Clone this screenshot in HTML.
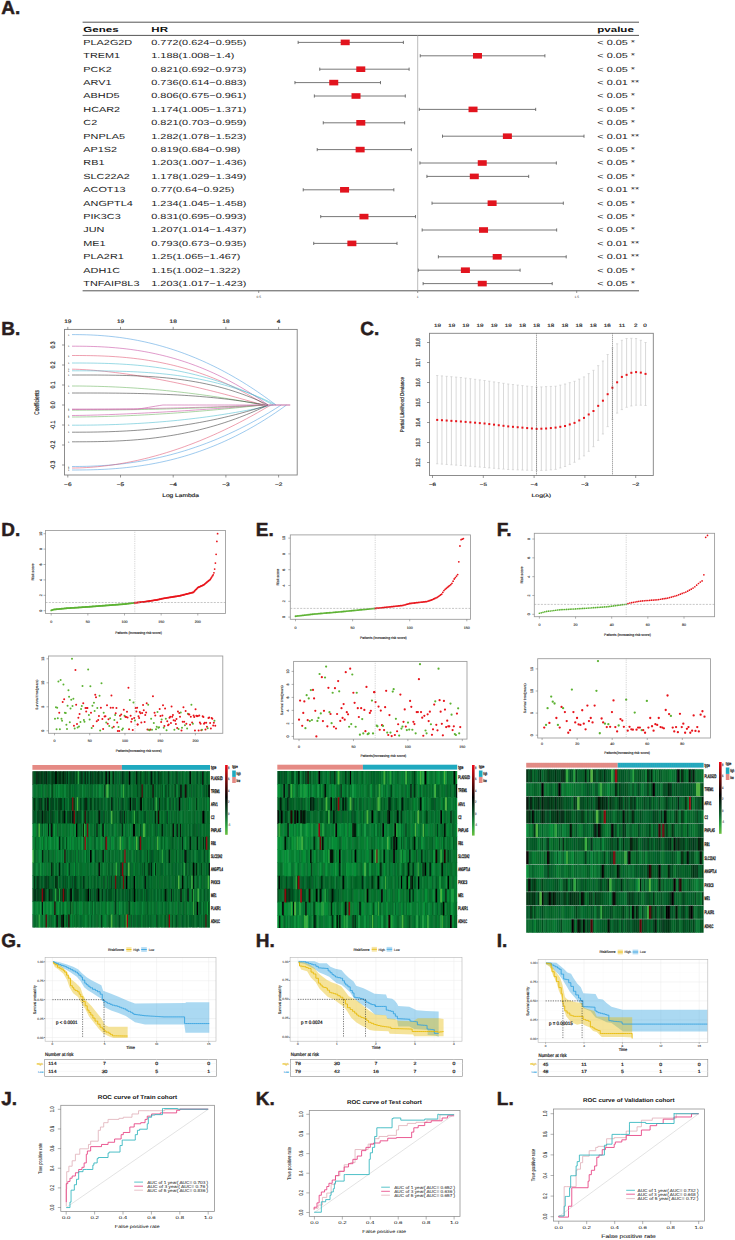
<!DOCTYPE html>
<html><head><meta charset="utf-8"><title>Figure</title>
<style>html,body{margin:0;padding:0;background:#fff;width:735px;height:1240px;overflow:hidden}
svg{display:block;font-family:"Liberation Sans",sans-serif;text-rendering:geometricPrecision}</style></head>
<body><svg width="735" height="1240" viewBox="0 0 735 1240">
<rect x="0" y="0" width="735" height="1240" fill="#fff"/>
<text transform="translate(1.3,13.6)" font-size="19" font-weight="bold" fill="#2a1d1d" stroke="#2a1d1d" stroke-width="0.45">A.</text>
<line x1="82.6" y1="22.2" x2="639" y2="22.2" stroke="#555" stroke-width="1" />
<line x1="82.6" y1="35.4" x2="639" y2="35.4" stroke="#555" stroke-width="1" />
<line x1="82.6" y1="290.8" x2="639" y2="290.8" stroke="#555" stroke-width="1" />
<line x1="417.7" y1="35.4" x2="417.7" y2="290.8" stroke="#aaa" stroke-width="0.8" />
<text transform="translate(83.3,31.9) scale(1.56,1)" font-size="7.4" font-weight="bold" fill="#111" >Genes</text>
<text transform="translate(151.3,31.9) scale(1.56,1)" font-size="7.4" font-weight="bold" fill="#111" >HR</text>
<text transform="translate(597.3,31.9) scale(1.56,1)" font-size="7.4" font-weight="bold" fill="#111" >pvalue</text>
<text transform="translate(83.3,44.85) scale(1.47,1)" font-size="7.4" fill="#222" >PLA2G2D</text>
<text transform="translate(151.3,44.85) scale(1.47,1)" font-size="7.4" fill="#222" >0.772(0.624−0.955)</text>
<text transform="translate(597.3,44.85) scale(1.47,1)" font-size="7.4" fill="#222" >&lt; 0.05 *</text>
<line x1="298.13" y1="42.4" x2="403.39" y2="42.4" stroke="#555" stroke-width="0.8" />
<line x1="298.13" y1="40.8" x2="298.13" y2="44" stroke="#555" stroke-width="0.8" />
<line x1="403.39" y1="40.8" x2="403.39" y2="44" stroke="#555" stroke-width="0.8" />
<rect x="340.7" y="39.6" width="9" height="5.6" fill="#e2141e" stroke="none" stroke-width="1" />
<text transform="translate(83.3,58.25) scale(1.47,1)" font-size="7.4" fill="#222" >TREM1</text>
<text transform="translate(151.3,58.25) scale(1.47,1)" font-size="7.4" fill="#222" >1.188(1.008−1.4)</text>
<text transform="translate(597.3,58.25) scale(1.47,1)" font-size="7.4" fill="#222" >&lt; 0.05 *</text>
<line x1="420.24" y1="55.8" x2="544.9" y2="55.8" stroke="#555" stroke-width="0.8" />
<line x1="420.24" y1="54.2" x2="420.24" y2="57.4" stroke="#555" stroke-width="0.8" />
<line x1="544.9" y1="54.2" x2="544.9" y2="57.4" stroke="#555" stroke-width="0.8" />
<rect x="472.98" y="53" width="9" height="5.6" fill="#e2141e" stroke="none" stroke-width="1" />
<text transform="translate(83.3,71.65) scale(1.47,1)" font-size="7.4" fill="#222" >PCK2</text>
<text transform="translate(151.3,71.65) scale(1.47,1)" font-size="7.4" fill="#222" >0.821(0.692−0.973)</text>
<text transform="translate(597.3,71.65) scale(1.47,1)" font-size="7.4" fill="#222" >&lt; 0.05 *</text>
<line x1="319.76" y1="69.2" x2="409.11" y2="69.2" stroke="#555" stroke-width="0.8" />
<line x1="319.76" y1="67.6" x2="319.76" y2="70.8" stroke="#555" stroke-width="0.8" />
<line x1="409.11" y1="67.6" x2="409.11" y2="70.8" stroke="#555" stroke-width="0.8" />
<rect x="356.28" y="66.4" width="9" height="5.6" fill="#e2141e" stroke="none" stroke-width="1" />
<text transform="translate(83.3,85.05) scale(1.47,1)" font-size="7.4" fill="#222" >ARV1</text>
<text transform="translate(151.3,85.05) scale(1.47,1)" font-size="7.4" fill="#222" >0.736(0.614−0.883)</text>
<text transform="translate(597.3,85.05) scale(1.47,1)" font-size="7.4" fill="#222" >&lt; 0.01 **</text>
<line x1="294.95" y1="82.6" x2="380.49" y2="82.6" stroke="#555" stroke-width="0.8" />
<line x1="294.95" y1="81" x2="294.95" y2="84.2" stroke="#555" stroke-width="0.8" />
<line x1="380.49" y1="81" x2="380.49" y2="84.2" stroke="#555" stroke-width="0.8" />
<rect x="329.25" y="79.8" width="9" height="5.6" fill="#e2141e" stroke="none" stroke-width="1" />
<text transform="translate(83.3,98.45) scale(1.47,1)" font-size="7.4" fill="#222" >ABHD5</text>
<text transform="translate(151.3,98.45) scale(1.47,1)" font-size="7.4" fill="#222" >0.806(0.675−0.961)</text>
<text transform="translate(597.3,98.45) scale(1.47,1)" font-size="7.4" fill="#222" >&lt; 0.05 *</text>
<line x1="314.35" y1="96" x2="405.3" y2="96" stroke="#555" stroke-width="0.8" />
<line x1="314.35" y1="94.4" x2="314.35" y2="97.6" stroke="#555" stroke-width="0.8" />
<line x1="405.3" y1="94.4" x2="405.3" y2="97.6" stroke="#555" stroke-width="0.8" />
<rect x="351.51" y="93.2" width="9" height="5.6" fill="#e2141e" stroke="none" stroke-width="1" />
<text transform="translate(83.3,111.85) scale(1.47,1)" font-size="7.4" fill="#222" >HCAR2</text>
<text transform="translate(151.3,111.85) scale(1.47,1)" font-size="7.4" fill="#222" >1.174(1.005−1.371)</text>
<text transform="translate(597.3,111.85) scale(1.47,1)" font-size="7.4" fill="#222" >&lt; 0.05 *</text>
<line x1="419.29" y1="109.4" x2="535.68" y2="109.4" stroke="#555" stroke-width="0.8" />
<line x1="419.29" y1="107.8" x2="419.29" y2="111" stroke="#555" stroke-width="0.8" />
<line x1="535.68" y1="107.8" x2="535.68" y2="111" stroke="#555" stroke-width="0.8" />
<rect x="468.53" y="106.6" width="9" height="5.6" fill="#e2141e" stroke="none" stroke-width="1" />
<text transform="translate(83.3,125.25) scale(1.47,1)" font-size="7.4" fill="#222" >C2</text>
<text transform="translate(151.3,125.25) scale(1.47,1)" font-size="7.4" fill="#222" >0.821(0.703−0.959)</text>
<text transform="translate(597.3,125.25) scale(1.47,1)" font-size="7.4" fill="#222" >&lt; 0.05 *</text>
<line x1="323.25" y1="122.8" x2="404.66" y2="122.8" stroke="#555" stroke-width="0.8" />
<line x1="323.25" y1="121.2" x2="323.25" y2="124.4" stroke="#555" stroke-width="0.8" />
<line x1="404.66" y1="121.2" x2="404.66" y2="124.4" stroke="#555" stroke-width="0.8" />
<rect x="356.28" y="120" width="9" height="5.6" fill="#e2141e" stroke="none" stroke-width="1" />
<text transform="translate(83.3,138.65) scale(1.47,1)" font-size="7.4" fill="#222" >PNPLA5</text>
<text transform="translate(151.3,138.65) scale(1.47,1)" font-size="7.4" fill="#222" >1.282(1.078−1.523)</text>
<text transform="translate(597.3,138.65) scale(1.47,1)" font-size="7.4" fill="#222" >&lt; 0.01 **</text>
<line x1="442.5" y1="136.2" x2="584.01" y2="136.2" stroke="#555" stroke-width="0.8" />
<line x1="442.5" y1="134.6" x2="442.5" y2="137.8" stroke="#555" stroke-width="0.8" />
<line x1="584.01" y1="134.6" x2="584.01" y2="137.8" stroke="#555" stroke-width="0.8" />
<rect x="502.88" y="133.4" width="9" height="5.6" fill="#e2141e" stroke="none" stroke-width="1" />
<text transform="translate(83.3,152.05) scale(1.47,1)" font-size="7.4" fill="#222" >AP1S2</text>
<text transform="translate(151.3,152.05) scale(1.47,1)" font-size="7.4" fill="#222" >0.819(0.684−0.98)</text>
<text transform="translate(597.3,152.05) scale(1.47,1)" font-size="7.4" fill="#222" >&lt; 0.05 *</text>
<line x1="317.21" y1="149.6" x2="411.34" y2="149.6" stroke="#555" stroke-width="0.8" />
<line x1="317.21" y1="148" x2="317.21" y2="151.2" stroke="#555" stroke-width="0.8" />
<line x1="411.34" y1="148" x2="411.34" y2="151.2" stroke="#555" stroke-width="0.8" />
<rect x="355.64" y="146.8" width="9" height="5.6" fill="#e2141e" stroke="none" stroke-width="1" />
<text transform="translate(83.3,165.45) scale(1.47,1)" font-size="7.4" fill="#222" >RB1</text>
<text transform="translate(151.3,165.45) scale(1.47,1)" font-size="7.4" fill="#222" >1.203(1.007−1.436)</text>
<text transform="translate(597.3,165.45) scale(1.47,1)" font-size="7.4" fill="#222" >&lt; 0.05 *</text>
<line x1="419.93" y1="163" x2="556.35" y2="163" stroke="#555" stroke-width="0.8" />
<line x1="419.93" y1="161.4" x2="419.93" y2="164.6" stroke="#555" stroke-width="0.8" />
<line x1="556.35" y1="161.4" x2="556.35" y2="164.6" stroke="#555" stroke-width="0.8" />
<rect x="477.75" y="160.2" width="9" height="5.6" fill="#e2141e" stroke="none" stroke-width="1" />
<text transform="translate(83.3,178.85) scale(1.47,1)" font-size="7.4" fill="#222" >SLC22A2</text>
<text transform="translate(151.3,178.85) scale(1.47,1)" font-size="7.4" fill="#222" >1.178(1.029−1.349)</text>
<text transform="translate(597.3,178.85) scale(1.47,1)" font-size="7.4" fill="#222" >&lt; 0.05 *</text>
<line x1="426.92" y1="176.4" x2="528.68" y2="176.4" stroke="#555" stroke-width="0.8" />
<line x1="426.92" y1="174.8" x2="426.92" y2="178" stroke="#555" stroke-width="0.8" />
<line x1="528.68" y1="174.8" x2="528.68" y2="178" stroke="#555" stroke-width="0.8" />
<rect x="469.8" y="173.6" width="9" height="5.6" fill="#e2141e" stroke="none" stroke-width="1" />
<text transform="translate(83.3,192.25) scale(1.47,1)" font-size="7.4" fill="#222" >ACOT13</text>
<text transform="translate(151.3,192.25) scale(1.47,1)" font-size="7.4" fill="#222" >0.77(0.64−0.925)</text>
<text transform="translate(597.3,192.25) scale(1.47,1)" font-size="7.4" fill="#222" >&lt; 0.01 **</text>
<line x1="303.22" y1="189.8" x2="393.85" y2="189.8" stroke="#555" stroke-width="0.8" />
<line x1="303.22" y1="188.2" x2="303.22" y2="191.4" stroke="#555" stroke-width="0.8" />
<line x1="393.85" y1="188.2" x2="393.85" y2="191.4" stroke="#555" stroke-width="0.8" />
<rect x="340.06" y="187" width="9" height="5.6" fill="#e2141e" stroke="none" stroke-width="1" />
<text transform="translate(83.3,205.65) scale(1.47,1)" font-size="7.4" fill="#222" >ANGPTL4</text>
<text transform="translate(151.3,205.65) scale(1.47,1)" font-size="7.4" fill="#222" >1.234(1.045−1.458)</text>
<text transform="translate(597.3,205.65) scale(1.47,1)" font-size="7.4" fill="#222" >&lt; 0.05 *</text>
<line x1="432.01" y1="203.2" x2="563.34" y2="203.2" stroke="#555" stroke-width="0.8" />
<line x1="432.01" y1="201.6" x2="432.01" y2="204.8" stroke="#555" stroke-width="0.8" />
<line x1="563.34" y1="201.6" x2="563.34" y2="204.8" stroke="#555" stroke-width="0.8" />
<rect x="487.61" y="200.4" width="9" height="5.6" fill="#e2141e" stroke="none" stroke-width="1" />
<text transform="translate(83.3,219.05) scale(1.47,1)" font-size="7.4" fill="#222" >PIK3C3</text>
<text transform="translate(151.3,219.05) scale(1.47,1)" font-size="7.4" fill="#222" >0.831(0.695−0.993)</text>
<text transform="translate(597.3,219.05) scale(1.47,1)" font-size="7.4" fill="#222" >&lt; 0.05 *</text>
<line x1="320.71" y1="216.6" x2="415.47" y2="216.6" stroke="#555" stroke-width="0.8" />
<line x1="320.71" y1="215" x2="320.71" y2="218.2" stroke="#555" stroke-width="0.8" />
<line x1="415.47" y1="215" x2="415.47" y2="218.2" stroke="#555" stroke-width="0.8" />
<rect x="359.46" y="213.8" width="9" height="5.6" fill="#e2141e" stroke="none" stroke-width="1" />
<text transform="translate(83.3,232.45) scale(1.47,1)" font-size="7.4" fill="#222" >JUN</text>
<text transform="translate(151.3,232.45) scale(1.47,1)" font-size="7.4" fill="#222" >1.207(1.014−1.437)</text>
<text transform="translate(597.3,232.45) scale(1.47,1)" font-size="7.4" fill="#222" >&lt; 0.05 *</text>
<line x1="422.15" y1="230" x2="556.67" y2="230" stroke="#555" stroke-width="0.8" />
<line x1="422.15" y1="228.4" x2="422.15" y2="231.6" stroke="#555" stroke-width="0.8" />
<line x1="556.67" y1="228.4" x2="556.67" y2="231.6" stroke="#555" stroke-width="0.8" />
<rect x="479.03" y="227.2" width="9" height="5.6" fill="#e2141e" stroke="none" stroke-width="1" />
<text transform="translate(83.3,245.85) scale(1.47,1)" font-size="7.4" fill="#222" >ME1</text>
<text transform="translate(151.3,245.85) scale(1.47,1)" font-size="7.4" fill="#222" >0.793(0.673−0.935)</text>
<text transform="translate(597.3,245.85) scale(1.47,1)" font-size="7.4" fill="#222" >&lt; 0.01 **</text>
<line x1="313.71" y1="243.4" x2="397.03" y2="243.4" stroke="#555" stroke-width="0.8" />
<line x1="313.71" y1="241.8" x2="313.71" y2="245" stroke="#555" stroke-width="0.8" />
<line x1="397.03" y1="241.8" x2="397.03" y2="245" stroke="#555" stroke-width="0.8" />
<rect x="347.37" y="240.6" width="9" height="5.6" fill="#e2141e" stroke="none" stroke-width="1" />
<text transform="translate(83.3,259.25) scale(1.47,1)" font-size="7.4" fill="#222" >PLA2R1</text>
<text transform="translate(151.3,259.25) scale(1.47,1)" font-size="7.4" fill="#222" >1.25(1.065−1.467)</text>
<text transform="translate(597.3,259.25) scale(1.47,1)" font-size="7.4" fill="#222" >&lt; 0.01 **</text>
<line x1="438.37" y1="256.8" x2="566.21" y2="256.8" stroke="#555" stroke-width="0.8" />
<line x1="438.37" y1="255.2" x2="438.37" y2="258.4" stroke="#555" stroke-width="0.8" />
<line x1="566.21" y1="255.2" x2="566.21" y2="258.4" stroke="#555" stroke-width="0.8" />
<rect x="492.7" y="254" width="9" height="5.6" fill="#e2141e" stroke="none" stroke-width="1" />
<text transform="translate(83.3,272.65) scale(1.47,1)" font-size="7.4" fill="#222" >ADH1C</text>
<text transform="translate(151.3,272.65) scale(1.47,1)" font-size="7.4" fill="#222" >1.15(1.002−1.322)</text>
<text transform="translate(597.3,272.65) scale(1.47,1)" font-size="7.4" fill="#222" >&lt; 0.05 *</text>
<line x1="418.34" y1="270.2" x2="520.1" y2="270.2" stroke="#555" stroke-width="0.8" />
<line x1="418.34" y1="268.6" x2="418.34" y2="271.8" stroke="#555" stroke-width="0.8" />
<line x1="520.1" y1="268.6" x2="520.1" y2="271.8" stroke="#555" stroke-width="0.8" />
<rect x="460.9" y="267.4" width="9" height="5.6" fill="#e2141e" stroke="none" stroke-width="1" />
<text transform="translate(83.3,286.05) scale(1.47,1)" font-size="7.4" fill="#222" >TNFAIP8L3</text>
<text transform="translate(151.3,286.05) scale(1.47,1)" font-size="7.4" fill="#222" >1.203(1.017−1.423)</text>
<text transform="translate(597.3,286.05) scale(1.47,1)" font-size="7.4" fill="#222" >&lt; 0.05 *</text>
<line x1="423.11" y1="283.6" x2="552.21" y2="283.6" stroke="#555" stroke-width="0.8" />
<line x1="423.11" y1="282" x2="423.11" y2="285.2" stroke="#555" stroke-width="0.8" />
<line x1="552.21" y1="282" x2="552.21" y2="285.2" stroke="#555" stroke-width="0.8" />
<rect x="477.75" y="280.8" width="9" height="5.6" fill="#e2141e" stroke="none" stroke-width="1" />
<line x1="258.7" y1="290.8" x2="258.7" y2="293" stroke="#555" stroke-width="0.6" />
<text transform="translate(258.7,298)" font-size="3.2" text-anchor="middle" fill="#444" >0.5</text>
<line x1="417.7" y1="290.8" x2="417.7" y2="293" stroke="#555" stroke-width="0.6" />
<text transform="translate(417.7,298)" font-size="3.2" text-anchor="middle" fill="#444" >1</text>
<line x1="576.7" y1="290.8" x2="576.7" y2="293" stroke="#555" stroke-width="0.6" />
<text transform="translate(576.7,298)" font-size="3.2" text-anchor="middle" fill="#444" >1.5</text>
<text transform="translate(1.3,334.5)" font-size="19" font-weight="bold" fill="#2a1d1d" stroke="#2a1d1d" stroke-width="0.45">B.</text>
<polyline points="72.02,334.6 75.65,334.61 79.29,334.65 82.92,334.71 86.56,334.81 90.2,334.94 93.83,335.12 97.47,335.32 101.11,335.57 104.74,335.86 108.38,336.19 112.02,336.55 115.65,336.97 119.29,337.42 122.92,337.92 126.56,338.47 130.2,339.06 133.83,339.69 137.47,340.38 141.11,341.11 144.74,341.88 148.38,342.71 152.01,343.58 155.65,344.51 159.29,345.48 162.92,346.5 166.56,347.57 170.2,348.7 173.83,349.87 177.47,351.09 181.11,352.37 184.74,353.7 188.38,355.08 192.01,356.52 195.65,358.01 199.29,359.55 202.92,361.14 206.56,362.79 210.2,364.5 213.83,366.25 217.47,368.07 221.1,369.93 224.74,371.86 228.38,373.84 232.01,375.87 235.65,377.97 239.29,380.11 242.92,382.32 246.56,384.58 250.19,386.9 253.83,389.28 257.47,391.71 261.1,394.21 264.74,396.76 268.38,399.37 272.01,402.03 275.65,404.76 275.97,405" fill="none" stroke="#4d9de0" stroke-width="0.55" />
<polyline points="72.02,346.2 75.65,346.2 79.29,346.22 82.92,346.26 86.56,346.31 90.2,346.4 93.83,346.5 97.47,346.64 101.11,346.8 104.74,347 108.38,347.23 112.02,347.5 115.65,347.8 119.29,348.14 122.92,348.51 126.56,348.93 130.2,349.39 133.83,349.88 137.47,350.43 141.11,351.01 144.74,351.64 148.38,352.32 152.01,353.04 155.65,353.81 159.29,354.63 162.92,355.5 166.56,356.42 170.2,357.38 173.83,358.4 177.47,359.48 181.11,360.6 184.74,361.78 188.38,363.01 192.01,364.3 195.65,365.65 199.29,367.05 202.92,368.51 206.56,370.02 210.2,371.6 213.83,373.23 217.47,374.92 221.1,376.68 224.74,378.49 228.38,380.37 232.01,382.31 235.65,384.31 239.29,386.37 242.92,388.5 246.56,390.69 250.19,392.95 253.83,395.27 257.47,397.66 261.1,400.12 264.74,402.64 268.06,405" fill="none" stroke="#c7479f" stroke-width="0.55" />
<polyline points="72.02,355.5 75.65,355.5 79.29,355.51 82.92,355.54 86.56,355.58 90.2,355.63 93.83,355.71 97.47,355.81 101.11,355.93 104.74,356.08 108.38,356.26 112.02,356.46 115.65,356.7 119.29,356.96 122.92,357.26 126.56,357.59 130.2,357.96 133.83,358.36 137.47,358.8 141.11,359.28 144.74,359.79 148.38,360.35 152.01,360.95 155.65,361.59 159.29,362.27 162.92,363 166.56,363.77 170.2,364.59 173.83,365.45 177.47,366.37 181.11,367.33 184.74,368.34 188.38,369.4 192.01,370.51 195.65,371.67 199.29,372.89 202.92,374.16 206.56,375.48 210.2,376.86 213.83,378.29 217.47,379.78 221.1,381.32 224.74,382.93 228.38,384.59 232.01,386.31 235.65,388.09 239.29,389.93 242.92,391.83 246.56,393.8 250.19,395.82 253.83,397.91 257.47,400.06 261.1,402.28 264.74,404.56 265.43,405" fill="none" stroke="#e0506e" stroke-width="0.55" />
<polyline points="72.02,363 75.65,363 79.29,363.01 82.92,363.02 86.56,363.05 90.2,363.08 93.83,363.13 97.47,363.19 101.11,363.27 104.74,363.37 108.38,363.49 112.02,363.63 115.65,363.79 119.29,363.97 122.92,364.18 126.56,364.41 130.2,364.67 133.83,364.95 137.47,365.26 141.11,365.6 144.74,365.98 148.38,366.38 152.01,366.81 155.65,367.28 159.29,367.78 162.92,368.32 166.56,368.89 170.2,369.49 173.83,370.14 177.47,370.82 181.11,371.54 184.74,372.3 188.38,373.1 192.01,373.94 195.65,374.82 199.29,375.75 202.92,376.72 206.56,377.73 210.2,378.79 213.83,379.89 217.47,381.04 221.1,382.24 224.74,383.48 228.38,384.77 232.01,386.11 235.65,387.5 239.29,388.95 242.92,390.44 246.56,391.98 250.19,393.58 253.83,395.23 257.47,396.93 261.1,398.69 264.74,400.5 268.38,402.37 272.01,404.29 273.33,405" fill="none" stroke="#45bcd0" stroke-width="0.55" />
<polyline points="72.02,369.2 75.65,369.26 79.29,369.39 82.92,369.57 86.56,369.78 90.2,370.03 93.83,370.31 97.47,370.63 101.11,370.97 104.74,371.33 108.38,371.72 112.02,372.14 115.65,372.58 119.29,373.04 122.92,373.52 126.56,374.03 130.2,374.55 133.83,375.1 137.47,375.66 141.11,376.25 144.74,376.85 148.38,377.47 152.01,378.11 155.65,378.77 159.29,379.44 162.92,380.13 166.56,380.84 170.2,381.57 173.83,382.31 177.47,383.07 181.11,383.84 184.74,384.63 188.38,385.43 192.01,386.25 195.65,387.08 199.29,387.93 202.92,388.8 206.56,389.68 210.2,390.57 213.83,391.47 217.47,392.4 221.1,393.33 224.74,394.28 228.38,395.24 232.01,396.22 235.65,397.21 239.29,398.21 242.92,399.22 246.56,400.25 250.19,401.29 253.83,402.35 257.47,403.42 261.1,404.5 262.79,405" fill="none" stroke="#e0506e" stroke-width="0.55" />
<polyline points="72.02,370.8 75.65,370.8 79.29,370.8 82.92,370.81 86.56,370.81 90.2,370.82 93.83,370.84 97.47,370.87 101.11,370.9 104.74,370.94 108.38,370.99 112.02,371.06 115.65,371.13 119.29,371.23 122.92,371.33 126.56,371.45 130.2,371.59 133.83,371.75 137.47,371.93 141.11,372.13 144.74,372.35 148.38,372.6 152.01,372.86 155.65,373.16 159.29,373.48 162.92,373.83 166.56,374.21 170.2,374.62 173.83,375.06 177.47,375.53 181.11,376.03 184.74,376.57 188.38,377.15 192.01,377.77 195.65,378.42 199.29,379.11 202.92,379.84 206.56,380.62 210.2,381.44 213.83,382.3 217.47,383.21 221.1,384.16 224.74,385.16 228.38,386.21 232.01,387.31 235.65,388.46 239.29,389.67 242.92,390.92 246.56,392.24 250.19,393.6 253.83,395.03 257.47,396.51 261.1,398.06 264.74,399.66 268.38,401.32 272.01,403.05 275.65,404.84 275.97,405" fill="none" stroke="#45bcd0" stroke-width="0.55" />
<polyline points="72.02,375 75.65,375 79.29,375 82.92,375 86.56,375.01 90.2,375.01 93.83,375.03 97.47,375.04 101.11,375.07 104.74,375.1 108.38,375.14 112.02,375.19 115.65,375.24 119.29,375.32 122.92,375.4 126.56,375.5 130.2,375.62 133.83,375.75 137.47,375.9 141.11,376.07 144.74,376.26 148.38,376.47 152.01,376.7 155.65,376.96 159.29,377.25 162.92,377.57 166.56,377.91 170.2,378.28 173.83,378.69 177.47,379.12 181.11,379.6 184.74,380.11 188.38,380.65 192.01,381.24 195.65,381.86 199.29,382.53 202.92,383.24 206.56,383.99 210.2,384.8 213.83,385.64 217.47,386.54 221.1,387.49 224.74,388.49 228.38,389.55 232.01,390.66 235.65,391.83 239.29,393.05 242.92,394.34 246.56,395.69 250.19,397.1 253.83,398.57 257.47,400.11 261.1,401.72 264.74,403.4 268.06,405" fill="none" stroke="#333" stroke-width="0.55" />
<polyline points="72.02,386 75.65,386.01 79.29,386.03 82.92,386.06 86.56,386.11 90.2,386.17 93.83,386.25 97.47,386.34 101.11,386.44 104.74,386.56 108.38,386.69 112.02,386.84 115.65,386.99 119.29,387.17 122.92,387.35 126.56,387.55 130.2,387.77 133.83,387.99 137.47,388.24 141.11,388.49 144.74,388.76 148.38,389.04 152.01,389.34 155.65,389.65 159.29,389.98 162.92,390.31 166.56,390.67 170.2,391.03 173.83,391.41 177.47,391.81 181.11,392.21 184.74,392.63 188.38,393.07 192.01,393.52 195.65,393.98 199.29,394.46 202.92,394.95 206.56,395.45 210.2,395.97 213.83,396.5 217.47,397.04 221.1,397.6 224.74,398.18 228.38,398.76 232.01,399.36 235.65,399.98 239.29,400.61 242.92,401.25 246.56,401.9 250.19,402.57 253.83,403.26 257.47,403.95 261.1,404.67 262.79,405" fill="none" stroke="#66b25a" stroke-width="0.55" />
<polyline points="72.02,393 75.65,393 79.29,393 82.92,393 86.56,393.01 90.2,393.01 93.83,393.02 97.47,393.03 101.11,393.04 104.74,393.06 108.38,393.08 112.02,393.11 115.65,393.14 119.29,393.18 122.92,393.22 126.56,393.27 130.2,393.33 133.83,393.39 137.47,393.47 141.11,393.55 144.74,393.64 148.38,393.74 152.01,393.85 155.65,393.97 159.29,394.1 162.92,394.25 166.56,394.4 170.2,394.57 173.83,394.75 177.47,394.95 181.11,395.15 184.74,395.38 188.38,395.61 192.01,395.87 195.65,396.13 199.29,396.42 202.92,396.72 206.56,397.04 210.2,397.38 213.83,397.73 217.47,398.1 221.1,398.5 224.74,398.91 228.38,399.34 232.01,399.79 235.65,400.27 239.29,400.76 242.92,401.28 246.56,401.82 250.19,402.38 253.83,402.97 257.47,403.58 261.1,404.21 264.74,404.87 265.43,405" fill="none" stroke="#333" stroke-width="0.55" />
<polyline points="72.02,409.2 75.65,409.2 79.29,409.19 82.92,409.19 86.56,409.18 90.2,409.16 93.83,409.15 97.47,409.13 101.11,409.1 104.74,409.08 108.38,409.05 112.02,409.02 115.65,408.98 119.29,408.94 122.92,408.9 126.56,408.86 130.2,408.81 133.83,408.76 137.47,408.71 141.11,408.65 144.74,408.59 148.38,408.53 152.01,408.46 155.65,408.39 159.29,408.32 162.92,408.25 166.56,408.17 170.2,408.09 173.83,408 177.47,407.92 181.11,407.83 184.74,407.73 188.38,407.64 192.01,407.54 195.65,407.44 199.29,407.33 202.92,407.22 206.56,407.11 210.2,407 213.83,406.88 217.47,406.76 221.1,406.63 224.74,406.51 228.38,406.38 232.01,406.25 235.65,406.11 239.29,405.97 242.92,405.83 246.56,405.68 250.19,405.54 253.83,405.39 257.47,405.23 261.1,405.07 262.79,405" fill="none" stroke="#c7479f" stroke-width="0.55" />
<polyline points="72.02,410.2 75.65,410.2 79.29,410.19 82.92,410.18 86.56,410.17 90.2,410.15 93.83,410.13 97.47,410.11 101.11,410.08 104.74,410.05 108.38,410.02 112.02,409.98 115.65,409.94 119.29,409.89 122.92,409.84 126.56,409.79 130.2,409.73 133.83,409.67 137.47,409.6 141.11,409.54 144.74,409.46 148.38,409.39 152.01,409.31 155.65,409.23 159.29,409.14 162.92,409.05 166.56,408.96 170.2,408.86 173.83,408.76 177.47,408.65 181.11,408.55 184.74,408.43 188.38,408.32 192.01,408.2 195.65,408.08 199.29,407.95 202.92,407.82 206.56,407.68 210.2,407.55 213.83,407.4 217.47,407.26 221.1,407.11 224.74,406.96 228.38,406.8 232.01,406.64 235.65,406.48 239.29,406.31 242.92,406.14 246.56,405.97 250.19,405.79 253.83,405.6 257.47,405.42 261.1,405.23 264.74,405.04 265.43,405" fill="none" stroke="#66b25a" stroke-width="0.55" />
<polyline points="72.02,415.5 75.65,415.47 79.29,415.42 82.92,415.36 86.56,415.28 90.2,415.19 93.83,415.09 97.47,414.99 101.11,414.87 104.74,414.75 108.38,414.63 112.02,414.49 115.65,414.35 119.29,414.2 122.92,414.05 126.56,413.89 130.2,413.73 133.83,413.56 137.47,413.39 141.11,413.21 144.74,413.03 148.38,412.84 152.01,412.65 155.65,412.45 159.29,412.25 162.92,412.05 166.56,411.84 170.2,411.62 173.83,411.41 177.47,411.18 181.11,410.96 184.74,410.73 188.38,410.5 192.01,410.26 195.65,410.02 199.29,409.78 202.92,409.53 206.56,409.28 210.2,409.03 213.83,408.77 217.47,408.51 221.1,408.25 224.74,407.98 228.38,407.71 232.01,407.44 235.65,407.16 239.29,406.88 242.92,406.6 246.56,406.31 250.19,406.02 253.83,405.73 257.47,405.44 261.1,405.14 262.79,405" fill="none" stroke="#c7479f" stroke-width="0.55" />
<polyline points="72.02,417 75.65,416.99 79.29,416.97 82.92,416.93 86.56,416.88 90.2,416.83 93.83,416.76 97.47,416.68 101.11,416.59 104.74,416.5 108.38,416.39 112.02,416.28 115.65,416.16 119.29,416.03 122.92,415.89 126.56,415.74 130.2,415.58 133.83,415.42 137.47,415.25 141.11,415.07 144.74,414.89 148.38,414.69 152.01,414.49 155.65,414.28 159.29,414.06 162.92,413.84 166.56,413.61 170.2,413.37 173.83,413.12 177.47,412.87 181.11,412.61 184.74,412.35 188.38,412.07 192.01,411.79 195.65,411.5 199.29,411.21 202.92,410.91 206.56,410.6 210.2,410.29 213.83,409.96 217.47,409.64 221.1,409.3 224.74,408.96 228.38,408.61 232.01,408.26 235.65,407.9 239.29,407.53 242.92,407.16 246.56,406.77 250.19,406.39 253.83,406 257.47,405.6 261.1,405.19 262.79,405" fill="none" stroke="#66b25a" stroke-width="0.55" />
<polyline points="72.02,425.2 75.65,425.2 79.29,425.19 82.92,425.17 86.56,425.14 90.2,425.1 93.83,425.05 97.47,424.99 101.11,424.91 104.74,424.83 108.38,424.73 112.02,424.62 115.65,424.5 119.29,424.37 122.92,424.22 126.56,424.06 130.2,423.88 133.83,423.7 137.47,423.49 141.11,423.28 144.74,423.05 148.38,422.81 152.01,422.55 155.65,422.28 159.29,421.99 162.92,421.69 166.56,421.37 170.2,421.04 173.83,420.69 177.47,420.33 181.11,419.95 184.74,419.56 188.38,419.15 192.01,418.73 195.65,418.29 199.29,417.83 202.92,417.36 206.56,416.88 210.2,416.37 213.83,415.85 217.47,415.32 221.1,414.77 224.74,414.2 228.38,413.61 232.01,413.01 235.65,412.4 239.29,411.76 242.92,411.11 246.56,410.44 250.19,409.76 253.83,409.06 257.47,408.34 261.1,407.6 264.74,406.85 268.38,406.08 272.01,405.29 273.33,405" fill="none" stroke="#45bcd0" stroke-width="0.55" />
<polyline points="72.02,432.2 75.65,432.2 79.29,432.19 82.92,432.17 86.56,432.15 90.2,432.11 93.83,432.06 97.47,432 101.11,431.92 104.74,431.83 108.38,431.72 112.02,431.6 115.65,431.46 119.29,431.3 122.92,431.13 126.56,430.94 130.2,430.73 133.83,430.5 137.47,430.24 141.11,429.97 144.74,429.68 148.38,429.37 152.01,429.04 155.65,428.68 159.29,428.3 162.92,427.9 166.56,427.47 170.2,427.03 173.83,426.55 177.47,426.06 181.11,425.54 184.74,424.99 188.38,424.42 192.01,423.83 195.65,423.2 199.29,422.56 202.92,421.88 206.56,421.18 210.2,420.45 213.83,419.7 217.47,418.91 221.1,418.1 224.74,417.26 228.38,416.39 232.01,415.5 235.65,414.57 239.29,413.62 242.92,412.63 246.56,411.62 250.19,410.57 253.83,409.5 257.47,408.39 261.1,407.26 264.74,406.09 268.06,405" fill="none" stroke="#333" stroke-width="0.55" />
<polyline points="72.02,441.8 75.65,441.8 79.29,441.79 82.92,441.78 86.56,441.76 90.2,441.72 93.83,441.68 97.47,441.62 101.11,441.54 104.74,441.45 108.38,441.34 112.02,441.21 115.65,441.06 119.29,440.89 122.92,440.69 126.56,440.48 130.2,440.24 133.83,439.97 137.47,439.68 141.11,439.36 144.74,439.01 148.38,438.63 152.01,438.22 155.65,437.78 159.29,437.31 162.92,436.81 166.56,436.27 170.2,435.7 173.83,435.1 177.47,434.46 181.11,433.78 184.74,433.07 188.38,432.32 192.01,431.53 195.65,430.7 199.29,429.83 202.92,428.92 206.56,427.97 210.2,426.98 213.83,425.94 217.47,424.86 221.1,423.74 224.74,422.57 228.38,421.36 232.01,420.1 235.65,418.8 239.29,417.44 242.92,416.04 246.56,414.59 250.19,413.1 253.83,411.55 257.47,409.95 261.1,408.3 264.74,406.6 268.06,405" fill="none" stroke="#333" stroke-width="0.55" />
<polyline points="72.02,466.5 75.65,466.49 79.29,466.46 82.92,466.41 86.56,466.33 90.2,466.22 93.83,466.07 97.47,465.9 101.11,465.7 104.74,465.46 108.38,465.19 112.02,464.89 115.65,464.54 119.29,464.17 122.92,463.76 126.56,463.31 130.2,462.82 133.83,462.29 137.47,461.73 141.11,461.13 144.74,460.48 148.38,459.8 152.01,459.08 155.65,458.32 159.29,457.52 162.92,456.67 166.56,455.79 170.2,454.86 173.83,453.89 177.47,452.88 181.11,451.82 184.74,450.72 188.38,449.58 192.01,448.4 195.65,447.17 199.29,445.9 202.92,444.58 206.56,443.22 210.2,441.81 213.83,440.36 217.47,438.86 221.1,437.32 224.74,435.73 228.38,434.09 232.01,432.41 235.65,430.68 239.29,428.91 242.92,427.09 246.56,425.22 250.19,423.3 253.83,421.34 257.47,419.33 261.1,417.27 264.74,415.17 268.38,413.01 272.01,410.81 275.65,408.55 279.29,406.25 281.24,405" fill="none" stroke="#4d9de0" stroke-width="0.55" />
<polyline points="72.02,468 75.65,467.97 79.29,467.88 82.92,467.75 86.56,467.56 90.2,467.33 93.83,467.05 97.47,466.73 101.11,466.36 104.74,465.95 108.38,465.5 112.02,465 115.65,464.46 119.29,463.88 122.92,463.26 126.56,462.6 130.2,461.89 133.83,461.15 137.47,460.36 141.11,459.53 144.74,458.67 148.38,457.76 152.01,456.81 155.65,455.83 159.29,454.8 162.92,453.74 166.56,452.63 170.2,451.49 173.83,450.31 177.47,449.09 181.11,447.83 184.74,446.54 188.38,445.2 192.01,443.83 195.65,442.42 199.29,440.97 202.92,439.48 206.56,437.96 210.2,436.4 213.83,434.8 217.47,433.16 221.1,431.49 224.74,429.78 228.38,428.03 232.01,426.25 235.65,424.43 239.29,422.57 242.92,420.67 246.56,418.74 250.19,416.78 253.83,414.77 257.47,412.73 261.1,410.65 264.74,408.54 268.38,406.39 270.69,405" fill="none" stroke="#e0506e" stroke-width="0.55" />
<polyline points="72.02,470 75.65,470 79.29,469.98 82.92,469.95 86.56,469.9 90.2,469.83 93.83,469.73 97.47,469.61 101.11,469.46 104.74,469.29 108.38,469.08 112.02,468.85 115.65,468.58 119.29,468.28 122.92,467.94 126.56,467.57 130.2,467.16 133.83,466.72 137.47,466.23 141.11,465.71 144.74,465.15 148.38,464.55 152.01,463.91 155.65,463.22 159.29,462.49 162.92,461.72 166.56,460.9 170.2,460.04 173.83,459.13 177.47,458.17 181.11,457.17 184.74,456.12 188.38,455.02 192.01,453.87 195.65,452.67 199.29,451.43 202.92,450.13 206.56,448.78 210.2,447.37 213.83,445.92 217.47,444.41 221.1,442.85 224.74,441.23 228.38,439.56 232.01,437.83 235.65,436.05 239.29,434.21 242.92,432.32 246.56,430.36 250.19,428.35 253.83,426.28 257.47,424.15 261.1,421.97 264.74,419.72 268.38,417.41 272.01,415.05 275.65,412.62 279.29,410.13 282.92,407.58 286.51,405" fill="none" stroke="#4d9de0" stroke-width="0.55" />
<line x1="262.79" y1="405" x2="290.19" y2="405" stroke="#b07090" stroke-width="0.55" />
<polyline points="72.02,409.4 75.65,409.4 79.29,409.4 82.92,409.4 86.56,409.4 90.2,409.4 93.83,409.4 97.47,409.4 101.11,409.4 104.74,409.4 108.38,409.4 112.02,409.4 115.65,409.4 119.29,409.4 122.92,409.4 126.56,409.4 130.2,409.4 133.83,409.4 137.47,409.21 141.11,408.6 144.74,407.99 148.38,407.38 152.01,406.78 155.65,406.17 159.29,405.56 162.92,405 166.56,405 170.2,405 173.83,405 177.47,405 181.11,405 184.74,405 188.38,405 192.01,405 195.65,405 199.29,405 202.92,405 206.56,405 210.2,405 213.83,405 217.47,405 221.1,405 224.74,405 228.38,405 232.01,405 235.65,405 239.29,405 242.92,405 246.56,405 250.19,405 253.83,405 257.47,405 261.1,405 264.74,405 268.38,405 272.01,405 275.65,405 279.29,405 282.92,405 286.56,405 290.19,405" fill="none" stroke="#d070b0" stroke-width="0.7" />
<rect x="64.5" y="329.4" width="232.7" height="145.6" fill="none" stroke="#808080" stroke-width="0.9" />
<line x1="67.8" y1="475" x2="67.8" y2="477.5" stroke="#555" stroke-width="0.6" />
<text transform="translate(67.8,486.3) scale(1.28,1)" font-size="5.1" text-anchor="middle" fill="#222" stroke="#222" stroke-width="0.16" >−6</text>
<line x1="120.5" y1="475" x2="120.5" y2="477.5" stroke="#555" stroke-width="0.6" />
<text transform="translate(120.5,486.3) scale(1.28,1)" font-size="5.1" text-anchor="middle" fill="#222" stroke="#222" stroke-width="0.16" >−5</text>
<line x1="173.2" y1="475" x2="173.2" y2="477.5" stroke="#555" stroke-width="0.6" />
<text transform="translate(173.2,486.3) scale(1.28,1)" font-size="5.1" text-anchor="middle" fill="#222" stroke="#222" stroke-width="0.16" >−4</text>
<line x1="225.9" y1="475" x2="225.9" y2="477.5" stroke="#555" stroke-width="0.6" />
<text transform="translate(225.9,486.3) scale(1.28,1)" font-size="5.1" text-anchor="middle" fill="#222" stroke="#222" stroke-width="0.16" >−3</text>
<line x1="278.6" y1="475" x2="278.6" y2="477.5" stroke="#555" stroke-width="0.6" />
<text transform="translate(278.6,486.3) scale(1.28,1)" font-size="5.1" text-anchor="middle" fill="#222" stroke="#222" stroke-width="0.16" >−2</text>
<line x1="67.8" y1="329.4" x2="67.8" y2="326.9" stroke="#555" stroke-width="0.6" />
<text transform="translate(67.8,323) scale(1.28,1)" font-size="5.1" text-anchor="middle" fill="#222" stroke="#222" stroke-width="0.16" >19</text>
<line x1="120.5" y1="329.4" x2="120.5" y2="326.9" stroke="#555" stroke-width="0.6" />
<text transform="translate(120.5,323) scale(1.28,1)" font-size="5.1" text-anchor="middle" fill="#222" stroke="#222" stroke-width="0.16" >19</text>
<line x1="173.2" y1="329.4" x2="173.2" y2="326.9" stroke="#555" stroke-width="0.6" />
<text transform="translate(173.2,323) scale(1.28,1)" font-size="5.1" text-anchor="middle" fill="#222" stroke="#222" stroke-width="0.16" >18</text>
<line x1="225.9" y1="329.4" x2="225.9" y2="326.9" stroke="#555" stroke-width="0.6" />
<text transform="translate(225.9,323) scale(1.28,1)" font-size="5.1" text-anchor="middle" fill="#222" stroke="#222" stroke-width="0.16" >18</text>
<line x1="278.6" y1="329.4" x2="278.6" y2="326.9" stroke="#555" stroke-width="0.6" />
<text transform="translate(278.6,323) scale(1.28,1)" font-size="5.1" text-anchor="middle" fill="#222" stroke="#222" stroke-width="0.16" >4</text>
<line x1="64.5" y1="345" x2="62" y2="345" stroke="#555" stroke-width="0.6" />
<text transform="translate(55.1,345) scale(1.28,1) rotate(-90)" font-size="5.1" text-anchor="middle" fill="#222" stroke="#222" stroke-width="0.16" >0.3</text>
<line x1="64.5" y1="365" x2="62" y2="365" stroke="#555" stroke-width="0.6" />
<text transform="translate(55.1,365) scale(1.28,1) rotate(-90)" font-size="5.1" text-anchor="middle" fill="#222" stroke="#222" stroke-width="0.16" >0.2</text>
<line x1="64.5" y1="385" x2="62" y2="385" stroke="#555" stroke-width="0.6" />
<text transform="translate(55.1,385) scale(1.28,1) rotate(-90)" font-size="5.1" text-anchor="middle" fill="#222" stroke="#222" stroke-width="0.16" >0.1</text>
<line x1="64.5" y1="405" x2="62" y2="405" stroke="#555" stroke-width="0.6" />
<text transform="translate(55.1,405) scale(1.28,1) rotate(-90)" font-size="5.1" text-anchor="middle" fill="#222" stroke="#222" stroke-width="0.16" >0.0</text>
<line x1="64.5" y1="425" x2="62" y2="425" stroke="#555" stroke-width="0.6" />
<text transform="translate(55.1,425) scale(1.28,1) rotate(-90)" font-size="5.1" text-anchor="middle" fill="#222" stroke="#222" stroke-width="0.16" >-0.1</text>
<line x1="64.5" y1="445" x2="62" y2="445" stroke="#555" stroke-width="0.6" />
<text transform="translate(55.1,445) scale(1.28,1) rotate(-90)" font-size="5.1" text-anchor="middle" fill="#222" stroke="#222" stroke-width="0.16" >-0.2</text>
<line x1="64.5" y1="465" x2="62" y2="465" stroke="#555" stroke-width="0.6" />
<text transform="translate(55.1,465) scale(1.28,1) rotate(-90)" font-size="5.1" text-anchor="middle" fill="#222" stroke="#222" stroke-width="0.16" >-0.3</text>
<text transform="translate(38.9,402.4) scale(1.4,1) rotate(-90)" font-size="4.8" text-anchor="middle" fill="#222" stroke="#222" stroke-width="0.14"  textLength="24.8" lengthAdjust="spacingAndGlyphs">Coefficients</text>
<text transform="translate(180.6,497) scale(1.28,1)" font-size="5.1" text-anchor="middle" fill="#222" stroke="#222" stroke-width="0.16"  textLength="28.67" lengthAdjust="spacingAndGlyphs">Log Lambda</text>
<text transform="translate(68.5,335.6)" font-size="2.2" text-anchor="middle" fill="#777" stroke="#777" stroke-width="0.09" >1</text>
<text transform="translate(68.5,347.2)" font-size="2.2" text-anchor="middle" fill="#777" stroke="#777" stroke-width="0.09" >1</text>
<text transform="translate(68.5,356.5)" font-size="2.2" text-anchor="middle" fill="#777" stroke="#777" stroke-width="0.09" >1</text>
<text transform="translate(68.5,364)" font-size="2.2" text-anchor="middle" fill="#777" stroke="#777" stroke-width="0.09" >1</text>
<text transform="translate(68.5,370.2)" font-size="2.2" text-anchor="middle" fill="#777" stroke="#777" stroke-width="0.09" >1</text>
<text transform="translate(68.5,371.8)" font-size="2.2" text-anchor="middle" fill="#777" stroke="#777" stroke-width="0.09" >1</text>
<text transform="translate(68.5,376)" font-size="2.2" text-anchor="middle" fill="#777" stroke="#777" stroke-width="0.09" >1</text>
<text transform="translate(68.5,387)" font-size="2.2" text-anchor="middle" fill="#777" stroke="#777" stroke-width="0.09" >1</text>
<text transform="translate(68.5,394)" font-size="2.2" text-anchor="middle" fill="#777" stroke="#777" stroke-width="0.09" >1</text>
<text transform="translate(68.5,410.2)" font-size="2.2" text-anchor="middle" fill="#777" stroke="#777" stroke-width="0.09" >1</text>
<text transform="translate(68.5,411.2)" font-size="2.2" text-anchor="middle" fill="#777" stroke="#777" stroke-width="0.09" >1</text>
<text transform="translate(68.5,416.5)" font-size="2.2" text-anchor="middle" fill="#777" stroke="#777" stroke-width="0.09" >1</text>
<text transform="translate(68.5,418)" font-size="2.2" text-anchor="middle" fill="#777" stroke="#777" stroke-width="0.09" >1</text>
<text transform="translate(68.5,426.2)" font-size="2.2" text-anchor="middle" fill="#777" stroke="#777" stroke-width="0.09" >1</text>
<text transform="translate(68.5,433.2)" font-size="2.2" text-anchor="middle" fill="#777" stroke="#777" stroke-width="0.09" >1</text>
<text transform="translate(68.5,442.8)" font-size="2.2" text-anchor="middle" fill="#777" stroke="#777" stroke-width="0.09" >1</text>
<text transform="translate(68.5,467.5)" font-size="2.2" text-anchor="middle" fill="#777" stroke="#777" stroke-width="0.09" >1</text>
<text transform="translate(68.5,469)" font-size="2.2" text-anchor="middle" fill="#777" stroke="#777" stroke-width="0.09" >1</text>
<text transform="translate(68.5,471)" font-size="2.2" text-anchor="middle" fill="#777" stroke="#777" stroke-width="0.09" >1</text>
<text transform="translate(360.3,334.5)" font-size="19" font-weight="bold" fill="#2a1d1d" stroke="#2a1d1d" stroke-width="0.45">C.</text>
<line x1="437.2" y1="375.5" x2="437.2" y2="463.8" stroke="#c8c8c8" stroke-width="0.7" />
<line x1="436.1" y1="375.5" x2="438.3" y2="375.5" stroke="#c8c8c8" stroke-width="0.6" />
<line x1="436.1" y1="463.8" x2="438.3" y2="463.8" stroke="#c8c8c8" stroke-width="0.6" />
<line x1="441.94" y1="375.9" x2="441.94" y2="464.14" stroke="#c8c8c8" stroke-width="0.7" />
<line x1="440.83" y1="375.9" x2="443.04" y2="375.9" stroke="#c8c8c8" stroke-width="0.6" />
<line x1="440.83" y1="464.14" x2="443.04" y2="464.14" stroke="#c8c8c8" stroke-width="0.6" />
<line x1="446.67" y1="376.3" x2="446.67" y2="464.48" stroke="#c8c8c8" stroke-width="0.7" />
<line x1="445.57" y1="376.3" x2="447.77" y2="376.3" stroke="#c8c8c8" stroke-width="0.6" />
<line x1="445.57" y1="464.48" x2="447.77" y2="464.48" stroke="#c8c8c8" stroke-width="0.6" />
<line x1="451.4" y1="376.7" x2="451.4" y2="464.82" stroke="#c8c8c8" stroke-width="0.7" />
<line x1="450.3" y1="376.7" x2="452.5" y2="376.7" stroke="#c8c8c8" stroke-width="0.6" />
<line x1="450.3" y1="464.82" x2="452.5" y2="464.82" stroke="#c8c8c8" stroke-width="0.6" />
<line x1="456.14" y1="377.1" x2="456.14" y2="465.16" stroke="#c8c8c8" stroke-width="0.7" />
<line x1="455.04" y1="377.1" x2="457.24" y2="377.1" stroke="#c8c8c8" stroke-width="0.6" />
<line x1="455.04" y1="465.16" x2="457.24" y2="465.16" stroke="#c8c8c8" stroke-width="0.6" />
<line x1="460.88" y1="377.5" x2="460.88" y2="465.5" stroke="#c8c8c8" stroke-width="0.7" />
<line x1="459.77" y1="377.5" x2="461.98" y2="377.5" stroke="#c8c8c8" stroke-width="0.6" />
<line x1="459.77" y1="465.5" x2="461.98" y2="465.5" stroke="#c8c8c8" stroke-width="0.6" />
<line x1="465.61" y1="378.1" x2="465.61" y2="465.9" stroke="#c8c8c8" stroke-width="0.7" />
<line x1="464.51" y1="378.1" x2="466.71" y2="378.1" stroke="#c8c8c8" stroke-width="0.6" />
<line x1="464.51" y1="465.9" x2="466.71" y2="465.9" stroke="#c8c8c8" stroke-width="0.6" />
<line x1="470.34" y1="378.7" x2="470.34" y2="466.3" stroke="#c8c8c8" stroke-width="0.7" />
<line x1="469.24" y1="378.7" x2="471.44" y2="378.7" stroke="#c8c8c8" stroke-width="0.6" />
<line x1="469.24" y1="466.3" x2="471.44" y2="466.3" stroke="#c8c8c8" stroke-width="0.6" />
<line x1="475.08" y1="379.3" x2="475.08" y2="466.7" stroke="#c8c8c8" stroke-width="0.7" />
<line x1="473.98" y1="379.3" x2="476.18" y2="379.3" stroke="#c8c8c8" stroke-width="0.6" />
<line x1="473.98" y1="466.7" x2="476.18" y2="466.7" stroke="#c8c8c8" stroke-width="0.6" />
<line x1="479.81" y1="379.9" x2="479.81" y2="467.1" stroke="#c8c8c8" stroke-width="0.7" />
<line x1="478.71" y1="379.9" x2="480.92" y2="379.9" stroke="#c8c8c8" stroke-width="0.6" />
<line x1="478.71" y1="467.1" x2="480.92" y2="467.1" stroke="#c8c8c8" stroke-width="0.6" />
<line x1="484.55" y1="380.5" x2="484.55" y2="467.5" stroke="#c8c8c8" stroke-width="0.7" />
<line x1="483.45" y1="380.5" x2="485.65" y2="380.5" stroke="#c8c8c8" stroke-width="0.6" />
<line x1="483.45" y1="467.5" x2="485.65" y2="467.5" stroke="#c8c8c8" stroke-width="0.6" />
<line x1="489.28" y1="381.2" x2="489.28" y2="467.9" stroke="#c8c8c8" stroke-width="0.7" />
<line x1="488.18" y1="381.2" x2="490.38" y2="381.2" stroke="#c8c8c8" stroke-width="0.6" />
<line x1="488.18" y1="467.9" x2="490.38" y2="467.9" stroke="#c8c8c8" stroke-width="0.6" />
<line x1="494.02" y1="381.9" x2="494.02" y2="468.3" stroke="#c8c8c8" stroke-width="0.7" />
<line x1="492.92" y1="381.9" x2="495.12" y2="381.9" stroke="#c8c8c8" stroke-width="0.6" />
<line x1="492.92" y1="468.3" x2="495.12" y2="468.3" stroke="#c8c8c8" stroke-width="0.6" />
<line x1="498.75" y1="382.6" x2="498.75" y2="468.7" stroke="#c8c8c8" stroke-width="0.7" />
<line x1="497.65" y1="382.6" x2="499.86" y2="382.6" stroke="#c8c8c8" stroke-width="0.6" />
<line x1="497.65" y1="468.7" x2="499.86" y2="468.7" stroke="#c8c8c8" stroke-width="0.6" />
<line x1="503.49" y1="383.3" x2="503.49" y2="469.1" stroke="#c8c8c8" stroke-width="0.7" />
<line x1="502.39" y1="383.3" x2="504.59" y2="383.3" stroke="#c8c8c8" stroke-width="0.6" />
<line x1="502.39" y1="469.1" x2="504.59" y2="469.1" stroke="#c8c8c8" stroke-width="0.6" />
<line x1="508.23" y1="384" x2="508.23" y2="469.5" stroke="#c8c8c8" stroke-width="0.7" />
<line x1="507.12" y1="384" x2="509.33" y2="384" stroke="#c8c8c8" stroke-width="0.6" />
<line x1="507.12" y1="469.5" x2="509.33" y2="469.5" stroke="#c8c8c8" stroke-width="0.6" />
<line x1="512.96" y1="384.53" x2="512.96" y2="469.68" stroke="#c8c8c8" stroke-width="0.7" />
<line x1="511.86" y1="384.53" x2="514.06" y2="384.53" stroke="#c8c8c8" stroke-width="0.6" />
<line x1="511.86" y1="469.68" x2="514.06" y2="469.68" stroke="#c8c8c8" stroke-width="0.6" />
<line x1="517.69" y1="385.07" x2="517.69" y2="469.87" stroke="#c8c8c8" stroke-width="0.7" />
<line x1="516.59" y1="385.07" x2="518.79" y2="385.07" stroke="#c8c8c8" stroke-width="0.6" />
<line x1="516.59" y1="469.87" x2="518.79" y2="469.87" stroke="#c8c8c8" stroke-width="0.6" />
<line x1="522.43" y1="385.6" x2="522.43" y2="470.05" stroke="#c8c8c8" stroke-width="0.7" />
<line x1="521.33" y1="385.6" x2="523.53" y2="385.6" stroke="#c8c8c8" stroke-width="0.6" />
<line x1="521.33" y1="470.05" x2="523.53" y2="470.05" stroke="#c8c8c8" stroke-width="0.6" />
<line x1="527.16" y1="386.13" x2="527.16" y2="470.23" stroke="#c8c8c8" stroke-width="0.7" />
<line x1="526.06" y1="386.13" x2="528.26" y2="386.13" stroke="#c8c8c8" stroke-width="0.6" />
<line x1="526.06" y1="470.23" x2="528.26" y2="470.23" stroke="#c8c8c8" stroke-width="0.6" />
<line x1="531.9" y1="386.67" x2="531.9" y2="470.42" stroke="#c8c8c8" stroke-width="0.7" />
<line x1="530.8" y1="386.67" x2="533" y2="386.67" stroke="#c8c8c8" stroke-width="0.6" />
<line x1="530.8" y1="470.42" x2="533" y2="470.42" stroke="#c8c8c8" stroke-width="0.6" />
<line x1="536.63" y1="387.2" x2="536.63" y2="470.6" stroke="#c8c8c8" stroke-width="0.7" />
<line x1="535.53" y1="387.2" x2="537.74" y2="387.2" stroke="#c8c8c8" stroke-width="0.6" />
<line x1="535.53" y1="470.6" x2="537.74" y2="470.6" stroke="#c8c8c8" stroke-width="0.6" />
<line x1="541.37" y1="386.9" x2="541.37" y2="470.45" stroke="#c8c8c8" stroke-width="0.7" />
<line x1="540.27" y1="386.9" x2="542.47" y2="386.9" stroke="#c8c8c8" stroke-width="0.6" />
<line x1="540.27" y1="470.45" x2="542.47" y2="470.45" stroke="#c8c8c8" stroke-width="0.6" />
<line x1="546.11" y1="386.6" x2="546.11" y2="470.3" stroke="#c8c8c8" stroke-width="0.7" />
<line x1="545" y1="386.6" x2="547.21" y2="386.6" stroke="#c8c8c8" stroke-width="0.6" />
<line x1="545" y1="470.3" x2="547.21" y2="470.3" stroke="#c8c8c8" stroke-width="0.6" />
<line x1="550.84" y1="386.4" x2="550.84" y2="469.85" stroke="#c8c8c8" stroke-width="0.7" />
<line x1="549.74" y1="386.4" x2="551.94" y2="386.4" stroke="#c8c8c8" stroke-width="0.6" />
<line x1="549.74" y1="469.85" x2="551.94" y2="469.85" stroke="#c8c8c8" stroke-width="0.6" />
<line x1="555.58" y1="386.2" x2="555.58" y2="469.4" stroke="#c8c8c8" stroke-width="0.7" />
<line x1="554.48" y1="386.2" x2="556.68" y2="386.2" stroke="#c8c8c8" stroke-width="0.6" />
<line x1="554.48" y1="469.4" x2="556.68" y2="469.4" stroke="#c8c8c8" stroke-width="0.6" />
<line x1="560.31" y1="385.1" x2="560.31" y2="467.95" stroke="#c8c8c8" stroke-width="0.7" />
<line x1="559.21" y1="385.1" x2="561.41" y2="385.1" stroke="#c8c8c8" stroke-width="0.6" />
<line x1="559.21" y1="467.95" x2="561.41" y2="467.95" stroke="#c8c8c8" stroke-width="0.6" />
<line x1="565.04" y1="384" x2="565.04" y2="466.5" stroke="#c8c8c8" stroke-width="0.7" />
<line x1="563.94" y1="384" x2="566.14" y2="384" stroke="#c8c8c8" stroke-width="0.6" />
<line x1="563.94" y1="466.5" x2="566.14" y2="466.5" stroke="#c8c8c8" stroke-width="0.6" />
<line x1="569.78" y1="382.65" x2="569.78" y2="464.4" stroke="#c8c8c8" stroke-width="0.7" />
<line x1="568.68" y1="382.65" x2="570.88" y2="382.65" stroke="#c8c8c8" stroke-width="0.6" />
<line x1="568.68" y1="464.4" x2="570.88" y2="464.4" stroke="#c8c8c8" stroke-width="0.6" />
<line x1="574.51" y1="381.3" x2="574.51" y2="462.3" stroke="#c8c8c8" stroke-width="0.7" />
<line x1="573.41" y1="381.3" x2="575.62" y2="381.3" stroke="#c8c8c8" stroke-width="0.6" />
<line x1="573.41" y1="462.3" x2="575.62" y2="462.3" stroke="#c8c8c8" stroke-width="0.6" />
<line x1="579.25" y1="379.1" x2="579.25" y2="459.1" stroke="#c8c8c8" stroke-width="0.7" />
<line x1="578.15" y1="379.1" x2="580.35" y2="379.1" stroke="#c8c8c8" stroke-width="0.6" />
<line x1="578.15" y1="459.1" x2="580.35" y2="459.1" stroke="#c8c8c8" stroke-width="0.6" />
<line x1="583.99" y1="376.9" x2="583.99" y2="455.9" stroke="#c8c8c8" stroke-width="0.7" />
<line x1="582.88" y1="376.9" x2="585.09" y2="376.9" stroke="#c8c8c8" stroke-width="0.6" />
<line x1="582.88" y1="455.9" x2="585.09" y2="455.9" stroke="#c8c8c8" stroke-width="0.6" />
<line x1="588.72" y1="373.6" x2="588.72" y2="451.3" stroke="#c8c8c8" stroke-width="0.7" />
<line x1="587.62" y1="373.6" x2="589.82" y2="373.6" stroke="#c8c8c8" stroke-width="0.6" />
<line x1="587.62" y1="451.3" x2="589.82" y2="451.3" stroke="#c8c8c8" stroke-width="0.6" />
<line x1="593.46" y1="370.3" x2="593.46" y2="446.7" stroke="#c8c8c8" stroke-width="0.7" />
<line x1="592.36" y1="370.3" x2="594.56" y2="370.3" stroke="#c8c8c8" stroke-width="0.6" />
<line x1="592.36" y1="446.7" x2="594.56" y2="446.7" stroke="#c8c8c8" stroke-width="0.6" />
<line x1="598.19" y1="365.65" x2="598.19" y2="440.35" stroke="#c8c8c8" stroke-width="0.7" />
<line x1="597.09" y1="365.65" x2="599.29" y2="365.65" stroke="#c8c8c8" stroke-width="0.6" />
<line x1="597.09" y1="440.35" x2="599.29" y2="440.35" stroke="#c8c8c8" stroke-width="0.6" />
<line x1="602.92" y1="361" x2="602.92" y2="434" stroke="#c8c8c8" stroke-width="0.7" />
<line x1="601.82" y1="361" x2="604.02" y2="361" stroke="#c8c8c8" stroke-width="0.6" />
<line x1="601.82" y1="434" x2="604.02" y2="434" stroke="#c8c8c8" stroke-width="0.6" />
<line x1="607.66" y1="354.5" x2="607.66" y2="426.65" stroke="#c8c8c8" stroke-width="0.7" />
<line x1="606.56" y1="354.5" x2="608.76" y2="354.5" stroke="#c8c8c8" stroke-width="0.6" />
<line x1="606.56" y1="426.65" x2="608.76" y2="426.65" stroke="#c8c8c8" stroke-width="0.6" />
<line x1="612.39" y1="348" x2="612.39" y2="419.3" stroke="#c8c8c8" stroke-width="0.7" />
<line x1="611.29" y1="348" x2="613.5" y2="348" stroke="#c8c8c8" stroke-width="0.6" />
<line x1="611.29" y1="419.3" x2="613.5" y2="419.3" stroke="#c8c8c8" stroke-width="0.6" />
<line x1="617.13" y1="343.8" x2="617.13" y2="413.1" stroke="#c8c8c8" stroke-width="0.7" />
<line x1="616.03" y1="343.8" x2="618.23" y2="343.8" stroke="#c8c8c8" stroke-width="0.6" />
<line x1="616.03" y1="413.1" x2="618.23" y2="413.1" stroke="#c8c8c8" stroke-width="0.6" />
<line x1="621.87" y1="340.3" x2="621.87" y2="409.6" stroke="#c8c8c8" stroke-width="0.7" />
<line x1="620.76" y1="340.3" x2="622.97" y2="340.3" stroke="#c8c8c8" stroke-width="0.6" />
<line x1="620.76" y1="409.6" x2="622.97" y2="409.6" stroke="#c8c8c8" stroke-width="0.6" />
<line x1="626.6" y1="338.5" x2="626.6" y2="407.3" stroke="#c8c8c8" stroke-width="0.7" />
<line x1="625.5" y1="338.5" x2="627.7" y2="338.5" stroke="#c8c8c8" stroke-width="0.6" />
<line x1="625.5" y1="407.3" x2="627.7" y2="407.3" stroke="#c8c8c8" stroke-width="0.6" />
<line x1="631.34" y1="338.3" x2="631.34" y2="406" stroke="#c8c8c8" stroke-width="0.7" />
<line x1="630.24" y1="338.3" x2="632.44" y2="338.3" stroke="#c8c8c8" stroke-width="0.6" />
<line x1="630.24" y1="406" x2="632.44" y2="406" stroke="#c8c8c8" stroke-width="0.6" />
<line x1="636.07" y1="338.5" x2="636.07" y2="405.2" stroke="#c8c8c8" stroke-width="0.7" />
<line x1="634.97" y1="338.5" x2="637.17" y2="338.5" stroke="#c8c8c8" stroke-width="0.6" />
<line x1="634.97" y1="405.2" x2="637.17" y2="405.2" stroke="#c8c8c8" stroke-width="0.6" />
<line x1="640.81" y1="340.3" x2="640.81" y2="405.2" stroke="#c8c8c8" stroke-width="0.7" />
<line x1="639.71" y1="340.3" x2="641.91" y2="340.3" stroke="#c8c8c8" stroke-width="0.6" />
<line x1="639.71" y1="405.2" x2="641.91" y2="405.2" stroke="#c8c8c8" stroke-width="0.6" />
<line x1="645.54" y1="342.5" x2="645.54" y2="405.5" stroke="#c8c8c8" stroke-width="0.7" />
<line x1="644.44" y1="342.5" x2="646.64" y2="342.5" stroke="#c8c8c8" stroke-width="0.6" />
<line x1="644.44" y1="405.5" x2="646.64" y2="405.5" stroke="#c8c8c8" stroke-width="0.6" />
<rect x="436.2" y="418.9" width="2" height="2" fill="#e8151b" stroke="none" stroke-width="1" />
<rect x="440.94" y="419.22" width="2" height="2" fill="#e8151b" stroke="none" stroke-width="1" />
<rect x="445.67" y="419.54" width="2" height="2" fill="#e8151b" stroke="none" stroke-width="1" />
<rect x="450.4" y="419.86" width="2" height="2" fill="#e8151b" stroke="none" stroke-width="1" />
<rect x="455.14" y="420.18" width="2" height="2" fill="#e8151b" stroke="none" stroke-width="1" />
<rect x="459.88" y="420.5" width="2" height="2" fill="#e8151b" stroke="none" stroke-width="1" />
<rect x="464.61" y="420.9" width="2" height="2" fill="#e8151b" stroke="none" stroke-width="1" />
<rect x="469.34" y="421.3" width="2" height="2" fill="#e8151b" stroke="none" stroke-width="1" />
<rect x="474.08" y="421.7" width="2" height="2" fill="#e8151b" stroke="none" stroke-width="1" />
<rect x="478.81" y="422.1" width="2" height="2" fill="#e8151b" stroke="none" stroke-width="1" />
<rect x="483.55" y="422.5" width="2" height="2" fill="#e8151b" stroke="none" stroke-width="1" />
<rect x="488.28" y="423.08" width="2" height="2" fill="#e8151b" stroke="none" stroke-width="1" />
<rect x="493.02" y="423.66" width="2" height="2" fill="#e8151b" stroke="none" stroke-width="1" />
<rect x="497.75" y="424.24" width="2" height="2" fill="#e8151b" stroke="none" stroke-width="1" />
<rect x="502.49" y="424.82" width="2" height="2" fill="#e8151b" stroke="none" stroke-width="1" />
<rect x="507.23" y="425.4" width="2" height="2" fill="#e8151b" stroke="none" stroke-width="1" />
<rect x="511.96" y="425.82" width="2" height="2" fill="#e8151b" stroke="none" stroke-width="1" />
<rect x="516.69" y="426.23" width="2" height="2" fill="#e8151b" stroke="none" stroke-width="1" />
<rect x="521.43" y="426.65" width="2" height="2" fill="#e8151b" stroke="none" stroke-width="1" />
<rect x="526.16" y="427.07" width="2" height="2" fill="#e8151b" stroke="none" stroke-width="1" />
<rect x="530.9" y="427.48" width="2" height="2" fill="#e8151b" stroke="none" stroke-width="1" />
<rect x="535.63" y="427.9" width="2" height="2" fill="#e8151b" stroke="none" stroke-width="1" />
<rect x="540.37" y="427.7" width="2" height="2" fill="#e8151b" stroke="none" stroke-width="1" />
<rect x="545.11" y="427.5" width="2" height="2" fill="#e8151b" stroke="none" stroke-width="1" />
<rect x="549.84" y="427.05" width="2" height="2" fill="#e8151b" stroke="none" stroke-width="1" />
<rect x="554.58" y="426.6" width="2" height="2" fill="#e8151b" stroke="none" stroke-width="1" />
<rect x="559.31" y="425.8" width="2" height="2" fill="#e8151b" stroke="none" stroke-width="1" />
<rect x="564.04" y="425" width="2" height="2" fill="#e8151b" stroke="none" stroke-width="1" />
<rect x="568.78" y="423.45" width="2" height="2" fill="#e8151b" stroke="none" stroke-width="1" />
<rect x="573.51" y="421.9" width="2" height="2" fill="#e8151b" stroke="none" stroke-width="1" />
<rect x="578.25" y="419.4" width="2" height="2" fill="#e8151b" stroke="none" stroke-width="1" />
<rect x="582.99" y="416.9" width="2" height="2" fill="#e8151b" stroke="none" stroke-width="1" />
<rect x="587.72" y="413.45" width="2" height="2" fill="#e8151b" stroke="none" stroke-width="1" />
<rect x="592.46" y="410" width="2" height="2" fill="#e8151b" stroke="none" stroke-width="1" />
<rect x="597.19" y="404.85" width="2" height="2" fill="#e8151b" stroke="none" stroke-width="1" />
<rect x="601.92" y="399.7" width="2" height="2" fill="#e8151b" stroke="none" stroke-width="1" />
<rect x="606.66" y="393.2" width="2" height="2" fill="#e8151b" stroke="none" stroke-width="1" />
<rect x="611.39" y="386.7" width="2" height="2" fill="#e8151b" stroke="none" stroke-width="1" />
<rect x="616.13" y="381.3" width="2" height="2" fill="#e8151b" stroke="none" stroke-width="1" />
<rect x="620.87" y="375.9" width="2" height="2" fill="#e8151b" stroke="none" stroke-width="1" />
<rect x="625.6" y="373.85" width="2" height="2" fill="#e8151b" stroke="none" stroke-width="1" />
<rect x="630.34" y="371.8" width="2" height="2" fill="#e8151b" stroke="none" stroke-width="1" />
<rect x="635.07" y="371.1" width="2" height="2" fill="#e8151b" stroke="none" stroke-width="1" />
<rect x="639.81" y="371.6" width="2" height="2" fill="#e8151b" stroke="none" stroke-width="1" />
<rect x="644.54" y="372.9" width="2" height="2" fill="#e8151b" stroke="none" stroke-width="1" />
<line x1="536.5" y1="333.3" x2="536.5" y2="475.5" stroke="#333" stroke-width="0.6" stroke-dasharray="1,1"/>
<line x1="612.5" y1="333.3" x2="612.5" y2="475.5" stroke="#333" stroke-width="0.6" stroke-dasharray="1,1"/>
<rect x="429.5" y="333.3" width="223.8" height="142.2" fill="none" stroke="#808080" stroke-width="0.9" />
<line x1="432.5" y1="475.5" x2="432.5" y2="478" stroke="#555" stroke-width="0.6" />
<text transform="translate(432.5,486.3) scale(1.3,1)" font-size="4.8" text-anchor="middle" fill="#222" stroke="#222" stroke-width="0.15" >−6</text>
<line x1="483.3" y1="475.5" x2="483.3" y2="478" stroke="#555" stroke-width="0.6" />
<text transform="translate(483.3,486.3) scale(1.3,1)" font-size="4.8" text-anchor="middle" fill="#222" stroke="#222" stroke-width="0.15" >−5</text>
<line x1="534.1" y1="475.5" x2="534.1" y2="478" stroke="#555" stroke-width="0.6" />
<text transform="translate(534.1,486.3) scale(1.3,1)" font-size="4.8" text-anchor="middle" fill="#222" stroke="#222" stroke-width="0.15" >−4</text>
<line x1="584.9" y1="475.5" x2="584.9" y2="478" stroke="#555" stroke-width="0.6" />
<text transform="translate(584.9,486.3) scale(1.3,1)" font-size="4.8" text-anchor="middle" fill="#222" stroke="#222" stroke-width="0.15" >−3</text>
<line x1="635.7" y1="475.5" x2="635.7" y2="478" stroke="#555" stroke-width="0.6" />
<text transform="translate(635.7,486.3) scale(1.3,1)" font-size="4.8" text-anchor="middle" fill="#222" stroke="#222" stroke-width="0.15" >−2</text>
<text transform="translate(437.5,326.8) scale(1.3,1)" font-size="4.8" text-anchor="middle" fill="#222" stroke="#222" stroke-width="0.15" >19</text>
<text transform="translate(451.65,326.8) scale(1.3,1)" font-size="4.8" text-anchor="middle" fill="#222" stroke="#222" stroke-width="0.15" >19</text>
<text transform="translate(465.8,326.8) scale(1.3,1)" font-size="4.8" text-anchor="middle" fill="#222" stroke="#222" stroke-width="0.15" >19</text>
<text transform="translate(479.95,326.8) scale(1.3,1)" font-size="4.8" text-anchor="middle" fill="#222" stroke="#222" stroke-width="0.15" >19</text>
<text transform="translate(494.1,326.8) scale(1.3,1)" font-size="4.8" text-anchor="middle" fill="#222" stroke="#222" stroke-width="0.15" >19</text>
<text transform="translate(508.25,326.8) scale(1.3,1)" font-size="4.8" text-anchor="middle" fill="#222" stroke="#222" stroke-width="0.15" >19</text>
<text transform="translate(522.4,326.8) scale(1.3,1)" font-size="4.8" text-anchor="middle" fill="#222" stroke="#222" stroke-width="0.15" >18</text>
<text transform="translate(536.55,326.8) scale(1.3,1)" font-size="4.8" text-anchor="middle" fill="#222" stroke="#222" stroke-width="0.15" >18</text>
<text transform="translate(550.7,326.8) scale(1.3,1)" font-size="4.8" text-anchor="middle" fill="#222" stroke="#222" stroke-width="0.15" >18</text>
<text transform="translate(564.85,326.8) scale(1.3,1)" font-size="4.8" text-anchor="middle" fill="#222" stroke="#222" stroke-width="0.15" >18</text>
<text transform="translate(579,326.8) scale(1.3,1)" font-size="4.8" text-anchor="middle" fill="#222" stroke="#222" stroke-width="0.15" >18</text>
<text transform="translate(593.15,326.8) scale(1.3,1)" font-size="4.8" text-anchor="middle" fill="#222" stroke="#222" stroke-width="0.15" >18</text>
<text transform="translate(607.3,326.8) scale(1.3,1)" font-size="4.8" text-anchor="middle" fill="#222" stroke="#222" stroke-width="0.15" >16</text>
<text transform="translate(622,326.8) scale(1.3,1)" font-size="4.8" text-anchor="middle" fill="#222" stroke="#222" stroke-width="0.15" >11</text>
<text transform="translate(635.7,326.8) scale(1.3,1)" font-size="4.8" text-anchor="middle" fill="#222" stroke="#222" stroke-width="0.15" >2</text>
<text transform="translate(644.9,326.8) scale(1.3,1)" font-size="4.8" text-anchor="middle" fill="#222" stroke="#222" stroke-width="0.15" >0</text>
<line x1="429.5" y1="462.5" x2="427" y2="462.5" stroke="#555" stroke-width="0.6" />
<text transform="translate(419.7,462.5) scale(1.3,1) rotate(-90)" font-size="4.6" text-anchor="middle" fill="#222" stroke="#222" stroke-width="0.14"  textLength="8.6" lengthAdjust="spacingAndGlyphs">10.2</text>
<line x1="429.5" y1="442.5" x2="427" y2="442.5" stroke="#555" stroke-width="0.6" />
<text transform="translate(419.7,442.5) scale(1.3,1) rotate(-90)" font-size="4.6" text-anchor="middle" fill="#222" stroke="#222" stroke-width="0.14"  textLength="8.6" lengthAdjust="spacingAndGlyphs">10.3</text>
<line x1="429.5" y1="422.5" x2="427" y2="422.5" stroke="#555" stroke-width="0.6" />
<text transform="translate(419.7,422.5) scale(1.3,1) rotate(-90)" font-size="4.6" text-anchor="middle" fill="#222" stroke="#222" stroke-width="0.14"  textLength="8.6" lengthAdjust="spacingAndGlyphs">10.4</text>
<line x1="429.5" y1="402.5" x2="427" y2="402.5" stroke="#555" stroke-width="0.6" />
<text transform="translate(419.7,402.5) scale(1.3,1) rotate(-90)" font-size="4.6" text-anchor="middle" fill="#222" stroke="#222" stroke-width="0.14"  textLength="8.6" lengthAdjust="spacingAndGlyphs">10.5</text>
<line x1="429.5" y1="382.5" x2="427" y2="382.5" stroke="#555" stroke-width="0.6" />
<text transform="translate(419.7,382.5) scale(1.3,1) rotate(-90)" font-size="4.6" text-anchor="middle" fill="#222" stroke="#222" stroke-width="0.14"  textLength="8.6" lengthAdjust="spacingAndGlyphs">10.6</text>
<line x1="429.5" y1="362.5" x2="427" y2="362.5" stroke="#555" stroke-width="0.6" />
<text transform="translate(419.7,362.5) scale(1.3,1) rotate(-90)" font-size="4.6" text-anchor="middle" fill="#222" stroke="#222" stroke-width="0.14"  textLength="8.6" lengthAdjust="spacingAndGlyphs">10.7</text>
<line x1="429.5" y1="342.5" x2="427" y2="342.5" stroke="#555" stroke-width="0.6" />
<text transform="translate(419.7,342.5) scale(1.3,1) rotate(-90)" font-size="4.6" text-anchor="middle" fill="#222" stroke="#222" stroke-width="0.14"  textLength="8.6" lengthAdjust="spacingAndGlyphs">10.8</text>
<text transform="translate(404.4,404.5) scale(1.2,1) rotate(-90)" font-size="4.6" text-anchor="middle" fill="#222" stroke="#222" stroke-width="0.15"  textLength="55.3" lengthAdjust="spacingAndGlyphs">Partial Likelihood Deviance</text>
<text transform="translate(541.3,496.7) scale(1.3,1)" font-size="4.8" text-anchor="middle" fill="#222" stroke="#222" stroke-width="0.15"  textLength="15" lengthAdjust="spacingAndGlyphs">Log(λ)</text>
<text transform="translate(1.3,535.7)" font-size="19" font-weight="bold" fill="#2a1d1d" stroke="#2a1d1d" stroke-width="0.45">D.</text>
<text transform="translate(255.8,535.7)" font-size="19" font-weight="bold" fill="#2a1d1d" stroke="#2a1d1d" stroke-width="0.45">E.</text>
<text transform="translate(496.8,535.7)" font-size="19" font-weight="bold" fill="#2a1d1d" stroke="#2a1d1d" stroke-width="0.45">F.</text>
<circle cx="51.2" cy="610.47" r="0.9" fill="#5cb232"/>
<circle cx="51.93" cy="610.16" r="0.9" fill="#5cb232"/>
<circle cx="52.67" cy="609.85" r="0.9" fill="#5cb232"/>
<circle cx="53.4" cy="609.55" r="0.9" fill="#5cb232"/>
<circle cx="54.13" cy="609.47" r="0.9" fill="#5cb232"/>
<circle cx="54.87" cy="609.4" r="0.9" fill="#5cb232"/>
<circle cx="55.6" cy="609.33" r="0.9" fill="#5cb232"/>
<circle cx="56.33" cy="609.26" r="0.9" fill="#5cb232"/>
<circle cx="57.06" cy="609.18" r="0.9" fill="#5cb232"/>
<circle cx="57.8" cy="609.11" r="0.9" fill="#5cb232"/>
<circle cx="58.53" cy="609.04" r="0.9" fill="#5cb232"/>
<circle cx="59.26" cy="608.97" r="0.9" fill="#5cb232"/>
<circle cx="60" cy="608.89" r="0.9" fill="#5cb232"/>
<circle cx="60.73" cy="608.82" r="0.9" fill="#5cb232"/>
<circle cx="61.46" cy="608.75" r="0.9" fill="#5cb232"/>
<circle cx="62.2" cy="608.68" r="0.9" fill="#5cb232"/>
<circle cx="62.93" cy="608.6" r="0.9" fill="#5cb232"/>
<circle cx="63.66" cy="608.53" r="0.9" fill="#5cb232"/>
<circle cx="64.39" cy="608.46" r="0.9" fill="#5cb232"/>
<circle cx="65.13" cy="608.39" r="0.9" fill="#5cb232"/>
<circle cx="65.86" cy="608.31" r="0.9" fill="#5cb232"/>
<circle cx="66.59" cy="608.26" r="0.9" fill="#5cb232"/>
<circle cx="67.33" cy="608.22" r="0.9" fill="#5cb232"/>
<circle cx="68.06" cy="608.17" r="0.9" fill="#5cb232"/>
<circle cx="68.79" cy="608.12" r="0.9" fill="#5cb232"/>
<circle cx="69.53" cy="608.07" r="0.9" fill="#5cb232"/>
<circle cx="70.26" cy="608.02" r="0.9" fill="#5cb232"/>
<circle cx="70.99" cy="607.97" r="0.9" fill="#5cb232"/>
<circle cx="71.72" cy="607.92" r="0.9" fill="#5cb232"/>
<circle cx="72.46" cy="607.87" r="0.9" fill="#5cb232"/>
<circle cx="73.19" cy="607.83" r="0.9" fill="#5cb232"/>
<circle cx="73.92" cy="607.78" r="0.9" fill="#5cb232"/>
<circle cx="74.66" cy="607.73" r="0.9" fill="#5cb232"/>
<circle cx="75.39" cy="607.68" r="0.9" fill="#5cb232"/>
<circle cx="76.12" cy="607.63" r="0.9" fill="#5cb232"/>
<circle cx="76.86" cy="607.58" r="0.9" fill="#5cb232"/>
<circle cx="77.59" cy="607.53" r="0.9" fill="#5cb232"/>
<circle cx="78.32" cy="607.48" r="0.9" fill="#5cb232"/>
<circle cx="79.05" cy="607.44" r="0.9" fill="#5cb232"/>
<circle cx="79.79" cy="607.39" r="0.9" fill="#5cb232"/>
<circle cx="80.52" cy="607.34" r="0.9" fill="#5cb232"/>
<circle cx="81.25" cy="607.29" r="0.9" fill="#5cb232"/>
<circle cx="81.99" cy="607.24" r="0.9" fill="#5cb232"/>
<circle cx="82.72" cy="607.19" r="0.9" fill="#5cb232"/>
<circle cx="83.45" cy="607.14" r="0.9" fill="#5cb232"/>
<circle cx="84.19" cy="607.09" r="0.9" fill="#5cb232"/>
<circle cx="84.92" cy="607.05" r="0.9" fill="#5cb232"/>
<circle cx="85.65" cy="607" r="0.9" fill="#5cb232"/>
<circle cx="86.38" cy="606.95" r="0.9" fill="#5cb232"/>
<circle cx="87.12" cy="606.9" r="0.9" fill="#5cb232"/>
<circle cx="87.85" cy="606.85" r="0.9" fill="#5cb232"/>
<circle cx="88.58" cy="606.79" r="0.9" fill="#5cb232"/>
<circle cx="89.32" cy="606.74" r="0.9" fill="#5cb232"/>
<circle cx="90.05" cy="606.68" r="0.9" fill="#5cb232"/>
<circle cx="90.78" cy="606.63" r="0.9" fill="#5cb232"/>
<circle cx="91.52" cy="606.57" r="0.9" fill="#5cb232"/>
<circle cx="92.25" cy="606.52" r="0.9" fill="#5cb232"/>
<circle cx="92.98" cy="606.46" r="0.9" fill="#5cb232"/>
<circle cx="93.71" cy="606.41" r="0.9" fill="#5cb232"/>
<circle cx="94.45" cy="606.35" r="0.9" fill="#5cb232"/>
<circle cx="95.18" cy="606.3" r="0.9" fill="#5cb232"/>
<circle cx="95.91" cy="606.24" r="0.9" fill="#5cb232"/>
<circle cx="96.65" cy="606.18" r="0.9" fill="#5cb232"/>
<circle cx="97.38" cy="606.13" r="0.9" fill="#5cb232"/>
<circle cx="98.11" cy="606.07" r="0.9" fill="#5cb232"/>
<circle cx="98.84" cy="606.02" r="0.9" fill="#5cb232"/>
<circle cx="99.58" cy="605.96" r="0.9" fill="#5cb232"/>
<circle cx="100.31" cy="605.91" r="0.9" fill="#5cb232"/>
<circle cx="101.04" cy="605.85" r="0.9" fill="#5cb232"/>
<circle cx="101.78" cy="605.8" r="0.9" fill="#5cb232"/>
<circle cx="102.51" cy="605.74" r="0.9" fill="#5cb232"/>
<circle cx="103.24" cy="605.69" r="0.9" fill="#5cb232"/>
<circle cx="103.98" cy="605.63" r="0.9" fill="#5cb232"/>
<circle cx="104.71" cy="605.57" r="0.9" fill="#5cb232"/>
<circle cx="105.44" cy="605.52" r="0.9" fill="#5cb232"/>
<circle cx="106.18" cy="605.46" r="0.9" fill="#5cb232"/>
<circle cx="106.91" cy="605.41" r="0.9" fill="#5cb232"/>
<circle cx="107.64" cy="605.35" r="0.9" fill="#5cb232"/>
<circle cx="108.37" cy="605.3" r="0.9" fill="#5cb232"/>
<circle cx="109.11" cy="605.24" r="0.9" fill="#5cb232"/>
<circle cx="109.84" cy="605.19" r="0.9" fill="#5cb232"/>
<circle cx="110.57" cy="605.13" r="0.9" fill="#5cb232"/>
<circle cx="111.31" cy="605.08" r="0.9" fill="#5cb232"/>
<circle cx="112.04" cy="605.02" r="0.9" fill="#5cb232"/>
<circle cx="112.77" cy="604.97" r="0.9" fill="#5cb232"/>
<circle cx="113.5" cy="604.91" r="0.9" fill="#5cb232"/>
<circle cx="114.24" cy="604.85" r="0.9" fill="#5cb232"/>
<circle cx="114.97" cy="604.8" r="0.9" fill="#5cb232"/>
<circle cx="115.7" cy="604.74" r="0.9" fill="#5cb232"/>
<circle cx="116.44" cy="604.69" r="0.9" fill="#5cb232"/>
<circle cx="117.17" cy="604.63" r="0.9" fill="#5cb232"/>
<circle cx="117.9" cy="604.58" r="0.9" fill="#5cb232"/>
<circle cx="118.64" cy="604.52" r="0.9" fill="#5cb232"/>
<circle cx="119.37" cy="604.47" r="0.9" fill="#5cb232"/>
<circle cx="120.1" cy="604.41" r="0.9" fill="#5cb232"/>
<circle cx="120.84" cy="604.36" r="0.9" fill="#5cb232"/>
<circle cx="121.57" cy="604.3" r="0.9" fill="#5cb232"/>
<circle cx="122.3" cy="604.24" r="0.9" fill="#5cb232"/>
<circle cx="123.03" cy="604.19" r="0.9" fill="#5cb232"/>
<circle cx="123.77" cy="604.13" r="0.9" fill="#5cb232"/>
<circle cx="124.5" cy="604.08" r="0.9" fill="#5cb232"/>
<circle cx="125.23" cy="603.98" r="0.9" fill="#5cb232"/>
<circle cx="125.97" cy="603.89" r="0.9" fill="#5cb232"/>
<circle cx="126.7" cy="603.8" r="0.9" fill="#5cb232"/>
<circle cx="127.43" cy="603.7" r="0.9" fill="#5cb232"/>
<circle cx="128.17" cy="603.61" r="0.9" fill="#5cb232"/>
<circle cx="128.9" cy="603.52" r="0.9" fill="#5cb232"/>
<circle cx="129.63" cy="603.42" r="0.9" fill="#5cb232"/>
<circle cx="130.36" cy="603.33" r="0.9" fill="#5cb232"/>
<circle cx="131.1" cy="603.24" r="0.9" fill="#5cb232"/>
<circle cx="131.83" cy="603.14" r="0.9" fill="#5cb232"/>
<circle cx="132.56" cy="603.05" r="0.9" fill="#5cb232"/>
<circle cx="133.3" cy="602.96" r="0.9" fill="#5cb232"/>
<circle cx="134.03" cy="602.86" r="0.9" fill="#5cb232"/>
<circle cx="134.76" cy="602.77" r="0.9" fill="#e8141b"/>
<circle cx="135.5" cy="602.7" r="0.9" fill="#e8141b"/>
<circle cx="136.23" cy="602.63" r="0.9" fill="#e8141b"/>
<circle cx="136.96" cy="602.56" r="0.9" fill="#e8141b"/>
<circle cx="137.69" cy="602.49" r="0.9" fill="#e8141b"/>
<circle cx="138.43" cy="602.42" r="0.9" fill="#e8141b"/>
<circle cx="139.16" cy="602.35" r="0.9" fill="#e8141b"/>
<circle cx="139.89" cy="602.27" r="0.9" fill="#e8141b"/>
<circle cx="140.63" cy="602.2" r="0.9" fill="#e8141b"/>
<circle cx="141.36" cy="602.13" r="0.9" fill="#e8141b"/>
<circle cx="142.09" cy="602.06" r="0.9" fill="#e8141b"/>
<circle cx="142.82" cy="601.99" r="0.9" fill="#e8141b"/>
<circle cx="143.56" cy="601.92" r="0.9" fill="#e8141b"/>
<circle cx="144.29" cy="601.81" r="0.9" fill="#e8141b"/>
<circle cx="145.02" cy="601.7" r="0.9" fill="#e8141b"/>
<circle cx="145.76" cy="601.58" r="0.9" fill="#e8141b"/>
<circle cx="146.49" cy="601.47" r="0.9" fill="#e8141b"/>
<circle cx="147.22" cy="601.35" r="0.9" fill="#e8141b"/>
<circle cx="147.96" cy="601.24" r="0.9" fill="#e8141b"/>
<circle cx="148.69" cy="601.13" r="0.9" fill="#e8141b"/>
<circle cx="149.42" cy="601.01" r="0.9" fill="#e8141b"/>
<circle cx="150.16" cy="600.9" r="0.9" fill="#e8141b"/>
<circle cx="150.89" cy="600.79" r="0.9" fill="#e8141b"/>
<circle cx="151.62" cy="600.67" r="0.9" fill="#e8141b"/>
<circle cx="152.35" cy="600.56" r="0.9" fill="#e8141b"/>
<circle cx="153.09" cy="600.45" r="0.9" fill="#e8141b"/>
<circle cx="153.82" cy="600.33" r="0.9" fill="#e8141b"/>
<circle cx="154.55" cy="600.22" r="0.9" fill="#e8141b"/>
<circle cx="155.29" cy="600.11" r="0.9" fill="#e8141b"/>
<circle cx="156.02" cy="599.99" r="0.9" fill="#e8141b"/>
<circle cx="156.75" cy="599.88" r="0.9" fill="#e8141b"/>
<circle cx="157.49" cy="599.77" r="0.9" fill="#e8141b"/>
<circle cx="158.22" cy="599.59" r="0.9" fill="#e8141b"/>
<circle cx="158.95" cy="599.41" r="0.9" fill="#e8141b"/>
<circle cx="159.68" cy="599.24" r="0.9" fill="#e8141b"/>
<circle cx="160.42" cy="599.06" r="0.9" fill="#e8141b"/>
<circle cx="161.15" cy="598.89" r="0.9" fill="#e8141b"/>
<circle cx="161.88" cy="598.71" r="0.9" fill="#e8141b"/>
<circle cx="162.62" cy="598.53" r="0.9" fill="#e8141b"/>
<circle cx="163.35" cy="598.42" r="0.9" fill="#e8141b"/>
<circle cx="164.08" cy="598.3" r="0.9" fill="#e8141b"/>
<circle cx="164.81" cy="598.18" r="0.9" fill="#e8141b"/>
<circle cx="165.55" cy="598.06" r="0.9" fill="#e8141b"/>
<circle cx="166.28" cy="597.94" r="0.9" fill="#e8141b"/>
<circle cx="167.01" cy="597.82" r="0.9" fill="#e8141b"/>
<circle cx="167.75" cy="597.7" r="0.9" fill="#e8141b"/>
<circle cx="168.48" cy="597.58" r="0.9" fill="#e8141b"/>
<circle cx="169.21" cy="597.47" r="0.9" fill="#e8141b"/>
<circle cx="169.95" cy="597.35" r="0.9" fill="#e8141b"/>
<circle cx="170.68" cy="597.23" r="0.9" fill="#e8141b"/>
<circle cx="171.41" cy="597.11" r="0.9" fill="#e8141b"/>
<circle cx="172.14" cy="596.99" r="0.9" fill="#e8141b"/>
<circle cx="172.88" cy="596.87" r="0.9" fill="#e8141b"/>
<circle cx="173.61" cy="596.75" r="0.9" fill="#e8141b"/>
<circle cx="174.34" cy="596.63" r="0.9" fill="#e8141b"/>
<circle cx="175.08" cy="596.52" r="0.9" fill="#e8141b"/>
<circle cx="175.81" cy="596.4" r="0.9" fill="#e8141b"/>
<circle cx="176.54" cy="596.28" r="0.9" fill="#e8141b"/>
<circle cx="177.28" cy="596.16" r="0.9" fill="#e8141b"/>
<circle cx="178.01" cy="596.04" r="0.9" fill="#e8141b"/>
<circle cx="178.74" cy="595.92" r="0.9" fill="#e8141b"/>
<circle cx="179.48" cy="595.8" r="0.9" fill="#e8141b"/>
<circle cx="180.21" cy="595.69" r="0.9" fill="#e8141b"/>
<circle cx="180.94" cy="595.5" r="0.9" fill="#e8141b"/>
<circle cx="181.67" cy="595.31" r="0.9" fill="#e8141b"/>
<circle cx="182.41" cy="595.12" r="0.9" fill="#e8141b"/>
<circle cx="183.14" cy="594.93" r="0.9" fill="#e8141b"/>
<circle cx="183.87" cy="594.74" r="0.9" fill="#e8141b"/>
<circle cx="184.61" cy="594.56" r="0.9" fill="#e8141b"/>
<circle cx="185.34" cy="594.37" r="0.9" fill="#e8141b"/>
<circle cx="186.07" cy="594.18" r="0.9" fill="#e8141b"/>
<circle cx="186.81" cy="593.99" r="0.9" fill="#e8141b"/>
<circle cx="187.54" cy="593.8" r="0.9" fill="#e8141b"/>
<circle cx="188.27" cy="593.61" r="0.9" fill="#e8141b"/>
<circle cx="189" cy="593.43" r="0.9" fill="#e8141b"/>
<circle cx="189.74" cy="593.24" r="0.9" fill="#e8141b"/>
<circle cx="190.47" cy="593.05" r="0.9" fill="#e8141b"/>
<circle cx="191.2" cy="592.86" r="0.9" fill="#e8141b"/>
<circle cx="191.94" cy="592.67" r="0.9" fill="#e8141b"/>
<circle cx="192.67" cy="592.49" r="0.9" fill="#e8141b"/>
<circle cx="193.4" cy="592.3" r="0.9" fill="#e8141b"/>
<circle cx="194.13" cy="591.51" r="0.9" fill="#e8141b"/>
<circle cx="194.87" cy="590.73" r="0.9" fill="#e8141b"/>
<circle cx="195.6" cy="589.95" r="0.9" fill="#e8141b"/>
<circle cx="196.33" cy="589.17" r="0.9" fill="#e8141b"/>
<circle cx="197.07" cy="588.38" r="0.9" fill="#e8141b"/>
<circle cx="197.8" cy="587.6" r="0.9" fill="#e8141b"/>
<circle cx="198.53" cy="587.26" r="0.9" fill="#e8141b"/>
<circle cx="199.27" cy="586.93" r="0.9" fill="#e8141b"/>
<circle cx="200" cy="586.59" r="0.9" fill="#e8141b"/>
<circle cx="200.73" cy="586.25" r="0.9" fill="#e8141b"/>
<circle cx="201.46" cy="585.92" r="0.9" fill="#e8141b"/>
<circle cx="202.2" cy="585.58" r="0.9" fill="#e8141b"/>
<circle cx="202.93" cy="585.24" r="0.9" fill="#e8141b"/>
<circle cx="203.66" cy="584.91" r="0.9" fill="#e8141b"/>
<circle cx="204.4" cy="584.3" r="0.9" fill="#e8141b"/>
<circle cx="205.13" cy="583.69" r="0.9" fill="#e8141b"/>
<circle cx="205.86" cy="583.08" r="0.9" fill="#e8141b"/>
<circle cx="206.6" cy="582.48" r="0.9" fill="#e8141b"/>
<circle cx="207.33" cy="581.87" r="0.9" fill="#e8141b"/>
<circle cx="208.06" cy="581.26" r="0.9" fill="#e8141b"/>
<circle cx="208.8" cy="580.65" r="0.9" fill="#e8141b"/>
<circle cx="209.53" cy="580.05" r="0.9" fill="#e8141b"/>
<circle cx="210.26" cy="579.44" r="0.9" fill="#e8141b"/>
<circle cx="210.99" cy="578.27" r="0.9" fill="#e8141b"/>
<circle cx="211.73" cy="577.11" r="0.9" fill="#e8141b"/>
<circle cx="212.46" cy="575.95" r="0.9" fill="#e8141b"/>
<circle cx="213.19" cy="574.79" r="0.9" fill="#e8141b"/>
<circle cx="213.93" cy="572.84" r="0.9" fill="#e8141b"/>
<circle cx="214.66" cy="569.08" r="0.9" fill="#e8141b"/>
<circle cx="215.39" cy="563.05" r="0.9" fill="#e8141b"/>
<circle cx="216.12" cy="554.34" r="0.9" fill="#e8141b"/>
<circle cx="216.86" cy="541.4" r="0.9" fill="#e8141b"/>
<circle cx="217.59" cy="533.7" r="0.9" fill="#e8141b"/>
<line x1="134.8" y1="530.5" x2="134.8" y2="613.5" stroke="#888" stroke-width="0.5" stroke-dasharray="0.7,1.1"/>
<line x1="45.5" y1="602.5" x2="225.5" y2="602.5" stroke="#999" stroke-width="0.55" stroke-dasharray="2,1.3"/>
<rect x="45.5" y="530.5" width="180" height="83" fill="none" stroke="#999" stroke-width="0.85" />
<line x1="51.2" y1="613.5" x2="51.2" y2="615.5" stroke="#666" stroke-width="0.5" />
<text transform="translate(51.2,622.8)" font-size="3.6" text-anchor="middle" fill="#333" stroke="#333" stroke-width="0.14" >0</text>
<line x1="87.85" y1="613.5" x2="87.85" y2="615.5" stroke="#666" stroke-width="0.5" />
<text transform="translate(87.85,622.8)" font-size="3.6" text-anchor="middle" fill="#333" stroke="#333" stroke-width="0.14" >50</text>
<line x1="124.5" y1="613.5" x2="124.5" y2="615.5" stroke="#666" stroke-width="0.5" />
<text transform="translate(124.5,622.8)" font-size="3.6" text-anchor="middle" fill="#333" stroke="#333" stroke-width="0.14" >100</text>
<line x1="161.15" y1="613.5" x2="161.15" y2="615.5" stroke="#666" stroke-width="0.5" />
<text transform="translate(161.15,622.8)" font-size="3.6" text-anchor="middle" fill="#333" stroke="#333" stroke-width="0.14" >150</text>
<line x1="197.8" y1="613.5" x2="197.8" y2="615.5" stroke="#666" stroke-width="0.5" />
<text transform="translate(197.8,622.8)" font-size="3.6" text-anchor="middle" fill="#333" stroke="#333" stroke-width="0.14" >200</text>
<line x1="45.5" y1="610.7" x2="43.5" y2="610.7" stroke="#666" stroke-width="0.5" />
<text transform="translate(41.5,610.7) rotate(-90)" font-size="3.6" text-anchor="middle" fill="#333" stroke="#333" stroke-width="0.14" >0</text>
<line x1="45.5" y1="595.3" x2="43.5" y2="595.3" stroke="#666" stroke-width="0.5" />
<text transform="translate(41.5,595.3) rotate(-90)" font-size="3.6" text-anchor="middle" fill="#333" stroke="#333" stroke-width="0.14" >2</text>
<line x1="45.5" y1="579.9" x2="43.5" y2="579.9" stroke="#666" stroke-width="0.5" />
<text transform="translate(41.5,579.9) rotate(-90)" font-size="3.6" text-anchor="middle" fill="#333" stroke="#333" stroke-width="0.14" >4</text>
<line x1="45.5" y1="564.5" x2="43.5" y2="564.5" stroke="#666" stroke-width="0.5" />
<text transform="translate(41.5,564.5) rotate(-90)" font-size="3.6" text-anchor="middle" fill="#333" stroke="#333" stroke-width="0.14" >6</text>
<line x1="45.5" y1="549.1" x2="43.5" y2="549.1" stroke="#666" stroke-width="0.5" />
<text transform="translate(41.5,549.1) rotate(-90)" font-size="3.6" text-anchor="middle" fill="#333" stroke="#333" stroke-width="0.14" >8</text>
<line x1="45.5" y1="533.7" x2="43.5" y2="533.7" stroke="#666" stroke-width="0.5" />
<text transform="translate(41.5,533.7) rotate(-90)" font-size="3.6" text-anchor="middle" fill="#333" stroke="#333" stroke-width="0.14" >10</text>
<text transform="translate(33.5,572) rotate(-90)" font-size="3.6" text-anchor="middle" fill="#333" stroke="#333" stroke-width="0.14" >Risk score</text>
<text transform="translate(138.5,633.5) scale(0.95,1)" font-size="3.6" text-anchor="middle" fill="#333" stroke="#333" stroke-width="0.15" >Patients (increasing risk score)</text>
<circle cx="295.5" cy="616.23" r="0.9" fill="#5cb232"/>
<circle cx="296.64" cy="616.1" r="0.9" fill="#5cb232"/>
<circle cx="297.78" cy="615.96" r="0.9" fill="#5cb232"/>
<circle cx="298.93" cy="615.83" r="0.9" fill="#5cb232"/>
<circle cx="300.07" cy="615.7" r="0.9" fill="#5cb232"/>
<circle cx="301.21" cy="615.56" r="0.9" fill="#5cb232"/>
<circle cx="302.35" cy="615.43" r="0.9" fill="#5cb232"/>
<circle cx="303.49" cy="615.3" r="0.9" fill="#5cb232"/>
<circle cx="304.64" cy="615.16" r="0.9" fill="#5cb232"/>
<circle cx="305.78" cy="615.03" r="0.9" fill="#5cb232"/>
<circle cx="306.92" cy="614.9" r="0.9" fill="#5cb232"/>
<circle cx="308.06" cy="614.77" r="0.9" fill="#5cb232"/>
<circle cx="309.2" cy="614.63" r="0.9" fill="#5cb232"/>
<circle cx="310.35" cy="614.5" r="0.9" fill="#5cb232"/>
<circle cx="311.49" cy="614.37" r="0.9" fill="#5cb232"/>
<circle cx="312.63" cy="614.23" r="0.9" fill="#5cb232"/>
<circle cx="313.77" cy="614.1" r="0.9" fill="#5cb232"/>
<circle cx="314.91" cy="613.98" r="0.9" fill="#5cb232"/>
<circle cx="316.06" cy="613.88" r="0.9" fill="#5cb232"/>
<circle cx="317.2" cy="613.79" r="0.9" fill="#5cb232"/>
<circle cx="318.34" cy="613.69" r="0.9" fill="#5cb232"/>
<circle cx="319.48" cy="613.6" r="0.9" fill="#5cb232"/>
<circle cx="320.62" cy="613.5" r="0.9" fill="#5cb232"/>
<circle cx="321.77" cy="613.4" r="0.9" fill="#5cb232"/>
<circle cx="322.91" cy="613.31" r="0.9" fill="#5cb232"/>
<circle cx="324.05" cy="613.21" r="0.9" fill="#5cb232"/>
<circle cx="325.19" cy="613.12" r="0.9" fill="#5cb232"/>
<circle cx="326.33" cy="613.02" r="0.9" fill="#5cb232"/>
<circle cx="327.48" cy="612.92" r="0.9" fill="#5cb232"/>
<circle cx="328.62" cy="612.83" r="0.9" fill="#5cb232"/>
<circle cx="329.76" cy="612.73" r="0.9" fill="#5cb232"/>
<circle cx="330.9" cy="612.64" r="0.9" fill="#5cb232"/>
<circle cx="332.04" cy="612.54" r="0.9" fill="#5cb232"/>
<circle cx="333.19" cy="612.44" r="0.9" fill="#5cb232"/>
<circle cx="334.33" cy="612.35" r="0.9" fill="#5cb232"/>
<circle cx="335.47" cy="612.25" r="0.9" fill="#5cb232"/>
<circle cx="336.61" cy="612.16" r="0.9" fill="#5cb232"/>
<circle cx="337.75" cy="612.06" r="0.9" fill="#5cb232"/>
<circle cx="338.9" cy="611.97" r="0.9" fill="#5cb232"/>
<circle cx="340.04" cy="611.85" r="0.9" fill="#5cb232"/>
<circle cx="341.18" cy="611.74" r="0.9" fill="#5cb232"/>
<circle cx="342.32" cy="611.63" r="0.9" fill="#5cb232"/>
<circle cx="343.46" cy="611.52" r="0.9" fill="#5cb232"/>
<circle cx="344.61" cy="611.41" r="0.9" fill="#5cb232"/>
<circle cx="345.75" cy="611.29" r="0.9" fill="#5cb232"/>
<circle cx="346.89" cy="611.18" r="0.9" fill="#5cb232"/>
<circle cx="348.03" cy="611.07" r="0.9" fill="#5cb232"/>
<circle cx="349.17" cy="610.96" r="0.9" fill="#5cb232"/>
<circle cx="350.32" cy="610.85" r="0.9" fill="#5cb232"/>
<circle cx="351.46" cy="610.74" r="0.9" fill="#5cb232"/>
<circle cx="352.6" cy="610.62" r="0.9" fill="#5cb232"/>
<circle cx="353.74" cy="610.51" r="0.9" fill="#5cb232"/>
<circle cx="354.88" cy="610.4" r="0.9" fill="#5cb232"/>
<circle cx="356.03" cy="610.29" r="0.9" fill="#5cb232"/>
<circle cx="357.17" cy="610.18" r="0.9" fill="#5cb232"/>
<circle cx="358.31" cy="610.06" r="0.9" fill="#5cb232"/>
<circle cx="359.45" cy="609.95" r="0.9" fill="#5cb232"/>
<circle cx="360.59" cy="609.84" r="0.9" fill="#5cb232"/>
<circle cx="361.74" cy="609.73" r="0.9" fill="#5cb232"/>
<circle cx="362.88" cy="609.62" r="0.9" fill="#5cb232"/>
<circle cx="364.02" cy="609.51" r="0.9" fill="#5cb232"/>
<circle cx="365.16" cy="609.39" r="0.9" fill="#5cb232"/>
<circle cx="366.3" cy="609.28" r="0.9" fill="#5cb232"/>
<circle cx="367.45" cy="609.17" r="0.9" fill="#5cb232"/>
<circle cx="368.59" cy="609.06" r="0.9" fill="#5cb232"/>
<circle cx="369.73" cy="608.95" r="0.9" fill="#5cb232"/>
<circle cx="370.87" cy="608.83" r="0.9" fill="#5cb232"/>
<circle cx="372.01" cy="608.72" r="0.9" fill="#5cb232"/>
<circle cx="373.16" cy="608.61" r="0.9" fill="#5cb232"/>
<circle cx="374.3" cy="608.5" r="0.9" fill="#5cb232"/>
<circle cx="375.44" cy="608.39" r="0.9" fill="#e8141b"/>
<circle cx="376.58" cy="608.27" r="0.9" fill="#e8141b"/>
<circle cx="377.72" cy="608.15" r="0.9" fill="#e8141b"/>
<circle cx="378.87" cy="608.03" r="0.9" fill="#e8141b"/>
<circle cx="380.01" cy="607.91" r="0.9" fill="#e8141b"/>
<circle cx="381.15" cy="607.79" r="0.9" fill="#e8141b"/>
<circle cx="382.29" cy="607.67" r="0.9" fill="#e8141b"/>
<circle cx="383.43" cy="607.55" r="0.9" fill="#e8141b"/>
<circle cx="384.58" cy="607.43" r="0.9" fill="#e8141b"/>
<circle cx="385.72" cy="607.31" r="0.9" fill="#e8141b"/>
<circle cx="386.86" cy="607.19" r="0.9" fill="#e8141b"/>
<circle cx="388" cy="607.07" r="0.9" fill="#e8141b"/>
<circle cx="389.14" cy="606.94" r="0.9" fill="#e8141b"/>
<circle cx="390.29" cy="606.81" r="0.9" fill="#e8141b"/>
<circle cx="391.43" cy="606.68" r="0.9" fill="#e8141b"/>
<circle cx="392.57" cy="606.56" r="0.9" fill="#e8141b"/>
<circle cx="393.71" cy="606.43" r="0.9" fill="#e8141b"/>
<circle cx="394.85" cy="606.3" r="0.9" fill="#e8141b"/>
<circle cx="396" cy="606.17" r="0.9" fill="#e8141b"/>
<circle cx="397.14" cy="606.05" r="0.9" fill="#e8141b"/>
<circle cx="398.28" cy="605.92" r="0.9" fill="#e8141b"/>
<circle cx="399.42" cy="605.79" r="0.9" fill="#e8141b"/>
<circle cx="400.56" cy="605.66" r="0.9" fill="#e8141b"/>
<circle cx="401.71" cy="605.54" r="0.9" fill="#e8141b"/>
<circle cx="402.85" cy="605.41" r="0.9" fill="#e8141b"/>
<circle cx="403.99" cy="605.09" r="0.9" fill="#e8141b"/>
<circle cx="405.13" cy="604.78" r="0.9" fill="#e8141b"/>
<circle cx="406.27" cy="604.46" r="0.9" fill="#e8141b"/>
<circle cx="407.42" cy="604.14" r="0.9" fill="#e8141b"/>
<circle cx="408.56" cy="603.83" r="0.9" fill="#e8141b"/>
<circle cx="409.7" cy="603.51" r="0.9" fill="#e8141b"/>
<circle cx="410.84" cy="603.38" r="0.9" fill="#e8141b"/>
<circle cx="411.98" cy="603.25" r="0.9" fill="#e8141b"/>
<circle cx="413.13" cy="603.12" r="0.9" fill="#e8141b"/>
<circle cx="414.27" cy="602.99" r="0.9" fill="#e8141b"/>
<circle cx="415.41" cy="602.85" r="0.9" fill="#e8141b"/>
<circle cx="416.55" cy="602.72" r="0.9" fill="#e8141b"/>
<circle cx="417.69" cy="602.59" r="0.9" fill="#e8141b"/>
<circle cx="418.84" cy="602.46" r="0.9" fill="#e8141b"/>
<circle cx="419.98" cy="602.33" r="0.9" fill="#e8141b"/>
<circle cx="421.12" cy="602.2" r="0.9" fill="#e8141b"/>
<circle cx="422.26" cy="602.06" r="0.9" fill="#e8141b"/>
<circle cx="423.4" cy="601.93" r="0.9" fill="#e8141b"/>
<circle cx="424.55" cy="601.8" r="0.9" fill="#e8141b"/>
<circle cx="425.69" cy="601.67" r="0.9" fill="#e8141b"/>
<circle cx="426.83" cy="601.54" r="0.9" fill="#e8141b"/>
<circle cx="427.97" cy="601.15" r="0.9" fill="#e8141b"/>
<circle cx="429.11" cy="600.76" r="0.9" fill="#e8141b"/>
<circle cx="430.26" cy="600.38" r="0.9" fill="#e8141b"/>
<circle cx="431.4" cy="599.99" r="0.9" fill="#e8141b"/>
<circle cx="432.54" cy="599.54" r="0.9" fill="#e8141b"/>
<circle cx="433.68" cy="599.01" r="0.9" fill="#e8141b"/>
<circle cx="434.82" cy="598.48" r="0.9" fill="#e8141b"/>
<circle cx="435.97" cy="597.96" r="0.9" fill="#e8141b"/>
<circle cx="437.11" cy="597.43" r="0.9" fill="#e8141b"/>
<circle cx="438.25" cy="596.62" r="0.9" fill="#e8141b"/>
<circle cx="439.39" cy="595.81" r="0.9" fill="#e8141b"/>
<circle cx="440.53" cy="595" r="0.9" fill="#e8141b"/>
<circle cx="441.68" cy="594.19" r="0.9" fill="#e8141b"/>
<circle cx="442.82" cy="592.37" r="0.9" fill="#e8141b"/>
<circle cx="443.96" cy="590.55" r="0.9" fill="#e8141b"/>
<circle cx="445.1" cy="589.34" r="0.9" fill="#e8141b"/>
<circle cx="446.24" cy="588.39" r="0.9" fill="#e8141b"/>
<circle cx="447.39" cy="587.44" r="0.9" fill="#e8141b"/>
<circle cx="448.53" cy="586.49" r="0.9" fill="#e8141b"/>
<circle cx="449.67" cy="585.54" r="0.9" fill="#e8141b"/>
<circle cx="450.81" cy="584.59" r="0.9" fill="#e8141b"/>
<circle cx="451.95" cy="583.28" r="0.9" fill="#e8141b"/>
<circle cx="453.1" cy="581.15" r="0.9" fill="#e8141b"/>
<circle cx="454.24" cy="579.02" r="0.9" fill="#e8141b"/>
<circle cx="455.38" cy="577.55" r="0.9" fill="#e8141b"/>
<circle cx="456.52" cy="576.07" r="0.9" fill="#e8141b"/>
<circle cx="457.66" cy="574.6" r="0.9" fill="#e8141b"/>
<circle cx="458.81" cy="561.8" r="0.9" fill="#e8141b"/>
<circle cx="459.95" cy="546" r="0.9" fill="#e8141b"/>
<circle cx="461.09" cy="539.68" r="0.9" fill="#e8141b"/>
<circle cx="462.23" cy="539.13" r="0.9" fill="#e8141b"/>
<circle cx="463.37" cy="538.57" r="0.9" fill="#e8141b"/>
<line x1="375.2" y1="534.9" x2="375.2" y2="619.3" stroke="#888" stroke-width="0.5" stroke-dasharray="0.7,1.1"/>
<line x1="290.3" y1="608.4" x2="470.5" y2="608.4" stroke="#999" stroke-width="0.55" stroke-dasharray="2,1.3"/>
<rect x="290.3" y="534.9" width="180.2" height="84.4" fill="none" stroke="#999" stroke-width="0.85" />
<line x1="295.5" y1="619.3" x2="295.5" y2="621.3" stroke="#666" stroke-width="0.5" />
<text transform="translate(295.5,628.5)" font-size="3.6" text-anchor="middle" fill="#333" stroke="#333" stroke-width="0.14" >0</text>
<line x1="352.6" y1="619.3" x2="352.6" y2="621.3" stroke="#666" stroke-width="0.5" />
<text transform="translate(352.6,628.5)" font-size="3.6" text-anchor="middle" fill="#333" stroke="#333" stroke-width="0.14" >50</text>
<line x1="409.7" y1="619.3" x2="409.7" y2="621.3" stroke="#666" stroke-width="0.5" />
<text transform="translate(409.7,628.5)" font-size="3.6" text-anchor="middle" fill="#333" stroke="#333" stroke-width="0.14" >100</text>
<line x1="466.8" y1="619.3" x2="466.8" y2="621.3" stroke="#666" stroke-width="0.5" />
<text transform="translate(466.8,628.5)" font-size="3.6" text-anchor="middle" fill="#333" stroke="#333" stroke-width="0.14" >150</text>
<line x1="290.3" y1="617.1" x2="288.3" y2="617.1" stroke="#666" stroke-width="0.5" />
<text transform="translate(285,617.1) rotate(-90)" font-size="3.6" text-anchor="middle" fill="#333" stroke="#333" stroke-width="0.14" >0</text>
<line x1="290.3" y1="601.3" x2="288.3" y2="601.3" stroke="#666" stroke-width="0.5" />
<text transform="translate(285,601.3) rotate(-90)" font-size="3.6" text-anchor="middle" fill="#333" stroke="#333" stroke-width="0.14" >2</text>
<line x1="290.3" y1="585.5" x2="288.3" y2="585.5" stroke="#666" stroke-width="0.5" />
<text transform="translate(285,585.5) rotate(-90)" font-size="3.6" text-anchor="middle" fill="#333" stroke="#333" stroke-width="0.14" >4</text>
<line x1="290.3" y1="569.7" x2="288.3" y2="569.7" stroke="#666" stroke-width="0.5" />
<text transform="translate(285,569.7) rotate(-90)" font-size="3.6" text-anchor="middle" fill="#333" stroke="#333" stroke-width="0.14" >6</text>
<line x1="290.3" y1="553.9" x2="288.3" y2="553.9" stroke="#666" stroke-width="0.5" />
<text transform="translate(285,553.9) rotate(-90)" font-size="3.6" text-anchor="middle" fill="#333" stroke="#333" stroke-width="0.14" >8</text>
<line x1="290.3" y1="538.1" x2="288.3" y2="538.1" stroke="#666" stroke-width="0.5" />
<text transform="translate(285,538.1) rotate(-90)" font-size="3.6" text-anchor="middle" fill="#333" stroke="#333" stroke-width="0.14" >10</text>
<text transform="translate(279,577.1) rotate(-90)" font-size="3.6" text-anchor="middle" fill="#333" stroke="#333" stroke-width="0.14" >Risk score</text>
<text transform="translate(383.4,638.8) scale(0.95,1)" font-size="3.6" text-anchor="middle" fill="#333" stroke="#333" stroke-width="0.15" >Patients (increasing risk score)</text>
<circle cx="539.4" cy="613.26" r="0.85" fill="#5cb232"/>
<circle cx="541.21" cy="612.78" r="0.85" fill="#5cb232"/>
<circle cx="543.01" cy="612.3" r="0.85" fill="#5cb232"/>
<circle cx="544.82" cy="611.81" r="0.85" fill="#5cb232"/>
<circle cx="546.63" cy="611.45" r="0.85" fill="#5cb232"/>
<circle cx="548.44" cy="611.21" r="0.85" fill="#5cb232"/>
<circle cx="550.25" cy="610.98" r="0.85" fill="#5cb232"/>
<circle cx="552.05" cy="610.74" r="0.85" fill="#5cb232"/>
<circle cx="553.86" cy="610.5" r="0.85" fill="#5cb232"/>
<circle cx="555.67" cy="610.26" r="0.85" fill="#5cb232"/>
<circle cx="557.48" cy="610.02" r="0.85" fill="#5cb232"/>
<circle cx="559.28" cy="609.78" r="0.85" fill="#5cb232"/>
<circle cx="561.09" cy="609.68" r="0.85" fill="#5cb232"/>
<circle cx="562.9" cy="609.58" r="0.85" fill="#5cb232"/>
<circle cx="564.7" cy="609.48" r="0.85" fill="#5cb232"/>
<circle cx="566.51" cy="609.38" r="0.85" fill="#5cb232"/>
<circle cx="568.32" cy="609.28" r="0.85" fill="#5cb232"/>
<circle cx="570.13" cy="609.18" r="0.85" fill="#5cb232"/>
<circle cx="571.93" cy="609.08" r="0.85" fill="#5cb232"/>
<circle cx="573.74" cy="608.98" r="0.85" fill="#5cb232"/>
<circle cx="575.55" cy="608.88" r="0.85" fill="#5cb232"/>
<circle cx="577.36" cy="608.77" r="0.85" fill="#5cb232"/>
<circle cx="579.16" cy="608.67" r="0.85" fill="#5cb232"/>
<circle cx="580.97" cy="608.57" r="0.85" fill="#5cb232"/>
<circle cx="582.78" cy="608.47" r="0.85" fill="#5cb232"/>
<circle cx="584.59" cy="608.37" r="0.85" fill="#5cb232"/>
<circle cx="586.39" cy="608.24" r="0.85" fill="#5cb232"/>
<circle cx="588.2" cy="608.11" r="0.85" fill="#5cb232"/>
<circle cx="590.01" cy="607.98" r="0.85" fill="#5cb232"/>
<circle cx="591.82" cy="607.85" r="0.85" fill="#5cb232"/>
<circle cx="593.62" cy="607.72" r="0.85" fill="#5cb232"/>
<circle cx="595.43" cy="607.59" r="0.85" fill="#5cb232"/>
<circle cx="597.24" cy="607.46" r="0.85" fill="#5cb232"/>
<circle cx="599.05" cy="607.33" r="0.85" fill="#5cb232"/>
<circle cx="600.86" cy="607.2" r="0.85" fill="#5cb232"/>
<circle cx="602.66" cy="607.07" r="0.85" fill="#5cb232"/>
<circle cx="604.47" cy="606.94" r="0.85" fill="#5cb232"/>
<circle cx="606.28" cy="606.81" r="0.85" fill="#5cb232"/>
<circle cx="608.09" cy="606.68" r="0.85" fill="#5cb232"/>
<circle cx="609.89" cy="606.43" r="0.85" fill="#5cb232"/>
<circle cx="611.7" cy="606.19" r="0.85" fill="#5cb232"/>
<circle cx="613.51" cy="605.94" r="0.85" fill="#5cb232"/>
<circle cx="615.31" cy="605.7" r="0.85" fill="#5cb232"/>
<circle cx="617.12" cy="605.45" r="0.85" fill="#5cb232"/>
<circle cx="618.93" cy="605.21" r="0.85" fill="#5cb232"/>
<circle cx="620.74" cy="604.97" r="0.85" fill="#5cb232"/>
<circle cx="622.54" cy="604.72" r="0.85" fill="#5cb232"/>
<circle cx="624.35" cy="604.48" r="0.85" fill="#5cb232"/>
<circle cx="626.16" cy="604.23" r="0.85" fill="#5cb232"/>
<circle cx="627.97" cy="603.62" r="0.85" fill="#e8141b"/>
<circle cx="629.77" cy="603.01" r="0.85" fill="#e8141b"/>
<circle cx="631.58" cy="602.68" r="0.85" fill="#e8141b"/>
<circle cx="633.39" cy="602.35" r="0.85" fill="#e8141b"/>
<circle cx="635.2" cy="602.02" r="0.85" fill="#e8141b"/>
<circle cx="637" cy="601.69" r="0.85" fill="#e8141b"/>
<circle cx="638.81" cy="601.36" r="0.85" fill="#e8141b"/>
<circle cx="640.62" cy="601.03" r="0.85" fill="#e8141b"/>
<circle cx="642.43" cy="600.9" r="0.85" fill="#e8141b"/>
<circle cx="644.24" cy="600.76" r="0.85" fill="#e8141b"/>
<circle cx="646.04" cy="600.62" r="0.85" fill="#e8141b"/>
<circle cx="647.85" cy="600.49" r="0.85" fill="#e8141b"/>
<circle cx="649.66" cy="600.35" r="0.85" fill="#e8141b"/>
<circle cx="651.47" cy="600.22" r="0.85" fill="#e8141b"/>
<circle cx="653.27" cy="600.08" r="0.85" fill="#e8141b"/>
<circle cx="655.08" cy="599.94" r="0.85" fill="#e8141b"/>
<circle cx="656.89" cy="599.81" r="0.85" fill="#e8141b"/>
<circle cx="658.69" cy="599.53" r="0.85" fill="#e8141b"/>
<circle cx="660.5" cy="599.24" r="0.85" fill="#e8141b"/>
<circle cx="662.31" cy="598.96" r="0.85" fill="#e8141b"/>
<circle cx="664.12" cy="598.68" r="0.85" fill="#e8141b"/>
<circle cx="665.92" cy="598.4" r="0.85" fill="#e8141b"/>
<circle cx="667.73" cy="598.11" r="0.85" fill="#e8141b"/>
<circle cx="669.54" cy="597.61" r="0.85" fill="#e8141b"/>
<circle cx="671.35" cy="597.1" r="0.85" fill="#e8141b"/>
<circle cx="673.15" cy="596.59" r="0.85" fill="#e8141b"/>
<circle cx="674.96" cy="596.08" r="0.85" fill="#e8141b"/>
<circle cx="676.77" cy="595.57" r="0.85" fill="#e8141b"/>
<circle cx="678.58" cy="594.87" r="0.85" fill="#e8141b"/>
<circle cx="680.38" cy="594.17" r="0.85" fill="#e8141b"/>
<circle cx="682.19" cy="593.47" r="0.85" fill="#e8141b"/>
<circle cx="684" cy="592.77" r="0.85" fill="#e8141b"/>
<circle cx="685.81" cy="592.07" r="0.85" fill="#e8141b"/>
<circle cx="687.62" cy="591.2" r="0.85" fill="#e8141b"/>
<circle cx="689.42" cy="590.16" r="0.85" fill="#e8141b"/>
<circle cx="691.23" cy="589.13" r="0.85" fill="#e8141b"/>
<circle cx="693.04" cy="588.09" r="0.85" fill="#e8141b"/>
<circle cx="694.85" cy="586.76" r="0.85" fill="#e8141b"/>
<circle cx="696.65" cy="585.13" r="0.85" fill="#e8141b"/>
<circle cx="698.46" cy="583.5" r="0.85" fill="#e8141b"/>
<circle cx="700.27" cy="582.09" r="0.85" fill="#e8141b"/>
<circle cx="702.08" cy="580.89" r="0.85" fill="#e8141b"/>
<circle cx="703.88" cy="574.78" r="0.85" fill="#e8141b"/>
<circle cx="705.69" cy="537.33" r="0.85" fill="#e8141b"/>
<circle cx="707.5" cy="535.44" r="0.85" fill="#e8141b"/>
<line x1="626.2" y1="533.3" x2="626.2" y2="616.7" stroke="#888" stroke-width="0.5" stroke-dasharray="0.7,1.1"/>
<line x1="534.3" y1="604.4" x2="714.6" y2="604.4" stroke="#999" stroke-width="0.55" stroke-dasharray="2,1.3"/>
<rect x="534.3" y="533.3" width="180.3" height="83.4" fill="none" stroke="#999" stroke-width="0.85" />
<line x1="539.4" y1="616.7" x2="539.4" y2="618.7" stroke="#666" stroke-width="0.5" />
<text transform="translate(539.4,626)" font-size="3.6" text-anchor="middle" fill="#333" stroke="#333" stroke-width="0.14" >0</text>
<line x1="575.55" y1="616.7" x2="575.55" y2="618.7" stroke="#666" stroke-width="0.5" />
<text transform="translate(575.55,626)" font-size="3.6" text-anchor="middle" fill="#333" stroke="#333" stroke-width="0.14" >20</text>
<line x1="611.7" y1="616.7" x2="611.7" y2="618.7" stroke="#666" stroke-width="0.5" />
<text transform="translate(611.7,626)" font-size="3.6" text-anchor="middle" fill="#333" stroke="#333" stroke-width="0.14" >40</text>
<line x1="647.85" y1="616.7" x2="647.85" y2="618.7" stroke="#666" stroke-width="0.5" />
<text transform="translate(647.85,626)" font-size="3.6" text-anchor="middle" fill="#333" stroke="#333" stroke-width="0.14" >60</text>
<line x1="684" y1="616.7" x2="684" y2="618.7" stroke="#666" stroke-width="0.5" />
<text transform="translate(684,626)" font-size="3.6" text-anchor="middle" fill="#333" stroke="#333" stroke-width="0.14" >80</text>
<line x1="534.3" y1="614.3" x2="532.3" y2="614.3" stroke="#666" stroke-width="0.5" />
<text transform="translate(530,614.3) rotate(-90)" font-size="3.6" text-anchor="middle" fill="#333" stroke="#333" stroke-width="0.14" >0</text>
<line x1="534.3" y1="595.48" x2="532.3" y2="595.48" stroke="#666" stroke-width="0.5" />
<text transform="translate(530,595.48) rotate(-90)" font-size="3.6" text-anchor="middle" fill="#333" stroke="#333" stroke-width="0.14" >2</text>
<line x1="534.3" y1="576.66" x2="532.3" y2="576.66" stroke="#666" stroke-width="0.5" />
<text transform="translate(530,576.66) rotate(-90)" font-size="3.6" text-anchor="middle" fill="#333" stroke="#333" stroke-width="0.14" >4</text>
<line x1="534.3" y1="557.84" x2="532.3" y2="557.84" stroke="#666" stroke-width="0.5" />
<text transform="translate(530,557.84) rotate(-90)" font-size="3.6" text-anchor="middle" fill="#333" stroke="#333" stroke-width="0.14" >6</text>
<line x1="534.3" y1="539.02" x2="532.3" y2="539.02" stroke="#666" stroke-width="0.5" />
<text transform="translate(530,539.02) rotate(-90)" font-size="3.6" text-anchor="middle" fill="#333" stroke="#333" stroke-width="0.14" >8</text>
<text transform="translate(522.8,575) rotate(-90)" font-size="3.6" text-anchor="middle" fill="#333" stroke="#333" stroke-width="0.14" >Risk score</text>
<text transform="translate(627.45,636) scale(0.95,1)" font-size="3.6" text-anchor="middle" fill="#333" stroke="#333" stroke-width="0.15" >Patients (increasing risk score)</text>
<circle cx="54.98" cy="718.73" r="1" fill="#5cb232"/>
<circle cx="55.96" cy="707.34" r="1" fill="#5cb232"/>
<circle cx="56.57" cy="729.14" r="1" fill="#5cb232"/>
<circle cx="57.18" cy="707.71" r="1" fill="#5cb232"/>
<circle cx="57.8" cy="718.36" r="1" fill="#5cb232"/>
<circle cx="58.41" cy="681.39" r="1" fill="#5cb232"/>
<circle cx="59.26" cy="712.85" r="1" fill="#e8141b"/>
<circle cx="59.88" cy="729.14" r="1" fill="#5cb232"/>
<circle cx="60.61" cy="679.92" r="1" fill="#5cb232"/>
<circle cx="61.47" cy="718.73" r="1" fill="#5cb232"/>
<circle cx="62.08" cy="720.81" r="1" fill="#5cb232"/>
<circle cx="62.69" cy="701.96" r="1" fill="#e8141b"/>
<circle cx="63.43" cy="684.45" r="1" fill="#5cb232"/>
<circle cx="64.16" cy="699.14" r="1" fill="#e8141b"/>
<circle cx="64.9" cy="712.85" r="1" fill="#5cb232"/>
<circle cx="65.75" cy="712.98" r="1" fill="#5cb232"/>
<circle cx="66.37" cy="724.85" r="1" fill="#5cb232"/>
<circle cx="66.98" cy="728.89" r="1" fill="#5cb232"/>
<circle cx="67.59" cy="705.63" r="1" fill="#5cb232"/>
<circle cx="68.45" cy="690.2" r="1" fill="#5cb232"/>
<circle cx="69.06" cy="696.69" r="1" fill="#5cb232"/>
<circle cx="69.8" cy="722.16" r="1" fill="#5cb232"/>
<circle cx="70.53" cy="708.57" r="1" fill="#5cb232"/>
<circle cx="71.26" cy="699.75" r="1" fill="#5cb232"/>
<circle cx="72" cy="658.73" r="1" fill="#5cb232"/>
<circle cx="72.49" cy="705.88" r="1" fill="#5cb232"/>
<circle cx="73.35" cy="698.77" r="1" fill="#5cb232"/>
<circle cx="73.96" cy="725.83" r="1" fill="#e8141b"/>
<circle cx="74.69" cy="728.53" r="1" fill="#5cb232"/>
<circle cx="75.43" cy="670" r="1" fill="#e8141b"/>
<circle cx="76.16" cy="704.65" r="1" fill="#e8141b"/>
<circle cx="77.02" cy="724" r="1" fill="#e8141b"/>
<circle cx="77.63" cy="727.55" r="1" fill="#5cb232"/>
<circle cx="78.37" cy="717.87" r="1" fill="#e8141b"/>
<circle cx="78.98" cy="726.45" r="1" fill="#5cb232"/>
<circle cx="79.59" cy="714.08" r="1" fill="#e8141b"/>
<circle cx="80.45" cy="722.04" r="1" fill="#5cb232"/>
<circle cx="81.06" cy="708.94" r="1" fill="#5cb232"/>
<circle cx="81.79" cy="705.88" r="1" fill="#5cb232"/>
<circle cx="82.53" cy="686.04" r="1" fill="#5cb232"/>
<circle cx="83.26" cy="703.18" r="1" fill="#e8141b"/>
<circle cx="83.88" cy="719.96" r="1" fill="#5cb232"/>
<circle cx="84.49" cy="721.79" r="1" fill="#5cb232"/>
<circle cx="85.47" cy="708.08" r="1" fill="#e8141b"/>
<circle cx="86.2" cy="711.39" r="1" fill="#e8141b"/>
<circle cx="86.94" cy="708.08" r="1" fill="#e8141b"/>
<circle cx="87.43" cy="708.08" r="1" fill="#e8141b"/>
<circle cx="88.16" cy="669.39" r="1" fill="#5cb232"/>
<circle cx="88.9" cy="715.06" r="1" fill="#5cb232"/>
<circle cx="89.63" cy="719.59" r="1" fill="#5cb232"/>
<circle cx="90.37" cy="686.28" r="1" fill="#5cb232"/>
<circle cx="90.98" cy="712.85" r="1" fill="#e8141b"/>
<circle cx="91.71" cy="727.92" r="1" fill="#5cb232"/>
<circle cx="92.45" cy="705.63" r="1" fill="#5cb232"/>
<circle cx="93.18" cy="726.08" r="1" fill="#e8141b"/>
<circle cx="93.92" cy="702.81" r="1" fill="#5cb232"/>
<circle cx="94.65" cy="711.02" r="1" fill="#5cb232"/>
<circle cx="95.26" cy="694.86" r="1" fill="#e8141b"/>
<circle cx="96" cy="697.3" r="1" fill="#e8141b"/>
<circle cx="96.73" cy="721.18" r="1" fill="#e8141b"/>
<circle cx="97.34" cy="708.08" r="1" fill="#5cb232"/>
<circle cx="98.2" cy="719.96" r="1" fill="#e8141b"/>
<circle cx="98.94" cy="715.92" r="1" fill="#e8141b"/>
<circle cx="99.55" cy="695.83" r="1" fill="#5cb232"/>
<circle cx="100.16" cy="730.61" r="1" fill="#5cb232"/>
<circle cx="100.9" cy="707.71" r="1" fill="#e8141b"/>
<circle cx="101.51" cy="683.22" r="1" fill="#5cb232"/>
<circle cx="102.37" cy="719.1" r="1" fill="#e8141b"/>
<circle cx="103.1" cy="728.89" r="1" fill="#e8141b"/>
<circle cx="103.71" cy="712.85" r="1" fill="#5cb232"/>
<circle cx="104.57" cy="716.53" r="1" fill="#e8141b"/>
<circle cx="105.43" cy="716.28" r="1" fill="#e8141b"/>
<circle cx="106.28" cy="722.41" r="1" fill="#5cb232"/>
<circle cx="107.02" cy="705.26" r="1" fill="#e8141b"/>
<circle cx="107.75" cy="723.63" r="1" fill="#e8141b"/>
<circle cx="108.49" cy="719.34" r="1" fill="#e8141b"/>
<circle cx="109.22" cy="726.08" r="1" fill="#5cb232"/>
<circle cx="110.08" cy="718.36" r="1" fill="#5cb232"/>
<circle cx="110.69" cy="707.71" r="1" fill="#e8141b"/>
<circle cx="111.43" cy="695.47" r="1" fill="#e8141b"/>
<circle cx="112.28" cy="727.67" r="1" fill="#5cb232"/>
<circle cx="113.02" cy="707.71" r="1" fill="#e8141b"/>
<circle cx="113.75" cy="726.69" r="1" fill="#e8141b"/>
<circle cx="114.36" cy="719.96" r="1" fill="#5cb232"/>
<circle cx="115.1" cy="715.06" r="1" fill="#5cb232"/>
<circle cx="115.71" cy="713.22" r="1" fill="#e8141b"/>
<circle cx="116.45" cy="708.08" r="1" fill="#e8141b"/>
<circle cx="117.18" cy="722.41" r="1" fill="#e8141b"/>
<circle cx="117.79" cy="730.98" r="1" fill="#e8141b"/>
<circle cx="118.53" cy="726.94" r="1" fill="#5cb232"/>
<circle cx="119.26" cy="730.98" r="1" fill="#e8141b"/>
<circle cx="120" cy="715.67" r="1" fill="#e8141b"/>
<circle cx="120.61" cy="719.1" r="1" fill="#5cb232"/>
<circle cx="121.22" cy="714.45" r="1" fill="#e8141b"/>
<circle cx="122.08" cy="729.75" r="1" fill="#5cb232"/>
<circle cx="122.94" cy="728.53" r="1" fill="#5cb232"/>
<circle cx="123.79" cy="709.79" r="1" fill="#e8141b"/>
<circle cx="124.53" cy="715.67" r="1" fill="#5cb232"/>
<circle cx="125.38" cy="716.65" r="1" fill="#e8141b"/>
<circle cx="126.12" cy="716.9" r="1" fill="#e8141b"/>
<circle cx="126.98" cy="711.75" r="1" fill="#e8141b"/>
<circle cx="127.59" cy="717.51" r="1" fill="#e8141b"/>
<circle cx="128.45" cy="687.75" r="1" fill="#e8141b"/>
<circle cx="129.06" cy="729.14" r="1" fill="#e8141b"/>
<circle cx="129.79" cy="700" r="1" fill="#5cb232"/>
<circle cx="130.65" cy="715.67" r="1" fill="#e8141b"/>
<circle cx="131.26" cy="721.79" r="1" fill="#e8141b"/>
<circle cx="132" cy="719.1" r="1" fill="#e8141b"/>
<circle cx="132.73" cy="730.12" r="1" fill="#e8141b"/>
<circle cx="133.47" cy="702.45" r="1" fill="#5cb232"/>
<circle cx="134.2" cy="718.12" r="1" fill="#e8141b"/>
<circle cx="134.94" cy="720.57" r="1" fill="#5cb232"/>
<circle cx="135.67" cy="708.08" r="1" fill="#e8141b"/>
<circle cx="136.4" cy="711.39" r="1" fill="#e8141b"/>
<circle cx="137.14" cy="707.71" r="1" fill="#e8141b"/>
<circle cx="137.63" cy="724.49" r="1" fill="#e8141b"/>
<circle cx="137.65" cy="724.49" r="1" fill="#e8141b"/>
<circle cx="138.51" cy="716.28" r="1" fill="#e8141b"/>
<circle cx="139.12" cy="718.12" r="1" fill="#e8141b"/>
<circle cx="139.73" cy="712" r="1" fill="#e8141b"/>
<circle cx="140.59" cy="713.22" r="1" fill="#e8141b"/>
<circle cx="141.33" cy="722.41" r="1" fill="#e8141b"/>
<circle cx="142.18" cy="712.98" r="1" fill="#e8141b"/>
<circle cx="143.04" cy="704.9" r="1" fill="#e8141b"/>
<circle cx="143.78" cy="710.16" r="1" fill="#e8141b"/>
<circle cx="144.63" cy="722.04" r="1" fill="#e8141b"/>
<circle cx="145.24" cy="715.06" r="1" fill="#e8141b"/>
<circle cx="146.1" cy="712.61" r="1" fill="#e8141b"/>
<circle cx="146.71" cy="703.18" r="1" fill="#e8141b"/>
<circle cx="147.45" cy="729.38" r="1" fill="#e8141b"/>
<circle cx="148.18" cy="704.65" r="1" fill="#5cb232"/>
<circle cx="148.67" cy="729.75" r="1" fill="#5cb232"/>
<circle cx="149.53" cy="730.36" r="1" fill="#5cb232"/>
<circle cx="150.39" cy="729.38" r="1" fill="#e8141b"/>
<circle cx="151.12" cy="718.73" r="1" fill="#5cb232"/>
<circle cx="151.98" cy="729.75" r="1" fill="#5cb232"/>
<circle cx="152.96" cy="696.32" r="1" fill="#e8141b"/>
<circle cx="153.82" cy="723.02" r="1" fill="#5cb232"/>
<circle cx="154.55" cy="712.85" r="1" fill="#e8141b"/>
<circle cx="155.28" cy="715.43" r="1" fill="#e8141b"/>
<circle cx="156.02" cy="729.14" r="1" fill="#5cb232"/>
<circle cx="156.75" cy="726.69" r="1" fill="#5cb232"/>
<circle cx="157.49" cy="712" r="1" fill="#5cb232"/>
<circle cx="158.35" cy="727.67" r="1" fill="#5cb232"/>
<circle cx="159.08" cy="727.3" r="1" fill="#5cb232"/>
<circle cx="159.69" cy="708.94" r="1" fill="#e8141b"/>
<circle cx="160.43" cy="715.92" r="1" fill="#e8141b"/>
<circle cx="161.16" cy="722.04" r="1" fill="#e8141b"/>
<circle cx="161.65" cy="719.59" r="1" fill="#5cb232"/>
<circle cx="162.39" cy="715.43" r="1" fill="#e8141b"/>
<circle cx="163" cy="705.26" r="1" fill="#e8141b"/>
<circle cx="163.73" cy="727.67" r="1" fill="#5cb232"/>
<circle cx="164.35" cy="726.08" r="1" fill="#e8141b"/>
<circle cx="165.08" cy="708.57" r="1" fill="#e8141b"/>
<circle cx="165.81" cy="718.73" r="1" fill="#5cb232"/>
<circle cx="166.55" cy="730.36" r="1" fill="#5cb232"/>
<circle cx="167.28" cy="721.18" r="1" fill="#e8141b"/>
<circle cx="168.02" cy="725.22" r="1" fill="#e8141b"/>
<circle cx="168.75" cy="724.49" r="1" fill="#e8141b"/>
<circle cx="169.49" cy="717.87" r="1" fill="#e8141b"/>
<circle cx="170.22" cy="716.65" r="1" fill="#e8141b"/>
<circle cx="170.96" cy="723.02" r="1" fill="#e8141b"/>
<circle cx="171.57" cy="706.49" r="1" fill="#e8141b"/>
<circle cx="172.18" cy="716.65" r="1" fill="#e8141b"/>
<circle cx="172.92" cy="715.06" r="1" fill="#e8141b"/>
<circle cx="173.65" cy="720.32" r="1" fill="#e8141b"/>
<circle cx="174.39" cy="729.75" r="1" fill="#5cb232"/>
<circle cx="175.12" cy="720.81" r="1" fill="#e8141b"/>
<circle cx="175.86" cy="724" r="1" fill="#e8141b"/>
<circle cx="176.47" cy="719.1" r="1" fill="#e8141b"/>
<circle cx="177.2" cy="727.92" r="1" fill="#e8141b"/>
<circle cx="177.94" cy="711.39" r="1" fill="#e8141b"/>
<circle cx="178.55" cy="728.89" r="1" fill="#5cb232"/>
<circle cx="179.28" cy="712.98" r="1" fill="#e8141b"/>
<circle cx="180.02" cy="716.65" r="1" fill="#e8141b"/>
<circle cx="180.75" cy="712.61" r="1" fill="#5cb232"/>
<circle cx="181.49" cy="730.61" r="1" fill="#e8141b"/>
<circle cx="181.98" cy="727.67" r="1" fill="#5cb232"/>
<circle cx="182.71" cy="721.79" r="1" fill="#e8141b"/>
<circle cx="183.45" cy="707.34" r="1" fill="#e8141b"/>
<circle cx="184.18" cy="721.79" r="1" fill="#e8141b"/>
<circle cx="184.92" cy="725.22" r="1" fill="#5cb232"/>
<circle cx="185.65" cy="711.02" r="1" fill="#e8141b"/>
<circle cx="186.39" cy="723.63" r="1" fill="#e8141b"/>
<circle cx="187.12" cy="728.53" r="1" fill="#5cb232"/>
<circle cx="187.85" cy="713.83" r="1" fill="#5cb232"/>
<circle cx="188.59" cy="714.2" r="1" fill="#e8141b"/>
<circle cx="189.32" cy="714.45" r="1" fill="#e8141b"/>
<circle cx="190.06" cy="724.85" r="1" fill="#e8141b"/>
<circle cx="190.79" cy="716.65" r="1" fill="#e8141b"/>
<circle cx="191.41" cy="704.65" r="1" fill="#5cb232"/>
<circle cx="192.14" cy="722.41" r="1" fill="#e8141b"/>
<circle cx="192.88" cy="723.63" r="1" fill="#5cb232"/>
<circle cx="193.61" cy="715.43" r="1" fill="#e8141b"/>
<circle cx="194.22" cy="716.9" r="1" fill="#e8141b"/>
<circle cx="194.96" cy="730.61" r="1" fill="#e8141b"/>
<circle cx="195.57" cy="709.3" r="1" fill="#e8141b"/>
<circle cx="196.3" cy="715.67" r="1" fill="#e8141b"/>
<circle cx="197.04" cy="716.28" r="1" fill="#e8141b"/>
<circle cx="197.9" cy="715.92" r="1" fill="#e8141b"/>
<circle cx="198.63" cy="730.61" r="1" fill="#e8141b"/>
<circle cx="199.24" cy="715.43" r="1" fill="#e8141b"/>
<circle cx="199.85" cy="722.41" r="1" fill="#e8141b"/>
<circle cx="200.59" cy="723.63" r="1" fill="#e8141b"/>
<circle cx="201.32" cy="730.36" r="1" fill="#e8141b"/>
<circle cx="201.94" cy="729.75" r="1" fill="#5cb232"/>
<circle cx="202.67" cy="716.28" r="1" fill="#e8141b"/>
<circle cx="203.41" cy="716.9" r="1" fill="#e8141b"/>
<circle cx="204.02" cy="723.63" r="1" fill="#e8141b"/>
<circle cx="204.75" cy="722.77" r="1" fill="#e8141b"/>
<circle cx="205.49" cy="729.38" r="1" fill="#e8141b"/>
<circle cx="206.22" cy="722.77" r="1" fill="#e8141b"/>
<circle cx="206.96" cy="726.69" r="1" fill="#e8141b"/>
<circle cx="207.69" cy="728.16" r="1" fill="#5cb232"/>
<circle cx="208.43" cy="718.12" r="1" fill="#e8141b"/>
<circle cx="209.16" cy="717.51" r="1" fill="#e8141b"/>
<circle cx="210.14" cy="723.02" r="1" fill="#e8141b"/>
<circle cx="210.87" cy="728.53" r="1" fill="#e8141b"/>
<circle cx="211.61" cy="718.12" r="1" fill="#e8141b"/>
<circle cx="212.34" cy="718.73" r="1" fill="#e8141b"/>
<circle cx="213.2" cy="725.47" r="1" fill="#e8141b"/>
<circle cx="213.81" cy="722.77" r="1" fill="#e8141b"/>
<circle cx="214.43" cy="720.81" r="1" fill="#5cb232"/>
<circle cx="215.28" cy="725.71" r="1" fill="#e8141b"/>
<line x1="135" y1="656" x2="135" y2="733.3" stroke="#888" stroke-width="0.5" stroke-dasharray="0.7,1.1"/>
<rect x="48.5" y="656" width="174.3" height="77.3" fill="none" stroke="#999" stroke-width="0.85" />
<line x1="54.5" y1="733.3" x2="54.5" y2="735.3" stroke="#666" stroke-width="0.5" />
<text transform="translate(54.5,742.3)" font-size="3.6" text-anchor="middle" fill="#333" stroke="#333" stroke-width="0.14" >0</text>
<line x1="89.72" y1="733.3" x2="89.72" y2="735.3" stroke="#666" stroke-width="0.5" />
<text transform="translate(89.72,742.3)" font-size="3.6" text-anchor="middle" fill="#333" stroke="#333" stroke-width="0.14" >50</text>
<line x1="124.95" y1="733.3" x2="124.95" y2="735.3" stroke="#666" stroke-width="0.5" />
<text transform="translate(124.95,742.3)" font-size="3.6" text-anchor="middle" fill="#333" stroke="#333" stroke-width="0.14" >100</text>
<line x1="160.18" y1="733.3" x2="160.18" y2="735.3" stroke="#666" stroke-width="0.5" />
<text transform="translate(160.18,742.3)" font-size="3.6" text-anchor="middle" fill="#333" stroke="#333" stroke-width="0.14" >150</text>
<line x1="195.4" y1="733.3" x2="195.4" y2="735.3" stroke="#666" stroke-width="0.5" />
<text transform="translate(195.4,742.3)" font-size="3.6" text-anchor="middle" fill="#333" stroke="#333" stroke-width="0.14" >200</text>
<line x1="48.5" y1="730.8" x2="46.5" y2="730.8" stroke="#666" stroke-width="0.5" />
<text transform="translate(43.7,730.8) rotate(-90)" font-size="3.6" text-anchor="middle" fill="#333" stroke="#333" stroke-width="0.14" >0</text>
<line x1="48.5" y1="706.8" x2="46.5" y2="706.8" stroke="#666" stroke-width="0.5" />
<text transform="translate(43.7,706.8) rotate(-90)" font-size="3.6" text-anchor="middle" fill="#333" stroke="#333" stroke-width="0.14" >5</text>
<line x1="48.5" y1="682.8" x2="46.5" y2="682.8" stroke="#666" stroke-width="0.5" />
<text transform="translate(43.7,682.8) rotate(-90)" font-size="3.6" text-anchor="middle" fill="#333" stroke="#333" stroke-width="0.14" >10</text>
<line x1="48.5" y1="658.8" x2="46.5" y2="658.8" stroke="#666" stroke-width="0.5" />
<text transform="translate(43.7,658.8) rotate(-90)" font-size="3.6" text-anchor="middle" fill="#333" stroke="#333" stroke-width="0.14" >15</text>
<text transform="translate(37.7,694.65) rotate(-90)" font-size="3.4" text-anchor="middle" fill="#333" stroke="#333" stroke-width="0.14" >Survival time(years)</text>
<text transform="translate(138.65,751.5) scale(0.95,1)" font-size="3.6" text-anchor="middle" fill="#333" stroke="#333" stroke-width="0.15" >Patients(increasing risk score)</text>
<circle cx="299.03" cy="719.65" r="1.1" fill="#e8141b"/>
<circle cx="300.09" cy="700.53" r="1.1" fill="#e8141b"/>
<circle cx="302.21" cy="725.84" r="1.1" fill="#e8141b"/>
<circle cx="303.27" cy="712.92" r="1.1" fill="#e8141b"/>
<circle cx="304.34" cy="701.42" r="1.1" fill="#e8141b"/>
<circle cx="305.4" cy="728.14" r="1.1" fill="#5cb232"/>
<circle cx="306.64" cy="695.22" r="1.1" fill="#5cb232"/>
<circle cx="307.7" cy="720.18" r="1.1" fill="#e8141b"/>
<circle cx="308.76" cy="698.41" r="1.1" fill="#5cb232"/>
<circle cx="309.82" cy="721.06" r="1.1" fill="#5cb232"/>
<circle cx="310.88" cy="690.09" r="1.1" fill="#5cb232"/>
<circle cx="311.95" cy="720" r="1.1" fill="#5cb232"/>
<circle cx="313.01" cy="689.91" r="1.1" fill="#e8141b"/>
<circle cx="314.07" cy="698.41" r="1.1" fill="#e8141b"/>
<circle cx="315.31" cy="710.8" r="1.1" fill="#e8141b"/>
<circle cx="316.37" cy="736.46" r="1.1" fill="#e8141b"/>
<circle cx="317.43" cy="720.88" r="1.1" fill="#5cb232"/>
<circle cx="318.5" cy="717.88" r="1.1" fill="#5cb232"/>
<circle cx="319.56" cy="673.98" r="1.1" fill="#5cb232"/>
<circle cx="320.8" cy="713.45" r="1.1" fill="#5cb232"/>
<circle cx="321.86" cy="677.17" r="1.1" fill="#e8141b"/>
<circle cx="322.92" cy="721.06" r="1.1" fill="#e8141b"/>
<circle cx="323.98" cy="710.8" r="1.1" fill="#e8141b"/>
<circle cx="325.04" cy="677.52" r="1.1" fill="#5cb232"/>
<circle cx="326.11" cy="666.55" r="1.1" fill="#5cb232"/>
<circle cx="327.35" cy="726.37" r="1.1" fill="#e8141b"/>
<circle cx="328.41" cy="687.79" r="1.1" fill="#e8141b"/>
<circle cx="329.47" cy="712.21" r="1.1" fill="#5cb232"/>
<circle cx="330.53" cy="713.98" r="1.1" fill="#e8141b"/>
<circle cx="331.59" cy="723.19" r="1.1" fill="#5cb232"/>
<circle cx="332.65" cy="692.74" r="1.1" fill="#5cb232"/>
<circle cx="333.89" cy="726.73" r="1.1" fill="#e8141b"/>
<circle cx="334.96" cy="688.14" r="1.1" fill="#e8141b"/>
<circle cx="336.02" cy="728.5" r="1.1" fill="#e8141b"/>
<circle cx="337.08" cy="713.98" r="1.1" fill="#e8141b"/>
<circle cx="338.14" cy="681.06" r="1.1" fill="#e8141b"/>
<circle cx="339.2" cy="691.33" r="1.1" fill="#5cb232"/>
<circle cx="340.27" cy="720.88" r="1.1" fill="#e8141b"/>
<circle cx="341.5" cy="708.14" r="1.1" fill="#e8141b"/>
<circle cx="342.57" cy="717.88" r="1.1" fill="#e8141b"/>
<circle cx="343.63" cy="704.07" r="1.1" fill="#e8141b"/>
<circle cx="344.69" cy="719.65" r="1.1" fill="#e8141b"/>
<circle cx="345.75" cy="672.21" r="1.1" fill="#e8141b"/>
<circle cx="346.81" cy="712.21" r="1.1" fill="#e8141b"/>
<circle cx="348.05" cy="714.34" r="1.1" fill="#e8141b"/>
<circle cx="349.12" cy="726.73" r="1.1" fill="#5cb232"/>
<circle cx="350.18" cy="668.67" r="1.1" fill="#e8141b"/>
<circle cx="351.24" cy="724.07" r="1.1" fill="#5cb232"/>
<circle cx="352.3" cy="674.51" r="1.1" fill="#5cb232"/>
<circle cx="353.36" cy="692.74" r="1.1" fill="#e8141b"/>
<circle cx="354.6" cy="702.83" r="1.1" fill="#e8141b"/>
<circle cx="355.66" cy="726.73" r="1.1" fill="#5cb232"/>
<circle cx="356.73" cy="692.74" r="1.1" fill="#5cb232"/>
<circle cx="357.79" cy="708.14" r="1.1" fill="#e8141b"/>
<circle cx="358.85" cy="716.99" r="1.1" fill="#e8141b"/>
<circle cx="359.91" cy="734.69" r="1.1" fill="#5cb232"/>
<circle cx="361.15" cy="708.14" r="1.1" fill="#e8141b"/>
<circle cx="362.21" cy="719.12" r="1.1" fill="#5cb232"/>
<circle cx="363.27" cy="733.45" r="1.1" fill="#5cb232"/>
<circle cx="364.34" cy="709.91" r="1.1" fill="#e8141b"/>
<circle cx="365.4" cy="731.15" r="1.1" fill="#e8141b"/>
<circle cx="366.46" cy="686.9" r="1.1" fill="#e8141b"/>
<circle cx="367.7" cy="734.16" r="1.1" fill="#5cb232"/>
<circle cx="368.76" cy="733.45" r="1.1" fill="#5cb232"/>
<circle cx="369.82" cy="712.92" r="1.1" fill="#e8141b"/>
<circle cx="370.88" cy="710.8" r="1.1" fill="#e8141b"/>
<circle cx="371.95" cy="700.53" r="1.1" fill="#5cb232"/>
<circle cx="373.01" cy="733.45" r="1.1" fill="#5cb232"/>
<circle cx="374.07" cy="692.21" r="1.1" fill="#e8141b"/>
<circle cx="374.49" cy="692.2" r="1.1" fill="#e8141b"/>
<circle cx="375.54" cy="702.08" r="1.1" fill="#e8141b"/>
<circle cx="376.73" cy="725.58" r="1.1" fill="#5cb232"/>
<circle cx="377.48" cy="726.32" r="1.1" fill="#5cb232"/>
<circle cx="378.53" cy="706.57" r="1.1" fill="#e8141b"/>
<circle cx="379.73" cy="729.77" r="1.1" fill="#e8141b"/>
<circle cx="380.78" cy="710.61" r="1.1" fill="#e8141b"/>
<circle cx="381.97" cy="725.13" r="1.1" fill="#e8141b"/>
<circle cx="383.02" cy="725.88" r="1.1" fill="#5cb232"/>
<circle cx="384.07" cy="730.07" r="1.1" fill="#e8141b"/>
<circle cx="385.12" cy="707.17" r="1.1" fill="#e8141b"/>
<circle cx="386.16" cy="690.86" r="1.1" fill="#e8141b"/>
<circle cx="387.21" cy="732.61" r="1.1" fill="#5cb232"/>
<circle cx="388.26" cy="735" r="1.1" fill="#e8141b"/>
<circle cx="389.46" cy="715.1" r="1.1" fill="#e8141b"/>
<circle cx="390.5" cy="732.61" r="1.1" fill="#5cb232"/>
<circle cx="391.7" cy="736.05" r="1.1" fill="#e8141b"/>
<circle cx="392.75" cy="691.6" r="1.1" fill="#5cb232"/>
<circle cx="393.65" cy="689.21" r="1.1" fill="#5cb232"/>
<circle cx="394.84" cy="735" r="1.1" fill="#e8141b"/>
<circle cx="395.89" cy="718.84" r="1.1" fill="#5cb232"/>
<circle cx="397.09" cy="731.26" r="1.1" fill="#e8141b"/>
<circle cx="398.14" cy="724.23" r="1.1" fill="#e8141b"/>
<circle cx="399.18" cy="735.6" r="1.1" fill="#5cb232"/>
<circle cx="400.38" cy="694.6" r="1.1" fill="#e8141b"/>
<circle cx="401.43" cy="728.57" r="1.1" fill="#5cb232"/>
<circle cx="402.48" cy="726.62" r="1.1" fill="#5cb232"/>
<circle cx="403.52" cy="721.83" r="1.1" fill="#e8141b"/>
<circle cx="404.72" cy="709.41" r="1.1" fill="#e8141b"/>
<circle cx="405.77" cy="726.62" r="1.1" fill="#e8141b"/>
<circle cx="406.82" cy="730.07" r="1.1" fill="#5cb232"/>
<circle cx="408.01" cy="722.58" r="1.1" fill="#5cb232"/>
<circle cx="409.21" cy="729.62" r="1.1" fill="#5cb232"/>
<circle cx="410.11" cy="700.88" r="1.1" fill="#e8141b"/>
<circle cx="411.3" cy="706.87" r="1.1" fill="#e8141b"/>
<circle cx="412.35" cy="729.77" r="1.1" fill="#5cb232"/>
<circle cx="413.4" cy="721.83" r="1.1" fill="#e8141b"/>
<circle cx="414.45" cy="724.08" r="1.1" fill="#e8141b"/>
<circle cx="415.65" cy="733.36" r="1.1" fill="#5cb232"/>
<circle cx="416.69" cy="712.11" r="1.1" fill="#e8141b"/>
<circle cx="417.89" cy="712.11" r="1.1" fill="#e8141b"/>
<circle cx="418.94" cy="679.18" r="1.1" fill="#e8141b"/>
<circle cx="419.99" cy="664.22" r="1.1" fill="#5cb232"/>
<circle cx="421.03" cy="712.11" r="1.1" fill="#e8141b"/>
<circle cx="422.23" cy="717.64" r="1.1" fill="#e8141b"/>
<circle cx="423.28" cy="735.75" r="1.1" fill="#e8141b"/>
<circle cx="424.33" cy="715.85" r="1.1" fill="#e8141b"/>
<circle cx="425.52" cy="730.51" r="1.1" fill="#5cb232"/>
<circle cx="426.57" cy="733.36" r="1.1" fill="#5cb232"/>
<circle cx="427.62" cy="714.35" r="1.1" fill="#e8141b"/>
<circle cx="428.67" cy="721.09" r="1.1" fill="#e8141b"/>
<circle cx="429.86" cy="711.66" r="1.1" fill="#e8141b"/>
<circle cx="430.91" cy="724.23" r="1.1" fill="#5cb232"/>
<circle cx="431.96" cy="734.85" r="1.1" fill="#e8141b"/>
<circle cx="433.01" cy="729.32" r="1.1" fill="#e8141b"/>
<circle cx="434.2" cy="704.62" r="1.1" fill="#e8141b"/>
<circle cx="435.25" cy="701.33" r="1.1" fill="#5cb232"/>
<circle cx="436.3" cy="724.83" r="1.1" fill="#e8141b"/>
<circle cx="437.49" cy="730.37" r="1.1" fill="#e8141b"/>
<circle cx="438.54" cy="668.71" r="1.1" fill="#5cb232"/>
<circle cx="439.59" cy="700.13" r="1.1" fill="#e8141b"/>
<circle cx="440.64" cy="711.66" r="1.1" fill="#e8141b"/>
<circle cx="441.83" cy="723.78" r="1.1" fill="#e8141b"/>
<circle cx="442.88" cy="735.3" r="1.1" fill="#e8141b"/>
<circle cx="443.93" cy="700.88" r="1.1" fill="#e8141b"/>
<circle cx="444.98" cy="709.56" r="1.1" fill="#e8141b"/>
<circle cx="446.17" cy="727.07" r="1.1" fill="#e8141b"/>
<circle cx="447.22" cy="720.64" r="1.1" fill="#e8141b"/>
<circle cx="448.27" cy="726.32" r="1.1" fill="#e8141b"/>
<circle cx="449.32" cy="726.32" r="1.1" fill="#e8141b"/>
<circle cx="450.51" cy="703.58" r="1.1" fill="#5cb232"/>
<circle cx="451.56" cy="714.65" r="1.1" fill="#5cb232"/>
<circle cx="452.61" cy="730.07" r="1.1" fill="#e8141b"/>
<circle cx="453.81" cy="726.32" r="1.1" fill="#e8141b"/>
<circle cx="454.85" cy="734.11" r="1.1" fill="#5cb232"/>
<circle cx="455.9" cy="735" r="1.1" fill="#5cb232"/>
<circle cx="456.95" cy="713.6" r="1.1" fill="#e8141b"/>
<circle cx="458.15" cy="708.37" r="1.1" fill="#5cb232"/>
<circle cx="459.19" cy="733.36" r="1.1" fill="#5cb232"/>
<circle cx="460.24" cy="727.07" r="1.1" fill="#e8141b"/>
<line x1="375.2" y1="661.4" x2="375.2" y2="739.1" stroke="#888" stroke-width="0.5" stroke-dasharray="0.7,1.1"/>
<rect x="293.6" y="661.4" width="173.4" height="77.7" fill="none" stroke="#999" stroke-width="0.85" />
<line x1="299" y1="739.1" x2="299" y2="741.1" stroke="#666" stroke-width="0.5" />
<text transform="translate(299,747.5)" font-size="3.6" text-anchor="middle" fill="#333" stroke="#333" stroke-width="0.14" >0</text>
<line x1="353.44" y1="739.1" x2="353.44" y2="741.1" stroke="#666" stroke-width="0.5" />
<text transform="translate(353.44,747.5)" font-size="3.6" text-anchor="middle" fill="#333" stroke="#333" stroke-width="0.14" >50</text>
<line x1="407.87" y1="739.1" x2="407.87" y2="741.1" stroke="#666" stroke-width="0.5" />
<text transform="translate(407.87,747.5)" font-size="3.6" text-anchor="middle" fill="#333" stroke="#333" stroke-width="0.14" >100</text>
<line x1="462.31" y1="739.1" x2="462.31" y2="741.1" stroke="#666" stroke-width="0.5" />
<text transform="translate(462.31,747.5)" font-size="3.6" text-anchor="middle" fill="#333" stroke="#333" stroke-width="0.14" >150</text>
<line x1="293.6" y1="736.4" x2="291.6" y2="736.4" stroke="#666" stroke-width="0.5" />
<text transform="translate(288.8,736.4) rotate(-90)" font-size="3.6" text-anchor="middle" fill="#333" stroke="#333" stroke-width="0.14" >0</text>
<line x1="293.6" y1="723.4" x2="291.6" y2="723.4" stroke="#666" stroke-width="0.5" />
<text transform="translate(288.8,723.4) rotate(-90)" font-size="3.6" text-anchor="middle" fill="#333" stroke="#333" stroke-width="0.14" >2</text>
<line x1="293.6" y1="710.4" x2="291.6" y2="710.4" stroke="#666" stroke-width="0.5" />
<text transform="translate(288.8,710.4) rotate(-90)" font-size="3.6" text-anchor="middle" fill="#333" stroke="#333" stroke-width="0.14" >4</text>
<line x1="293.6" y1="697.4" x2="291.6" y2="697.4" stroke="#666" stroke-width="0.5" />
<text transform="translate(288.8,697.4) rotate(-90)" font-size="3.6" text-anchor="middle" fill="#333" stroke="#333" stroke-width="0.14" >6</text>
<line x1="293.6" y1="684.4" x2="291.6" y2="684.4" stroke="#666" stroke-width="0.5" />
<text transform="translate(288.8,684.4) rotate(-90)" font-size="3.6" text-anchor="middle" fill="#333" stroke="#333" stroke-width="0.14" >8</text>
<line x1="293.6" y1="671.4" x2="291.6" y2="671.4" stroke="#666" stroke-width="0.5" />
<text transform="translate(288.8,671.4) rotate(-90)" font-size="3.6" text-anchor="middle" fill="#333" stroke="#333" stroke-width="0.14" >10</text>
<text transform="translate(282.7,700.25) rotate(-90)" font-size="3.4" text-anchor="middle" fill="#333" stroke="#333" stroke-width="0.14" >Survival time(years)</text>
<text transform="translate(383.3,757.3) scale(0.95,1)" font-size="3.6" text-anchor="middle" fill="#333" stroke="#333" stroke-width="0.15" >Patients(increasing risk score)</text>
<circle cx="544.22" cy="727.56" r="1.15" fill="#e8141b"/>
<circle cx="546.03" cy="724.97" r="1.15" fill="#5cb232"/>
<circle cx="547.58" cy="708.17" r="1.15" fill="#5cb232"/>
<circle cx="549.39" cy="722.91" r="1.15" fill="#e8141b"/>
<circle cx="551.2" cy="696.54" r="1.15" fill="#5cb232"/>
<circle cx="552.75" cy="701.71" r="1.15" fill="#5cb232"/>
<circle cx="554.56" cy="703.52" r="1.15" fill="#5cb232"/>
<circle cx="556.37" cy="717.99" r="1.15" fill="#e8141b"/>
<circle cx="557.92" cy="724.97" r="1.15" fill="#5cb232"/>
<circle cx="559.73" cy="727.56" r="1.15" fill="#e8141b"/>
<circle cx="561.54" cy="706.88" r="1.15" fill="#e8141b"/>
<circle cx="563.09" cy="708.17" r="1.15" fill="#5cb232"/>
<circle cx="564.9" cy="712.05" r="1.15" fill="#e8141b"/>
<circle cx="566.71" cy="721.1" r="1.15" fill="#e8141b"/>
<circle cx="568.26" cy="732.73" r="1.15" fill="#e8141b"/>
<circle cx="570.07" cy="730.14" r="1.15" fill="#e8141b"/>
<circle cx="571.88" cy="689.56" r="1.15" fill="#5cb232"/>
<circle cx="573.43" cy="712.05" r="1.15" fill="#e8141b"/>
<circle cx="575.24" cy="722.39" r="1.15" fill="#e8141b"/>
<circle cx="577.05" cy="717.99" r="1.15" fill="#e8141b"/>
<circle cx="578.6" cy="724.46" r="1.15" fill="#e8141b"/>
<circle cx="580.41" cy="724.97" r="1.15" fill="#e8141b"/>
<circle cx="582.22" cy="710.24" r="1.15" fill="#e8141b"/>
<circle cx="583.77" cy="723.68" r="1.15" fill="#e8141b"/>
<circle cx="585.58" cy="729.37" r="1.15" fill="#e8141b"/>
<circle cx="587.39" cy="705.58" r="1.15" fill="#e8141b"/>
<circle cx="588.95" cy="721.1" r="1.15" fill="#e8141b"/>
<circle cx="590.75" cy="717.99" r="1.15" fill="#e8141b"/>
<circle cx="592.56" cy="722.39" r="1.15" fill="#e8141b"/>
<circle cx="594.63" cy="705.58" r="1.15" fill="#e8141b"/>
<circle cx="596.44" cy="690.85" r="1.15" fill="#5cb232"/>
<circle cx="597.99" cy="661.12" r="1.15" fill="#5cb232"/>
<circle cx="599.8" cy="733.25" r="1.15" fill="#5cb232"/>
<circle cx="601.61" cy="718.51" r="1.15" fill="#e8141b"/>
<circle cx="603.16" cy="722.39" r="1.15" fill="#e8141b"/>
<circle cx="604.97" cy="723.68" r="1.15" fill="#5cb232"/>
<circle cx="606.78" cy="727.04" r="1.15" fill="#e8141b"/>
<circle cx="608.34" cy="724.2" r="1.15" fill="#5cb232"/>
<circle cx="610.14" cy="726.78" r="1.15" fill="#e8141b"/>
<circle cx="611.95" cy="712.05" r="1.15" fill="#e8141b"/>
<circle cx="613.51" cy="700.41" r="1.15" fill="#e8141b"/>
<circle cx="615.32" cy="727.04" r="1.15" fill="#e8141b"/>
<circle cx="617.13" cy="731.44" r="1.15" fill="#e8141b"/>
<circle cx="618.68" cy="725.49" r="1.15" fill="#5cb232"/>
<circle cx="620.49" cy="719.03" r="1.15" fill="#e8141b"/>
<circle cx="622.3" cy="720.58" r="1.15" fill="#e8141b"/>
<circle cx="623.85" cy="726.78" r="1.15" fill="#e8141b"/>
<circle cx="626.17" cy="699.64" r="1.15" fill="#5cb232"/>
<circle cx="627.72" cy="730.66" r="1.15" fill="#e8141b"/>
<circle cx="629.53" cy="726.78" r="1.15" fill="#e8141b"/>
<circle cx="631.34" cy="729.37" r="1.15" fill="#e8141b"/>
<circle cx="632.9" cy="729.63" r="1.15" fill="#e8141b"/>
<circle cx="634.71" cy="712.56" r="1.15" fill="#5cb232"/>
<circle cx="636.51" cy="729.63" r="1.15" fill="#e8141b"/>
<circle cx="638.07" cy="727.56" r="1.15" fill="#e8141b"/>
<circle cx="639.88" cy="727.56" r="1.15" fill="#e8141b"/>
<circle cx="641.69" cy="730.14" r="1.15" fill="#5cb232"/>
<circle cx="643.24" cy="730.14" r="1.15" fill="#e8141b"/>
<circle cx="645.05" cy="732.73" r="1.15" fill="#e8141b"/>
<circle cx="646.86" cy="700.93" r="1.15" fill="#5cb232"/>
<circle cx="648.41" cy="727.56" r="1.15" fill="#e8141b"/>
<circle cx="650.22" cy="717.99" r="1.15" fill="#e8141b"/>
<circle cx="652.03" cy="726.27" r="1.15" fill="#e8141b"/>
<circle cx="653.58" cy="730.66" r="1.15" fill="#e8141b"/>
<circle cx="655.39" cy="724.2" r="1.15" fill="#e8141b"/>
<circle cx="657.2" cy="724.97" r="1.15" fill="#e8141b"/>
<circle cx="658.75" cy="717.99" r="1.15" fill="#e8141b"/>
<circle cx="660.56" cy="727.04" r="1.15" fill="#e8141b"/>
<circle cx="662.37" cy="727.56" r="1.15" fill="#e8141b"/>
<circle cx="663.92" cy="728.34" r="1.15" fill="#e8141b"/>
<circle cx="665.73" cy="709.98" r="1.15" fill="#e8141b"/>
<circle cx="667.54" cy="695.5" r="1.15" fill="#e8141b"/>
<circle cx="669.09" cy="714.12" r="1.15" fill="#e8141b"/>
<circle cx="670.9" cy="715.93" r="1.15" fill="#5cb232"/>
<circle cx="672.71" cy="727.56" r="1.15" fill="#e8141b"/>
<circle cx="674.26" cy="731.44" r="1.15" fill="#e8141b"/>
<circle cx="676.07" cy="727.04" r="1.15" fill="#e8141b"/>
<circle cx="677.88" cy="732.21" r="1.15" fill="#e8141b"/>
<circle cx="679.95" cy="713.86" r="1.15" fill="#e8141b"/>
<circle cx="681.76" cy="727.04" r="1.15" fill="#e8141b"/>
<circle cx="683.31" cy="723.68" r="1.15" fill="#e8141b"/>
<circle cx="685.12" cy="732.73" r="1.15" fill="#e8141b"/>
<circle cx="686.93" cy="728.85" r="1.15" fill="#e8141b"/>
<circle cx="688.48" cy="727.04" r="1.15" fill="#e8141b"/>
<circle cx="690.29" cy="732.73" r="1.15" fill="#e8141b"/>
<circle cx="692.1" cy="730.66" r="1.15" fill="#e8141b"/>
<circle cx="693.65" cy="715.41" r="1.15" fill="#e8141b"/>
<circle cx="695.46" cy="730.92" r="1.15" fill="#e8141b"/>
<circle cx="697.27" cy="727.04" r="1.15" fill="#e8141b"/>
<circle cx="698.82" cy="731.44" r="1.15" fill="#e8141b"/>
<circle cx="700.63" cy="714.63" r="1.15" fill="#e8141b"/>
<circle cx="702.44" cy="711.27" r="1.15" fill="#e8141b"/>
<circle cx="704.51" cy="716.7" r="1.15" fill="#e8141b"/>
<line x1="626.2" y1="658.7" x2="626.2" y2="738" stroke="#888" stroke-width="0.5" stroke-dasharray="0.7,1.1"/>
<rect x="537.7" y="658.7" width="172.8" height="79.3" fill="none" stroke="#999" stroke-width="0.85" />
<line x1="542.1" y1="738" x2="542.1" y2="740" stroke="#666" stroke-width="0.5" />
<text transform="translate(542.1,745.4)" font-size="3.6" text-anchor="middle" fill="#333" stroke="#333" stroke-width="0.14" >0</text>
<line x1="577.15" y1="738" x2="577.15" y2="740" stroke="#666" stroke-width="0.5" />
<text transform="translate(577.15,745.4)" font-size="3.6" text-anchor="middle" fill="#333" stroke="#333" stroke-width="0.14" >20</text>
<line x1="612.2" y1="738" x2="612.2" y2="740" stroke="#666" stroke-width="0.5" />
<text transform="translate(612.2,745.4)" font-size="3.6" text-anchor="middle" fill="#333" stroke="#333" stroke-width="0.14" >40</text>
<line x1="647.25" y1="738" x2="647.25" y2="740" stroke="#666" stroke-width="0.5" />
<text transform="translate(647.25,745.4)" font-size="3.6" text-anchor="middle" fill="#333" stroke="#333" stroke-width="0.14" >60</text>
<line x1="682.3" y1="738" x2="682.3" y2="740" stroke="#666" stroke-width="0.5" />
<text transform="translate(682.3,745.4)" font-size="3.6" text-anchor="middle" fill="#333" stroke="#333" stroke-width="0.14" >80</text>
<line x1="537.7" y1="735.2" x2="535.7" y2="735.2" stroke="#666" stroke-width="0.5" />
<text transform="translate(532.6,735.2) rotate(-90)" font-size="3.6" text-anchor="middle" fill="#333" stroke="#333" stroke-width="0.14" >0</text>
<line x1="537.7" y1="713.1" x2="535.7" y2="713.1" stroke="#666" stroke-width="0.5" />
<text transform="translate(532.6,713.1) rotate(-90)" font-size="3.6" text-anchor="middle" fill="#333" stroke="#333" stroke-width="0.14" >5</text>
<line x1="537.7" y1="691" x2="535.7" y2="691" stroke="#666" stroke-width="0.5" />
<text transform="translate(532.6,691) rotate(-90)" font-size="3.6" text-anchor="middle" fill="#333" stroke="#333" stroke-width="0.14" >10</text>
<line x1="537.7" y1="668.9" x2="535.7" y2="668.9" stroke="#666" stroke-width="0.5" />
<text transform="translate(532.6,668.9) rotate(-90)" font-size="3.6" text-anchor="middle" fill="#333" stroke="#333" stroke-width="0.14" >15</text>
<text transform="translate(526,698.35) rotate(-90)" font-size="3.4" text-anchor="middle" fill="#333" stroke="#333" stroke-width="0.14" >Survival time(years)</text>
<text transform="translate(627.1,754.3) scale(0.95,1)" font-size="3.6" text-anchor="middle" fill="#333" stroke="#333" stroke-width="0.15" >Patients(increasing risk score)</text>
<rect x="32.4" y="765" width="89.5" height="4.8" fill="#e58a84" stroke="none" stroke-width="1" />
<rect x="121.9" y="765" width="88.1" height="4.8" fill="#1fa9bf" stroke="none" stroke-width="1" />
<path fill="#002a0c" d="M32.4 771.3h1.3v13.5h-1.3z"/>
<path fill="#00541e" d="M33.2 771.3h1.3v13.5h-1.3zM76.8 771.3h1.3v13.5h-1.3zM136.8 771.3h1.3v13.5h-1.3zM159.4 771.3h1.3v13.5h-1.3zM160.1 771.3h1.3v13.5h-1.3zM209.2 771.3h0.8v13.5h-0.8zM69.8 784.3h1.3v13.5h-1.3zM170.3 784.3h1.3v13.5h-1.3zM36.3 797.3h1.3v13.5h-1.3zM72.9 797.3h1.3v13.5h-1.3zM77.6 797.3h1.3v13.5h-1.3zM80.7 797.3h1.3v13.5h-1.3zM106.4 797.3h1.3v13.5h-1.3zM112.6 797.3h1.3v13.5h-1.3zM117.3 797.3h1.3v13.5h-1.3zM120.4 797.3h1.3v13.5h-1.3zM199.1 797.3h1.3v13.5h-1.3zM36.3 810.4h1.3v13.5h-1.3zM54.2 810.4h1.3v13.5h-1.3zM69 810.4h1.3v13.5h-1.3zM120.4 810.4h1.3v13.5h-1.3zM140.7 810.4h1.3v13.5h-1.3zM204.5 836.4h1.3v13.5h-1.3zM157.8 849.5h1.3v13.5h-1.3zM175.7 849.5h1.3v13.5h-1.3zM66.7 875.5h1.3v13.5h-1.3zM104.1 875.5h1.3v13.5h-1.3zM118.1 875.5h1.3v13.5h-1.3zM163.3 875.5h1.3v13.5h-1.3zM208.4 875.5h1.3v13.5h-1.3zM44.9 888.5h1.3v13.5h-1.3zM108.7 888.5h1.3v13.5h-1.3zM139.1 914.6h1.3v13h-1.3z"/>
<path fill="#004e1e" d="M34 771.3h1.3v13.5h-1.3zM48 771.3h1.3v13.5h-1.3zM56.5 771.3h1.3v13.5h-1.3zM57.3 771.3h1.3v13.5h-1.3zM69.8 771.3h1.3v13.5h-1.3zM92.4 771.3h1.3v13.5h-1.3zM116.5 771.3h1.3v13.5h-1.3zM119.6 771.3h1.3v13.5h-1.3zM131.3 771.3h1.3v13.5h-1.3zM140.7 771.3h1.3v13.5h-1.3zM144.6 771.3h1.3v13.5h-1.3zM158.6 771.3h1.3v13.5h-1.3zM160.9 771.3h1.3v13.5h-1.3zM164 771.3h1.3v13.5h-1.3zM167.2 771.3h1.3v13.5h-1.3zM175.7 771.3h1.3v13.5h-1.3zM179.6 771.3h1.3v13.5h-1.3zM181.2 771.3h1.3v13.5h-1.3zM195.2 771.3h1.3v13.5h-1.3zM199.9 771.3h1.3v13.5h-1.3zM35.5 784.3h1.3v13.5h-1.3zM69 784.3h1.3v13.5h-1.3zM116.5 784.3h1.3v13.5h-1.3zM127.4 784.3h1.3v13.5h-1.3zM145.3 784.3h1.3v13.5h-1.3zM178.1 784.3h1.3v13.5h-1.3zM191.3 784.3h1.3v13.5h-1.3zM202.2 784.3h1.3v13.5h-1.3zM205.3 784.3h1.3v13.5h-1.3zM206.1 784.3h1.3v13.5h-1.3zM32.4 797.3h1.3v13.5h-1.3zM33.2 797.3h1.3v13.5h-1.3zM34.7 797.3h1.3v13.5h-1.3zM43.3 797.3h1.3v13.5h-1.3zM46.4 797.3h1.3v13.5h-1.3zM49.5 797.3h1.3v13.5h-1.3zM50.3 797.3h1.3v13.5h-1.3zM69 797.3h1.3v13.5h-1.3zM74.5 797.3h1.3v13.5h-1.3zM86.1 797.3h1.3v13.5h-1.3zM93.2 797.3h1.3v13.5h-1.3zM100.2 797.3h1.3v13.5h-1.3zM108 797.3h1.3v13.5h-1.3zM132.9 797.3h1.3v13.5h-1.3zM134.4 797.3h1.3v13.5h-1.3zM142.2 797.3h1.3v13.5h-1.3zM147.7 797.3h1.3v13.5h-1.3zM150 797.3h1.3v13.5h-1.3zM164.8 797.3h1.3v13.5h-1.3zM165.6 797.3h1.3v13.5h-1.3zM177.3 797.3h1.3v13.5h-1.3zM205.3 797.3h1.3v13.5h-1.3zM34 810.4h1.3v13.5h-1.3zM40.2 810.4h1.3v13.5h-1.3zM44.9 810.4h1.3v13.5h-1.3zM49.5 810.4h1.3v13.5h-1.3zM53.4 810.4h1.3v13.5h-1.3zM76 810.4h1.3v13.5h-1.3zM77.6 810.4h1.3v13.5h-1.3zM79.9 810.4h1.3v13.5h-1.3zM83.8 810.4h1.3v13.5h-1.3zM88.5 810.4h1.3v13.5h-1.3zM95.5 810.4h1.3v13.5h-1.3zM104.1 810.4h1.3v13.5h-1.3zM108.7 810.4h1.3v13.5h-1.3zM127.4 810.4h1.3v13.5h-1.3zM143 810.4h1.3v13.5h-1.3zM171.1 810.4h1.3v13.5h-1.3zM174.2 810.4h1.3v13.5h-1.3zM193.6 810.4h1.3v13.5h-1.3zM118.1 823.4h1.3v13.5h-1.3zM171.1 836.4h1.3v13.5h-1.3zM173.4 836.4h1.3v13.5h-1.3zM191.3 836.4h1.3v13.5h-1.3zM199.9 836.4h1.3v13.5h-1.3zM122.8 849.5h1.3v13.5h-1.3zM176.5 849.5h1.3v13.5h-1.3zM201.4 849.5h1.3v13.5h-1.3zM108 862.5h1.3v13.5h-1.3zM111.1 862.5h1.3v13.5h-1.3zM111.9 862.5h1.3v13.5h-1.3zM159.4 862.5h1.3v13.5h-1.3zM175.7 862.5h1.3v13.5h-1.3zM185.9 862.5h1.3v13.5h-1.3zM188.2 862.5h1.3v13.5h-1.3zM191.3 862.5h1.3v13.5h-1.3zM207.7 862.5h1.3v13.5h-1.3zM36.3 875.5h1.3v13.5h-1.3zM44.9 875.5h1.3v13.5h-1.3zM61.2 875.5h1.3v13.5h-1.3zM70.6 875.5h1.3v13.5h-1.3zM73.7 875.5h1.3v13.5h-1.3zM81.5 875.5h1.3v13.5h-1.3zM93.2 875.5h1.3v13.5h-1.3zM97.1 875.5h1.3v13.5h-1.3zM103.3 875.5h1.3v13.5h-1.3zM106.4 875.5h1.3v13.5h-1.3zM113.4 875.5h1.3v13.5h-1.3zM139.1 875.5h1.3v13.5h-1.3zM174.9 875.5h1.3v13.5h-1.3zM186.6 875.5h1.3v13.5h-1.3zM187.4 875.5h1.3v13.5h-1.3zM197.5 875.5h1.3v13.5h-1.3zM204.5 875.5h1.3v13.5h-1.3zM41 888.5h1.3v13.5h-1.3zM42.5 888.5h1.3v13.5h-1.3zM44.1 888.5h1.3v13.5h-1.3zM45.6 888.5h1.3v13.5h-1.3zM55.8 888.5h1.3v13.5h-1.3zM56.5 888.5h1.3v13.5h-1.3zM65.9 888.5h1.3v13.5h-1.3zM73.7 888.5h1.3v13.5h-1.3zM78.4 888.5h1.3v13.5h-1.3zM84.6 888.5h1.3v13.5h-1.3zM85.4 888.5h1.3v13.5h-1.3zM105.6 888.5h1.3v13.5h-1.3zM109.5 888.5h1.3v13.5h-1.3zM110.3 888.5h1.3v13.5h-1.3zM111.1 888.5h1.3v13.5h-1.3zM117.3 888.5h1.3v13.5h-1.3zM122 888.5h1.3v13.5h-1.3zM122.8 888.5h1.3v13.5h-1.3zM125.1 888.5h1.3v13.5h-1.3zM134.4 888.5h1.3v13.5h-1.3zM135.2 888.5h1.3v13.5h-1.3zM136.8 888.5h1.3v13.5h-1.3zM137.6 888.5h1.3v13.5h-1.3zM141.5 888.5h1.3v13.5h-1.3zM157 888.5h1.3v13.5h-1.3zM160.9 888.5h1.3v13.5h-1.3zM169.5 888.5h1.3v13.5h-1.3zM188.2 888.5h1.3v13.5h-1.3zM199.9 888.5h1.3v13.5h-1.3zM146.9 901.5h1.3v13.5h-1.3zM156.3 901.5h1.3v13.5h-1.3zM185.9 901.5h1.3v13.5h-1.3zM203 901.5h1.3v13.5h-1.3zM50.3 914.6h1.3v13h-1.3zM116.5 914.6h1.3v13h-1.3zM118.1 914.6h1.3v13h-1.3zM134.4 914.6h1.3v13h-1.3zM137.6 914.6h1.3v13h-1.3zM157 914.6h1.3v13h-1.3zM162.5 914.6h1.3v13h-1.3zM164 914.6h1.3v13h-1.3zM166.4 914.6h1.3v13h-1.3zM185.9 914.6h1.3v13h-1.3zM203.8 914.6h1.3v13h-1.3zM207.7 914.6h1.3v13h-1.3z"/>
<path fill="#005a24" d="M34.7 771.3h1.3v13.5h-1.3zM89.3 771.3h1.3v13.5h-1.3zM125.9 771.3h1.3v13.5h-1.3zM143.8 771.3h1.3v13.5h-1.3zM150 771.3h1.3v13.5h-1.3zM156.3 771.3h1.3v13.5h-1.3zM174.9 771.3h1.3v13.5h-1.3zM182 771.3h1.3v13.5h-1.3zM190.5 771.3h1.3v13.5h-1.3zM193.6 771.3h1.3v13.5h-1.3zM197.5 771.3h1.3v13.5h-1.3zM203 771.3h1.3v13.5h-1.3zM51.9 784.3h1.3v13.5h-1.3zM85.4 784.3h1.3v13.5h-1.3zM103.3 784.3h1.3v13.5h-1.3zM118.9 784.3h1.3v13.5h-1.3zM129 784.3h1.3v13.5h-1.3zM139.9 784.3h1.3v13.5h-1.3zM147.7 784.3h1.3v13.5h-1.3zM150 784.3h1.3v13.5h-1.3zM155.5 784.3h1.3v13.5h-1.3zM157 784.3h1.3v13.5h-1.3zM157.8 784.3h1.3v13.5h-1.3zM164 784.3h1.3v13.5h-1.3zM164.8 784.3h1.3v13.5h-1.3zM171.8 784.3h1.3v13.5h-1.3zM186.6 784.3h1.3v13.5h-1.3zM195.2 784.3h1.3v13.5h-1.3zM203.8 784.3h1.3v13.5h-1.3zM45.6 797.3h1.3v13.5h-1.3zM57.3 797.3h1.3v13.5h-1.3zM66.7 797.3h1.3v13.5h-1.3zM96.3 797.3h1.3v13.5h-1.3zM97.1 797.3h1.3v13.5h-1.3zM100.9 797.3h1.3v13.5h-1.3zM101.7 797.3h1.3v13.5h-1.3zM103.3 797.3h1.3v13.5h-1.3zM110.3 797.3h1.3v13.5h-1.3zM119.6 797.3h1.3v13.5h-1.3zM137.6 797.3h1.3v13.5h-1.3zM149.2 797.3h1.3v13.5h-1.3zM150.8 797.3h1.3v13.5h-1.3zM152.4 797.3h1.3v13.5h-1.3zM157 797.3h1.3v13.5h-1.3zM159.4 797.3h1.3v13.5h-1.3zM161.7 797.3h1.3v13.5h-1.3zM164 797.3h1.3v13.5h-1.3zM168.7 797.3h1.3v13.5h-1.3zM170.3 797.3h1.3v13.5h-1.3zM179.6 797.3h1.3v13.5h-1.3zM183.5 797.3h1.3v13.5h-1.3zM185.9 797.3h1.3v13.5h-1.3zM195.2 797.3h1.3v13.5h-1.3zM33.2 810.4h1.3v13.5h-1.3zM34.7 810.4h1.3v13.5h-1.3zM41 810.4h1.3v13.5h-1.3zM55.8 810.4h1.3v13.5h-1.3zM57.3 810.4h1.3v13.5h-1.3zM79.1 810.4h1.3v13.5h-1.3zM89.3 810.4h1.3v13.5h-1.3zM97.8 810.4h1.3v13.5h-1.3zM100.2 810.4h1.3v13.5h-1.3zM102.5 810.4h1.3v13.5h-1.3zM111.9 810.4h1.3v13.5h-1.3zM113.4 810.4h1.3v13.5h-1.3zM118.1 810.4h1.3v13.5h-1.3zM134.4 810.4h1.3v13.5h-1.3zM135.2 810.4h1.3v13.5h-1.3zM136.8 810.4h1.3v13.5h-1.3zM143.8 810.4h1.3v13.5h-1.3zM145.3 810.4h1.3v13.5h-1.3zM152.4 810.4h1.3v13.5h-1.3zM158.6 810.4h1.3v13.5h-1.3zM163.3 810.4h1.3v13.5h-1.3zM165.6 810.4h1.3v13.5h-1.3zM166.4 810.4h1.3v13.5h-1.3zM181.2 810.4h1.3v13.5h-1.3zM192.1 810.4h1.3v13.5h-1.3zM203.8 810.4h1.3v13.5h-1.3zM204.5 810.4h1.3v13.5h-1.3zM76.8 823.4h1.3v13.5h-1.3zM93.2 823.4h1.3v13.5h-1.3zM93.9 823.4h1.3v13.5h-1.3zM130.5 823.4h1.3v13.5h-1.3zM141.5 823.4h1.3v13.5h-1.3zM154.7 823.4h1.3v13.5h-1.3zM156.3 823.4h1.3v13.5h-1.3zM167.2 823.4h1.3v13.5h-1.3zM170.3 823.4h1.3v13.5h-1.3zM176.5 823.4h1.3v13.5h-1.3zM180.4 823.4h1.3v13.5h-1.3zM185.9 823.4h1.3v13.5h-1.3zM188.2 823.4h1.3v13.5h-1.3zM189 823.4h1.3v13.5h-1.3zM199.9 823.4h1.3v13.5h-1.3zM62.8 836.4h1.3v13.5h-1.3zM123.5 836.4h1.3v13.5h-1.3zM160.1 836.4h1.3v13.5h-1.3zM197.5 836.4h1.3v13.5h-1.3zM100.2 849.5h1.3v13.5h-1.3zM107.2 849.5h1.3v13.5h-1.3zM115 849.5h1.3v13.5h-1.3zM139.1 849.5h1.3v13.5h-1.3zM139.9 849.5h1.3v13.5h-1.3zM140.7 849.5h1.3v13.5h-1.3zM145.3 849.5h1.3v13.5h-1.3zM148.5 849.5h1.3v13.5h-1.3zM150 849.5h1.3v13.5h-1.3zM160.1 849.5h1.3v13.5h-1.3zM174.2 849.5h1.3v13.5h-1.3zM179.6 849.5h1.3v13.5h-1.3zM182 849.5h1.3v13.5h-1.3zM183.5 849.5h1.3v13.5h-1.3zM199.9 849.5h1.3v13.5h-1.3zM55.8 862.5h1.3v13.5h-1.3zM58.1 862.5h1.3v13.5h-1.3zM65.1 862.5h1.3v13.5h-1.3zM67.5 862.5h1.3v13.5h-1.3zM116.5 862.5h1.3v13.5h-1.3zM149.2 862.5h1.3v13.5h-1.3zM164.8 862.5h1.3v13.5h-1.3zM171.8 862.5h1.3v13.5h-1.3zM179.6 862.5h1.3v13.5h-1.3zM189 862.5h1.3v13.5h-1.3zM192.1 862.5h1.3v13.5h-1.3zM195.2 862.5h1.3v13.5h-1.3zM44.1 875.5h1.3v13.5h-1.3zM69.8 875.5h1.3v13.5h-1.3zM76 875.5h1.3v13.5h-1.3zM90.8 875.5h1.3v13.5h-1.3zM93.9 875.5h1.3v13.5h-1.3zM96.3 875.5h1.3v13.5h-1.3zM100.2 875.5h1.3v13.5h-1.3zM110.3 875.5h1.3v13.5h-1.3zM112.6 875.5h1.3v13.5h-1.3zM116.5 875.5h1.3v13.5h-1.3zM117.3 875.5h1.3v13.5h-1.3zM118.9 875.5h1.3v13.5h-1.3zM141.5 875.5h1.3v13.5h-1.3zM143 875.5h1.3v13.5h-1.3zM147.7 875.5h1.3v13.5h-1.3zM165.6 875.5h1.3v13.5h-1.3zM170.3 875.5h1.3v13.5h-1.3zM184.3 875.5h1.3v13.5h-1.3zM195.2 875.5h1.3v13.5h-1.3zM196.8 875.5h1.3v13.5h-1.3zM37.9 888.5h1.3v13.5h-1.3zM46.4 888.5h1.3v13.5h-1.3zM61.2 888.5h1.3v13.5h-1.3zM72.9 888.5h1.3v13.5h-1.3zM76 888.5h1.3v13.5h-1.3zM93.9 888.5h1.3v13.5h-1.3zM98.6 888.5h1.3v13.5h-1.3zM104.8 888.5h1.3v13.5h-1.3zM118.9 888.5h1.3v13.5h-1.3zM120.4 888.5h1.3v13.5h-1.3zM129.8 888.5h1.3v13.5h-1.3zM132.1 888.5h1.3v13.5h-1.3zM140.7 888.5h1.3v13.5h-1.3zM146.9 888.5h1.3v13.5h-1.3zM152.4 888.5h1.3v13.5h-1.3zM153.9 888.5h1.3v13.5h-1.3zM175.7 888.5h1.3v13.5h-1.3zM206.9 888.5h1.3v13.5h-1.3zM208.4 888.5h1.3v13.5h-1.3zM117.3 901.5h1.3v13.5h-1.3zM135.2 901.5h1.3v13.5h-1.3zM159.4 901.5h1.3v13.5h-1.3zM170.3 901.5h1.3v13.5h-1.3zM188.2 901.5h1.3v13.5h-1.3zM52.7 914.6h1.3v13h-1.3zM65.1 914.6h1.3v13h-1.3zM65.9 914.6h1.3v13h-1.3zM85.4 914.6h1.3v13h-1.3zM88.5 914.6h1.3v13h-1.3zM106.4 914.6h1.3v13h-1.3zM119.6 914.6h1.3v13h-1.3zM121.2 914.6h1.3v13h-1.3zM131.3 914.6h1.3v13h-1.3zM132.9 914.6h1.3v13h-1.3zM135.2 914.6h1.3v13h-1.3zM139.9 914.6h1.3v13h-1.3zM143 914.6h1.3v13h-1.3zM144.6 914.6h1.3v13h-1.3zM156.3 914.6h1.3v13h-1.3zM167.9 914.6h1.3v13h-1.3zM177.3 914.6h1.3v13h-1.3zM181.2 914.6h1.3v13h-1.3zM183.5 914.6h1.3v13h-1.3zM192.1 914.6h1.3v13h-1.3zM196.8 914.6h1.3v13h-1.3zM197.5 914.6h1.3v13h-1.3zM198.3 914.6h1.3v13h-1.3z"/>
<path fill="#003c18" d="M35.5 771.3h1.3v13.5h-1.3zM41 771.3h1.3v13.5h-1.3zM43.3 771.3h1.3v13.5h-1.3zM46.4 771.3h1.3v13.5h-1.3zM51.1 771.3h1.3v13.5h-1.3zM60.4 771.3h1.3v13.5h-1.3zM67.5 771.3h1.3v13.5h-1.3zM70.6 771.3h1.3v13.5h-1.3zM73.7 771.3h1.3v13.5h-1.3zM79.1 771.3h1.3v13.5h-1.3zM80.7 771.3h1.3v13.5h-1.3zM95.5 771.3h1.3v13.5h-1.3zM99.4 771.3h1.3v13.5h-1.3zM121.2 771.3h1.3v13.5h-1.3zM127.4 771.3h1.3v13.5h-1.3zM145.3 771.3h1.3v13.5h-1.3zM177.3 771.3h1.3v13.5h-1.3zM189 771.3h1.3v13.5h-1.3zM108.7 784.3h1.3v13.5h-1.3zM179.6 784.3h1.3v13.5h-1.3zM38.6 797.3h1.3v13.5h-1.3zM39.4 797.3h1.3v13.5h-1.3zM48 797.3h1.3v13.5h-1.3zM51.1 797.3h1.3v13.5h-1.3zM58.1 797.3h1.3v13.5h-1.3zM60.4 797.3h1.3v13.5h-1.3zM61.2 797.3h1.3v13.5h-1.3zM63.6 797.3h1.3v13.5h-1.3zM70.6 797.3h1.3v13.5h-1.3zM79.9 797.3h1.3v13.5h-1.3zM97.8 797.3h1.3v13.5h-1.3zM132.1 797.3h1.3v13.5h-1.3zM139.1 797.3h1.3v13.5h-1.3zM37.1 810.4h1.3v13.5h-1.3zM48 810.4h1.3v13.5h-1.3zM58.9 810.4h1.3v13.5h-1.3zM72.9 810.4h1.3v13.5h-1.3zM86.1 810.4h1.3v13.5h-1.3zM121.2 810.4h1.3v13.5h-1.3zM155.5 810.4h1.3v13.5h-1.3zM122 823.4h1.3v13.5h-1.3zM173.4 823.4h1.3v13.5h-1.3zM195.2 823.4h1.3v13.5h-1.3zM93.9 836.4h1.3v13.5h-1.3zM135.2 849.5h1.3v13.5h-1.3zM188.2 849.5h1.3v13.5h-1.3zM173.4 862.5h1.3v13.5h-1.3zM193.6 862.5h1.3v13.5h-1.3zM37.9 875.5h1.3v13.5h-1.3zM48 875.5h1.3v13.5h-1.3zM52.7 875.5h1.3v13.5h-1.3zM55.8 875.5h1.3v13.5h-1.3zM189.7 875.5h1.3v13.5h-1.3zM201.4 875.5h1.3v13.5h-1.3zM35.5 888.5h1.3v13.5h-1.3zM53.4 888.5h1.3v13.5h-1.3zM58.1 888.5h1.3v13.5h-1.3zM74.5 888.5h1.3v13.5h-1.3zM76.8 888.5h1.3v13.5h-1.3zM89.3 888.5h1.3v13.5h-1.3zM149.2 888.5h1.3v13.5h-1.3zM199.9 901.5h1.3v13.5h-1.3zM208.4 901.5h1.3v13.5h-1.3zM96.3 914.6h1.3v13h-1.3zM108.7 914.6h1.3v13h-1.3zM155.5 914.6h1.3v13h-1.3zM175.7 914.6h1.3v13h-1.3zM200.7 914.6h1.3v13h-1.3z"/>
<path fill="#001806" d="M36.3 771.3h1.3v13.5h-1.3zM45.6 771.3h1.3v13.5h-1.3zM55.8 771.3h1.3v13.5h-1.3zM46.4 784.3h1.3v13.5h-1.3zM167.9 784.3h1.3v13.5h-1.3zM183.5 784.3h1.3v13.5h-1.3zM154.7 810.4h1.3v13.5h-1.3zM146.9 849.5h1.3v13.5h-1.3zM196 862.5h1.3v13.5h-1.3zM57.3 875.5h1.3v13.5h-1.3zM159.4 875.5h1.3v13.5h-1.3zM69.8 888.5h1.3v13.5h-1.3z"/>
<path fill="#002a12" d="M37.1 771.3h1.3v13.5h-1.3zM37.9 771.3h1.3v13.5h-1.3zM66.7 771.3h1.3v13.5h-1.3zM84.6 771.3h1.3v13.5h-1.3zM157.8 771.3h1.3v13.5h-1.3zM104.1 784.3h1.3v13.5h-1.3zM90 797.3h1.3v13.5h-1.3zM135.2 797.3h1.3v13.5h-1.3zM50.3 810.4h1.3v13.5h-1.3zM69.8 810.4h1.3v13.5h-1.3zM119.6 810.4h1.3v13.5h-1.3zM41.7 823.4h1.3v13.5h-1.3zM104.8 836.4h1.3v13.5h-1.3zM151.6 849.5h1.3v13.5h-1.3zM203.8 849.5h1.3v13.5h-1.3zM74.5 862.5h1.3v13.5h-1.3zM49.5 888.5h1.3v13.5h-1.3zM59.7 888.5h1.3v13.5h-1.3zM65.1 888.5h1.3v13.5h-1.3zM174.2 914.6h1.3v13h-1.3z"/>
<path fill="#00481e" d="M38.6 771.3h1.3v13.5h-1.3zM41.7 771.3h1.3v13.5h-1.3zM47.2 771.3h1.3v13.5h-1.3zM48.8 771.3h1.3v13.5h-1.3zM64.3 771.3h1.3v13.5h-1.3zM79.9 771.3h1.3v13.5h-1.3zM96.3 771.3h1.3v13.5h-1.3zM97.1 771.3h1.3v13.5h-1.3zM98.6 771.3h1.3v13.5h-1.3zM101.7 771.3h1.3v13.5h-1.3zM102.5 771.3h1.3v13.5h-1.3zM104.8 771.3h1.3v13.5h-1.3zM107.2 771.3h1.3v13.5h-1.3zM113.4 771.3h1.3v13.5h-1.3zM118.1 771.3h1.3v13.5h-1.3zM123.5 771.3h1.3v13.5h-1.3zM128.2 771.3h1.3v13.5h-1.3zM149.2 771.3h1.3v13.5h-1.3zM170.3 771.3h1.3v13.5h-1.3zM173.4 771.3h1.3v13.5h-1.3zM176.5 771.3h1.3v13.5h-1.3zM183.5 771.3h1.3v13.5h-1.3zM196.8 771.3h1.3v13.5h-1.3zM136.8 784.3h1.3v13.5h-1.3zM37.9 797.3h1.3v13.5h-1.3zM44.1 797.3h1.3v13.5h-1.3zM51.9 797.3h1.3v13.5h-1.3zM52.7 797.3h1.3v13.5h-1.3zM53.4 797.3h1.3v13.5h-1.3zM76 797.3h1.3v13.5h-1.3zM79.1 797.3h1.3v13.5h-1.3zM83.8 797.3h1.3v13.5h-1.3zM86.9 797.3h1.3v13.5h-1.3zM89.3 797.3h1.3v13.5h-1.3zM108.7 797.3h1.3v13.5h-1.3zM118.1 797.3h1.3v13.5h-1.3zM121.2 797.3h1.3v13.5h-1.3zM122 797.3h1.3v13.5h-1.3zM129 797.3h1.3v13.5h-1.3zM133.7 797.3h1.3v13.5h-1.3zM169.5 797.3h1.3v13.5h-1.3zM172.6 797.3h1.3v13.5h-1.3zM32.4 810.4h1.3v13.5h-1.3zM37.9 810.4h1.3v13.5h-1.3zM38.6 810.4h1.3v13.5h-1.3zM43.3 810.4h1.3v13.5h-1.3zM45.6 810.4h1.3v13.5h-1.3zM46.4 810.4h1.3v13.5h-1.3zM64.3 810.4h1.3v13.5h-1.3zM65.1 810.4h1.3v13.5h-1.3zM80.7 810.4h1.3v13.5h-1.3zM92.4 810.4h1.3v13.5h-1.3zM93.9 810.4h1.3v13.5h-1.3zM99.4 810.4h1.3v13.5h-1.3zM108 810.4h1.3v13.5h-1.3zM115.7 810.4h1.3v13.5h-1.3zM144.6 810.4h1.3v13.5h-1.3zM37.1 823.4h1.3v13.5h-1.3zM49.5 823.4h1.3v13.5h-1.3zM202.2 836.4h1.3v13.5h-1.3zM126.7 849.5h1.3v13.5h-1.3zM105.6 862.5h1.3v13.5h-1.3zM130.5 862.5h1.3v13.5h-1.3zM141.5 862.5h1.3v13.5h-1.3zM201.4 862.5h1.3v13.5h-1.3zM35.5 875.5h1.3v13.5h-1.3zM41 875.5h1.3v13.5h-1.3zM46.4 875.5h1.3v13.5h-1.3zM54.2 875.5h1.3v13.5h-1.3zM58.9 875.5h1.3v13.5h-1.3zM75.2 875.5h1.3v13.5h-1.3zM79.9 875.5h1.3v13.5h-1.3zM102.5 875.5h1.3v13.5h-1.3zM107.2 875.5h1.3v13.5h-1.3zM125.1 875.5h1.3v13.5h-1.3zM130.5 875.5h1.3v13.5h-1.3zM181.2 875.5h1.3v13.5h-1.3zM33.2 888.5h1.3v13.5h-1.3zM36.3 888.5h1.3v13.5h-1.3zM39.4 888.5h1.3v13.5h-1.3zM40.2 888.5h1.3v13.5h-1.3zM48 888.5h1.3v13.5h-1.3zM64.3 888.5h1.3v13.5h-1.3zM71.3 888.5h1.3v13.5h-1.3zM79.9 888.5h1.3v13.5h-1.3zM91.6 888.5h1.3v13.5h-1.3zM93.2 888.5h1.3v13.5h-1.3zM95.5 888.5h1.3v13.5h-1.3zM102.5 888.5h1.3v13.5h-1.3zM126.7 888.5h1.3v13.5h-1.3zM129 888.5h1.3v13.5h-1.3zM131.3 888.5h1.3v13.5h-1.3zM146.1 888.5h1.3v13.5h-1.3zM150.8 888.5h1.3v13.5h-1.3zM166.4 888.5h1.3v13.5h-1.3zM191.3 888.5h1.3v13.5h-1.3zM32.4 914.6h1.3v13h-1.3zM118.9 914.6h1.3v13h-1.3zM130.5 914.6h1.3v13h-1.3zM147.7 914.6h1.3v13h-1.3zM164.8 914.6h1.3v13h-1.3z"/>
<path fill="#003012" d="M39.4 771.3h1.3v13.5h-1.3zM44.1 771.3h1.3v13.5h-1.3zM58.9 771.3h1.3v13.5h-1.3zM59.7 771.3h1.3v13.5h-1.3zM65.1 771.3h1.3v13.5h-1.3zM81.5 771.3h1.3v13.5h-1.3zM153.9 771.3h1.3v13.5h-1.3zM167.9 771.3h1.3v13.5h-1.3zM40.2 797.3h1.3v13.5h-1.3zM41 797.3h1.3v13.5h-1.3zM44.9 797.3h1.3v13.5h-1.3zM64.3 797.3h1.3v13.5h-1.3zM196 797.3h1.3v13.5h-1.3zM61.2 810.4h1.3v13.5h-1.3zM178.1 810.4h1.3v13.5h-1.3zM101.7 823.4h1.3v13.5h-1.3zM198.3 823.4h1.3v13.5h-1.3zM48 849.5h1.3v13.5h-1.3zM94.7 849.5h1.3v13.5h-1.3zM108.7 849.5h1.3v13.5h-1.3zM155.5 862.5h1.3v13.5h-1.3zM162.5 862.5h1.3v13.5h-1.3zM37.1 875.5h1.3v13.5h-1.3zM55 875.5h1.3v13.5h-1.3zM74.5 875.5h1.3v13.5h-1.3zM111.1 875.5h1.3v13.5h-1.3zM51.1 888.5h1.3v13.5h-1.3zM75.2 888.5h1.3v13.5h-1.3zM101.7 888.5h1.3v13.5h-1.3zM123.5 914.6h1.3v13h-1.3z"/>
<path fill="#003612" d="M40.2 771.3h1.3v13.5h-1.3zM51.9 771.3h1.3v13.5h-1.3zM58.1 771.3h1.3v13.5h-1.3zM76 771.3h1.3v13.5h-1.3zM91.6 771.3h1.3v13.5h-1.3zM97.8 771.3h1.3v13.5h-1.3zM139.9 771.3h1.3v13.5h-1.3zM34 797.3h1.3v13.5h-1.3zM55.8 797.3h1.3v13.5h-1.3zM59.7 797.3h1.3v13.5h-1.3zM90.8 797.3h1.3v13.5h-1.3zM44.1 810.4h1.3v13.5h-1.3zM137.6 810.4h1.3v13.5h-1.3zM77.6 849.5h1.3v13.5h-1.3zM96.3 849.5h1.3v13.5h-1.3zM169.5 849.5h1.3v13.5h-1.3zM43.3 862.5h1.3v13.5h-1.3zM56.5 875.5h1.3v13.5h-1.3zM85.4 875.5h1.3v13.5h-1.3zM57.3 888.5h1.3v13.5h-1.3zM86.1 888.5h1.3v13.5h-1.3zM96.3 888.5h1.3v13.5h-1.3zM193.6 901.5h1.3v13.5h-1.3z"/>
<path fill="#004218" d="M42.5 771.3h1.3v13.5h-1.3zM50.3 771.3h1.3v13.5h-1.3zM52.7 771.3h1.3v13.5h-1.3zM61.2 771.3h1.3v13.5h-1.3zM62 771.3h1.3v13.5h-1.3zM63.6 771.3h1.3v13.5h-1.3zM69 771.3h1.3v13.5h-1.3zM71.3 771.3h1.3v13.5h-1.3zM72.9 771.3h1.3v13.5h-1.3zM83.8 771.3h1.3v13.5h-1.3zM93.2 771.3h1.3v13.5h-1.3zM94.7 771.3h1.3v13.5h-1.3zM109.5 771.3h1.3v13.5h-1.3zM137.6 771.3h1.3v13.5h-1.3zM146.9 771.3h1.3v13.5h-1.3zM151.6 771.3h1.3v13.5h-1.3zM154.7 771.3h1.3v13.5h-1.3zM137.6 784.3h1.3v13.5h-1.3zM160.1 784.3h1.3v13.5h-1.3zM161.7 784.3h1.3v13.5h-1.3zM165.6 784.3h1.3v13.5h-1.3zM55 797.3h1.3v13.5h-1.3zM58.9 797.3h1.3v13.5h-1.3zM71.3 797.3h1.3v13.5h-1.3zM73.7 797.3h1.3v13.5h-1.3zM93.9 797.3h1.3v13.5h-1.3zM125.1 797.3h1.3v13.5h-1.3zM39.4 810.4h1.3v13.5h-1.3zM42.5 810.4h1.3v13.5h-1.3zM47.2 810.4h1.3v13.5h-1.3zM51.1 810.4h1.3v13.5h-1.3zM51.9 810.4h1.3v13.5h-1.3zM58.1 810.4h1.3v13.5h-1.3zM59.7 810.4h1.3v13.5h-1.3zM62 810.4h1.3v13.5h-1.3zM66.7 810.4h1.3v13.5h-1.3zM68.2 810.4h1.3v13.5h-1.3zM76.8 810.4h1.3v13.5h-1.3zM87.7 810.4h1.3v13.5h-1.3zM123.5 810.4h1.3v13.5h-1.3zM125.9 810.4h1.3v13.5h-1.3zM80.7 823.4h1.3v13.5h-1.3zM113.4 823.4h1.3v13.5h-1.3zM160.9 823.4h1.3v13.5h-1.3zM175.7 823.4h1.3v13.5h-1.3zM193.6 823.4h1.3v13.5h-1.3zM62 836.4h1.3v13.5h-1.3zM52.7 862.5h1.3v13.5h-1.3zM147.7 862.5h1.3v13.5h-1.3zM185.1 862.5h1.3v13.5h-1.3zM200.7 862.5h1.3v13.5h-1.3zM39.4 875.5h1.3v13.5h-1.3zM43.3 875.5h1.3v13.5h-1.3zM47.2 875.5h1.3v13.5h-1.3zM62.8 875.5h1.3v13.5h-1.3zM83.8 875.5h1.3v13.5h-1.3zM134.4 875.5h1.3v13.5h-1.3zM32.4 888.5h1.3v13.5h-1.3zM38.6 888.5h1.3v13.5h-1.3zM50.3 888.5h1.3v13.5h-1.3zM60.4 888.5h1.3v13.5h-1.3zM69 888.5h1.3v13.5h-1.3zM77.6 888.5h1.3v13.5h-1.3zM81.5 888.5h1.3v13.5h-1.3zM86.9 888.5h1.3v13.5h-1.3zM97.1 888.5h1.3v13.5h-1.3zM99.4 888.5h1.3v13.5h-1.3zM108 888.5h1.3v13.5h-1.3zM112.6 888.5h1.3v13.5h-1.3zM128.2 888.5h1.3v13.5h-1.3zM143.8 888.5h1.3v13.5h-1.3zM145.3 888.5h1.3v13.5h-1.3zM165.6 888.5h1.3v13.5h-1.3zM98.6 901.5h1.3v13.5h-1.3zM207.7 901.5h1.3v13.5h-1.3zM90.8 914.6h1.3v13h-1.3z"/>
<path fill="#00421e" d="M44.9 771.3h1.3v13.5h-1.3zM53.4 771.3h1.3v13.5h-1.3zM54.2 771.3h1.3v13.5h-1.3zM72.1 771.3h1.3v13.5h-1.3zM100.9 771.3h1.3v13.5h-1.3zM67.5 810.4h1.3v13.5h-1.3zM78.4 810.4h1.3v13.5h-1.3zM103.3 810.4h1.3v13.5h-1.3zM122 810.4h1.3v13.5h-1.3zM51.9 888.5h1.3v13.5h-1.3zM192.1 901.5h1.3v13.5h-1.3z"/>
<path fill="#005424" d="M49.5 771.3h1.3v13.5h-1.3zM65.9 771.3h1.3v13.5h-1.3zM74.5 771.3h1.3v13.5h-1.3zM87.7 771.3h1.3v13.5h-1.3zM90.8 771.3h1.3v13.5h-1.3zM93.9 771.3h1.3v13.5h-1.3zM100.2 771.3h1.3v13.5h-1.3zM106.4 771.3h1.3v13.5h-1.3zM111.9 771.3h1.3v13.5h-1.3zM120.4 771.3h1.3v13.5h-1.3zM122.8 771.3h1.3v13.5h-1.3zM124.3 771.3h1.3v13.5h-1.3zM133.7 771.3h1.3v13.5h-1.3zM139.1 771.3h1.3v13.5h-1.3zM146.1 771.3h1.3v13.5h-1.3zM152.4 771.3h1.3v13.5h-1.3zM162.5 771.3h1.3v13.5h-1.3zM168.7 771.3h1.3v13.5h-1.3zM171.8 771.3h1.3v13.5h-1.3zM188.2 771.3h1.3v13.5h-1.3zM206.9 771.3h1.3v13.5h-1.3zM75.2 784.3h1.3v13.5h-1.3zM92.4 784.3h1.3v13.5h-1.3zM113.4 784.3h1.3v13.5h-1.3zM122 784.3h1.3v13.5h-1.3zM125.1 784.3h1.3v13.5h-1.3zM129.8 784.3h1.3v13.5h-1.3zM139.1 784.3h1.3v13.5h-1.3zM142.2 784.3h1.3v13.5h-1.3zM166.4 784.3h1.3v13.5h-1.3zM184.3 784.3h1.3v13.5h-1.3zM185.9 784.3h1.3v13.5h-1.3zM190.5 784.3h1.3v13.5h-1.3zM37.1 797.3h1.3v13.5h-1.3zM41.7 797.3h1.3v13.5h-1.3zM69.8 797.3h1.3v13.5h-1.3zM83 797.3h1.3v13.5h-1.3zM88.5 797.3h1.3v13.5h-1.3zM94.7 797.3h1.3v13.5h-1.3zM95.5 797.3h1.3v13.5h-1.3zM99.4 797.3h1.3v13.5h-1.3zM104.1 797.3h1.3v13.5h-1.3zM111.9 797.3h1.3v13.5h-1.3zM122.8 797.3h1.3v13.5h-1.3zM127.4 797.3h1.3v13.5h-1.3zM128.2 797.3h1.3v13.5h-1.3zM131.3 797.3h1.3v13.5h-1.3zM173.4 797.3h1.3v13.5h-1.3zM174.9 797.3h1.3v13.5h-1.3zM175.7 797.3h1.3v13.5h-1.3zM180.4 797.3h1.3v13.5h-1.3zM191.3 797.3h1.3v13.5h-1.3zM52.7 810.4h1.3v13.5h-1.3zM70.6 810.4h1.3v13.5h-1.3zM75.2 810.4h1.3v13.5h-1.3zM82.3 810.4h1.3v13.5h-1.3zM86.9 810.4h1.3v13.5h-1.3zM97.1 810.4h1.3v13.5h-1.3zM105.6 810.4h1.3v13.5h-1.3zM118.9 810.4h1.3v13.5h-1.3zM129.8 810.4h1.3v13.5h-1.3zM132.9 810.4h1.3v13.5h-1.3zM153.9 810.4h1.3v13.5h-1.3zM176.5 810.4h1.3v13.5h-1.3zM197.5 810.4h1.3v13.5h-1.3zM50.3 823.4h1.3v13.5h-1.3zM145.3 823.4h1.3v13.5h-1.3zM155.5 823.4h1.3v13.5h-1.3zM162.5 823.4h1.3v13.5h-1.3zM168.7 823.4h1.3v13.5h-1.3zM192.9 823.4h1.3v13.5h-1.3zM171.8 836.4h1.3v13.5h-1.3zM178.8 836.4h1.3v13.5h-1.3zM207.7 836.4h1.3v13.5h-1.3zM113.4 849.5h1.3v13.5h-1.3zM133.7 849.5h1.3v13.5h-1.3zM150.8 849.5h1.3v13.5h-1.3zM164.8 849.5h1.3v13.5h-1.3zM206.9 849.5h1.3v13.5h-1.3zM142.2 862.5h1.3v13.5h-1.3zM157 862.5h1.3v13.5h-1.3zM182 862.5h1.3v13.5h-1.3zM194.4 862.5h1.3v13.5h-1.3zM208.4 862.5h1.3v13.5h-1.3zM33.2 875.5h1.3v13.5h-1.3zM38.6 875.5h1.3v13.5h-1.3zM41.7 875.5h1.3v13.5h-1.3zM49.5 875.5h1.3v13.5h-1.3zM51.1 875.5h1.3v13.5h-1.3zM63.6 875.5h1.3v13.5h-1.3zM79.1 875.5h1.3v13.5h-1.3zM87.7 875.5h1.3v13.5h-1.3zM88.5 875.5h1.3v13.5h-1.3zM108.7 875.5h1.3v13.5h-1.3zM109.5 875.5h1.3v13.5h-1.3zM114.2 875.5h1.3v13.5h-1.3zM119.6 875.5h1.3v13.5h-1.3zM120.4 875.5h1.3v13.5h-1.3zM127.4 875.5h1.3v13.5h-1.3zM145.3 875.5h1.3v13.5h-1.3zM67.5 888.5h1.3v13.5h-1.3zM83.8 888.5h1.3v13.5h-1.3zM100.9 888.5h1.3v13.5h-1.3zM118.1 888.5h1.3v13.5h-1.3zM124.3 888.5h1.3v13.5h-1.3zM142.2 888.5h1.3v13.5h-1.3zM160.1 888.5h1.3v13.5h-1.3zM167.2 888.5h1.3v13.5h-1.3zM172.6 888.5h1.3v13.5h-1.3zM173.4 888.5h1.3v13.5h-1.3zM186.6 888.5h1.3v13.5h-1.3zM58.1 914.6h1.3v13h-1.3zM62 914.6h1.3v13h-1.3zM128.2 914.6h1.3v13h-1.3zM150 914.6h1.3v13h-1.3zM176.5 914.6h1.3v13h-1.3zM182 914.6h1.3v13h-1.3zM192.9 914.6h1.3v13h-1.3zM203 914.6h1.3v13h-1.3z"/>
<path fill="#001206" d="M55 771.3h1.3v13.5h-1.3zM189.7 771.3h1.3v13.5h-1.3zM85.4 797.3h1.3v13.5h-1.3zM139.9 797.3h1.3v13.5h-1.3zM158.6 797.3h1.3v13.5h-1.3zM148.5 810.4h1.3v13.5h-1.3zM139.9 823.4h1.3v13.5h-1.3zM205.3 836.4h1.3v13.5h-1.3zM42.5 849.5h1.3v13.5h-1.3zM74.5 849.5h1.3v13.5h-1.3zM154.7 862.5h1.3v13.5h-1.3zM72.1 875.5h1.3v13.5h-1.3zM164.8 888.5h1.3v13.5h-1.3zM178.1 901.5h1.3v13.5h-1.3zM183.5 901.5h1.3v13.5h-1.3z"/>
<path fill="#00240c" d="M62.8 771.3h1.3v13.5h-1.3zM85.4 771.3h1.3v13.5h-1.3zM86.9 771.3h1.3v13.5h-1.3zM112.6 771.3h1.3v13.5h-1.3zM84.6 797.3h1.3v13.5h-1.3zM161.7 823.4h1.3v13.5h-1.3zM203 836.4h1.3v13.5h-1.3zM70.6 849.5h1.3v13.5h-1.3zM148.5 862.5h1.3v13.5h-1.3zM34 875.5h1.3v13.5h-1.3zM65.1 875.5h1.3v13.5h-1.3zM48.8 888.5h1.3v13.5h-1.3zM63.6 888.5h1.3v13.5h-1.3zM164 888.5h1.3v13.5h-1.3zM192.1 888.5h1.3v13.5h-1.3zM171.8 914.6h1.3v13h-1.3z"/>
<path fill="#00662a" d="M68.2 771.3h1.3v13.5h-1.3zM129.8 771.3h1.3v13.5h-1.3zM130.5 771.3h1.3v13.5h-1.3zM132.1 771.3h1.3v13.5h-1.3zM132.9 771.3h1.3v13.5h-1.3zM148.5 771.3h1.3v13.5h-1.3zM161.7 771.3h1.3v13.5h-1.3zM178.1 771.3h1.3v13.5h-1.3zM178.8 771.3h1.3v13.5h-1.3zM201.4 771.3h1.3v13.5h-1.3zM54.2 784.3h1.3v13.5h-1.3zM71.3 784.3h1.3v13.5h-1.3zM72.1 784.3h1.3v13.5h-1.3zM76 784.3h1.3v13.5h-1.3zM100.2 784.3h1.3v13.5h-1.3zM115 784.3h1.3v13.5h-1.3zM132.9 784.3h1.3v13.5h-1.3zM136 784.3h1.3v13.5h-1.3zM143 784.3h1.3v13.5h-1.3zM148.5 784.3h1.3v13.5h-1.3zM153.9 784.3h1.3v13.5h-1.3zM167.2 784.3h1.3v13.5h-1.3zM182 784.3h1.3v13.5h-1.3zM189 784.3h1.3v13.5h-1.3zM192.9 784.3h1.3v13.5h-1.3zM54.2 797.3h1.3v13.5h-1.3zM62 797.3h1.3v13.5h-1.3zM62.8 797.3h1.3v13.5h-1.3zM65.1 797.3h1.3v13.5h-1.3zM65.9 797.3h1.3v13.5h-1.3zM81.5 797.3h1.3v13.5h-1.3zM87.7 797.3h1.3v13.5h-1.3zM104.8 797.3h1.3v13.5h-1.3zM115 797.3h1.3v13.5h-1.3zM136.8 797.3h1.3v13.5h-1.3zM171.8 797.3h1.3v13.5h-1.3zM182 797.3h1.3v13.5h-1.3zM187.4 797.3h1.3v13.5h-1.3zM188.2 797.3h1.3v13.5h-1.3zM200.7 797.3h1.3v13.5h-1.3zM48.8 810.4h1.3v13.5h-1.3zM90.8 810.4h1.3v13.5h-1.3zM116.5 810.4h1.3v13.5h-1.3zM130.5 810.4h1.3v13.5h-1.3zM131.3 810.4h1.3v13.5h-1.3zM146.9 810.4h1.3v13.5h-1.3zM168.7 810.4h1.3v13.5h-1.3zM190.5 810.4h1.3v13.5h-1.3zM196.8 810.4h1.3v13.5h-1.3zM209.2 810.4h0.8v13.5h-0.8zM90 823.4h1.3v13.5h-1.3zM94.7 823.4h1.3v13.5h-1.3zM98.6 823.4h1.3v13.5h-1.3zM105.6 823.4h1.3v13.5h-1.3zM109.5 823.4h1.3v13.5h-1.3zM111.1 823.4h1.3v13.5h-1.3zM125.1 823.4h1.3v13.5h-1.3zM132.1 823.4h1.3v13.5h-1.3zM135.2 823.4h1.3v13.5h-1.3zM140.7 823.4h1.3v13.5h-1.3zM158.6 823.4h1.3v13.5h-1.3zM196 823.4h1.3v13.5h-1.3zM199.1 823.4h1.3v13.5h-1.3zM203.8 823.4h1.3v13.5h-1.3zM71.3 836.4h1.3v13.5h-1.3zM94.7 836.4h1.3v13.5h-1.3zM95.5 836.4h1.3v13.5h-1.3zM109.5 836.4h1.3v13.5h-1.3zM140.7 836.4h1.3v13.5h-1.3zM146.9 836.4h1.3v13.5h-1.3zM156.3 836.4h1.3v13.5h-1.3zM163.3 836.4h1.3v13.5h-1.3zM184.3 836.4h1.3v13.5h-1.3zM188.2 836.4h1.3v13.5h-1.3zM190.5 836.4h1.3v13.5h-1.3zM193.6 836.4h1.3v13.5h-1.3zM209.2 836.4h0.8v13.5h-0.8zM37.1 849.5h1.3v13.5h-1.3zM45.6 849.5h1.3v13.5h-1.3zM51.1 849.5h1.3v13.5h-1.3zM62 849.5h1.3v13.5h-1.3zM67.5 849.5h1.3v13.5h-1.3zM75.2 849.5h1.3v13.5h-1.3zM93.9 849.5h1.3v13.5h-1.3zM112.6 849.5h1.3v13.5h-1.3zM125.1 849.5h1.3v13.5h-1.3zM144.6 849.5h1.3v13.5h-1.3zM164 849.5h1.3v13.5h-1.3zM167.9 849.5h1.3v13.5h-1.3zM178.1 849.5h1.3v13.5h-1.3zM189.7 849.5h1.3v13.5h-1.3zM205.3 849.5h1.3v13.5h-1.3zM208.4 849.5h1.3v13.5h-1.3zM33.2 862.5h1.3v13.5h-1.3zM45.6 862.5h1.3v13.5h-1.3zM62 862.5h1.3v13.5h-1.3zM68.2 862.5h1.3v13.5h-1.3zM72.1 862.5h1.3v13.5h-1.3zM78.4 862.5h1.3v13.5h-1.3zM90 862.5h1.3v13.5h-1.3zM108.7 862.5h1.3v13.5h-1.3zM113.4 862.5h1.3v13.5h-1.3zM118.1 862.5h1.3v13.5h-1.3zM127.4 862.5h1.3v13.5h-1.3zM129.8 862.5h1.3v13.5h-1.3zM131.3 862.5h1.3v13.5h-1.3zM151.6 862.5h1.3v13.5h-1.3zM161.7 862.5h1.3v13.5h-1.3zM165.6 862.5h1.3v13.5h-1.3zM167.9 862.5h1.3v13.5h-1.3zM172.6 862.5h1.3v13.5h-1.3zM174.2 862.5h1.3v13.5h-1.3zM174.9 862.5h1.3v13.5h-1.3zM178.1 862.5h1.3v13.5h-1.3zM198.3 862.5h1.3v13.5h-1.3zM199.1 862.5h1.3v13.5h-1.3zM32.4 875.5h1.3v13.5h-1.3zM42.5 875.5h1.3v13.5h-1.3zM59.7 875.5h1.3v13.5h-1.3zM72.9 875.5h1.3v13.5h-1.3zM76.8 875.5h1.3v13.5h-1.3zM92.4 875.5h1.3v13.5h-1.3zM97.8 875.5h1.3v13.5h-1.3zM115.7 875.5h1.3v13.5h-1.3zM131.3 875.5h1.3v13.5h-1.3zM132.9 875.5h1.3v13.5h-1.3zM136.8 875.5h1.3v13.5h-1.3zM137.6 875.5h1.3v13.5h-1.3zM151.6 875.5h1.3v13.5h-1.3zM157 875.5h1.3v13.5h-1.3zM169.5 875.5h1.3v13.5h-1.3zM182.7 875.5h1.3v13.5h-1.3zM188.2 875.5h1.3v13.5h-1.3zM193.6 875.5h1.3v13.5h-1.3zM206.1 875.5h1.3v13.5h-1.3zM47.2 888.5h1.3v13.5h-1.3zM52.7 888.5h1.3v13.5h-1.3zM79.1 888.5h1.3v13.5h-1.3zM88.5 888.5h1.3v13.5h-1.3zM104.1 888.5h1.3v13.5h-1.3zM113.4 888.5h1.3v13.5h-1.3zM125.9 888.5h1.3v13.5h-1.3zM132.9 888.5h1.3v13.5h-1.3zM144.6 888.5h1.3v13.5h-1.3zM148.5 888.5h1.3v13.5h-1.3zM153.1 888.5h1.3v13.5h-1.3zM154.7 888.5h1.3v13.5h-1.3zM168.7 888.5h1.3v13.5h-1.3zM182.7 888.5h1.3v13.5h-1.3zM205.3 888.5h1.3v13.5h-1.3zM76 901.5h1.3v13.5h-1.3zM93.9 901.5h1.3v13.5h-1.3zM109.5 901.5h1.3v13.5h-1.3zM115.7 901.5h1.3v13.5h-1.3zM122.8 901.5h1.3v13.5h-1.3zM123.5 901.5h1.3v13.5h-1.3zM164.8 901.5h1.3v13.5h-1.3zM166.4 901.5h1.3v13.5h-1.3zM173.4 901.5h1.3v13.5h-1.3zM181.2 901.5h1.3v13.5h-1.3zM34 914.6h1.3v13h-1.3zM66.7 914.6h1.3v13h-1.3zM80.7 914.6h1.3v13h-1.3zM91.6 914.6h1.3v13h-1.3zM111.9 914.6h1.3v13h-1.3zM127.4 914.6h1.3v13h-1.3zM146.9 914.6h1.3v13h-1.3zM153.1 914.6h1.3v13h-1.3zM160.9 914.6h1.3v13h-1.3zM169.5 914.6h1.3v13h-1.3zM174.9 914.6h1.3v13h-1.3zM182.7 914.6h1.3v13h-1.3zM184.3 914.6h1.3v13h-1.3zM194.4 914.6h1.3v13h-1.3zM196 914.6h1.3v13h-1.3zM208.4 914.6h1.3v13h-1.3z"/>
<path fill="#006024" d="M75.2 771.3h1.3v13.5h-1.3zM78.4 771.3h1.3v13.5h-1.3zM104.1 771.3h1.3v13.5h-1.3zM115 771.3h1.3v13.5h-1.3zM125.1 771.3h1.3v13.5h-1.3zM126.7 771.3h1.3v13.5h-1.3zM138.3 771.3h1.3v13.5h-1.3zM143 771.3h1.3v13.5h-1.3zM166.4 771.3h1.3v13.5h-1.3zM185.9 771.3h1.3v13.5h-1.3zM43.3 784.3h1.3v13.5h-1.3zM48 784.3h1.3v13.5h-1.3zM90 784.3h1.3v13.5h-1.3zM125.9 784.3h1.3v13.5h-1.3zM140.7 784.3h1.3v13.5h-1.3zM150.8 784.3h1.3v13.5h-1.3zM154.7 784.3h1.3v13.5h-1.3zM159.4 784.3h1.3v13.5h-1.3zM162.5 784.3h1.3v13.5h-1.3zM178.8 784.3h1.3v13.5h-1.3zM187.4 784.3h1.3v13.5h-1.3zM194.4 784.3h1.3v13.5h-1.3zM196 784.3h1.3v13.5h-1.3zM198.3 784.3h1.3v13.5h-1.3zM204.5 784.3h1.3v13.5h-1.3zM207.7 784.3h1.3v13.5h-1.3zM35.5 797.3h1.3v13.5h-1.3zM56.5 797.3h1.3v13.5h-1.3zM68.2 797.3h1.3v13.5h-1.3zM91.6 797.3h1.3v13.5h-1.3zM98.6 797.3h1.3v13.5h-1.3zM107.2 797.3h1.3v13.5h-1.3zM115.7 797.3h1.3v13.5h-1.3zM138.3 797.3h1.3v13.5h-1.3zM143 797.3h1.3v13.5h-1.3zM160.1 797.3h1.3v13.5h-1.3zM163.3 797.3h1.3v13.5h-1.3zM166.4 797.3h1.3v13.5h-1.3zM203.8 797.3h1.3v13.5h-1.3zM206.1 797.3h1.3v13.5h-1.3zM62.8 810.4h1.3v13.5h-1.3zM71.3 810.4h1.3v13.5h-1.3zM91.6 810.4h1.3v13.5h-1.3zM106.4 810.4h1.3v13.5h-1.3zM112.6 810.4h1.3v13.5h-1.3zM114.2 810.4h1.3v13.5h-1.3zM122.8 810.4h1.3v13.5h-1.3zM128.2 810.4h1.3v13.5h-1.3zM129 810.4h1.3v13.5h-1.3zM136 810.4h1.3v13.5h-1.3zM159.4 810.4h1.3v13.5h-1.3zM160.9 810.4h1.3v13.5h-1.3zM161.7 810.4h1.3v13.5h-1.3zM173.4 810.4h1.3v13.5h-1.3zM175.7 810.4h1.3v13.5h-1.3zM182.7 810.4h1.3v13.5h-1.3zM194.4 810.4h1.3v13.5h-1.3zM202.2 810.4h1.3v13.5h-1.3zM44.1 823.4h1.3v13.5h-1.3zM134.4 823.4h1.3v13.5h-1.3zM146.1 823.4h1.3v13.5h-1.3zM146.9 823.4h1.3v13.5h-1.3zM149.2 823.4h1.3v13.5h-1.3zM153.1 823.4h1.3v13.5h-1.3zM164.8 823.4h1.3v13.5h-1.3zM166.4 823.4h1.3v13.5h-1.3zM182 823.4h1.3v13.5h-1.3zM194.4 823.4h1.3v13.5h-1.3zM207.7 823.4h1.3v13.5h-1.3zM113.4 836.4h1.3v13.5h-1.3zM116.5 836.4h1.3v13.5h-1.3zM125.1 836.4h1.3v13.5h-1.3zM128.2 836.4h1.3v13.5h-1.3zM160.9 836.4h1.3v13.5h-1.3zM164 836.4h1.3v13.5h-1.3zM172.6 836.4h1.3v13.5h-1.3zM185.9 836.4h1.3v13.5h-1.3zM189 836.4h1.3v13.5h-1.3zM43.3 849.5h1.3v13.5h-1.3zM69.8 849.5h1.3v13.5h-1.3zM85.4 849.5h1.3v13.5h-1.3zM86.1 849.5h1.3v13.5h-1.3zM97.8 849.5h1.3v13.5h-1.3zM104.8 849.5h1.3v13.5h-1.3zM111.1 849.5h1.3v13.5h-1.3zM138.3 849.5h1.3v13.5h-1.3zM149.2 849.5h1.3v13.5h-1.3zM158.6 849.5h1.3v13.5h-1.3zM187.4 849.5h1.3v13.5h-1.3zM195.2 849.5h1.3v13.5h-1.3zM203 849.5h1.3v13.5h-1.3zM55 862.5h1.3v13.5h-1.3zM63.6 862.5h1.3v13.5h-1.3zM70.6 862.5h1.3v13.5h-1.3zM109.5 862.5h1.3v13.5h-1.3zM117.3 862.5h1.3v13.5h-1.3zM124.3 862.5h1.3v13.5h-1.3zM139.9 862.5h1.3v13.5h-1.3zM160.1 862.5h1.3v13.5h-1.3zM181.2 862.5h1.3v13.5h-1.3zM40.2 875.5h1.3v13.5h-1.3zM48.8 875.5h1.3v13.5h-1.3zM50.3 875.5h1.3v13.5h-1.3zM64.3 875.5h1.3v13.5h-1.3zM67.5 875.5h1.3v13.5h-1.3zM69 875.5h1.3v13.5h-1.3zM80.7 875.5h1.3v13.5h-1.3zM82.3 875.5h1.3v13.5h-1.3zM94.7 875.5h1.3v13.5h-1.3zM100.9 875.5h1.3v13.5h-1.3zM129.8 875.5h1.3v13.5h-1.3zM132.1 875.5h1.3v13.5h-1.3zM146.1 875.5h1.3v13.5h-1.3zM149.2 875.5h1.3v13.5h-1.3zM150.8 875.5h1.3v13.5h-1.3zM192.1 875.5h1.3v13.5h-1.3zM198.3 875.5h1.3v13.5h-1.3zM200.7 875.5h1.3v13.5h-1.3zM54.2 888.5h1.3v13.5h-1.3zM68.2 888.5h1.3v13.5h-1.3zM80.7 888.5h1.3v13.5h-1.3zM83 888.5h1.3v13.5h-1.3zM114.2 888.5h1.3v13.5h-1.3zM115.7 888.5h1.3v13.5h-1.3zM130.5 888.5h1.3v13.5h-1.3zM139.1 888.5h1.3v13.5h-1.3zM139.9 888.5h1.3v13.5h-1.3zM157.8 888.5h1.3v13.5h-1.3zM159.4 888.5h1.3v13.5h-1.3zM178.1 888.5h1.3v13.5h-1.3zM179.6 888.5h1.3v13.5h-1.3zM185.1 888.5h1.3v13.5h-1.3zM193.6 888.5h1.3v13.5h-1.3zM144.6 901.5h1.3v13.5h-1.3zM167.9 901.5h1.3v13.5h-1.3zM179.6 901.5h1.3v13.5h-1.3zM182.7 901.5h1.3v13.5h-1.3zM189.7 901.5h1.3v13.5h-1.3zM194.4 901.5h1.3v13.5h-1.3zM51.1 914.6h1.3v13h-1.3zM54.2 914.6h1.3v13h-1.3zM55.8 914.6h1.3v13h-1.3zM72.1 914.6h1.3v13h-1.3zM76 914.6h1.3v13h-1.3zM114.2 914.6h1.3v13h-1.3zM136.8 914.6h1.3v13h-1.3zM145.3 914.6h1.3v13h-1.3zM167.2 914.6h1.3v13h-1.3zM178.1 914.6h1.3v13h-1.3zM186.6 914.6h1.3v13h-1.3zM190.5 914.6h1.3v13h-1.3zM191.3 914.6h1.3v13h-1.3z"/>
<path fill="#24a23c" d="M77.6 771.3h1.3v13.5h-1.3zM55 888.5h1.3v13.5h-1.3zM192.9 888.5h1.3v13.5h-1.3zM188.2 914.6h1.3v13h-1.3z"/>
<path fill="#003618" d="M82.3 771.3h1.3v13.5h-1.3zM90 771.3h1.3v13.5h-1.3zM122 771.3h1.3v13.5h-1.3zM136 771.3h1.3v13.5h-1.3zM209.2 784.3h0.8v13.5h-0.8zM153.1 797.3h1.3v13.5h-1.3zM167.2 810.4h1.3v13.5h-1.3zM34.7 836.4h1.3v13.5h-1.3zM126.7 836.4h1.3v13.5h-1.3zM150 836.4h1.3v13.5h-1.3zM69 862.5h1.3v13.5h-1.3zM125.9 862.5h1.3v13.5h-1.3zM45.6 875.5h1.3v13.5h-1.3zM83 875.5h1.3v13.5h-1.3zM34 888.5h1.3v13.5h-1.3zM34.7 888.5h1.3v13.5h-1.3zM37.1 888.5h1.3v13.5h-1.3zM62 888.5h1.3v13.5h-1.3zM90 888.5h1.3v13.5h-1.3zM106.4 888.5h1.3v13.5h-1.3zM115 888.5h1.3v13.5h-1.3zM203.8 888.5h1.3v13.5h-1.3z"/>
<path fill="#00602a" d="M83 771.3h1.3v13.5h-1.3zM86.1 771.3h1.3v13.5h-1.3zM88.5 771.3h1.3v13.5h-1.3zM114.2 771.3h1.3v13.5h-1.3zM115.7 771.3h1.3v13.5h-1.3zM117.3 771.3h1.3v13.5h-1.3zM155.5 771.3h1.3v13.5h-1.3zM157 771.3h1.3v13.5h-1.3zM165.6 771.3h1.3v13.5h-1.3zM172.6 771.3h1.3v13.5h-1.3zM192.1 771.3h1.3v13.5h-1.3zM196 771.3h1.3v13.5h-1.3zM200.7 771.3h1.3v13.5h-1.3zM32.4 784.3h1.3v13.5h-1.3zM41.7 784.3h1.3v13.5h-1.3zM73.7 784.3h1.3v13.5h-1.3zM74.5 784.3h1.3v13.5h-1.3zM88.5 784.3h1.3v13.5h-1.3zM91.6 784.3h1.3v13.5h-1.3zM94.7 784.3h1.3v13.5h-1.3zM111.9 784.3h1.3v13.5h-1.3zM181.2 784.3h1.3v13.5h-1.3zM193.6 784.3h1.3v13.5h-1.3zM199.9 784.3h1.3v13.5h-1.3zM203 784.3h1.3v13.5h-1.3zM82.3 797.3h1.3v13.5h-1.3zM113.4 797.3h1.3v13.5h-1.3zM123.5 797.3h1.3v13.5h-1.3zM126.7 797.3h1.3v13.5h-1.3zM146.9 797.3h1.3v13.5h-1.3zM151.6 797.3h1.3v13.5h-1.3zM154.7 797.3h1.3v13.5h-1.3zM157.8 797.3h1.3v13.5h-1.3zM162.5 797.3h1.3v13.5h-1.3zM176.5 797.3h1.3v13.5h-1.3zM189.7 797.3h1.3v13.5h-1.3zM193.6 797.3h1.3v13.5h-1.3zM35.5 810.4h1.3v13.5h-1.3zM74.5 810.4h1.3v13.5h-1.3zM100.9 810.4h1.3v13.5h-1.3zM101.7 810.4h1.3v13.5h-1.3zM151.6 810.4h1.3v13.5h-1.3zM164.8 810.4h1.3v13.5h-1.3zM170.3 810.4h1.3v13.5h-1.3zM179.6 810.4h1.3v13.5h-1.3zM184.3 810.4h1.3v13.5h-1.3zM205.3 810.4h1.3v13.5h-1.3zM103.3 823.4h1.3v13.5h-1.3zM111.9 823.4h1.3v13.5h-1.3zM124.3 823.4h1.3v13.5h-1.3zM157 823.4h1.3v13.5h-1.3zM163.3 823.4h1.3v13.5h-1.3zM182.7 823.4h1.3v13.5h-1.3zM197.5 823.4h1.3v13.5h-1.3zM37.9 836.4h1.3v13.5h-1.3zM60.4 836.4h1.3v13.5h-1.3zM110.3 836.4h1.3v13.5h-1.3zM176.5 836.4h1.3v13.5h-1.3zM181.2 836.4h1.3v13.5h-1.3zM195.2 836.4h1.3v13.5h-1.3zM66.7 849.5h1.3v13.5h-1.3zM87.7 849.5h1.3v13.5h-1.3zM89.3 849.5h1.3v13.5h-1.3zM95.5 849.5h1.3v13.5h-1.3zM130.5 849.5h1.3v13.5h-1.3zM136 849.5h1.3v13.5h-1.3zM152.4 849.5h1.3v13.5h-1.3zM153.1 849.5h1.3v13.5h-1.3zM181.2 849.5h1.3v13.5h-1.3zM186.6 849.5h1.3v13.5h-1.3zM189 849.5h1.3v13.5h-1.3zM192.9 849.5h1.3v13.5h-1.3zM193.6 849.5h1.3v13.5h-1.3zM197.5 849.5h1.3v13.5h-1.3zM198.3 849.5h1.3v13.5h-1.3zM199.1 849.5h1.3v13.5h-1.3zM204.5 849.5h1.3v13.5h-1.3zM41.7 862.5h1.3v13.5h-1.3zM62.8 862.5h1.3v13.5h-1.3zM75.2 862.5h1.3v13.5h-1.3zM104.1 862.5h1.3v13.5h-1.3zM132.1 862.5h1.3v13.5h-1.3zM139.1 862.5h1.3v13.5h-1.3zM150 862.5h1.3v13.5h-1.3zM153.1 862.5h1.3v13.5h-1.3zM160.9 862.5h1.3v13.5h-1.3zM168.7 862.5h1.3v13.5h-1.3zM177.3 862.5h1.3v13.5h-1.3zM182.7 862.5h1.3v13.5h-1.3zM187.4 862.5h1.3v13.5h-1.3zM205.3 862.5h1.3v13.5h-1.3zM206.1 862.5h1.3v13.5h-1.3zM34.7 875.5h1.3v13.5h-1.3zM51.9 875.5h1.3v13.5h-1.3zM62 875.5h1.3v13.5h-1.3zM65.9 875.5h1.3v13.5h-1.3zM71.3 875.5h1.3v13.5h-1.3zM98.6 875.5h1.3v13.5h-1.3zM121.2 875.5h1.3v13.5h-1.3zM126.7 875.5h1.3v13.5h-1.3zM148.5 875.5h1.3v13.5h-1.3zM168.7 875.5h1.3v13.5h-1.3zM174.2 875.5h1.3v13.5h-1.3zM82.3 888.5h1.3v13.5h-1.3zM92.4 888.5h1.3v13.5h-1.3zM94.7 888.5h1.3v13.5h-1.3zM103.3 888.5h1.3v13.5h-1.3zM107.2 888.5h1.3v13.5h-1.3zM121.2 888.5h1.3v13.5h-1.3zM127.4 888.5h1.3v13.5h-1.3zM138.3 888.5h1.3v13.5h-1.3zM147.7 888.5h1.3v13.5h-1.3zM204.5 888.5h1.3v13.5h-1.3zM62 901.5h1.3v13.5h-1.3zM95.5 901.5h1.3v13.5h-1.3zM106.4 901.5h1.3v13.5h-1.3zM146.1 901.5h1.3v13.5h-1.3zM153.1 901.5h1.3v13.5h-1.3zM161.7 901.5h1.3v13.5h-1.3zM165.6 901.5h1.3v13.5h-1.3zM196 901.5h1.3v13.5h-1.3zM44.1 914.6h1.3v13h-1.3zM79.9 914.6h1.3v13h-1.3zM101.7 914.6h1.3v13h-1.3zM124.3 914.6h1.3v13h-1.3zM138.3 914.6h1.3v13h-1.3zM180.4 914.6h1.3v13h-1.3zM189 914.6h1.3v13h-1.3zM189.7 914.6h1.3v13h-1.3zM199.1 914.6h1.3v13h-1.3z"/>
<path fill="#06662a" d="M103.3 771.3h1.3v13.5h-1.3zM108 771.3h1.3v13.5h-1.3zM111.1 771.3h1.3v13.5h-1.3zM164.8 771.3h1.3v13.5h-1.3zM169.5 771.3h1.3v13.5h-1.3zM174.2 771.3h1.3v13.5h-1.3zM186.6 771.3h1.3v13.5h-1.3zM198.3 771.3h1.3v13.5h-1.3zM205.3 771.3h1.3v13.5h-1.3zM206.1 771.3h1.3v13.5h-1.3zM207.7 771.3h1.3v13.5h-1.3zM37.9 784.3h1.3v13.5h-1.3zM42.5 784.3h1.3v13.5h-1.3zM62.8 784.3h1.3v13.5h-1.3zM68.2 784.3h1.3v13.5h-1.3zM86.1 784.3h1.3v13.5h-1.3zM87.7 784.3h1.3v13.5h-1.3zM90.8 784.3h1.3v13.5h-1.3zM93.9 784.3h1.3v13.5h-1.3zM97.1 784.3h1.3v13.5h-1.3zM97.8 784.3h1.3v13.5h-1.3zM104.8 784.3h1.3v13.5h-1.3zM105.6 784.3h1.3v13.5h-1.3zM111.1 784.3h1.3v13.5h-1.3zM114.2 784.3h1.3v13.5h-1.3zM117.3 784.3h1.3v13.5h-1.3zM133.7 784.3h1.3v13.5h-1.3zM138.3 784.3h1.3v13.5h-1.3zM144.6 784.3h1.3v13.5h-1.3zM146.9 784.3h1.3v13.5h-1.3zM171.1 784.3h1.3v13.5h-1.3zM174.9 784.3h1.3v13.5h-1.3zM177.3 784.3h1.3v13.5h-1.3zM188.2 784.3h1.3v13.5h-1.3zM201.4 784.3h1.3v13.5h-1.3zM206.9 784.3h1.3v13.5h-1.3zM42.5 797.3h1.3v13.5h-1.3zM78.4 797.3h1.3v13.5h-1.3zM102.5 797.3h1.3v13.5h-1.3zM114.2 797.3h1.3v13.5h-1.3zM145.3 797.3h1.3v13.5h-1.3zM148.5 797.3h1.3v13.5h-1.3zM153.9 797.3h1.3v13.5h-1.3zM160.9 797.3h1.3v13.5h-1.3zM178.1 797.3h1.3v13.5h-1.3zM181.2 797.3h1.3v13.5h-1.3zM184.3 797.3h1.3v13.5h-1.3zM196.8 797.3h1.3v13.5h-1.3zM203 797.3h1.3v13.5h-1.3zM60.4 810.4h1.3v13.5h-1.3zM83 810.4h1.3v13.5h-1.3zM90 810.4h1.3v13.5h-1.3zM94.7 810.4h1.3v13.5h-1.3zM96.3 810.4h1.3v13.5h-1.3zM107.2 810.4h1.3v13.5h-1.3zM110.3 810.4h1.3v13.5h-1.3zM139.9 810.4h1.3v13.5h-1.3zM157 810.4h1.3v13.5h-1.3zM195.2 810.4h1.3v13.5h-1.3zM199.9 810.4h1.3v13.5h-1.3zM206.9 810.4h1.3v13.5h-1.3zM207.7 810.4h1.3v13.5h-1.3zM51.9 823.4h1.3v13.5h-1.3zM61.2 823.4h1.3v13.5h-1.3zM104.8 823.4h1.3v13.5h-1.3zM106.4 823.4h1.3v13.5h-1.3zM148.5 823.4h1.3v13.5h-1.3zM150 823.4h1.3v13.5h-1.3zM159.4 823.4h1.3v13.5h-1.3zM164 823.4h1.3v13.5h-1.3zM189.7 823.4h1.3v13.5h-1.3zM191.3 823.4h1.3v13.5h-1.3zM192.1 823.4h1.3v13.5h-1.3zM196.8 823.4h1.3v13.5h-1.3zM204.5 823.4h1.3v13.5h-1.3zM79.9 836.4h1.3v13.5h-1.3zM82.3 836.4h1.3v13.5h-1.3zM103.3 836.4h1.3v13.5h-1.3zM120.4 836.4h1.3v13.5h-1.3zM125.9 836.4h1.3v13.5h-1.3zM143 836.4h1.3v13.5h-1.3zM146.1 836.4h1.3v13.5h-1.3zM152.4 836.4h1.3v13.5h-1.3zM155.5 836.4h1.3v13.5h-1.3zM161.7 836.4h1.3v13.5h-1.3zM167.2 836.4h1.3v13.5h-1.3zM177.3 836.4h1.3v13.5h-1.3zM179.6 836.4h1.3v13.5h-1.3zM180.4 836.4h1.3v13.5h-1.3zM200.7 836.4h1.3v13.5h-1.3zM34 849.5h1.3v13.5h-1.3zM47.2 849.5h1.3v13.5h-1.3zM53.4 849.5h1.3v13.5h-1.3zM72.1 849.5h1.3v13.5h-1.3zM79.9 849.5h1.3v13.5h-1.3zM82.3 849.5h1.3v13.5h-1.3zM97.1 849.5h1.3v13.5h-1.3zM98.6 849.5h1.3v13.5h-1.3zM101.7 849.5h1.3v13.5h-1.3zM103.3 849.5h1.3v13.5h-1.3zM106.4 849.5h1.3v13.5h-1.3zM118.1 849.5h1.3v13.5h-1.3zM118.9 849.5h1.3v13.5h-1.3zM129 849.5h1.3v13.5h-1.3zM129.8 849.5h1.3v13.5h-1.3zM142.2 849.5h1.3v13.5h-1.3zM143.8 849.5h1.3v13.5h-1.3zM155.5 849.5h1.3v13.5h-1.3zM156.3 849.5h1.3v13.5h-1.3zM160.9 849.5h1.3v13.5h-1.3zM167.2 849.5h1.3v13.5h-1.3zM171.8 849.5h1.3v13.5h-1.3zM178.8 849.5h1.3v13.5h-1.3zM180.4 849.5h1.3v13.5h-1.3zM185.9 849.5h1.3v13.5h-1.3zM190.5 849.5h1.3v13.5h-1.3zM192.1 849.5h1.3v13.5h-1.3zM34 862.5h1.3v13.5h-1.3zM38.6 862.5h1.3v13.5h-1.3zM53.4 862.5h1.3v13.5h-1.3zM61.2 862.5h1.3v13.5h-1.3zM88.5 862.5h1.3v13.5h-1.3zM92.4 862.5h1.3v13.5h-1.3zM97.8 862.5h1.3v13.5h-1.3zM100.9 862.5h1.3v13.5h-1.3zM121.2 862.5h1.3v13.5h-1.3zM122.8 862.5h1.3v13.5h-1.3zM129 862.5h1.3v13.5h-1.3zM134.4 862.5h1.3v13.5h-1.3zM135.2 862.5h1.3v13.5h-1.3zM136.8 862.5h1.3v13.5h-1.3zM158.6 862.5h1.3v13.5h-1.3zM167.2 862.5h1.3v13.5h-1.3zM169.5 862.5h1.3v13.5h-1.3zM184.3 862.5h1.3v13.5h-1.3zM196.8 862.5h1.3v13.5h-1.3zM199.9 862.5h1.3v13.5h-1.3zM203.8 862.5h1.3v13.5h-1.3zM204.5 862.5h1.3v13.5h-1.3zM60.4 875.5h1.3v13.5h-1.3zM84.6 875.5h1.3v13.5h-1.3zM123.5 875.5h1.3v13.5h-1.3zM124.3 875.5h1.3v13.5h-1.3zM143.8 875.5h1.3v13.5h-1.3zM146.9 875.5h1.3v13.5h-1.3zM156.3 875.5h1.3v13.5h-1.3zM158.6 875.5h1.3v13.5h-1.3zM164 875.5h1.3v13.5h-1.3zM164.8 875.5h1.3v13.5h-1.3zM167.2 875.5h1.3v13.5h-1.3zM175.7 875.5h1.3v13.5h-1.3zM176.5 875.5h1.3v13.5h-1.3zM177.3 875.5h1.3v13.5h-1.3zM180.4 875.5h1.3v13.5h-1.3zM183.5 875.5h1.3v13.5h-1.3zM202.2 875.5h1.3v13.5h-1.3zM203.8 875.5h1.3v13.5h-1.3zM90.8 888.5h1.3v13.5h-1.3zM123.5 888.5h1.3v13.5h-1.3zM156.3 888.5h1.3v13.5h-1.3zM162.5 888.5h1.3v13.5h-1.3zM163.3 888.5h1.3v13.5h-1.3zM170.3 888.5h1.3v13.5h-1.3zM174.9 888.5h1.3v13.5h-1.3zM177.3 888.5h1.3v13.5h-1.3zM178.8 888.5h1.3v13.5h-1.3zM185.9 888.5h1.3v13.5h-1.3zM194.4 888.5h1.3v13.5h-1.3zM201.4 888.5h1.3v13.5h-1.3zM206.1 888.5h1.3v13.5h-1.3zM207.7 888.5h1.3v13.5h-1.3zM75.2 901.5h1.3v13.5h-1.3zM77.6 901.5h1.3v13.5h-1.3zM94.7 901.5h1.3v13.5h-1.3zM97.1 901.5h1.3v13.5h-1.3zM104.8 901.5h1.3v13.5h-1.3zM115 901.5h1.3v13.5h-1.3zM118.1 901.5h1.3v13.5h-1.3zM125.1 901.5h1.3v13.5h-1.3zM129 901.5h1.3v13.5h-1.3zM130.5 901.5h1.3v13.5h-1.3zM133.7 901.5h1.3v13.5h-1.3zM155.5 901.5h1.3v13.5h-1.3zM162.5 901.5h1.3v13.5h-1.3zM198.3 901.5h1.3v13.5h-1.3zM199.1 901.5h1.3v13.5h-1.3zM200.7 901.5h1.3v13.5h-1.3zM39.4 914.6h1.3v13h-1.3zM42.5 914.6h1.3v13h-1.3zM48.8 914.6h1.3v13h-1.3zM49.5 914.6h1.3v13h-1.3zM59.7 914.6h1.3v13h-1.3zM60.4 914.6h1.3v13h-1.3zM69 914.6h1.3v13h-1.3zM87.7 914.6h1.3v13h-1.3zM93.9 914.6h1.3v13h-1.3zM97.1 914.6h1.3v13h-1.3zM97.8 914.6h1.3v13h-1.3zM99.4 914.6h1.3v13h-1.3zM113.4 914.6h1.3v13h-1.3zM117.3 914.6h1.3v13h-1.3zM129 914.6h1.3v13h-1.3zM133.7 914.6h1.3v13h-1.3zM151.6 914.6h1.3v13h-1.3zM157.8 914.6h1.3v13h-1.3zM187.4 914.6h1.3v13h-1.3zM206.9 914.6h1.3v13h-1.3z"/>
<path fill="#000000" d="M105.6 771.3h1.3v13.5h-1.3zM202.2 771.3h1.3v13.5h-1.3zM174.2 784.3h1.3v13.5h-1.3zM208.4 784.3h1.3v13.5h-1.3zM47.2 797.3h1.3v13.5h-1.3zM209.2 797.3h0.8v13.5h-0.8zM63.6 810.4h1.3v13.5h-1.3zM201.4 810.4h1.3v13.5h-1.3zM203 810.4h1.3v13.5h-1.3zM56.5 823.4h1.3v13.5h-1.3zM121.2 823.4h1.3v13.5h-1.3zM132.9 823.4h1.3v13.5h-1.3zM177.3 823.4h1.3v13.5h-1.3zM65.9 836.4h1.3v13.5h-1.3zM41.7 849.5h1.3v13.5h-1.3zM90 849.5h1.3v13.5h-1.3zM90.8 849.5h1.3v13.5h-1.3zM102.5 849.5h1.3v13.5h-1.3zM185.1 849.5h1.3v13.5h-1.3zM209.2 862.5h0.8v13.5h-0.8zM125.9 875.5h1.3v13.5h-1.3zM133.7 875.5h1.3v13.5h-1.3zM43.3 888.5h1.3v13.5h-1.3zM70.6 888.5h1.3v13.5h-1.3zM87.7 888.5h1.3v13.5h-1.3zM97.8 888.5h1.3v13.5h-1.3zM91.6 901.5h1.3v13.5h-1.3zM128.2 901.5h1.3v13.5h-1.3zM100.9 914.6h1.3v13h-1.3z"/>
<path fill="#000c06" d="M108.7 771.3h1.3v13.5h-1.3zM135.2 771.3h1.3v13.5h-1.3zM72.1 810.4h1.3v13.5h-1.3zM124.3 810.4h1.3v13.5h-1.3zM182 836.4h1.3v13.5h-1.3zM143.8 862.5h1.3v13.5h-1.3zM144.6 875.5h1.3v13.5h-1.3zM171.1 888.5h1.3v13.5h-1.3zM187.4 888.5h1.3v13.5h-1.3zM72.1 901.5h1.3v13.5h-1.3zM114.2 901.5h1.3v13.5h-1.3z"/>
<path fill="#067830" d="M110.3 771.3h1.3v13.5h-1.3zM34.7 784.3h1.3v13.5h-1.3zM36.3 784.3h1.3v13.5h-1.3zM44.1 784.3h1.3v13.5h-1.3zM44.9 784.3h1.3v13.5h-1.3zM65.1 784.3h1.3v13.5h-1.3zM77.6 784.3h1.3v13.5h-1.3zM102.5 784.3h1.3v13.5h-1.3zM110.3 784.3h1.3v13.5h-1.3zM128.2 784.3h1.3v13.5h-1.3zM131.3 784.3h1.3v13.5h-1.3zM146.1 784.3h1.3v13.5h-1.3zM67.5 797.3h1.3v13.5h-1.3zM141.5 797.3h1.3v13.5h-1.3zM190.5 797.3h1.3v13.5h-1.3zM65.9 810.4h1.3v13.5h-1.3zM93.2 810.4h1.3v13.5h-1.3zM109.5 810.4h1.3v13.5h-1.3zM160.1 810.4h1.3v13.5h-1.3zM167.9 810.4h1.3v13.5h-1.3zM35.5 823.4h1.3v13.5h-1.3zM37.9 823.4h1.3v13.5h-1.3zM39.4 823.4h1.3v13.5h-1.3zM40.2 823.4h1.3v13.5h-1.3zM43.3 823.4h1.3v13.5h-1.3zM47.2 823.4h1.3v13.5h-1.3zM58.9 823.4h1.3v13.5h-1.3zM60.4 823.4h1.3v13.5h-1.3zM62 823.4h1.3v13.5h-1.3zM62.8 823.4h1.3v13.5h-1.3zM65.1 823.4h1.3v13.5h-1.3zM66.7 823.4h1.3v13.5h-1.3zM67.5 823.4h1.3v13.5h-1.3zM85.4 823.4h1.3v13.5h-1.3zM88.5 823.4h1.3v13.5h-1.3zM92.4 823.4h1.3v13.5h-1.3zM95.5 823.4h1.3v13.5h-1.3zM97.8 823.4h1.3v13.5h-1.3zM108.7 823.4h1.3v13.5h-1.3zM110.3 823.4h1.3v13.5h-1.3zM117.3 823.4h1.3v13.5h-1.3zM119.6 823.4h1.3v13.5h-1.3zM126.7 823.4h1.3v13.5h-1.3zM127.4 823.4h1.3v13.5h-1.3zM174.2 823.4h1.3v13.5h-1.3zM187.4 823.4h1.3v13.5h-1.3zM33.2 836.4h1.3v13.5h-1.3zM35.5 836.4h1.3v13.5h-1.3zM36.3 836.4h1.3v13.5h-1.3zM37.1 836.4h1.3v13.5h-1.3zM41 836.4h1.3v13.5h-1.3zM51.9 836.4h1.3v13.5h-1.3zM57.3 836.4h1.3v13.5h-1.3zM63.6 836.4h1.3v13.5h-1.3zM67.5 836.4h1.3v13.5h-1.3zM74.5 836.4h1.3v13.5h-1.3zM75.2 836.4h1.3v13.5h-1.3zM79.1 836.4h1.3v13.5h-1.3zM88.5 836.4h1.3v13.5h-1.3zM90.8 836.4h1.3v13.5h-1.3zM91.6 836.4h1.3v13.5h-1.3zM93.2 836.4h1.3v13.5h-1.3zM107.2 836.4h1.3v13.5h-1.3zM118.1 836.4h1.3v13.5h-1.3zM118.9 836.4h1.3v13.5h-1.3zM124.3 836.4h1.3v13.5h-1.3zM127.4 836.4h1.3v13.5h-1.3zM129.8 836.4h1.3v13.5h-1.3zM130.5 836.4h1.3v13.5h-1.3zM131.3 836.4h1.3v13.5h-1.3zM149.2 836.4h1.3v13.5h-1.3zM150.8 836.4h1.3v13.5h-1.3zM154.7 836.4h1.3v13.5h-1.3zM164.8 836.4h1.3v13.5h-1.3zM166.4 836.4h1.3v13.5h-1.3zM178.1 836.4h1.3v13.5h-1.3zM183.5 836.4h1.3v13.5h-1.3zM41 849.5h1.3v13.5h-1.3zM51.9 849.5h1.3v13.5h-1.3zM58.9 849.5h1.3v13.5h-1.3zM65.1 849.5h1.3v13.5h-1.3zM73.7 849.5h1.3v13.5h-1.3zM76.8 849.5h1.3v13.5h-1.3zM79.1 849.5h1.3v13.5h-1.3zM88.5 849.5h1.3v13.5h-1.3zM91.6 849.5h1.3v13.5h-1.3zM104.1 849.5h1.3v13.5h-1.3zM110.3 849.5h1.3v13.5h-1.3zM114.2 849.5h1.3v13.5h-1.3zM125.9 849.5h1.3v13.5h-1.3zM127.4 849.5h1.3v13.5h-1.3zM134.4 849.5h1.3v13.5h-1.3zM141.5 849.5h1.3v13.5h-1.3zM143 849.5h1.3v13.5h-1.3zM159.4 849.5h1.3v13.5h-1.3zM182.7 849.5h1.3v13.5h-1.3zM34.7 862.5h1.3v13.5h-1.3zM35.5 862.5h1.3v13.5h-1.3zM48 862.5h1.3v13.5h-1.3zM48.8 862.5h1.3v13.5h-1.3zM56.5 862.5h1.3v13.5h-1.3zM71.3 862.5h1.3v13.5h-1.3zM76 862.5h1.3v13.5h-1.3zM83 862.5h1.3v13.5h-1.3zM83.8 862.5h1.3v13.5h-1.3zM90.8 862.5h1.3v13.5h-1.3zM93.2 862.5h1.3v13.5h-1.3zM99.4 862.5h1.3v13.5h-1.3zM101.7 862.5h1.3v13.5h-1.3zM104.8 862.5h1.3v13.5h-1.3zM115 862.5h1.3v13.5h-1.3zM118.9 862.5h1.3v13.5h-1.3zM156.3 862.5h1.3v13.5h-1.3zM163.3 862.5h1.3v13.5h-1.3zM164 862.5h1.3v13.5h-1.3zM166.4 862.5h1.3v13.5h-1.3zM203 862.5h1.3v13.5h-1.3zM58.1 875.5h1.3v13.5h-1.3zM178.8 875.5h1.3v13.5h-1.3zM194.4 875.5h1.3v13.5h-1.3zM143 888.5h1.3v13.5h-1.3zM198.3 888.5h1.3v13.5h-1.3zM209.2 888.5h0.8v13.5h-0.8zM37.9 901.5h1.3v13.5h-1.3zM44.9 901.5h1.3v13.5h-1.3zM52.7 901.5h1.3v13.5h-1.3zM59.7 901.5h1.3v13.5h-1.3zM63.6 901.5h1.3v13.5h-1.3zM65.9 901.5h1.3v13.5h-1.3zM66.7 901.5h1.3v13.5h-1.3zM68.2 901.5h1.3v13.5h-1.3zM69 901.5h1.3v13.5h-1.3zM69.8 901.5h1.3v13.5h-1.3zM74.5 901.5h1.3v13.5h-1.3zM76.8 901.5h1.3v13.5h-1.3zM78.4 901.5h1.3v13.5h-1.3zM79.9 901.5h1.3v13.5h-1.3zM81.5 901.5h1.3v13.5h-1.3zM83.8 901.5h1.3v13.5h-1.3zM85.4 901.5h1.3v13.5h-1.3zM90 901.5h1.3v13.5h-1.3zM93.2 901.5h1.3v13.5h-1.3zM96.3 901.5h1.3v13.5h-1.3zM100.9 901.5h1.3v13.5h-1.3zM108.7 901.5h1.3v13.5h-1.3zM110.3 901.5h1.3v13.5h-1.3zM113.4 901.5h1.3v13.5h-1.3zM116.5 901.5h1.3v13.5h-1.3zM119.6 901.5h1.3v13.5h-1.3zM121.2 901.5h1.3v13.5h-1.3zM129.8 901.5h1.3v13.5h-1.3zM132.9 901.5h1.3v13.5h-1.3zM137.6 901.5h1.3v13.5h-1.3zM143.8 901.5h1.3v13.5h-1.3zM149.2 901.5h1.3v13.5h-1.3zM150 901.5h1.3v13.5h-1.3zM157.8 901.5h1.3v13.5h-1.3zM163.3 901.5h1.3v13.5h-1.3zM164 901.5h1.3v13.5h-1.3zM174.9 901.5h1.3v13.5h-1.3zM184.3 901.5h1.3v13.5h-1.3zM187.4 901.5h1.3v13.5h-1.3zM189 901.5h1.3v13.5h-1.3zM190.5 901.5h1.3v13.5h-1.3zM191.3 901.5h1.3v13.5h-1.3zM44.9 914.6h1.3v13h-1.3zM47.2 914.6h1.3v13h-1.3zM64.3 914.6h1.3v13h-1.3zM78.4 914.6h1.3v13h-1.3zM89.3 914.6h1.3v13h-1.3zM93.2 914.6h1.3v13h-1.3zM104.1 914.6h1.3v13h-1.3zM110.3 914.6h1.3v13h-1.3zM122 914.6h1.3v13h-1.3zM122.8 914.6h1.3v13h-1.3zM153.9 914.6h1.3v13h-1.3zM154.7 914.6h1.3v13h-1.3zM158.6 914.6h1.3v13h-1.3zM178.8 914.6h1.3v13h-1.3zM204.5 914.6h1.3v13h-1.3zM206.1 914.6h1.3v13h-1.3z"/>
<path fill="#067230" d="M118.9 771.3h1.3v13.5h-1.3zM171.1 771.3h1.3v13.5h-1.3zM184.3 771.3h1.3v13.5h-1.3zM185.1 771.3h1.3v13.5h-1.3zM203.8 771.3h1.3v13.5h-1.3zM208.4 771.3h1.3v13.5h-1.3zM33.2 784.3h1.3v13.5h-1.3zM34 784.3h1.3v13.5h-1.3zM38.6 784.3h1.3v13.5h-1.3zM39.4 784.3h1.3v13.5h-1.3zM40.2 784.3h1.3v13.5h-1.3zM48.8 784.3h1.3v13.5h-1.3zM49.5 784.3h1.3v13.5h-1.3zM53.4 784.3h1.3v13.5h-1.3zM56.5 784.3h1.3v13.5h-1.3zM57.3 784.3h1.3v13.5h-1.3zM70.6 784.3h1.3v13.5h-1.3zM76.8 784.3h1.3v13.5h-1.3zM78.4 784.3h1.3v13.5h-1.3zM81.5 784.3h1.3v13.5h-1.3zM84.6 784.3h1.3v13.5h-1.3zM86.9 784.3h1.3v13.5h-1.3zM101.7 784.3h1.3v13.5h-1.3zM115.7 784.3h1.3v13.5h-1.3zM119.6 784.3h1.3v13.5h-1.3zM123.5 784.3h1.3v13.5h-1.3zM124.3 784.3h1.3v13.5h-1.3zM143.8 784.3h1.3v13.5h-1.3zM153.1 784.3h1.3v13.5h-1.3zM156.3 784.3h1.3v13.5h-1.3zM169.5 784.3h1.3v13.5h-1.3zM172.6 784.3h1.3v13.5h-1.3zM175.7 784.3h1.3v13.5h-1.3zM75.2 797.3h1.3v13.5h-1.3zM105.6 797.3h1.3v13.5h-1.3zM118.9 797.3h1.3v13.5h-1.3zM130.5 797.3h1.3v13.5h-1.3zM136 797.3h1.3v13.5h-1.3zM167.9 797.3h1.3v13.5h-1.3zM182.7 797.3h1.3v13.5h-1.3zM198.3 797.3h1.3v13.5h-1.3zM199.9 797.3h1.3v13.5h-1.3zM201.4 797.3h1.3v13.5h-1.3zM204.5 797.3h1.3v13.5h-1.3zM56.5 810.4h1.3v13.5h-1.3zM126.7 810.4h1.3v13.5h-1.3zM139.1 810.4h1.3v13.5h-1.3zM141.5 810.4h1.3v13.5h-1.3zM142.2 810.4h1.3v13.5h-1.3zM150 810.4h1.3v13.5h-1.3zM153.1 810.4h1.3v13.5h-1.3zM156.3 810.4h1.3v13.5h-1.3zM171.8 810.4h1.3v13.5h-1.3zM177.3 810.4h1.3v13.5h-1.3zM182 810.4h1.3v13.5h-1.3zM185.9 810.4h1.3v13.5h-1.3zM186.6 810.4h1.3v13.5h-1.3zM191.3 810.4h1.3v13.5h-1.3zM196 810.4h1.3v13.5h-1.3zM199.1 810.4h1.3v13.5h-1.3zM41 823.4h1.3v13.5h-1.3zM45.6 823.4h1.3v13.5h-1.3zM57.3 823.4h1.3v13.5h-1.3zM68.2 823.4h1.3v13.5h-1.3zM70.6 823.4h1.3v13.5h-1.3zM79.1 823.4h1.3v13.5h-1.3zM82.3 823.4h1.3v13.5h-1.3zM87.7 823.4h1.3v13.5h-1.3zM89.3 823.4h1.3v13.5h-1.3zM90.8 823.4h1.3v13.5h-1.3zM108 823.4h1.3v13.5h-1.3zM115.7 823.4h1.3v13.5h-1.3zM120.4 823.4h1.3v13.5h-1.3zM125.9 823.4h1.3v13.5h-1.3zM128.2 823.4h1.3v13.5h-1.3zM131.3 823.4h1.3v13.5h-1.3zM136 823.4h1.3v13.5h-1.3zM136.8 823.4h1.3v13.5h-1.3zM142.2 823.4h1.3v13.5h-1.3zM152.4 823.4h1.3v13.5h-1.3zM165.6 823.4h1.3v13.5h-1.3zM171.8 823.4h1.3v13.5h-1.3zM174.9 823.4h1.3v13.5h-1.3zM183.5 823.4h1.3v13.5h-1.3zM184.3 823.4h1.3v13.5h-1.3zM190.5 823.4h1.3v13.5h-1.3zM200.7 823.4h1.3v13.5h-1.3zM201.4 823.4h1.3v13.5h-1.3zM206.9 823.4h1.3v13.5h-1.3zM208.4 823.4h1.3v13.5h-1.3zM44.1 836.4h1.3v13.5h-1.3zM53.4 836.4h1.3v13.5h-1.3zM59.7 836.4h1.3v13.5h-1.3zM64.3 836.4h1.3v13.5h-1.3zM70.6 836.4h1.3v13.5h-1.3zM73.7 836.4h1.3v13.5h-1.3zM77.6 836.4h1.3v13.5h-1.3zM83.8 836.4h1.3v13.5h-1.3zM87.7 836.4h1.3v13.5h-1.3zM89.3 836.4h1.3v13.5h-1.3zM97.8 836.4h1.3v13.5h-1.3zM98.6 836.4h1.3v13.5h-1.3zM99.4 836.4h1.3v13.5h-1.3zM102.5 836.4h1.3v13.5h-1.3zM104.1 836.4h1.3v13.5h-1.3zM114.2 836.4h1.3v13.5h-1.3zM132.9 836.4h1.3v13.5h-1.3zM135.2 836.4h1.3v13.5h-1.3zM138.3 836.4h1.3v13.5h-1.3zM141.5 836.4h1.3v13.5h-1.3zM142.2 836.4h1.3v13.5h-1.3zM151.6 836.4h1.3v13.5h-1.3zM157.8 836.4h1.3v13.5h-1.3zM167.9 836.4h1.3v13.5h-1.3zM174.2 836.4h1.3v13.5h-1.3zM175.7 836.4h1.3v13.5h-1.3zM182.7 836.4h1.3v13.5h-1.3zM192.9 836.4h1.3v13.5h-1.3zM198.3 836.4h1.3v13.5h-1.3zM206.9 836.4h1.3v13.5h-1.3zM36.3 849.5h1.3v13.5h-1.3zM37.9 849.5h1.3v13.5h-1.3zM44.9 849.5h1.3v13.5h-1.3zM49.5 849.5h1.3v13.5h-1.3zM55 849.5h1.3v13.5h-1.3zM56.5 849.5h1.3v13.5h-1.3zM59.7 849.5h1.3v13.5h-1.3zM63.6 849.5h1.3v13.5h-1.3zM65.9 849.5h1.3v13.5h-1.3zM68.2 849.5h1.3v13.5h-1.3zM71.3 849.5h1.3v13.5h-1.3zM78.4 849.5h1.3v13.5h-1.3zM80.7 849.5h1.3v13.5h-1.3zM81.5 849.5h1.3v13.5h-1.3zM83 849.5h1.3v13.5h-1.3zM83.8 849.5h1.3v13.5h-1.3zM86.9 849.5h1.3v13.5h-1.3zM105.6 849.5h1.3v13.5h-1.3zM109.5 849.5h1.3v13.5h-1.3zM115.7 849.5h1.3v13.5h-1.3zM116.5 849.5h1.3v13.5h-1.3zM117.3 849.5h1.3v13.5h-1.3zM123.5 849.5h1.3v13.5h-1.3zM131.3 849.5h1.3v13.5h-1.3zM162.5 849.5h1.3v13.5h-1.3zM163.3 849.5h1.3v13.5h-1.3zM165.6 849.5h1.3v13.5h-1.3zM174.9 849.5h1.3v13.5h-1.3zM196 849.5h1.3v13.5h-1.3zM200.7 849.5h1.3v13.5h-1.3zM207.7 849.5h1.3v13.5h-1.3zM37.1 862.5h1.3v13.5h-1.3zM37.9 862.5h1.3v13.5h-1.3zM41 862.5h1.3v13.5h-1.3zM44.1 862.5h1.3v13.5h-1.3zM47.2 862.5h1.3v13.5h-1.3zM57.3 862.5h1.3v13.5h-1.3zM59.7 862.5h1.3v13.5h-1.3zM60.4 862.5h1.3v13.5h-1.3zM64.3 862.5h1.3v13.5h-1.3zM69.8 862.5h1.3v13.5h-1.3zM81.5 862.5h1.3v13.5h-1.3zM82.3 862.5h1.3v13.5h-1.3zM84.6 862.5h1.3v13.5h-1.3zM85.4 862.5h1.3v13.5h-1.3zM87.7 862.5h1.3v13.5h-1.3zM89.3 862.5h1.3v13.5h-1.3zM91.6 862.5h1.3v13.5h-1.3zM94.7 862.5h1.3v13.5h-1.3zM95.5 862.5h1.3v13.5h-1.3zM97.1 862.5h1.3v13.5h-1.3zM110.3 862.5h1.3v13.5h-1.3zM112.6 862.5h1.3v13.5h-1.3zM123.5 862.5h1.3v13.5h-1.3zM137.6 862.5h1.3v13.5h-1.3zM138.3 862.5h1.3v13.5h-1.3zM144.6 862.5h1.3v13.5h-1.3zM145.3 862.5h1.3v13.5h-1.3zM152.4 862.5h1.3v13.5h-1.3zM176.5 862.5h1.3v13.5h-1.3zM180.4 862.5h1.3v13.5h-1.3zM68.2 875.5h1.3v13.5h-1.3zM78.4 875.5h1.3v13.5h-1.3zM89.3 875.5h1.3v13.5h-1.3zM90 875.5h1.3v13.5h-1.3zM122 875.5h1.3v13.5h-1.3zM128.2 875.5h1.3v13.5h-1.3zM136 875.5h1.3v13.5h-1.3zM140.7 875.5h1.3v13.5h-1.3zM142.2 875.5h1.3v13.5h-1.3zM150 875.5h1.3v13.5h-1.3zM161.7 875.5h1.3v13.5h-1.3zM179.6 875.5h1.3v13.5h-1.3zM185.1 875.5h1.3v13.5h-1.3zM185.9 875.5h1.3v13.5h-1.3zM199.9 875.5h1.3v13.5h-1.3zM209.2 875.5h0.8v13.5h-0.8zM66.7 888.5h1.3v13.5h-1.3zM72.1 888.5h1.3v13.5h-1.3zM155.5 888.5h1.3v13.5h-1.3zM158.6 888.5h1.3v13.5h-1.3zM161.7 888.5h1.3v13.5h-1.3zM181.2 888.5h1.3v13.5h-1.3zM183.5 888.5h1.3v13.5h-1.3zM189 888.5h1.3v13.5h-1.3zM196.8 888.5h1.3v13.5h-1.3zM199.1 888.5h1.3v13.5h-1.3zM202.2 888.5h1.3v13.5h-1.3zM34 901.5h1.3v13.5h-1.3zM41 901.5h1.3v13.5h-1.3zM42.5 901.5h1.3v13.5h-1.3zM47.2 901.5h1.3v13.5h-1.3zM55.8 901.5h1.3v13.5h-1.3zM58.9 901.5h1.3v13.5h-1.3zM82.3 901.5h1.3v13.5h-1.3zM89.3 901.5h1.3v13.5h-1.3zM90.8 901.5h1.3v13.5h-1.3zM97.8 901.5h1.3v13.5h-1.3zM100.2 901.5h1.3v13.5h-1.3zM101.7 901.5h1.3v13.5h-1.3zM112.6 901.5h1.3v13.5h-1.3zM122 901.5h1.3v13.5h-1.3zM134.4 901.5h1.3v13.5h-1.3zM136.8 901.5h1.3v13.5h-1.3zM138.3 901.5h1.3v13.5h-1.3zM139.1 901.5h1.3v13.5h-1.3zM140.7 901.5h1.3v13.5h-1.3zM141.5 901.5h1.3v13.5h-1.3zM148.5 901.5h1.3v13.5h-1.3zM154.7 901.5h1.3v13.5h-1.3zM157 901.5h1.3v13.5h-1.3zM160.1 901.5h1.3v13.5h-1.3zM160.9 901.5h1.3v13.5h-1.3zM168.7 901.5h1.3v13.5h-1.3zM171.1 901.5h1.3v13.5h-1.3zM171.8 901.5h1.3v13.5h-1.3zM174.2 901.5h1.3v13.5h-1.3zM177.3 901.5h1.3v13.5h-1.3zM178.8 901.5h1.3v13.5h-1.3zM182 901.5h1.3v13.5h-1.3zM203.8 901.5h1.3v13.5h-1.3zM33.2 914.6h1.3v13h-1.3zM36.3 914.6h1.3v13h-1.3zM37.9 914.6h1.3v13h-1.3zM41.7 914.6h1.3v13h-1.3zM46.4 914.6h1.3v13h-1.3zM48 914.6h1.3v13h-1.3zM51.9 914.6h1.3v13h-1.3zM55 914.6h1.3v13h-1.3zM57.3 914.6h1.3v13h-1.3zM67.5 914.6h1.3v13h-1.3zM79.1 914.6h1.3v13h-1.3zM81.5 914.6h1.3v13h-1.3zM82.3 914.6h1.3v13h-1.3zM92.4 914.6h1.3v13h-1.3zM94.7 914.6h1.3v13h-1.3zM100.2 914.6h1.3v13h-1.3zM105.6 914.6h1.3v13h-1.3zM112.6 914.6h1.3v13h-1.3zM115.7 914.6h1.3v13h-1.3zM132.1 914.6h1.3v13h-1.3zM136 914.6h1.3v13h-1.3zM142.2 914.6h1.3v13h-1.3zM148.5 914.6h1.3v13h-1.3zM149.2 914.6h1.3v13h-1.3zM152.4 914.6h1.3v13h-1.3zM161.7 914.6h1.3v13h-1.3zM171.1 914.6h1.3v13h-1.3zM199.9 914.6h1.3v13h-1.3zM201.4 914.6h1.3v13h-1.3z"/>
<path fill="#000600" d="M129 771.3h1.3v13.5h-1.3zM51.1 784.3h1.3v13.5h-1.3zM180.4 784.3h1.3v13.5h-1.3zM129.8 797.3h1.3v13.5h-1.3zM48 823.4h1.3v13.5h-1.3zM102.5 823.4h1.3v13.5h-1.3zM133.7 823.4h1.3v13.5h-1.3zM179.6 823.4h1.3v13.5h-1.3zM192.9 862.5h1.3v13.5h-1.3zM133.7 888.5h1.3v13.5h-1.3zM70.6 901.5h1.3v13.5h-1.3zM56.5 914.6h1.3v13h-1.3zM61.2 914.6h1.3v13h-1.3z"/>
<path fill="#066c2a" d="M134.4 771.3h1.3v13.5h-1.3zM141.5 771.3h1.3v13.5h-1.3zM142.2 771.3h1.3v13.5h-1.3zM147.7 771.3h1.3v13.5h-1.3zM153.1 771.3h1.3v13.5h-1.3zM163.3 771.3h1.3v13.5h-1.3zM180.4 771.3h1.3v13.5h-1.3zM187.4 771.3h1.3v13.5h-1.3zM191.3 771.3h1.3v13.5h-1.3zM192.9 771.3h1.3v13.5h-1.3zM194.4 771.3h1.3v13.5h-1.3zM199.1 771.3h1.3v13.5h-1.3zM204.5 771.3h1.3v13.5h-1.3zM37.1 784.3h1.3v13.5h-1.3zM45.6 784.3h1.3v13.5h-1.3zM47.2 784.3h1.3v13.5h-1.3zM55 784.3h1.3v13.5h-1.3zM59.7 784.3h1.3v13.5h-1.3zM62 784.3h1.3v13.5h-1.3zM65.9 784.3h1.3v13.5h-1.3zM66.7 784.3h1.3v13.5h-1.3zM67.5 784.3h1.3v13.5h-1.3zM79.1 784.3h1.3v13.5h-1.3zM79.9 784.3h1.3v13.5h-1.3zM80.7 784.3h1.3v13.5h-1.3zM83 784.3h1.3v13.5h-1.3zM89.3 784.3h1.3v13.5h-1.3zM96.3 784.3h1.3v13.5h-1.3zM109.5 784.3h1.3v13.5h-1.3zM112.6 784.3h1.3v13.5h-1.3zM118.1 784.3h1.3v13.5h-1.3zM120.4 784.3h1.3v13.5h-1.3zM126.7 784.3h1.3v13.5h-1.3zM130.5 784.3h1.3v13.5h-1.3zM132.1 784.3h1.3v13.5h-1.3zM134.4 784.3h1.3v13.5h-1.3zM135.2 784.3h1.3v13.5h-1.3zM149.2 784.3h1.3v13.5h-1.3zM151.6 784.3h1.3v13.5h-1.3zM158.6 784.3h1.3v13.5h-1.3zM160.9 784.3h1.3v13.5h-1.3zM168.7 784.3h1.3v13.5h-1.3zM173.4 784.3h1.3v13.5h-1.3zM182.7 784.3h1.3v13.5h-1.3zM189.7 784.3h1.3v13.5h-1.3zM192.1 784.3h1.3v13.5h-1.3zM196.8 784.3h1.3v13.5h-1.3zM197.5 784.3h1.3v13.5h-1.3zM199.1 784.3h1.3v13.5h-1.3zM48.8 797.3h1.3v13.5h-1.3zM92.4 797.3h1.3v13.5h-1.3zM109.5 797.3h1.3v13.5h-1.3zM116.5 797.3h1.3v13.5h-1.3zM124.3 797.3h1.3v13.5h-1.3zM125.9 797.3h1.3v13.5h-1.3zM143.8 797.3h1.3v13.5h-1.3zM144.6 797.3h1.3v13.5h-1.3zM146.1 797.3h1.3v13.5h-1.3zM171.1 797.3h1.3v13.5h-1.3zM185.1 797.3h1.3v13.5h-1.3zM186.6 797.3h1.3v13.5h-1.3zM192.1 797.3h1.3v13.5h-1.3zM192.9 797.3h1.3v13.5h-1.3zM194.4 797.3h1.3v13.5h-1.3zM202.2 797.3h1.3v13.5h-1.3zM208.4 797.3h1.3v13.5h-1.3zM55 810.4h1.3v13.5h-1.3zM85.4 810.4h1.3v13.5h-1.3zM115 810.4h1.3v13.5h-1.3zM117.3 810.4h1.3v13.5h-1.3zM125.1 810.4h1.3v13.5h-1.3zM138.3 810.4h1.3v13.5h-1.3zM146.1 810.4h1.3v13.5h-1.3zM147.7 810.4h1.3v13.5h-1.3zM149.2 810.4h1.3v13.5h-1.3zM150.8 810.4h1.3v13.5h-1.3zM164 810.4h1.3v13.5h-1.3zM169.5 810.4h1.3v13.5h-1.3zM172.6 810.4h1.3v13.5h-1.3zM174.9 810.4h1.3v13.5h-1.3zM178.8 810.4h1.3v13.5h-1.3zM183.5 810.4h1.3v13.5h-1.3zM185.1 810.4h1.3v13.5h-1.3zM187.4 810.4h1.3v13.5h-1.3zM188.2 810.4h1.3v13.5h-1.3zM189 810.4h1.3v13.5h-1.3zM189.7 810.4h1.3v13.5h-1.3zM192.9 810.4h1.3v13.5h-1.3zM198.3 810.4h1.3v13.5h-1.3zM200.7 810.4h1.3v13.5h-1.3zM206.1 810.4h1.3v13.5h-1.3zM208.4 810.4h1.3v13.5h-1.3zM36.3 823.4h1.3v13.5h-1.3zM46.4 823.4h1.3v13.5h-1.3zM52.7 823.4h1.3v13.5h-1.3zM55 823.4h1.3v13.5h-1.3zM58.1 823.4h1.3v13.5h-1.3zM59.7 823.4h1.3v13.5h-1.3zM64.3 823.4h1.3v13.5h-1.3zM65.9 823.4h1.3v13.5h-1.3zM69 823.4h1.3v13.5h-1.3zM72.1 823.4h1.3v13.5h-1.3zM72.9 823.4h1.3v13.5h-1.3zM75.2 823.4h1.3v13.5h-1.3zM77.6 823.4h1.3v13.5h-1.3zM78.4 823.4h1.3v13.5h-1.3zM79.9 823.4h1.3v13.5h-1.3zM81.5 823.4h1.3v13.5h-1.3zM86.1 823.4h1.3v13.5h-1.3zM91.6 823.4h1.3v13.5h-1.3zM99.4 823.4h1.3v13.5h-1.3zM107.2 823.4h1.3v13.5h-1.3zM112.6 823.4h1.3v13.5h-1.3zM116.5 823.4h1.3v13.5h-1.3zM118.9 823.4h1.3v13.5h-1.3zM122.8 823.4h1.3v13.5h-1.3zM129 823.4h1.3v13.5h-1.3zM137.6 823.4h1.3v13.5h-1.3zM147.7 823.4h1.3v13.5h-1.3zM150.8 823.4h1.3v13.5h-1.3zM153.9 823.4h1.3v13.5h-1.3zM160.1 823.4h1.3v13.5h-1.3zM167.9 823.4h1.3v13.5h-1.3zM171.1 823.4h1.3v13.5h-1.3zM178.1 823.4h1.3v13.5h-1.3zM178.8 823.4h1.3v13.5h-1.3zM181.2 823.4h1.3v13.5h-1.3zM185.1 823.4h1.3v13.5h-1.3zM186.6 823.4h1.3v13.5h-1.3zM202.2 823.4h1.3v13.5h-1.3zM203 823.4h1.3v13.5h-1.3zM205.3 823.4h1.3v13.5h-1.3zM206.1 823.4h1.3v13.5h-1.3zM209.2 823.4h0.8v13.5h-0.8zM42.5 836.4h1.3v13.5h-1.3zM43.3 836.4h1.3v13.5h-1.3zM46.4 836.4h1.3v13.5h-1.3zM47.2 836.4h1.3v13.5h-1.3zM55 836.4h1.3v13.5h-1.3zM69 836.4h1.3v13.5h-1.3zM76.8 836.4h1.3v13.5h-1.3zM83 836.4h1.3v13.5h-1.3zM86.1 836.4h1.3v13.5h-1.3zM86.9 836.4h1.3v13.5h-1.3zM92.4 836.4h1.3v13.5h-1.3zM106.4 836.4h1.3v13.5h-1.3zM115 836.4h1.3v13.5h-1.3zM115.7 836.4h1.3v13.5h-1.3zM132.1 836.4h1.3v13.5h-1.3zM134.4 836.4h1.3v13.5h-1.3zM137.6 836.4h1.3v13.5h-1.3zM143.8 836.4h1.3v13.5h-1.3zM144.6 836.4h1.3v13.5h-1.3zM145.3 836.4h1.3v13.5h-1.3zM148.5 836.4h1.3v13.5h-1.3zM153.1 836.4h1.3v13.5h-1.3zM153.9 836.4h1.3v13.5h-1.3zM168.7 836.4h1.3v13.5h-1.3zM169.5 836.4h1.3v13.5h-1.3zM170.3 836.4h1.3v13.5h-1.3zM174.9 836.4h1.3v13.5h-1.3zM186.6 836.4h1.3v13.5h-1.3zM187.4 836.4h1.3v13.5h-1.3zM192.1 836.4h1.3v13.5h-1.3zM194.4 836.4h1.3v13.5h-1.3zM196 836.4h1.3v13.5h-1.3zM199.1 836.4h1.3v13.5h-1.3zM201.4 836.4h1.3v13.5h-1.3zM203.8 836.4h1.3v13.5h-1.3zM208.4 836.4h1.3v13.5h-1.3zM33.2 849.5h1.3v13.5h-1.3zM34.7 849.5h1.3v13.5h-1.3zM35.5 849.5h1.3v13.5h-1.3zM39.4 849.5h1.3v13.5h-1.3zM44.1 849.5h1.3v13.5h-1.3zM46.4 849.5h1.3v13.5h-1.3zM48.8 849.5h1.3v13.5h-1.3zM50.3 849.5h1.3v13.5h-1.3zM52.7 849.5h1.3v13.5h-1.3zM54.2 849.5h1.3v13.5h-1.3zM57.3 849.5h1.3v13.5h-1.3zM69 849.5h1.3v13.5h-1.3zM72.9 849.5h1.3v13.5h-1.3zM99.4 849.5h1.3v13.5h-1.3zM100.9 849.5h1.3v13.5h-1.3zM108 849.5h1.3v13.5h-1.3zM111.9 849.5h1.3v13.5h-1.3zM119.6 849.5h1.3v13.5h-1.3zM122 849.5h1.3v13.5h-1.3zM128.2 849.5h1.3v13.5h-1.3zM132.9 849.5h1.3v13.5h-1.3zM136.8 849.5h1.3v13.5h-1.3zM137.6 849.5h1.3v13.5h-1.3zM146.1 849.5h1.3v13.5h-1.3zM153.9 849.5h1.3v13.5h-1.3zM154.7 849.5h1.3v13.5h-1.3zM157 849.5h1.3v13.5h-1.3zM166.4 849.5h1.3v13.5h-1.3zM170.3 849.5h1.3v13.5h-1.3zM171.1 849.5h1.3v13.5h-1.3zM172.6 849.5h1.3v13.5h-1.3zM173.4 849.5h1.3v13.5h-1.3zM191.3 849.5h1.3v13.5h-1.3zM196.8 849.5h1.3v13.5h-1.3zM206.1 849.5h1.3v13.5h-1.3zM32.4 862.5h1.3v13.5h-1.3zM39.4 862.5h1.3v13.5h-1.3zM46.4 862.5h1.3v13.5h-1.3zM50.3 862.5h1.3v13.5h-1.3zM51.9 862.5h1.3v13.5h-1.3zM65.9 862.5h1.3v13.5h-1.3zM76.8 862.5h1.3v13.5h-1.3zM79.1 862.5h1.3v13.5h-1.3zM79.9 862.5h1.3v13.5h-1.3zM80.7 862.5h1.3v13.5h-1.3zM86.1 862.5h1.3v13.5h-1.3zM86.9 862.5h1.3v13.5h-1.3zM93.9 862.5h1.3v13.5h-1.3zM96.3 862.5h1.3v13.5h-1.3zM100.2 862.5h1.3v13.5h-1.3zM102.5 862.5h1.3v13.5h-1.3zM107.2 862.5h1.3v13.5h-1.3zM119.6 862.5h1.3v13.5h-1.3zM125.1 862.5h1.3v13.5h-1.3zM126.7 862.5h1.3v13.5h-1.3zM136 862.5h1.3v13.5h-1.3zM140.7 862.5h1.3v13.5h-1.3zM143 862.5h1.3v13.5h-1.3zM146.1 862.5h1.3v13.5h-1.3zM146.9 862.5h1.3v13.5h-1.3zM170.3 862.5h1.3v13.5h-1.3zM171.1 862.5h1.3v13.5h-1.3zM178.8 862.5h1.3v13.5h-1.3zM186.6 862.5h1.3v13.5h-1.3zM189.7 862.5h1.3v13.5h-1.3zM190.5 862.5h1.3v13.5h-1.3zM197.5 862.5h1.3v13.5h-1.3zM202.2 862.5h1.3v13.5h-1.3zM206.9 862.5h1.3v13.5h-1.3zM53.4 875.5h1.3v13.5h-1.3zM77.6 875.5h1.3v13.5h-1.3zM86.1 875.5h1.3v13.5h-1.3zM86.9 875.5h1.3v13.5h-1.3zM91.6 875.5h1.3v13.5h-1.3zM95.5 875.5h1.3v13.5h-1.3zM99.4 875.5h1.3v13.5h-1.3zM101.7 875.5h1.3v13.5h-1.3zM105.6 875.5h1.3v13.5h-1.3zM108 875.5h1.3v13.5h-1.3zM111.9 875.5h1.3v13.5h-1.3zM129 875.5h1.3v13.5h-1.3zM135.2 875.5h1.3v13.5h-1.3zM138.3 875.5h1.3v13.5h-1.3zM139.9 875.5h1.3v13.5h-1.3zM152.4 875.5h1.3v13.5h-1.3zM153.1 875.5h1.3v13.5h-1.3zM153.9 875.5h1.3v13.5h-1.3zM154.7 875.5h1.3v13.5h-1.3zM155.5 875.5h1.3v13.5h-1.3zM160.1 875.5h1.3v13.5h-1.3zM160.9 875.5h1.3v13.5h-1.3zM162.5 875.5h1.3v13.5h-1.3zM166.4 875.5h1.3v13.5h-1.3zM167.9 875.5h1.3v13.5h-1.3zM171.1 875.5h1.3v13.5h-1.3zM171.8 875.5h1.3v13.5h-1.3zM172.6 875.5h1.3v13.5h-1.3zM173.4 875.5h1.3v13.5h-1.3zM189 875.5h1.3v13.5h-1.3zM190.5 875.5h1.3v13.5h-1.3zM196 875.5h1.3v13.5h-1.3zM203 875.5h1.3v13.5h-1.3zM205.3 875.5h1.3v13.5h-1.3zM206.9 875.5h1.3v13.5h-1.3zM100.2 888.5h1.3v13.5h-1.3zM111.9 888.5h1.3v13.5h-1.3zM116.5 888.5h1.3v13.5h-1.3zM119.6 888.5h1.3v13.5h-1.3zM136 888.5h1.3v13.5h-1.3zM150 888.5h1.3v13.5h-1.3zM151.6 888.5h1.3v13.5h-1.3zM167.9 888.5h1.3v13.5h-1.3zM171.8 888.5h1.3v13.5h-1.3zM174.2 888.5h1.3v13.5h-1.3zM176.5 888.5h1.3v13.5h-1.3zM182 888.5h1.3v13.5h-1.3zM184.3 888.5h1.3v13.5h-1.3zM190.5 888.5h1.3v13.5h-1.3zM195.2 888.5h1.3v13.5h-1.3zM196 888.5h1.3v13.5h-1.3zM200.7 888.5h1.3v13.5h-1.3zM203 888.5h1.3v13.5h-1.3zM33.2 901.5h1.3v13.5h-1.3zM36.3 901.5h1.3v13.5h-1.3zM60.4 901.5h1.3v13.5h-1.3zM62.8 901.5h1.3v13.5h-1.3zM67.5 901.5h1.3v13.5h-1.3zM72.9 901.5h1.3v13.5h-1.3zM83 901.5h1.3v13.5h-1.3zM86.1 901.5h1.3v13.5h-1.3zM86.9 901.5h1.3v13.5h-1.3zM87.7 901.5h1.3v13.5h-1.3zM105.6 901.5h1.3v13.5h-1.3zM125.9 901.5h1.3v13.5h-1.3zM126.7 901.5h1.3v13.5h-1.3zM127.4 901.5h1.3v13.5h-1.3zM139.9 901.5h1.3v13.5h-1.3zM143 901.5h1.3v13.5h-1.3zM145.3 901.5h1.3v13.5h-1.3zM150.8 901.5h1.3v13.5h-1.3zM151.6 901.5h1.3v13.5h-1.3zM153.9 901.5h1.3v13.5h-1.3zM167.2 901.5h1.3v13.5h-1.3zM172.6 901.5h1.3v13.5h-1.3zM176.5 901.5h1.3v13.5h-1.3zM180.4 901.5h1.3v13.5h-1.3zM185.1 901.5h1.3v13.5h-1.3zM195.2 901.5h1.3v13.5h-1.3zM197.5 901.5h1.3v13.5h-1.3zM202.2 901.5h1.3v13.5h-1.3zM204.5 901.5h1.3v13.5h-1.3zM205.3 901.5h1.3v13.5h-1.3zM206.1 901.5h1.3v13.5h-1.3zM209.2 901.5h0.8v13.5h-0.8zM34.7 914.6h1.3v13h-1.3zM35.5 914.6h1.3v13h-1.3zM37.1 914.6h1.3v13h-1.3zM58.9 914.6h1.3v13h-1.3zM69.8 914.6h1.3v13h-1.3zM71.3 914.6h1.3v13h-1.3zM73.7 914.6h1.3v13h-1.3zM74.5 914.6h1.3v13h-1.3zM76.8 914.6h1.3v13h-1.3zM77.6 914.6h1.3v13h-1.3zM83.8 914.6h1.3v13h-1.3zM86.9 914.6h1.3v13h-1.3zM95.5 914.6h1.3v13h-1.3zM107.2 914.6h1.3v13h-1.3zM108 914.6h1.3v13h-1.3zM115 914.6h1.3v13h-1.3zM120.4 914.6h1.3v13h-1.3zM125.1 914.6h1.3v13h-1.3zM129.8 914.6h1.3v13h-1.3zM141.5 914.6h1.3v13h-1.3zM143.8 914.6h1.3v13h-1.3zM146.1 914.6h1.3v13h-1.3zM150.8 914.6h1.3v13h-1.3zM159.4 914.6h1.3v13h-1.3zM160.1 914.6h1.3v13h-1.3zM165.6 914.6h1.3v13h-1.3zM170.3 914.6h1.3v13h-1.3zM172.6 914.6h1.3v13h-1.3zM179.6 914.6h1.3v13h-1.3zM185.1 914.6h1.3v13h-1.3zM193.6 914.6h1.3v13h-1.3zM195.2 914.6h1.3v13h-1.3zM202.2 914.6h1.3v13h-1.3zM209.2 914.6h0.8v13h-0.8z"/>
<path fill="#00180c" d="M150.8 771.3h1.3v13.5h-1.3zM41.7 810.4h1.3v13.5h-1.3zM184.3 849.5h1.3v13.5h-1.3zM192.9 875.5h1.3v13.5h-1.3zM41.7 901.5h1.3v13.5h-1.3z"/>
<path fill="#06722a" d="M182.7 771.3h1.3v13.5h-1.3zM52.7 784.3h1.3v13.5h-1.3zM72.9 784.3h1.3v13.5h-1.3zM83.8 784.3h1.3v13.5h-1.3zM156.3 797.3h1.3v13.5h-1.3zM197.5 797.3h1.3v13.5h-1.3zM104.8 810.4h1.3v13.5h-1.3zM132.1 810.4h1.3v13.5h-1.3zM162.5 810.4h1.3v13.5h-1.3zM63.6 823.4h1.3v13.5h-1.3zM84.6 823.4h1.3v13.5h-1.3zM97.1 823.4h1.3v13.5h-1.3zM138.3 823.4h1.3v13.5h-1.3zM169.5 823.4h1.3v13.5h-1.3zM121.2 849.5h1.3v13.5h-1.3zM202.2 849.5h1.3v13.5h-1.3zM49.5 862.5h1.3v13.5h-1.3zM72.9 862.5h1.3v13.5h-1.3zM106.4 862.5h1.3v13.5h-1.3zM114.2 862.5h1.3v13.5h-1.3zM132.9 862.5h1.3v13.5h-1.3zM157.8 862.5h1.3v13.5h-1.3zM104.8 875.5h1.3v13.5h-1.3zM157.8 875.5h1.3v13.5h-1.3zM84.6 901.5h1.3v13.5h-1.3zM108 901.5h1.3v13.5h-1.3zM147.7 901.5h1.3v13.5h-1.3zM41 914.6h1.3v13h-1.3zM75.2 914.6h1.3v13h-1.3zM83 914.6h1.3v13h-1.3zM109.5 914.6h1.3v13h-1.3z"/>
<path fill="#067e30" d="M41 784.3h1.3v13.5h-1.3zM60.4 784.3h1.3v13.5h-1.3zM61.2 784.3h1.3v13.5h-1.3zM63.6 784.3h1.3v13.5h-1.3zM93.2 784.3h1.3v13.5h-1.3zM95.5 784.3h1.3v13.5h-1.3zM100.9 784.3h1.3v13.5h-1.3zM176.5 784.3h1.3v13.5h-1.3zM167.2 797.3h1.3v13.5h-1.3zM174.2 797.3h1.3v13.5h-1.3zM207.7 797.3h1.3v13.5h-1.3zM180.4 810.4h1.3v13.5h-1.3zM54.2 823.4h1.3v13.5h-1.3zM55.8 823.4h1.3v13.5h-1.3zM100.2 823.4h1.3v13.5h-1.3zM100.9 823.4h1.3v13.5h-1.3zM115 823.4h1.3v13.5h-1.3zM123.5 823.4h1.3v13.5h-1.3zM139.1 823.4h1.3v13.5h-1.3zM144.6 823.4h1.3v13.5h-1.3zM151.6 823.4h1.3v13.5h-1.3zM157.8 823.4h1.3v13.5h-1.3zM32.4 836.4h1.3v13.5h-1.3zM34 836.4h1.3v13.5h-1.3zM40.2 836.4h1.3v13.5h-1.3zM48 836.4h1.3v13.5h-1.3zM52.7 836.4h1.3v13.5h-1.3zM61.2 836.4h1.3v13.5h-1.3zM66.7 836.4h1.3v13.5h-1.3zM76 836.4h1.3v13.5h-1.3zM80.7 836.4h1.3v13.5h-1.3zM97.1 836.4h1.3v13.5h-1.3zM100.2 836.4h1.3v13.5h-1.3zM101.7 836.4h1.3v13.5h-1.3zM108.7 836.4h1.3v13.5h-1.3zM111.9 836.4h1.3v13.5h-1.3zM117.3 836.4h1.3v13.5h-1.3zM121.2 836.4h1.3v13.5h-1.3zM122.8 836.4h1.3v13.5h-1.3zM147.7 836.4h1.3v13.5h-1.3zM159.4 836.4h1.3v13.5h-1.3zM162.5 836.4h1.3v13.5h-1.3zM165.6 836.4h1.3v13.5h-1.3zM58.1 849.5h1.3v13.5h-1.3zM60.4 849.5h1.3v13.5h-1.3zM76 849.5h1.3v13.5h-1.3zM92.4 849.5h1.3v13.5h-1.3zM132.1 849.5h1.3v13.5h-1.3zM147.7 849.5h1.3v13.5h-1.3zM177.3 849.5h1.3v13.5h-1.3zM44.9 862.5h1.3v13.5h-1.3zM54.2 862.5h1.3v13.5h-1.3zM77.6 862.5h1.3v13.5h-1.3zM103.3 862.5h1.3v13.5h-1.3zM133.7 862.5h1.3v13.5h-1.3zM189.7 888.5h1.3v13.5h-1.3zM35.5 901.5h1.3v13.5h-1.3zM38.6 901.5h1.3v13.5h-1.3zM39.4 901.5h1.3v13.5h-1.3zM45.6 901.5h1.3v13.5h-1.3zM48.8 901.5h1.3v13.5h-1.3zM55 901.5h1.3v13.5h-1.3zM99.4 901.5h1.3v13.5h-1.3zM102.5 901.5h1.3v13.5h-1.3zM103.3 901.5h1.3v13.5h-1.3zM104.1 901.5h1.3v13.5h-1.3zM111.1 901.5h1.3v13.5h-1.3zM124.3 901.5h1.3v13.5h-1.3zM131.3 901.5h1.3v13.5h-1.3zM132.1 901.5h1.3v13.5h-1.3zM152.4 901.5h1.3v13.5h-1.3zM158.6 901.5h1.3v13.5h-1.3zM169.5 901.5h1.3v13.5h-1.3zM175.7 901.5h1.3v13.5h-1.3zM186.6 901.5h1.3v13.5h-1.3zM63.6 914.6h1.3v13h-1.3zM72.9 914.6h1.3v13h-1.3zM86.1 914.6h1.3v13h-1.3zM98.6 914.6h1.3v13h-1.3zM102.5 914.6h1.3v13h-1.3zM103.3 914.6h1.3v13h-1.3zM140.7 914.6h1.3v13h-1.3zM163.3 914.6h1.3v13h-1.3zM173.4 914.6h1.3v13h-1.3z"/>
<path fill="#068436" d="M50.3 784.3h1.3v13.5h-1.3zM55.8 784.3h1.3v13.5h-1.3zM58.1 784.3h1.3v13.5h-1.3zM58.9 784.3h1.3v13.5h-1.3zM64.3 784.3h1.3v13.5h-1.3zM82.3 784.3h1.3v13.5h-1.3zM98.6 784.3h1.3v13.5h-1.3zM108 784.3h1.3v13.5h-1.3zM163.3 784.3h1.3v13.5h-1.3zM189 797.3h1.3v13.5h-1.3zM206.9 797.3h1.3v13.5h-1.3zM81.5 810.4h1.3v13.5h-1.3zM32.4 823.4h1.3v13.5h-1.3zM33.2 823.4h1.3v13.5h-1.3zM34.7 823.4h1.3v13.5h-1.3zM42.5 823.4h1.3v13.5h-1.3zM44.9 823.4h1.3v13.5h-1.3zM48.8 823.4h1.3v13.5h-1.3zM71.3 823.4h1.3v13.5h-1.3zM114.2 823.4h1.3v13.5h-1.3zM38.6 836.4h1.3v13.5h-1.3zM39.4 836.4h1.3v13.5h-1.3zM50.3 836.4h1.3v13.5h-1.3zM51.1 836.4h1.3v13.5h-1.3zM54.2 836.4h1.3v13.5h-1.3zM58.1 836.4h1.3v13.5h-1.3zM65.1 836.4h1.3v13.5h-1.3zM68.2 836.4h1.3v13.5h-1.3zM72.1 836.4h1.3v13.5h-1.3zM90 836.4h1.3v13.5h-1.3zM96.3 836.4h1.3v13.5h-1.3zM108 836.4h1.3v13.5h-1.3zM136.8 836.4h1.3v13.5h-1.3zM158.6 836.4h1.3v13.5h-1.3zM40.2 849.5h1.3v13.5h-1.3zM55.8 849.5h1.3v13.5h-1.3zM62.8 849.5h1.3v13.5h-1.3zM93.2 849.5h1.3v13.5h-1.3zM120.4 849.5h1.3v13.5h-1.3zM194.4 849.5h1.3v13.5h-1.3zM36.3 862.5h1.3v13.5h-1.3zM42.5 862.5h1.3v13.5h-1.3zM32.4 901.5h1.3v13.5h-1.3zM34.7 901.5h1.3v13.5h-1.3zM48 901.5h1.3v13.5h-1.3zM51.9 901.5h1.3v13.5h-1.3zM53.4 901.5h1.3v13.5h-1.3zM61.2 901.5h1.3v13.5h-1.3zM73.7 901.5h1.3v13.5h-1.3zM80.7 901.5h1.3v13.5h-1.3zM88.5 901.5h1.3v13.5h-1.3zM111.9 901.5h1.3v13.5h-1.3zM136 901.5h1.3v13.5h-1.3zM142.2 901.5h1.3v13.5h-1.3zM43.3 914.6h1.3v13h-1.3zM70.6 914.6h1.3v13h-1.3zM84.6 914.6h1.3v13h-1.3z"/>
<path fill="#068a36" d="M99.4 784.3h1.3v13.5h-1.3zM121.2 784.3h1.3v13.5h-1.3zM34 823.4h1.3v13.5h-1.3zM69.8 823.4h1.3v13.5h-1.3zM73.7 823.4h1.3v13.5h-1.3zM74.5 823.4h1.3v13.5h-1.3zM104.1 823.4h1.3v13.5h-1.3zM129.8 823.4h1.3v13.5h-1.3zM44.9 836.4h1.3v13.5h-1.3zM45.6 836.4h1.3v13.5h-1.3zM48.8 836.4h1.3v13.5h-1.3zM49.5 836.4h1.3v13.5h-1.3zM55.8 836.4h1.3v13.5h-1.3zM72.9 836.4h1.3v13.5h-1.3zM78.4 836.4h1.3v13.5h-1.3zM111.1 836.4h1.3v13.5h-1.3zM112.6 836.4h1.3v13.5h-1.3zM133.7 836.4h1.3v13.5h-1.3zM38.6 849.5h1.3v13.5h-1.3zM84.6 849.5h1.3v13.5h-1.3zM66.7 862.5h1.3v13.5h-1.3zM73.7 862.5h1.3v13.5h-1.3zM37.1 901.5h1.3v13.5h-1.3zM43.3 901.5h1.3v13.5h-1.3zM44.1 901.5h1.3v13.5h-1.3zM46.4 901.5h1.3v13.5h-1.3zM49.5 901.5h1.3v13.5h-1.3zM56.5 901.5h1.3v13.5h-1.3zM57.3 901.5h1.3v13.5h-1.3zM64.3 901.5h1.3v13.5h-1.3zM79.1 901.5h1.3v13.5h-1.3zM92.4 901.5h1.3v13.5h-1.3zM53.4 914.6h1.3v13h-1.3zM104.8 914.6h1.3v13h-1.3z"/>
<path fill="#4eb43c" d="M106.4 784.3h1.3v13.5h-1.3zM38.6 823.4h1.3v13.5h-1.3zM143 823.4h1.3v13.5h-1.3zM119.6 836.4h1.3v13.5h-1.3zM136 836.4h1.3v13.5h-1.3zM128.2 862.5h1.3v13.5h-1.3zM178.1 875.5h1.3v13.5h-1.3zM111.1 914.6h1.3v13h-1.3zM125.9 914.6h1.3v13h-1.3z"/>
<path fill="#36ae3c" d="M107.2 784.3h1.3v13.5h-1.3zM32.4 849.5h1.3v13.5h-1.3zM191.3 875.5h1.3v13.5h-1.3z"/>
<path fill="#36a83c" d="M122.8 784.3h1.3v13.5h-1.3z"/>
<path fill="#480606" d="M141.5 784.3h1.3v13.5h-1.3z"/>
<path fill="#120000" d="M152.4 784.3h1.3v13.5h-1.3z"/>
<path fill="#180000" d="M185.1 784.3h1.3v13.5h-1.3z"/>
<path fill="#067e36" d="M200.7 784.3h1.3v13.5h-1.3zM61.2 849.5h1.3v13.5h-1.3zM199.1 875.5h1.3v13.5h-1.3zM51.1 901.5h1.3v13.5h-1.3zM120.4 901.5h1.3v13.5h-1.3zM201.4 901.5h1.3v13.5h-1.3zM40.2 914.6h1.3v13h-1.3zM90 914.6h1.3v13h-1.3z"/>
<path fill="#780c0c" d="M72.1 797.3h1.3v13.5h-1.3zM86.9 823.4h1.3v13.5h-1.3zM122.8 875.5h1.3v13.5h-1.3z"/>
<path fill="#48b43c" d="M76.8 797.3h1.3v13.5h-1.3zM111.1 810.4h1.3v13.5h-1.3z"/>
<path fill="#001e0c" d="M111.1 797.3h1.3v13.5h-1.3zM96.3 823.4h1.3v13.5h-1.3zM58.9 836.4h1.3v13.5h-1.3zM139.1 836.4h1.3v13.5h-1.3zM189.7 836.4h1.3v13.5h-1.3zM196.8 836.4h1.3v13.5h-1.3zM168.7 849.5h1.3v13.5h-1.3zM51.1 862.5h1.3v13.5h-1.3zM58.9 862.5h1.3v13.5h-1.3zM120.4 862.5h1.3v13.5h-1.3zM150.8 862.5h1.3v13.5h-1.3z"/>
<path fill="#000c00" d="M140.7 797.3h1.3v13.5h-1.3zM98.6 810.4h1.3v13.5h-1.3zM182 875.5h1.3v13.5h-1.3zM180.4 888.5h1.3v13.5h-1.3zM62.8 914.6h1.3v13h-1.3z"/>
<path fill="#30a83c" d="M155.5 797.3h1.3v13.5h-1.3zM133.7 810.4h1.3v13.5h-1.3zM115.7 862.5h1.3v13.5h-1.3zM192.9 901.5h1.3v13.5h-1.3zM38.6 914.6h1.3v13h-1.3z"/>
<path fill="#060000" d="M178.8 797.3h1.3v13.5h-1.3zM51.1 823.4h1.3v13.5h-1.3zM76 823.4h1.3v13.5h-1.3zM83 823.4h1.3v13.5h-1.3zM172.6 823.4h1.3v13.5h-1.3zM98.6 862.5h1.3v13.5h-1.3zM196.8 901.5h1.3v13.5h-1.3z"/>
<path fill="#720c0c" d="M73.7 810.4h1.3v13.5h-1.3z"/>
<path fill="#300606" d="M84.6 810.4h1.3v13.5h-1.3z"/>
<path fill="#240000" d="M157.8 810.4h1.3v13.5h-1.3zM54.2 901.5h1.3v13.5h-1.3z"/>
<path fill="#069036" d="M53.4 823.4h1.3v13.5h-1.3zM41.7 836.4h1.3v13.5h-1.3zM56.5 836.4h1.3v13.5h-1.3zM69.8 836.4h1.3v13.5h-1.3zM85.4 836.4h1.3v13.5h-1.3zM122 836.4h1.3v13.5h-1.3zM129 836.4h1.3v13.5h-1.3zM153.9 862.5h1.3v13.5h-1.3zM58.1 901.5h1.3v13.5h-1.3zM65.1 901.5h1.3v13.5h-1.3zM107.2 901.5h1.3v13.5h-1.3zM118.9 901.5h1.3v13.5h-1.3z"/>
<path fill="#2aa83c" d="M83.8 823.4h1.3v13.5h-1.3z"/>
<path fill="#3cae3c" d="M143.8 823.4h1.3v13.5h-1.3z"/>
<path fill="#0c963c" d="M81.5 836.4h1.3v13.5h-1.3zM40.2 901.5h1.3v13.5h-1.3z"/>
<path fill="#96060c" d="M84.6 836.4h1.3v13.5h-1.3zM126.7 914.6h1.3v13h-1.3z"/>
<path fill="#0c9636" d="M100.9 836.4h1.3v13.5h-1.3zM50.3 901.5h1.3v13.5h-1.3zM206.9 901.5h1.3v13.5h-1.3z"/>
<path fill="#84060c" d="M105.6 836.4h1.3v13.5h-1.3zM41.7 888.5h1.3v13.5h-1.3z"/>
<path fill="#7e0c0c" d="M139.9 836.4h1.3v13.5h-1.3zM62.8 888.5h1.3v13.5h-1.3z"/>
<path fill="#42ae3c" d="M157 836.4h1.3v13.5h-1.3z"/>
<path fill="#0c9036" d="M185.1 836.4h1.3v13.5h-1.3zM40.2 862.5h1.3v13.5h-1.3z"/>
<path fill="#90060c" d="M206.1 836.4h1.3v13.5h-1.3z"/>
<path fill="#2a0606" d="M64.3 849.5h1.3v13.5h-1.3zM68.2 914.6h1.3v13h-1.3z"/>
<path fill="#8a060c" d="M124.3 849.5h1.3v13.5h-1.3zM122 862.5h1.3v13.5h-1.3zM168.7 914.6h1.3v13h-1.3z"/>
<path fill="#2aa23c" d="M161.7 849.5h1.3v13.5h-1.3z"/>
<path fill="#1ea23c" d="M209.2 849.5h0.8v13.5h-0.8zM183.5 862.5h1.3v13.5h-1.3z"/>
<path fill="#6c0c0c" d="M115 875.5h1.3v13.5h-1.3z"/>
<path fill="#42b43c" d="M207.7 875.5h1.3v13.5h-1.3zM197.5 888.5h1.3v13.5h-1.3z"/>
<path fill="#189c3c" d="M58.9 888.5h1.3v13.5h-1.3zM71.3 901.5h1.3v13.5h-1.3z"/>
<path fill="#540606" d="M45.6 914.6h1.3v13h-1.3z"/>
<path fill="#3c0606" d="M205.3 914.6h1.3v13h-1.3z"/>
<text transform="translate(211,768.8) scale(0.55,1)" font-size="5" fill="#222" stroke="#222" stroke-width="0.36" >type</text>
<text transform="translate(211,779.61) scale(0.52,1)" font-size="5" fill="#222" stroke="#222" stroke-width="0.38" >PLA2G2D</text>
<text transform="translate(211,792.64) scale(0.52,1)" font-size="5" fill="#222" stroke="#222" stroke-width="0.38" >TREM1</text>
<text transform="translate(211,805.66) scale(0.52,1)" font-size="5" fill="#222" stroke="#222" stroke-width="0.38" >ARV1</text>
<text transform="translate(211,818.69) scale(0.52,1)" font-size="5" fill="#222" stroke="#222" stroke-width="0.38" >C2</text>
<text transform="translate(211,831.71) scale(0.52,1)" font-size="5" fill="#222" stroke="#222" stroke-width="0.38" >PNPLA5</text>
<text transform="translate(211,844.74) scale(0.52,1)" font-size="5" fill="#222" stroke="#222" stroke-width="0.38" >RB1</text>
<text transform="translate(211,857.76) scale(0.52,1)" font-size="5" fill="#222" stroke="#222" stroke-width="0.38" >SLC22A2</text>
<text transform="translate(211,870.79) scale(0.52,1)" font-size="5" fill="#222" stroke="#222" stroke-width="0.38" >ANGPTL4</text>
<text transform="translate(211,883.81) scale(0.52,1)" font-size="5" fill="#222" stroke="#222" stroke-width="0.38" >PIK3C3</text>
<text transform="translate(211,896.84) scale(0.52,1)" font-size="5" fill="#222" stroke="#222" stroke-width="0.38" >ME1</text>
<text transform="translate(211,909.86) scale(0.52,1)" font-size="5" fill="#222" stroke="#222" stroke-width="0.38" >PLA2R1</text>
<text transform="translate(211,922.89) scale(0.52,1)" font-size="5" fill="#222" stroke="#222" stroke-width="0.38" >ADH1C</text>
<defs><linearGradient id="cb21" x1="0" y1="0" x2="0" y2="1"><stop offset="0" stop-color="#f00a19"/><stop offset="0.18" stop-color="#8a0a0a"/><stop offset="0.46" stop-color="#000"/><stop offset="0.72" stop-color="#126030"/><stop offset="0.87" stop-color="#2aa040"/><stop offset="1" stop-color="#6cc040"/></linearGradient></defs>
<rect x="225.1" y="765" width="2.6" height="69.8" fill="url(#cb21)" stroke="none" stroke-width="1" />
<text transform="translate(228.1,768.6) scale(0.7,1)" font-size="3.6" fill="#555" stroke="#555" stroke-width="0.21" >8</text>
<text transform="translate(228.1,780.1) scale(0.7,1)" font-size="3.6" fill="#555" stroke="#555" stroke-width="0.21" >6</text>
<text transform="translate(228.1,791.6) scale(0.7,1)" font-size="3.6" fill="#555" stroke="#555" stroke-width="0.21" >4</text>
<text transform="translate(228.1,803.1) scale(0.7,1)" font-size="3.6" fill="#555" stroke="#555" stroke-width="0.21" >2</text>
<text transform="translate(228.1,814.6) scale(0.7,1)" font-size="3.6" fill="#555" stroke="#555" stroke-width="0.21" >0</text>
<text transform="translate(228.1,826.1) scale(0.7,1)" font-size="3.6" fill="#555" stroke="#555" stroke-width="0.21" >-1</text>
<text transform="translate(232.2,768.3) scale(0.6,1)" font-size="4.4" font-weight="bold" fill="#222" stroke="#222" stroke-width="0.29" >type</text>
<rect x="232.2" y="770.5" width="3.6" height="6.4" fill="#1fa9bf" stroke="none" stroke-width="1" />
<rect x="232.2" y="777" width="3.6" height="6" fill="#e58a84" stroke="none" stroke-width="1" />
<text transform="translate(236.6,775.3) scale(0.5,1)" font-size="4.2" fill="#333" stroke="#333" stroke-width="0.34" >high</text>
<text transform="translate(236.6,781.5) scale(0.55,1)" font-size="4.2" fill="#333" stroke="#333" stroke-width="0.31" >low</text>
<rect x="277.3" y="764.7" width="85.6" height="4.9" fill="#e58a84" stroke="none" stroke-width="1" />
<rect x="362.9" y="764.7" width="94.3" height="4.9" fill="#1fa9bf" stroke="none" stroke-width="1" />
<path fill="#00602a" d="M277.3 771h1.7v13.6h-1.7zM284.5 771h1.7v13.6h-1.7zM306.3 771h1.7v13.6h-1.7zM325.6 771h1.7v13.6h-1.7zM330.4 771h1.7v13.6h-1.7zM331.6 771h1.7v13.6h-1.7zM332.8 771h1.7v13.6h-1.7zM353.4 771h1.7v13.6h-1.7zM357 771h1.7v13.6h-1.7zM369.1 771h1.7v13.6h-1.7zM372.7 771h1.7v13.6h-1.7zM373.9 771h1.7v13.6h-1.7zM377.5 771h1.7v13.6h-1.7zM379.9 771h1.7v13.6h-1.7zM392 771h1.7v13.6h-1.7zM319.6 784.1h1.7v13.6h-1.7zM373.9 784.1h1.7v13.6h-1.7zM387.2 784.1h1.7v13.6h-1.7zM389.6 784.1h1.7v13.6h-1.7zM445.1 784.1h1.7v13.6h-1.7zM454.8 784.1h1.7v13.6h-1.7zM295.4 797.2h1.7v13.6h-1.7zM314.7 797.2h1.7v13.6h-1.7zM341.3 797.2h1.7v13.6h-1.7zM406.5 797.2h1.7v13.6h-1.7zM287 810.2h1.7v13.6h-1.7zM359.4 810.2h1.7v13.6h-1.7zM375.1 810.2h1.7v13.6h-1.7zM360.6 823.3h1.7v13.6h-1.7zM376.3 823.3h1.7v13.6h-1.7zM439.1 849.5h1.7v13.6h-1.7zM450 849.5h1.7v13.6h-1.7zM394.4 862.6h1.7v13.6h-1.7zM289.4 875.7h1.7v13.6h-1.7zM299 875.7h1.7v13.6h-1.7zM307.5 875.7h1.7v13.6h-1.7zM360.6 875.7h1.7v13.6h-1.7zM370.3 875.7h1.7v13.6h-1.7zM394.4 875.7h1.7v13.6h-1.7zM334 888.8h1.7v13.6h-1.7zM335.3 888.8h1.7v13.6h-1.7zM423.4 888.8h1.7v13.6h-1.7zM402.9 901.8h1.7v13.6h-1.7zM436.7 901.8h1.7v13.6h-1.7zM287 914.9h1.7v13.1h-1.7zM308.7 914.9h1.7v13.1h-1.7zM418.6 914.9h1.7v13.1h-1.7z"/>
<path fill="#004218" d="M278.5 771h1.7v13.6h-1.7zM309.9 771h1.7v13.6h-1.7zM329.2 771h1.7v13.6h-1.7zM390.8 784.1h1.7v13.6h-1.7zM284.5 810.2h1.7v13.6h-1.7zM334 810.2h1.7v13.6h-1.7zM400.5 836.4h1.7v13.6h-1.7zM285.8 875.7h1.7v13.6h-1.7zM398 875.7h1.7v13.6h-1.7zM277.3 888.8h1.7v13.6h-1.7zM372.7 901.8h1.7v13.6h-1.7zM408.9 914.9h1.7v13.1h-1.7z"/>
<path fill="#00662a" d="M279.7 771h1.7v13.6h-1.7zM320.8 771h1.7v13.6h-1.7zM323.2 771h1.7v13.6h-1.7zM346.1 771h1.7v13.6h-1.7zM386 771h1.7v13.6h-1.7zM379.9 784.1h1.7v13.6h-1.7zM384.8 784.1h1.7v13.6h-1.7zM404.1 784.1h1.7v13.6h-1.7zM435.5 784.1h1.7v13.6h-1.7zM436.7 784.1h1.7v13.6h-1.7zM324.4 797.2h1.7v13.6h-1.7zM338.9 797.2h1.7v13.6h-1.7zM340.1 797.2h1.7v13.6h-1.7zM347.3 797.2h1.7v13.6h-1.7zM393.2 797.2h1.7v13.6h-1.7zM394.4 797.2h1.7v13.6h-1.7zM454.8 797.2h1.7v13.6h-1.7zM283.3 810.2h1.7v13.6h-1.7zM312.3 810.2h1.7v13.6h-1.7zM341.3 810.2h1.7v13.6h-1.7zM342.5 810.2h1.7v13.6h-1.7zM360.6 810.2h1.7v13.6h-1.7zM381.1 810.2h1.7v13.6h-1.7zM445.1 810.2h1.7v13.6h-1.7zM293 823.3h1.7v13.6h-1.7zM400.5 823.3h1.7v13.6h-1.7zM404.1 823.3h1.7v13.6h-1.7zM419.8 823.3h1.7v13.6h-1.7zM289.4 836.4h1.7v13.6h-1.7zM406.5 836.4h1.7v13.6h-1.7zM407.7 836.4h1.7v13.6h-1.7zM312.3 849.5h1.7v13.6h-1.7zM358.2 849.5h1.7v13.6h-1.7zM297.8 862.6h1.7v13.6h-1.7zM366.6 862.6h1.7v13.6h-1.7zM393.2 862.6h1.7v13.6h-1.7zM277.3 875.7h1.7v13.6h-1.7zM287 875.7h1.7v13.6h-1.7zM301.4 875.7h1.7v13.6h-1.7zM317.1 875.7h1.7v13.6h-1.7zM324.4 875.7h1.7v13.6h-1.7zM326.8 875.7h1.7v13.6h-1.7zM332.8 875.7h1.7v13.6h-1.7zM346.1 875.7h1.7v13.6h-1.7zM365.4 875.7h1.7v13.6h-1.7zM366.6 875.7h1.7v13.6h-1.7zM378.7 875.7h1.7v13.6h-1.7zM414.9 875.7h1.7v13.6h-1.7zM421 875.7h1.7v13.6h-1.7zM451.2 875.7h1.7v13.6h-1.7zM293 888.8h1.7v13.6h-1.7zM294.2 888.8h1.7v13.6h-1.7zM336.5 901.8h1.7v13.6h-1.7zM427 901.8h1.7v13.6h-1.7zM393.2 914.9h1.7v13.1h-1.7zM413.7 914.9h1.7v13.1h-1.7zM453.6 914.9h1.7v13.1h-1.7z"/>
<path fill="#005a24" d="M280.9 771h1.7v13.6h-1.7zM288.2 771h1.7v13.6h-1.7zM299 771h1.7v13.6h-1.7zM335.3 771h1.7v13.6h-1.7zM399.2 771h1.7v13.6h-1.7zM405.3 784.1h1.7v13.6h-1.7zM419.8 784.1h1.7v13.6h-1.7zM446.3 784.1h1.7v13.6h-1.7zM289.4 797.2h1.7v13.6h-1.7zM301.4 797.2h1.7v13.6h-1.7zM303.9 797.2h1.7v13.6h-1.7zM332.8 797.2h1.7v13.6h-1.7zM334 797.2h1.7v13.6h-1.7zM346.1 797.2h1.7v13.6h-1.7zM355.8 797.2h1.7v13.6h-1.7zM359.4 797.2h1.7v13.6h-1.7zM372.7 797.2h1.7v13.6h-1.7zM383.5 797.2h1.7v13.6h-1.7zM407.7 797.2h1.7v13.6h-1.7zM410.1 797.2h1.7v13.6h-1.7zM430.6 797.2h1.7v13.6h-1.7zM431.8 797.2h1.7v13.6h-1.7zM433.1 797.2h1.7v13.6h-1.7zM446.3 797.2h1.7v13.6h-1.7zM291.8 810.2h1.7v13.6h-1.7zM305.1 810.2h1.7v13.6h-1.7zM307.5 810.2h1.7v13.6h-1.7zM317.1 810.2h1.7v13.6h-1.7zM320.8 810.2h1.7v13.6h-1.7zM352.2 810.2h1.7v13.6h-1.7zM413.7 810.2h1.7v13.6h-1.7zM416.1 810.2h1.7v13.6h-1.7zM434.3 810.2h1.7v13.6h-1.7zM373.9 823.3h1.7v13.6h-1.7zM408.9 836.4h1.7v13.6h-1.7zM411.3 836.4h1.7v13.6h-1.7zM417.4 836.4h1.7v13.6h-1.7zM431.8 836.4h1.7v13.6h-1.7zM452.4 836.4h1.7v13.6h-1.7zM456 836.4h1.2v13.6h-1.2zM388.4 849.5h1.7v13.6h-1.7zM401.7 849.5h1.7v13.6h-1.7zM424.6 849.5h1.7v13.6h-1.7zM381.1 862.6h1.7v13.6h-1.7zM388.4 862.6h1.7v13.6h-1.7zM288.2 875.7h1.7v13.6h-1.7zM290.6 875.7h1.7v13.6h-1.7zM300.2 875.7h1.7v13.6h-1.7zM302.7 875.7h1.7v13.6h-1.7zM306.3 875.7h1.7v13.6h-1.7zM312.3 875.7h1.7v13.6h-1.7zM351 875.7h1.7v13.6h-1.7zM418.6 875.7h1.7v13.6h-1.7zM283.3 888.8h1.7v13.6h-1.7zM287 888.8h1.7v13.6h-1.7zM290.6 888.8h1.7v13.6h-1.7zM296.6 888.8h1.7v13.6h-1.7zM297.8 888.8h1.7v13.6h-1.7zM325.6 888.8h1.7v13.6h-1.7zM330.4 888.8h1.7v13.6h-1.7zM352.2 888.8h1.7v13.6h-1.7zM364.2 888.8h1.7v13.6h-1.7zM392 888.8h1.7v13.6h-1.7zM379.9 901.8h1.7v13.6h-1.7zM387.2 901.8h1.7v13.6h-1.7zM456 914.9h1.2v13.1h-1.2z"/>
<path fill="#005424" d="M282.1 771h1.7v13.6h-1.7zM285.8 771h1.7v13.6h-1.7zM302.7 771h1.7v13.6h-1.7zM340.1 771h1.7v13.6h-1.7zM309.9 784.1h1.7v13.6h-1.7zM450 784.1h1.7v13.6h-1.7zM453.6 784.1h1.7v13.6h-1.7zM284.5 797.2h1.7v13.6h-1.7zM285.8 797.2h1.7v13.6h-1.7zM322 797.2h1.7v13.6h-1.7zM353.4 797.2h1.7v13.6h-1.7zM363 797.2h1.7v13.6h-1.7zM387.2 797.2h1.7v13.6h-1.7zM278.5 810.2h1.7v13.6h-1.7zM282.1 810.2h1.7v13.6h-1.7zM289.4 810.2h1.7v13.6h-1.7zM297.8 810.2h1.7v13.6h-1.7zM306.3 810.2h1.7v13.6h-1.7zM308.7 810.2h1.7v13.6h-1.7zM340.1 810.2h1.7v13.6h-1.7zM347.3 810.2h1.7v13.6h-1.7zM353.4 810.2h1.7v13.6h-1.7zM354.6 810.2h1.7v13.6h-1.7zM377.5 810.2h1.7v13.6h-1.7zM393.2 810.2h1.7v13.6h-1.7zM398 810.2h1.7v13.6h-1.7zM291.8 875.7h1.7v13.6h-1.7zM305.1 875.7h1.7v13.6h-1.7zM311.1 875.7h1.7v13.6h-1.7zM335.3 875.7h1.7v13.6h-1.7zM413.7 875.7h1.7v13.6h-1.7zM435.5 875.7h1.7v13.6h-1.7zM320.8 888.8h1.7v13.6h-1.7zM328 888.8h1.7v13.6h-1.7zM337.7 888.8h1.7v13.6h-1.7zM394.4 901.8h1.7v13.6h-1.7z"/>
<path fill="#00541e" d="M283.3 771h1.7v13.6h-1.7zM290.6 771h1.7v13.6h-1.7zM288.2 797.2h1.7v13.6h-1.7zM358.2 797.2h1.7v13.6h-1.7zM319.6 810.2h1.7v13.6h-1.7zM302.7 888.8h1.7v13.6h-1.7zM329.2 888.8h1.7v13.6h-1.7z"/>
<path fill="#067e30" d="M287 771h1.7v13.6h-1.7zM338.9 771h1.7v13.6h-1.7zM348.5 771h1.7v13.6h-1.7zM395.6 771h1.7v13.6h-1.7zM407.7 771h1.7v13.6h-1.7zM410.1 771h1.7v13.6h-1.7zM423.4 771h1.7v13.6h-1.7zM431.8 771h1.7v13.6h-1.7zM435.5 771h1.7v13.6h-1.7zM284.5 784.1h1.7v13.6h-1.7zM301.4 784.1h1.7v13.6h-1.7zM328 784.1h1.7v13.6h-1.7zM347.3 784.1h1.7v13.6h-1.7zM364.2 784.1h1.7v13.6h-1.7zM383.5 784.1h1.7v13.6h-1.7zM393.2 784.1h1.7v13.6h-1.7zM424.6 784.1h1.7v13.6h-1.7zM440.3 784.1h1.7v13.6h-1.7zM443.9 797.2h1.7v13.6h-1.7zM453.6 797.2h1.7v13.6h-1.7zM361.8 810.2h1.7v13.6h-1.7zM414.9 810.2h1.7v13.6h-1.7zM301.4 823.3h1.7v13.6h-1.7zM302.7 823.3h1.7v13.6h-1.7zM309.9 823.3h1.7v13.6h-1.7zM317.1 823.3h1.7v13.6h-1.7zM326.8 823.3h1.7v13.6h-1.7zM346.1 823.3h1.7v13.6h-1.7zM363 823.3h1.7v13.6h-1.7zM369.1 823.3h1.7v13.6h-1.7zM388.4 823.3h1.7v13.6h-1.7zM392 823.3h1.7v13.6h-1.7zM418.6 823.3h1.7v13.6h-1.7zM425.8 823.3h1.7v13.6h-1.7zM442.7 823.3h1.7v13.6h-1.7zM283.3 836.4h1.7v13.6h-1.7zM285.8 836.4h1.7v13.6h-1.7zM288.2 836.4h1.7v13.6h-1.7zM290.6 836.4h1.7v13.6h-1.7zM293 836.4h1.7v13.6h-1.7zM305.1 836.4h1.7v13.6h-1.7zM315.9 836.4h1.7v13.6h-1.7zM328 836.4h1.7v13.6h-1.7zM336.5 836.4h1.7v13.6h-1.7zM337.7 836.4h1.7v13.6h-1.7zM344.9 836.4h1.7v13.6h-1.7zM349.7 836.4h1.7v13.6h-1.7zM360.6 836.4h1.7v13.6h-1.7zM361.8 836.4h1.7v13.6h-1.7zM363 836.4h1.7v13.6h-1.7zM365.4 836.4h1.7v13.6h-1.7zM382.3 836.4h1.7v13.6h-1.7zM384.8 836.4h1.7v13.6h-1.7zM416.1 836.4h1.7v13.6h-1.7zM436.7 836.4h1.7v13.6h-1.7zM437.9 836.4h1.7v13.6h-1.7zM279.7 849.5h1.7v13.6h-1.7zM283.3 849.5h1.7v13.6h-1.7zM290.6 849.5h1.7v13.6h-1.7zM291.8 849.5h1.7v13.6h-1.7zM293 849.5h1.7v13.6h-1.7zM295.4 849.5h1.7v13.6h-1.7zM300.2 849.5h1.7v13.6h-1.7zM301.4 849.5h1.7v13.6h-1.7zM317.1 849.5h1.7v13.6h-1.7zM324.4 849.5h1.7v13.6h-1.7zM336.5 849.5h1.7v13.6h-1.7zM341.3 849.5h1.7v13.6h-1.7zM352.2 849.5h1.7v13.6h-1.7zM378.7 849.5h1.7v13.6h-1.7zM411.3 849.5h1.7v13.6h-1.7zM412.5 849.5h1.7v13.6h-1.7zM414.9 849.5h1.7v13.6h-1.7zM422.2 849.5h1.7v13.6h-1.7zM446.3 849.5h1.7v13.6h-1.7zM452.4 849.5h1.7v13.6h-1.7zM454.8 849.5h1.7v13.6h-1.7zM294.2 862.6h1.7v13.6h-1.7zM296.6 862.6h1.7v13.6h-1.7zM299 862.6h1.7v13.6h-1.7zM305.1 862.6h1.7v13.6h-1.7zM314.7 862.6h1.7v13.6h-1.7zM315.9 862.6h1.7v13.6h-1.7zM326.8 862.6h1.7v13.6h-1.7zM341.3 862.6h1.7v13.6h-1.7zM357 862.6h1.7v13.6h-1.7zM361.8 862.6h1.7v13.6h-1.7zM372.7 862.6h1.7v13.6h-1.7zM404.1 862.6h1.7v13.6h-1.7zM408.9 862.6h1.7v13.6h-1.7zM375.1 875.7h1.7v13.6h-1.7zM382.3 875.7h1.7v13.6h-1.7zM404.1 875.7h1.7v13.6h-1.7zM405.3 875.7h1.7v13.6h-1.7zM422.2 875.7h1.7v13.6h-1.7zM429.4 875.7h1.7v13.6h-1.7zM433.1 875.7h1.7v13.6h-1.7zM443.9 875.7h1.7v13.6h-1.7zM313.5 888.8h1.7v13.6h-1.7zM318.4 888.8h1.7v13.6h-1.7zM353.4 888.8h1.7v13.6h-1.7zM354.6 888.8h1.7v13.6h-1.7zM357 888.8h1.7v13.6h-1.7zM377.5 888.8h1.7v13.6h-1.7zM390.8 888.8h1.7v13.6h-1.7zM401.7 888.8h1.7v13.6h-1.7zM446.3 888.8h1.7v13.6h-1.7zM283.3 901.8h1.7v13.6h-1.7zM297.8 901.8h1.7v13.6h-1.7zM342.5 901.8h1.7v13.6h-1.7zM358.2 901.8h1.7v13.6h-1.7zM369.1 901.8h1.7v13.6h-1.7zM381.1 901.8h1.7v13.6h-1.7zM383.5 901.8h1.7v13.6h-1.7zM401.7 901.8h1.7v13.6h-1.7zM407.7 901.8h1.7v13.6h-1.7zM408.9 901.8h1.7v13.6h-1.7zM413.7 901.8h1.7v13.6h-1.7zM429.4 901.8h1.7v13.6h-1.7zM433.1 901.8h1.7v13.6h-1.7zM437.9 901.8h1.7v13.6h-1.7zM441.5 901.8h1.7v13.6h-1.7zM447.5 901.8h1.7v13.6h-1.7zM450 901.8h1.7v13.6h-1.7zM453.6 901.8h1.7v13.6h-1.7zM282.1 914.9h1.7v13.1h-1.7zM293 914.9h1.7v13.1h-1.7zM299 914.9h1.7v13.1h-1.7zM320.8 914.9h1.7v13.1h-1.7zM329.2 914.9h1.7v13.1h-1.7zM335.3 914.9h1.7v13.1h-1.7zM342.5 914.9h1.7v13.1h-1.7zM349.7 914.9h1.7v13.1h-1.7zM359.4 914.9h1.7v13.1h-1.7zM404.1 914.9h1.7v13.1h-1.7zM405.3 914.9h1.7v13.1h-1.7zM411.3 914.9h1.7v13.1h-1.7zM419.8 914.9h1.7v13.1h-1.7zM423.4 914.9h1.7v13.1h-1.7z"/>
<path fill="#06722a" d="M289.4 771h1.7v13.6h-1.7zM328 771h1.7v13.6h-1.7zM378.7 771h1.7v13.6h-1.7zM412.5 771h1.7v13.6h-1.7zM375.1 784.1h1.7v13.6h-1.7zM407.7 784.1h1.7v13.6h-1.7zM414.9 784.1h1.7v13.6h-1.7zM386 797.2h1.7v13.6h-1.7zM396.8 797.2h1.7v13.6h-1.7zM412.5 797.2h1.7v13.6h-1.7zM429.4 797.2h1.7v13.6h-1.7zM324.4 810.2h1.7v13.6h-1.7zM365.4 810.2h1.7v13.6h-1.7zM433.1 823.3h1.7v13.6h-1.7zM295.4 836.4h1.7v13.6h-1.7zM326.8 836.4h1.7v13.6h-1.7zM389.6 836.4h1.7v13.6h-1.7zM412.5 836.4h1.7v13.6h-1.7zM422.2 836.4h1.7v13.6h-1.7zM443.9 836.4h1.7v13.6h-1.7zM370.3 849.5h1.7v13.6h-1.7zM405.3 849.5h1.7v13.6h-1.7zM309.9 862.6h1.7v13.6h-1.7zM322 862.6h1.7v13.6h-1.7zM334 862.6h1.7v13.6h-1.7zM342.5 862.6h1.7v13.6h-1.7zM358.2 862.6h1.7v13.6h-1.7zM371.5 862.6h1.7v13.6h-1.7zM411.3 862.6h1.7v13.6h-1.7zM414.9 862.6h1.7v13.6h-1.7zM343.7 875.7h1.7v13.6h-1.7zM450 875.7h1.7v13.6h-1.7zM309.9 888.8h1.7v13.6h-1.7zM359.4 888.8h1.7v13.6h-1.7zM448.7 888.8h1.7v13.6h-1.7zM312.3 901.8h1.7v13.6h-1.7zM331.6 901.8h1.7v13.6h-1.7zM371.5 901.8h1.7v13.6h-1.7zM437.9 914.9h1.7v13.1h-1.7z"/>
<path fill="#00481e" d="M291.8 771h1.7v13.6h-1.7zM313.5 797.2h1.7v13.6h-1.7zM320.8 797.2h1.7v13.6h-1.7zM352.2 797.2h1.7v13.6h-1.7zM400.5 797.2h1.7v13.6h-1.7zM434.3 797.2h1.7v13.6h-1.7zM330.4 810.2h1.7v13.6h-1.7zM335.3 810.2h1.7v13.6h-1.7zM351 810.2h1.7v13.6h-1.7zM390.8 836.4h1.7v13.6h-1.7zM280.9 875.7h1.7v13.6h-1.7zM294.2 875.7h1.7v13.6h-1.7zM289.4 888.8h1.7v13.6h-1.7zM291.8 888.8h1.7v13.6h-1.7zM301.4 888.8h1.7v13.6h-1.7zM305.1 888.8h1.7v13.6h-1.7zM332.8 888.8h1.7v13.6h-1.7z"/>
<path fill="#004e1e" d="M293 771h1.7v13.6h-1.7zM295.4 771h1.7v13.6h-1.7zM280.9 797.2h1.7v13.6h-1.7zM293 797.2h1.7v13.6h-1.7zM300.2 797.2h1.7v13.6h-1.7zM395.6 797.2h1.7v13.6h-1.7zM279.7 810.2h1.7v13.6h-1.7zM285.8 810.2h1.7v13.6h-1.7zM326.8 810.2h1.7v13.6h-1.7zM329.2 810.2h1.7v13.6h-1.7zM378.7 810.2h1.7v13.6h-1.7zM442.7 836.4h1.7v13.6h-1.7zM416.1 849.5h1.7v13.6h-1.7zM308.7 875.7h1.7v13.6h-1.7zM303.9 888.8h1.7v13.6h-1.7zM340.1 888.8h1.7v13.6h-1.7zM386 888.8h1.7v13.6h-1.7z"/>
<path fill="#068436" d="M294.2 771h1.7v13.6h-1.7zM315.9 771h1.7v13.6h-1.7zM326.8 771h1.7v13.6h-1.7zM336.5 771h1.7v13.6h-1.7zM400.5 771h1.7v13.6h-1.7zM402.9 771h1.7v13.6h-1.7zM418.6 771h1.7v13.6h-1.7zM436.7 771h1.7v13.6h-1.7zM454.8 771h1.7v13.6h-1.7zM297.8 784.1h1.7v13.6h-1.7zM313.5 784.1h1.7v13.6h-1.7zM334 784.1h1.7v13.6h-1.7zM337.7 784.1h1.7v13.6h-1.7zM341.3 784.1h1.7v13.6h-1.7zM342.5 784.1h1.7v13.6h-1.7zM346.1 784.1h1.7v13.6h-1.7zM353.4 784.1h1.7v13.6h-1.7zM360.6 784.1h1.7v13.6h-1.7zM386 784.1h1.7v13.6h-1.7zM406.5 784.1h1.7v13.6h-1.7zM421 784.1h1.7v13.6h-1.7zM348.5 797.2h1.7v13.6h-1.7zM361.8 797.2h1.7v13.6h-1.7zM424.6 797.2h1.7v13.6h-1.7zM440.3 797.2h1.7v13.6h-1.7zM441.5 797.2h1.7v13.6h-1.7zM451.2 797.2h1.7v13.6h-1.7zM456 797.2h1.2v13.6h-1.2zM357 810.2h1.7v13.6h-1.7zM406.5 810.2h1.7v13.6h-1.7zM429.4 810.2h1.7v13.6h-1.7zM456 810.2h1.2v13.6h-1.2zM289.4 823.3h1.7v13.6h-1.7zM299 823.3h1.7v13.6h-1.7zM303.9 823.3h1.7v13.6h-1.7zM308.7 823.3h1.7v13.6h-1.7zM314.7 823.3h1.7v13.6h-1.7zM330.4 823.3h1.7v13.6h-1.7zM340.1 823.3h1.7v13.6h-1.7zM341.3 823.3h1.7v13.6h-1.7zM342.5 823.3h1.7v13.6h-1.7zM349.7 823.3h1.7v13.6h-1.7zM355.8 823.3h1.7v13.6h-1.7zM357 823.3h1.7v13.6h-1.7zM378.7 823.3h1.7v13.6h-1.7zM383.5 823.3h1.7v13.6h-1.7zM384.8 823.3h1.7v13.6h-1.7zM387.2 823.3h1.7v13.6h-1.7zM401.7 823.3h1.7v13.6h-1.7zM410.1 823.3h1.7v13.6h-1.7zM411.3 823.3h1.7v13.6h-1.7zM413.7 823.3h1.7v13.6h-1.7zM417.4 823.3h1.7v13.6h-1.7zM424.6 823.3h1.7v13.6h-1.7zM427 823.3h1.7v13.6h-1.7zM430.6 823.3h1.7v13.6h-1.7zM446.3 823.3h1.7v13.6h-1.7zM303.9 836.4h1.7v13.6h-1.7zM317.1 836.4h1.7v13.6h-1.7zM324.4 836.4h1.7v13.6h-1.7zM325.6 836.4h1.7v13.6h-1.7zM329.2 836.4h1.7v13.6h-1.7zM332.8 836.4h1.7v13.6h-1.7zM342.5 836.4h1.7v13.6h-1.7zM351 836.4h1.7v13.6h-1.7zM358.2 836.4h1.7v13.6h-1.7zM369.1 836.4h1.7v13.6h-1.7zM386 836.4h1.7v13.6h-1.7zM398 836.4h1.7v13.6h-1.7zM399.2 836.4h1.7v13.6h-1.7zM401.7 836.4h1.7v13.6h-1.7zM405.3 836.4h1.7v13.6h-1.7zM423.4 836.4h1.7v13.6h-1.7zM278.5 849.5h1.7v13.6h-1.7zM282.1 849.5h1.7v13.6h-1.7zM285.8 849.5h1.7v13.6h-1.7zM289.4 849.5h1.7v13.6h-1.7zM296.6 849.5h1.7v13.6h-1.7zM297.8 849.5h1.7v13.6h-1.7zM334 849.5h1.7v13.6h-1.7zM340.1 849.5h1.7v13.6h-1.7zM347.3 849.5h1.7v13.6h-1.7zM349.7 849.5h1.7v13.6h-1.7zM359.4 849.5h1.7v13.6h-1.7zM365.4 849.5h1.7v13.6h-1.7zM367.9 849.5h1.7v13.6h-1.7zM372.7 849.5h1.7v13.6h-1.7zM373.9 849.5h1.7v13.6h-1.7zM404.1 849.5h1.7v13.6h-1.7zM434.3 849.5h1.7v13.6h-1.7zM278.5 862.6h1.7v13.6h-1.7zM282.1 862.6h1.7v13.6h-1.7zM285.8 862.6h1.7v13.6h-1.7zM307.5 862.6h1.7v13.6h-1.7zM308.7 862.6h1.7v13.6h-1.7zM324.4 862.6h1.7v13.6h-1.7zM330.4 862.6h1.7v13.6h-1.7zM340.1 862.6h1.7v13.6h-1.7zM349.7 862.6h1.7v13.6h-1.7zM395.6 862.6h1.7v13.6h-1.7zM400.5 862.6h1.7v13.6h-1.7zM413.7 862.6h1.7v13.6h-1.7zM433.1 862.6h1.7v13.6h-1.7zM437.9 862.6h1.7v13.6h-1.7zM442.7 862.6h1.7v13.6h-1.7zM452.4 862.6h1.7v13.6h-1.7zM347.3 875.7h1.7v13.6h-1.7zM363 875.7h1.7v13.6h-1.7zM430.6 875.7h1.7v13.6h-1.7zM454.8 875.7h1.7v13.6h-1.7zM361.8 888.8h1.7v13.6h-1.7zM382.3 888.8h1.7v13.6h-1.7zM404.1 888.8h1.7v13.6h-1.7zM417.4 888.8h1.7v13.6h-1.7zM418.6 888.8h1.7v13.6h-1.7zM431.8 888.8h1.7v13.6h-1.7zM456 888.8h1.2v13.6h-1.2zM277.3 901.8h1.7v13.6h-1.7zM280.9 901.8h1.7v13.6h-1.7zM288.2 901.8h1.7v13.6h-1.7zM301.4 901.8h1.7v13.6h-1.7zM303.9 901.8h1.7v13.6h-1.7zM306.3 901.8h1.7v13.6h-1.7zM338.9 901.8h1.7v13.6h-1.7zM353.4 901.8h1.7v13.6h-1.7zM354.6 901.8h1.7v13.6h-1.7zM355.8 901.8h1.7v13.6h-1.7zM365.4 901.8h1.7v13.6h-1.7zM367.9 901.8h1.7v13.6h-1.7zM395.6 901.8h1.7v13.6h-1.7zM422.2 901.8h1.7v13.6h-1.7zM425.8 901.8h1.7v13.6h-1.7zM428.2 901.8h1.7v13.6h-1.7zM430.6 901.8h1.7v13.6h-1.7zM434.3 901.8h1.7v13.6h-1.7zM452.4 901.8h1.7v13.6h-1.7zM288.2 914.9h1.7v13.1h-1.7zM290.6 914.9h1.7v13.1h-1.7zM301.4 914.9h1.7v13.1h-1.7zM324.4 914.9h1.7v13.1h-1.7zM330.4 914.9h1.7v13.1h-1.7zM341.3 914.9h1.7v13.1h-1.7zM363 914.9h1.7v13.1h-1.7zM366.6 914.9h1.7v13.1h-1.7zM367.9 914.9h1.7v13.1h-1.7zM378.7 914.9h1.7v13.1h-1.7zM387.2 914.9h1.7v13.1h-1.7zM394.4 914.9h1.7v13.1h-1.7zM399.2 914.9h1.7v13.1h-1.7zM436.7 914.9h1.7v13.1h-1.7z"/>
<path fill="#067230" d="M296.6 771h1.7v13.6h-1.7zM303.9 771h1.7v13.6h-1.7zM311.1 771h1.7v13.6h-1.7zM313.5 771h1.7v13.6h-1.7zM322 771h1.7v13.6h-1.7zM324.4 771h1.7v13.6h-1.7zM343.7 771h1.7v13.6h-1.7zM352.2 771h1.7v13.6h-1.7zM354.6 771h1.7v13.6h-1.7zM364.2 771h1.7v13.6h-1.7zM384.8 771h1.7v13.6h-1.7zM390.8 771h1.7v13.6h-1.7zM394.4 771h1.7v13.6h-1.7zM398 771h1.7v13.6h-1.7zM408.9 771h1.7v13.6h-1.7zM414.9 771h1.7v13.6h-1.7zM416.1 771h1.7v13.6h-1.7zM421 771h1.7v13.6h-1.7zM425.8 771h1.7v13.6h-1.7zM428.2 771h1.7v13.6h-1.7zM430.6 771h1.7v13.6h-1.7zM439.1 771h1.7v13.6h-1.7zM440.3 771h1.7v13.6h-1.7zM441.5 771h1.7v13.6h-1.7zM447.5 771h1.7v13.6h-1.7zM448.7 771h1.7v13.6h-1.7zM452.4 771h1.7v13.6h-1.7zM280.9 784.1h1.7v13.6h-1.7zM285.8 784.1h1.7v13.6h-1.7zM287 784.1h1.7v13.6h-1.7zM311.1 784.1h1.7v13.6h-1.7zM355.8 784.1h1.7v13.6h-1.7zM359.4 784.1h1.7v13.6h-1.7zM371.5 784.1h1.7v13.6h-1.7zM376.3 784.1h1.7v13.6h-1.7zM382.3 784.1h1.7v13.6h-1.7zM388.4 784.1h1.7v13.6h-1.7zM394.4 784.1h1.7v13.6h-1.7zM400.5 784.1h1.7v13.6h-1.7zM408.9 784.1h1.7v13.6h-1.7zM418.6 784.1h1.7v13.6h-1.7zM427 784.1h1.7v13.6h-1.7zM448.7 784.1h1.7v13.6h-1.7zM326.8 797.2h1.7v13.6h-1.7zM354.6 797.2h1.7v13.6h-1.7zM365.4 797.2h1.7v13.6h-1.7zM370.3 797.2h1.7v13.6h-1.7zM384.8 797.2h1.7v13.6h-1.7zM402.9 797.2h1.7v13.6h-1.7zM435.5 797.2h1.7v13.6h-1.7zM436.7 797.2h1.7v13.6h-1.7zM452.4 797.2h1.7v13.6h-1.7zM309.9 810.2h1.7v13.6h-1.7zM318.4 810.2h1.7v13.6h-1.7zM348.5 810.2h1.7v13.6h-1.7zM355.8 810.2h1.7v13.6h-1.7zM364.2 810.2h1.7v13.6h-1.7zM369.1 810.2h1.7v13.6h-1.7zM383.5 810.2h1.7v13.6h-1.7zM389.6 810.2h1.7v13.6h-1.7zM392 810.2h1.7v13.6h-1.7zM399.2 810.2h1.7v13.6h-1.7zM401.7 810.2h1.7v13.6h-1.7zM402.9 810.2h1.7v13.6h-1.7zM405.3 810.2h1.7v13.6h-1.7zM407.7 810.2h1.7v13.6h-1.7zM423.4 810.2h1.7v13.6h-1.7zM431.8 810.2h1.7v13.6h-1.7zM433.1 810.2h1.7v13.6h-1.7zM435.5 810.2h1.7v13.6h-1.7zM451.2 810.2h1.7v13.6h-1.7zM453.6 810.2h1.7v13.6h-1.7zM325.6 823.3h1.7v13.6h-1.7zM343.7 823.3h1.7v13.6h-1.7zM365.4 823.3h1.7v13.6h-1.7zM366.6 823.3h1.7v13.6h-1.7zM367.9 823.3h1.7v13.6h-1.7zM390.8 823.3h1.7v13.6h-1.7zM402.9 823.3h1.7v13.6h-1.7zM412.5 823.3h1.7v13.6h-1.7zM428.2 823.3h1.7v13.6h-1.7zM439.1 823.3h1.7v13.6h-1.7zM440.3 823.3h1.7v13.6h-1.7zM453.6 823.3h1.7v13.6h-1.7zM454.8 823.3h1.7v13.6h-1.7zM287 836.4h1.7v13.6h-1.7zM307.5 836.4h1.7v13.6h-1.7zM323.2 836.4h1.7v13.6h-1.7zM348.5 836.4h1.7v13.6h-1.7zM354.6 836.4h1.7v13.6h-1.7zM367.9 836.4h1.7v13.6h-1.7zM371.5 836.4h1.7v13.6h-1.7zM376.3 836.4h1.7v13.6h-1.7zM378.7 836.4h1.7v13.6h-1.7zM396.8 836.4h1.7v13.6h-1.7zM418.6 836.4h1.7v13.6h-1.7zM424.6 836.4h1.7v13.6h-1.7zM427 836.4h1.7v13.6h-1.7zM433.1 836.4h1.7v13.6h-1.7zM454.8 836.4h1.7v13.6h-1.7zM299 849.5h1.7v13.6h-1.7zM305.1 849.5h1.7v13.6h-1.7zM306.3 849.5h1.7v13.6h-1.7zM311.1 849.5h1.7v13.6h-1.7zM318.4 849.5h1.7v13.6h-1.7zM319.6 849.5h1.7v13.6h-1.7zM322 849.5h1.7v13.6h-1.7zM326.8 849.5h1.7v13.6h-1.7zM335.3 849.5h1.7v13.6h-1.7zM342.5 849.5h1.7v13.6h-1.7zM343.7 849.5h1.7v13.6h-1.7zM346.1 849.5h1.7v13.6h-1.7zM355.8 849.5h1.7v13.6h-1.7zM382.3 849.5h1.7v13.6h-1.7zM386 849.5h1.7v13.6h-1.7zM394.4 849.5h1.7v13.6h-1.7zM399.2 849.5h1.7v13.6h-1.7zM417.4 849.5h1.7v13.6h-1.7zM419.8 849.5h1.7v13.6h-1.7zM423.4 849.5h1.7v13.6h-1.7zM425.8 849.5h1.7v13.6h-1.7zM428.2 849.5h1.7v13.6h-1.7zM430.6 849.5h1.7v13.6h-1.7zM442.7 849.5h1.7v13.6h-1.7zM451.2 849.5h1.7v13.6h-1.7zM453.6 849.5h1.7v13.6h-1.7zM290.6 862.6h1.7v13.6h-1.7zM291.8 862.6h1.7v13.6h-1.7zM300.2 862.6h1.7v13.6h-1.7zM306.3 862.6h1.7v13.6h-1.7zM317.1 862.6h1.7v13.6h-1.7zM352.2 862.6h1.7v13.6h-1.7zM355.8 862.6h1.7v13.6h-1.7zM359.4 862.6h1.7v13.6h-1.7zM370.3 862.6h1.7v13.6h-1.7zM373.9 862.6h1.7v13.6h-1.7zM375.1 862.6h1.7v13.6h-1.7zM382.3 862.6h1.7v13.6h-1.7zM392 862.6h1.7v13.6h-1.7zM430.6 862.6h1.7v13.6h-1.7zM443.9 862.6h1.7v13.6h-1.7zM445.1 862.6h1.7v13.6h-1.7zM448.7 862.6h1.7v13.6h-1.7zM456 862.6h1.2v13.6h-1.2zM303.9 875.7h1.7v13.6h-1.7zM319.6 875.7h1.7v13.6h-1.7zM337.7 875.7h1.7v13.6h-1.7zM340.1 875.7h1.7v13.6h-1.7zM344.9 875.7h1.7v13.6h-1.7zM364.2 875.7h1.7v13.6h-1.7zM387.2 875.7h1.7v13.6h-1.7zM388.4 875.7h1.7v13.6h-1.7zM389.6 875.7h1.7v13.6h-1.7zM402.9 875.7h1.7v13.6h-1.7zM419.8 875.7h1.7v13.6h-1.7zM425.8 875.7h1.7v13.6h-1.7zM434.3 875.7h1.7v13.6h-1.7zM442.7 875.7h1.7v13.6h-1.7zM299 888.8h1.7v13.6h-1.7zM317.1 888.8h1.7v13.6h-1.7zM338.9 888.8h1.7v13.6h-1.7zM344.9 888.8h1.7v13.6h-1.7zM346.1 888.8h1.7v13.6h-1.7zM348.5 888.8h1.7v13.6h-1.7zM358.2 888.8h1.7v13.6h-1.7zM369.1 888.8h1.7v13.6h-1.7zM372.7 888.8h1.7v13.6h-1.7zM376.3 888.8h1.7v13.6h-1.7zM378.7 888.8h1.7v13.6h-1.7zM379.9 888.8h1.7v13.6h-1.7zM389.6 888.8h1.7v13.6h-1.7zM394.4 888.8h1.7v13.6h-1.7zM411.3 888.8h1.7v13.6h-1.7zM414.9 888.8h1.7v13.6h-1.7zM419.8 888.8h1.7v13.6h-1.7zM430.6 888.8h1.7v13.6h-1.7zM453.6 888.8h1.7v13.6h-1.7zM302.7 901.8h1.7v13.6h-1.7zM334 901.8h1.7v13.6h-1.7zM347.3 901.8h1.7v13.6h-1.7zM352.2 901.8h1.7v13.6h-1.7zM373.9 901.8h1.7v13.6h-1.7zM389.6 901.8h1.7v13.6h-1.7zM398 901.8h1.7v13.6h-1.7zM419.8 901.8h1.7v13.6h-1.7zM435.5 901.8h1.7v13.6h-1.7zM439.1 901.8h1.7v13.6h-1.7zM445.1 901.8h1.7v13.6h-1.7zM279.7 914.9h1.7v13.1h-1.7zM284.5 914.9h1.7v13.1h-1.7zM289.4 914.9h1.7v13.1h-1.7zM309.9 914.9h1.7v13.1h-1.7zM318.4 914.9h1.7v13.1h-1.7zM319.6 914.9h1.7v13.1h-1.7zM323.2 914.9h1.7v13.1h-1.7zM351 914.9h1.7v13.1h-1.7zM365.4 914.9h1.7v13.1h-1.7zM376.3 914.9h1.7v13.1h-1.7zM379.9 914.9h1.7v13.1h-1.7zM384.8 914.9h1.7v13.1h-1.7zM400.5 914.9h1.7v13.1h-1.7zM412.5 914.9h1.7v13.1h-1.7zM428.2 914.9h1.7v13.1h-1.7zM430.6 914.9h1.7v13.1h-1.7zM434.3 914.9h1.7v13.1h-1.7zM443.9 914.9h1.7v13.1h-1.7zM448.7 914.9h1.7v13.1h-1.7z"/>
<path fill="#00240c" d="M297.8 771h1.7v13.6h-1.7zM340.1 784.1h1.7v13.6h-1.7zM450 810.2h1.7v13.6h-1.7zM288.2 888.8h1.7v13.6h-1.7zM330.4 901.8h1.7v13.6h-1.7zM278.5 914.9h1.7v13.1h-1.7z"/>
<path fill="#068a36" d="M300.2 771h1.7v13.6h-1.7zM427 771h1.7v13.6h-1.7zM442.7 771h1.7v13.6h-1.7zM277.3 784.1h1.7v13.6h-1.7zM305.1 784.1h1.7v13.6h-1.7zM312.3 784.1h1.7v13.6h-1.7zM332.8 784.1h1.7v13.6h-1.7zM349.7 784.1h1.7v13.6h-1.7zM354.6 784.1h1.7v13.6h-1.7zM381.1 784.1h1.7v13.6h-1.7zM417.4 784.1h1.7v13.6h-1.7zM433.1 784.1h1.7v13.6h-1.7zM308.7 797.2h1.7v13.6h-1.7zM331.6 797.2h1.7v13.6h-1.7zM413.7 797.2h1.7v13.6h-1.7zM373.9 810.2h1.7v13.6h-1.7zM439.1 810.2h1.7v13.6h-1.7zM441.5 810.2h1.7v13.6h-1.7zM280.9 823.3h1.7v13.6h-1.7zM283.3 823.3h1.7v13.6h-1.7zM288.2 823.3h1.7v13.6h-1.7zM290.6 823.3h1.7v13.6h-1.7zM291.8 823.3h1.7v13.6h-1.7zM294.2 823.3h1.7v13.6h-1.7zM305.1 823.3h1.7v13.6h-1.7zM307.5 823.3h1.7v13.6h-1.7zM315.9 823.3h1.7v13.6h-1.7zM319.6 823.3h1.7v13.6h-1.7zM337.7 823.3h1.7v13.6h-1.7zM338.9 823.3h1.7v13.6h-1.7zM351 823.3h1.7v13.6h-1.7zM358.2 823.3h1.7v13.6h-1.7zM375.1 823.3h1.7v13.6h-1.7zM381.1 823.3h1.7v13.6h-1.7zM435.5 823.3h1.7v13.6h-1.7zM447.5 823.3h1.7v13.6h-1.7zM456 823.3h1.2v13.6h-1.2zM278.5 836.4h1.7v13.6h-1.7zM297.8 836.4h1.7v13.6h-1.7zM306.3 836.4h1.7v13.6h-1.7zM308.7 836.4h1.7v13.6h-1.7zM311.1 836.4h1.7v13.6h-1.7zM318.4 836.4h1.7v13.6h-1.7zM320.8 836.4h1.7v13.6h-1.7zM334 836.4h1.7v13.6h-1.7zM335.3 836.4h1.7v13.6h-1.7zM341.3 836.4h1.7v13.6h-1.7zM343.7 836.4h1.7v13.6h-1.7zM346.1 836.4h1.7v13.6h-1.7zM377.5 836.4h1.7v13.6h-1.7zM381.1 836.4h1.7v13.6h-1.7zM414.9 836.4h1.7v13.6h-1.7zM441.5 836.4h1.7v13.6h-1.7zM451.2 836.4h1.7v13.6h-1.7zM277.3 849.5h1.7v13.6h-1.7zM280.9 849.5h1.7v13.6h-1.7zM294.2 849.5h1.7v13.6h-1.7zM314.7 849.5h1.7v13.6h-1.7zM353.4 849.5h1.7v13.6h-1.7zM366.6 849.5h1.7v13.6h-1.7zM381.1 849.5h1.7v13.6h-1.7zM407.7 849.5h1.7v13.6h-1.7zM283.3 862.6h1.7v13.6h-1.7zM287 862.6h1.7v13.6h-1.7zM336.5 862.6h1.7v13.6h-1.7zM348.5 862.6h1.7v13.6h-1.7zM351 862.6h1.7v13.6h-1.7zM363 862.6h1.7v13.6h-1.7zM399.2 862.6h1.7v13.6h-1.7zM421 862.6h1.7v13.6h-1.7zM425.8 862.6h1.7v13.6h-1.7zM431.8 862.6h1.7v13.6h-1.7zM401.7 875.7h1.7v13.6h-1.7zM384.8 888.8h1.7v13.6h-1.7zM388.4 888.8h1.7v13.6h-1.7zM407.7 888.8h1.7v13.6h-1.7zM413.7 888.8h1.7v13.6h-1.7zM433.1 888.8h1.7v13.6h-1.7zM447.5 888.8h1.7v13.6h-1.7zM278.5 901.8h1.7v13.6h-1.7zM285.8 901.8h1.7v13.6h-1.7zM287 901.8h1.7v13.6h-1.7zM295.4 901.8h1.7v13.6h-1.7zM308.7 901.8h1.7v13.6h-1.7zM325.6 901.8h1.7v13.6h-1.7zM326.8 901.8h1.7v13.6h-1.7zM332.8 901.8h1.7v13.6h-1.7zM363 901.8h1.7v13.6h-1.7zM370.3 901.8h1.7v13.6h-1.7zM393.2 901.8h1.7v13.6h-1.7zM400.5 901.8h1.7v13.6h-1.7zM406.5 901.8h1.7v13.6h-1.7zM410.1 901.8h1.7v13.6h-1.7zM416.1 901.8h1.7v13.6h-1.7zM418.6 901.8h1.7v13.6h-1.7zM443.9 901.8h1.7v13.6h-1.7zM285.8 914.9h1.7v13.1h-1.7zM296.6 914.9h1.7v13.1h-1.7zM307.5 914.9h1.7v13.1h-1.7zM328 914.9h1.7v13.1h-1.7zM355.8 914.9h1.7v13.1h-1.7zM377.5 914.9h1.7v13.1h-1.7zM382.3 914.9h1.7v13.1h-1.7zM386 914.9h1.7v13.1h-1.7zM392 914.9h1.7v13.1h-1.7zM424.6 914.9h1.7v13.1h-1.7z"/>
<path fill="#06662a" d="M301.4 771h1.7v13.6h-1.7zM312.3 771h1.7v13.6h-1.7zM319.6 771h1.7v13.6h-1.7zM355.8 771h1.7v13.6h-1.7zM358.2 771h1.7v13.6h-1.7zM375.1 771h1.7v13.6h-1.7zM376.3 771h1.7v13.6h-1.7zM396.8 771h1.7v13.6h-1.7zM404.1 771h1.7v13.6h-1.7zM446.3 771h1.7v13.6h-1.7zM296.6 784.1h1.7v13.6h-1.7zM338.9 784.1h1.7v13.6h-1.7zM348.5 784.1h1.7v13.6h-1.7zM367.9 784.1h1.7v13.6h-1.7zM372.7 784.1h1.7v13.6h-1.7zM425.8 784.1h1.7v13.6h-1.7zM278.5 797.2h1.7v13.6h-1.7zM294.2 797.2h1.7v13.6h-1.7zM305.1 797.2h1.7v13.6h-1.7zM307.5 797.2h1.7v13.6h-1.7zM319.6 797.2h1.7v13.6h-1.7zM336.5 797.2h1.7v13.6h-1.7zM351 797.2h1.7v13.6h-1.7zM360.6 797.2h1.7v13.6h-1.7zM366.6 797.2h1.7v13.6h-1.7zM373.9 797.2h1.7v13.6h-1.7zM375.1 797.2h1.7v13.6h-1.7zM392 797.2h1.7v13.6h-1.7zM404.1 797.2h1.7v13.6h-1.7zM405.3 797.2h1.7v13.6h-1.7zM425.8 797.2h1.7v13.6h-1.7zM299 810.2h1.7v13.6h-1.7zM313.5 810.2h1.7v13.6h-1.7zM314.7 810.2h1.7v13.6h-1.7zM367.9 810.2h1.7v13.6h-1.7zM379.9 810.2h1.7v13.6h-1.7zM382.3 810.2h1.7v13.6h-1.7zM394.4 810.2h1.7v13.6h-1.7zM395.6 810.2h1.7v13.6h-1.7zM419.8 810.2h1.7v13.6h-1.7zM421 810.2h1.7v13.6h-1.7zM428.2 810.2h1.7v13.6h-1.7zM430.6 810.2h1.7v13.6h-1.7zM437.9 810.2h1.7v13.6h-1.7zM452.4 810.2h1.7v13.6h-1.7zM347.3 823.3h1.7v13.6h-1.7zM379.9 823.3h1.7v13.6h-1.7zM441.5 823.3h1.7v13.6h-1.7zM451.2 823.3h1.7v13.6h-1.7zM452.4 823.3h1.7v13.6h-1.7zM338.9 836.4h1.7v13.6h-1.7zM340.1 836.4h1.7v13.6h-1.7zM373.9 836.4h1.7v13.6h-1.7zM392 836.4h1.7v13.6h-1.7zM394.4 836.4h1.7v13.6h-1.7zM402.9 836.4h1.7v13.6h-1.7zM419.8 836.4h1.7v13.6h-1.7zM446.3 836.4h1.7v13.6h-1.7zM351 849.5h1.7v13.6h-1.7zM395.6 849.5h1.7v13.6h-1.7zM427 849.5h1.7v13.6h-1.7zM436.7 849.5h1.7v13.6h-1.7zM456 849.5h1.2v13.6h-1.2zM360.6 862.6h1.7v13.6h-1.7zM401.7 862.6h1.7v13.6h-1.7zM428.2 862.6h1.7v13.6h-1.7zM440.3 862.6h1.7v13.6h-1.7zM284.5 875.7h1.7v13.6h-1.7zM325.6 875.7h1.7v13.6h-1.7zM329.2 875.7h1.7v13.6h-1.7zM336.5 875.7h1.7v13.6h-1.7zM369.1 875.7h1.7v13.6h-1.7zM372.7 875.7h1.7v13.6h-1.7zM431.8 875.7h1.7v13.6h-1.7zM279.7 888.8h1.7v13.6h-1.7zM282.1 888.8h1.7v13.6h-1.7zM336.5 888.8h1.7v13.6h-1.7zM427 888.8h1.7v13.6h-1.7zM392 901.8h1.7v13.6h-1.7zM431.8 901.8h1.7v13.6h-1.7zM283.3 914.9h1.7v13.1h-1.7zM383.5 914.9h1.7v13.1h-1.7zM396.8 914.9h1.7v13.1h-1.7zM402.9 914.9h1.7v13.1h-1.7zM407.7 914.9h1.7v13.1h-1.7z"/>
<path fill="#003c18" d="M305.1 771h1.7v13.6h-1.7zM344.9 771h1.7v13.6h-1.7zM413.7 771h1.7v13.6h-1.7zM311.1 797.2h1.7v13.6h-1.7zM317.1 797.2h1.7v13.6h-1.7zM335.3 797.2h1.7v13.6h-1.7zM301.4 810.2h1.7v13.6h-1.7zM405.3 823.3h1.7v13.6h-1.7zM436.7 823.3h1.7v13.6h-1.7zM447.5 849.5h1.7v13.6h-1.7zM296.6 875.7h1.7v13.6h-1.7zM412.5 888.8h1.7v13.6h-1.7z"/>
<path fill="#300606" d="M307.5 771h1.7v13.6h-1.7z"/>
<path fill="#066c2a" d="M308.7 771h1.7v13.6h-1.7zM314.7 771h1.7v13.6h-1.7zM317.1 771h1.7v13.6h-1.7zM341.3 771h1.7v13.6h-1.7zM342.5 771h1.7v13.6h-1.7zM360.6 771h1.7v13.6h-1.7zM365.4 771h1.7v13.6h-1.7zM367.9 771h1.7v13.6h-1.7zM371.5 771h1.7v13.6h-1.7zM406.5 771h1.7v13.6h-1.7zM434.3 771h1.7v13.6h-1.7zM291.8 784.1h1.7v13.6h-1.7zM295.4 784.1h1.7v13.6h-1.7zM315.9 784.1h1.7v13.6h-1.7zM322 784.1h1.7v13.6h-1.7zM323.2 784.1h1.7v13.6h-1.7zM330.4 784.1h1.7v13.6h-1.7zM336.5 784.1h1.7v13.6h-1.7zM366.6 784.1h1.7v13.6h-1.7zM369.1 784.1h1.7v13.6h-1.7zM377.5 784.1h1.7v13.6h-1.7zM398 784.1h1.7v13.6h-1.7zM401.7 784.1h1.7v13.6h-1.7zM411.3 784.1h1.7v13.6h-1.7zM416.1 784.1h1.7v13.6h-1.7zM422.2 784.1h1.7v13.6h-1.7zM423.4 784.1h1.7v13.6h-1.7zM428.2 784.1h1.7v13.6h-1.7zM429.4 784.1h1.7v13.6h-1.7zM439.1 784.1h1.7v13.6h-1.7zM441.5 784.1h1.7v13.6h-1.7zM443.9 784.1h1.7v13.6h-1.7zM447.5 784.1h1.7v13.6h-1.7zM451.2 784.1h1.7v13.6h-1.7zM283.3 797.2h1.7v13.6h-1.7zM291.8 797.2h1.7v13.6h-1.7zM296.6 797.2h1.7v13.6h-1.7zM302.7 797.2h1.7v13.6h-1.7zM318.4 797.2h1.7v13.6h-1.7zM328 797.2h1.7v13.6h-1.7zM329.2 797.2h1.7v13.6h-1.7zM364.2 797.2h1.7v13.6h-1.7zM371.5 797.2h1.7v13.6h-1.7zM376.3 797.2h1.7v13.6h-1.7zM382.3 797.2h1.7v13.6h-1.7zM390.8 797.2h1.7v13.6h-1.7zM398 797.2h1.7v13.6h-1.7zM408.9 797.2h1.7v13.6h-1.7zM411.3 797.2h1.7v13.6h-1.7zM417.4 797.2h1.7v13.6h-1.7zM418.6 797.2h1.7v13.6h-1.7zM428.2 797.2h1.7v13.6h-1.7zM437.9 797.2h1.7v13.6h-1.7zM439.1 797.2h1.7v13.6h-1.7zM288.2 810.2h1.7v13.6h-1.7zM293 810.2h1.7v13.6h-1.7zM295.4 810.2h1.7v13.6h-1.7zM311.1 810.2h1.7v13.6h-1.7zM315.9 810.2h1.7v13.6h-1.7zM323.2 810.2h1.7v13.6h-1.7zM337.7 810.2h1.7v13.6h-1.7zM338.9 810.2h1.7v13.6h-1.7zM343.7 810.2h1.7v13.6h-1.7zM344.9 810.2h1.7v13.6h-1.7zM346.1 810.2h1.7v13.6h-1.7zM358.2 810.2h1.7v13.6h-1.7zM370.3 810.2h1.7v13.6h-1.7zM372.7 810.2h1.7v13.6h-1.7zM376.3 810.2h1.7v13.6h-1.7zM384.8 810.2h1.7v13.6h-1.7zM386 810.2h1.7v13.6h-1.7zM390.8 810.2h1.7v13.6h-1.7zM404.1 810.2h1.7v13.6h-1.7zM408.9 810.2h1.7v13.6h-1.7zM411.3 810.2h1.7v13.6h-1.7zM418.6 810.2h1.7v13.6h-1.7zM427 810.2h1.7v13.6h-1.7zM446.3 810.2h1.7v13.6h-1.7zM277.3 823.3h1.7v13.6h-1.7zM324.4 823.3h1.7v13.6h-1.7zM377.5 823.3h1.7v13.6h-1.7zM407.7 823.3h1.7v13.6h-1.7zM408.9 823.3h1.7v13.6h-1.7zM423.4 823.3h1.7v13.6h-1.7zM434.3 823.3h1.7v13.6h-1.7zM445.1 823.3h1.7v13.6h-1.7zM352.2 836.4h1.7v13.6h-1.7zM355.8 836.4h1.7v13.6h-1.7zM357 836.4h1.7v13.6h-1.7zM370.3 836.4h1.7v13.6h-1.7zM404.1 836.4h1.7v13.6h-1.7zM425.8 836.4h1.7v13.6h-1.7zM428.2 836.4h1.7v13.6h-1.7zM429.4 836.4h1.7v13.6h-1.7zM430.6 836.4h1.7v13.6h-1.7zM434.3 836.4h1.7v13.6h-1.7zM439.1 836.4h1.7v13.6h-1.7zM448.7 836.4h1.7v13.6h-1.7zM453.6 836.4h1.7v13.6h-1.7zM315.9 849.5h1.7v13.6h-1.7zM332.8 849.5h1.7v13.6h-1.7zM360.6 849.5h1.7v13.6h-1.7zM369.1 849.5h1.7v13.6h-1.7zM379.9 849.5h1.7v13.6h-1.7zM389.6 849.5h1.7v13.6h-1.7zM390.8 849.5h1.7v13.6h-1.7zM392 849.5h1.7v13.6h-1.7zM398 849.5h1.7v13.6h-1.7zM413.7 849.5h1.7v13.6h-1.7zM429.4 849.5h1.7v13.6h-1.7zM437.9 849.5h1.7v13.6h-1.7zM445.1 849.5h1.7v13.6h-1.7zM448.7 849.5h1.7v13.6h-1.7zM279.7 862.6h1.7v13.6h-1.7zM280.9 862.6h1.7v13.6h-1.7zM323.2 862.6h1.7v13.6h-1.7zM344.9 862.6h1.7v13.6h-1.7zM367.9 862.6h1.7v13.6h-1.7zM378.7 862.6h1.7v13.6h-1.7zM386 862.6h1.7v13.6h-1.7zM396.8 862.6h1.7v13.6h-1.7zM398 862.6h1.7v13.6h-1.7zM406.5 862.6h1.7v13.6h-1.7zM410.1 862.6h1.7v13.6h-1.7zM419.8 862.6h1.7v13.6h-1.7zM423.4 862.6h1.7v13.6h-1.7zM435.5 862.6h1.7v13.6h-1.7zM446.3 862.6h1.7v13.6h-1.7zM450 862.6h1.7v13.6h-1.7zM451.2 862.6h1.7v13.6h-1.7zM454.8 862.6h1.7v13.6h-1.7zM283.3 875.7h1.7v13.6h-1.7zM318.4 875.7h1.7v13.6h-1.7zM323.2 875.7h1.7v13.6h-1.7zM328 875.7h1.7v13.6h-1.7zM331.6 875.7h1.7v13.6h-1.7zM338.9 875.7h1.7v13.6h-1.7zM341.3 875.7h1.7v13.6h-1.7zM349.7 875.7h1.7v13.6h-1.7zM352.2 875.7h1.7v13.6h-1.7zM353.4 875.7h1.7v13.6h-1.7zM357 875.7h1.7v13.6h-1.7zM358.2 875.7h1.7v13.6h-1.7zM359.4 875.7h1.7v13.6h-1.7zM373.9 875.7h1.7v13.6h-1.7zM376.3 875.7h1.7v13.6h-1.7zM390.8 875.7h1.7v13.6h-1.7zM393.2 875.7h1.7v13.6h-1.7zM412.5 875.7h1.7v13.6h-1.7zM423.4 875.7h1.7v13.6h-1.7zM427 875.7h1.7v13.6h-1.7zM436.7 875.7h1.7v13.6h-1.7zM437.9 875.7h1.7v13.6h-1.7zM440.3 875.7h1.7v13.6h-1.7zM441.5 875.7h1.7v13.6h-1.7zM452.4 875.7h1.7v13.6h-1.7zM278.5 888.8h1.7v13.6h-1.7zM280.9 888.8h1.7v13.6h-1.7zM295.4 888.8h1.7v13.6h-1.7zM307.5 888.8h1.7v13.6h-1.7zM312.3 888.8h1.7v13.6h-1.7zM341.3 888.8h1.7v13.6h-1.7zM342.5 888.8h1.7v13.6h-1.7zM349.7 888.8h1.7v13.6h-1.7zM367.9 888.8h1.7v13.6h-1.7zM370.3 888.8h1.7v13.6h-1.7zM373.9 888.8h1.7v13.6h-1.7zM375.1 888.8h1.7v13.6h-1.7zM393.2 888.8h1.7v13.6h-1.7zM396.8 888.8h1.7v13.6h-1.7zM402.9 888.8h1.7v13.6h-1.7zM405.3 888.8h1.7v13.6h-1.7zM406.5 888.8h1.7v13.6h-1.7zM422.2 888.8h1.7v13.6h-1.7zM428.2 888.8h1.7v13.6h-1.7zM429.4 888.8h1.7v13.6h-1.7zM329.2 901.8h1.7v13.6h-1.7zM337.7 901.8h1.7v13.6h-1.7zM340.1 901.8h1.7v13.6h-1.7zM343.7 901.8h1.7v13.6h-1.7zM399.2 901.8h1.7v13.6h-1.7zM405.3 901.8h1.7v13.6h-1.7zM424.6 901.8h1.7v13.6h-1.7zM446.3 901.8h1.7v13.6h-1.7zM448.7 901.8h1.7v13.6h-1.7zM454.8 901.8h1.7v13.6h-1.7zM456 901.8h1.2v13.6h-1.2zM353.4 914.9h1.7v13.1h-1.7zM357 914.9h1.7v13.1h-1.7zM369.1 914.9h1.7v13.1h-1.7zM372.7 914.9h1.7v13.1h-1.7zM389.6 914.9h1.7v13.1h-1.7zM398 914.9h1.7v13.1h-1.7zM406.5 914.9h1.7v13.1h-1.7zM410.1 914.9h1.7v13.1h-1.7zM433.1 914.9h1.7v13.1h-1.7zM435.5 914.9h1.7v13.1h-1.7zM439.1 914.9h1.7v13.1h-1.7zM445.1 914.9h1.7v13.1h-1.7zM447.5 914.9h1.7v13.1h-1.7zM451.2 914.9h1.7v13.1h-1.7zM454.8 914.9h1.7v13.1h-1.7z"/>
<path fill="#000000" d="M318.4 771h1.7v13.6h-1.7zM349.7 771h1.7v13.6h-1.7zM424.6 771h1.7v13.6h-1.7zM342.5 797.2h1.7v13.6h-1.7zM280.9 810.2h1.7v13.6h-1.7zM296.6 810.2h1.7v13.6h-1.7zM371.5 810.2h1.7v13.6h-1.7zM440.3 810.2h1.7v13.6h-1.7zM287 823.3h1.7v13.6h-1.7zM382.3 823.3h1.7v13.6h-1.7zM395.6 836.4h1.7v13.6h-1.7zM329.2 849.5h1.7v13.6h-1.7zM354.6 849.5h1.7v13.6h-1.7zM393.2 849.5h1.7v13.6h-1.7zM424.6 862.6h1.7v13.6h-1.7zM400.5 875.7h1.7v13.6h-1.7zM417.4 875.7h1.7v13.6h-1.7zM381.1 888.8h1.7v13.6h-1.7zM282.1 901.8h1.7v13.6h-1.7zM359.4 901.8h1.7v13.6h-1.7z"/>
<path fill="#003612" d="M334 771h1.7v13.6h-1.7zM400.5 810.2h1.7v13.6h-1.7zM425.8 810.2h1.7v13.6h-1.7zM311.1 862.6h1.7v13.6h-1.7zM371.5 875.7h1.7v13.6h-1.7zM285.8 888.8h1.7v13.6h-1.7zM313.5 901.8h1.7v13.6h-1.7zM352.2 914.9h1.7v13.1h-1.7z"/>
<path fill="#4eb43c" d="M337.7 771h1.7v13.6h-1.7zM443.9 771h1.7v13.6h-1.7zM349.7 797.2h1.7v13.6h-1.7zM377.5 797.2h1.7v13.6h-1.7zM445.1 797.2h1.7v13.6h-1.7zM417.4 810.2h1.7v13.6h-1.7zM414.9 823.3h1.7v13.6h-1.7zM422.2 823.3h1.7v13.6h-1.7zM387.2 836.4h1.7v13.6h-1.7zM417.4 862.6h1.7v13.6h-1.7zM384.8 875.7h1.7v13.6h-1.7zM290.6 901.8h1.7v13.6h-1.7zM377.5 901.8h1.7v13.6h-1.7zM371.5 914.9h1.7v13.1h-1.7zM441.5 914.9h1.7v13.1h-1.7z"/>
<path fill="#006024" d="M347.3 771h1.7v13.6h-1.7zM361.8 771h1.7v13.6h-1.7zM370.3 771h1.7v13.6h-1.7zM411.3 771h1.7v13.6h-1.7zM307.5 784.1h1.7v13.6h-1.7zM344.9 784.1h1.7v13.6h-1.7zM431.8 784.1h1.7v13.6h-1.7zM437.9 784.1h1.7v13.6h-1.7zM277.3 797.2h1.7v13.6h-1.7zM282.1 797.2h1.7v13.6h-1.7zM290.6 797.2h1.7v13.6h-1.7zM297.8 797.2h1.7v13.6h-1.7zM299 797.2h1.7v13.6h-1.7zM315.9 797.2h1.7v13.6h-1.7zM323.2 797.2h1.7v13.6h-1.7zM343.7 797.2h1.7v13.6h-1.7zM369.1 797.2h1.7v13.6h-1.7zM379.9 797.2h1.7v13.6h-1.7zM381.1 797.2h1.7v13.6h-1.7zM442.7 797.2h1.7v13.6h-1.7zM322 810.2h1.7v13.6h-1.7zM325.6 810.2h1.7v13.6h-1.7zM336.5 810.2h1.7v13.6h-1.7zM363 810.2h1.7v13.6h-1.7zM424.6 810.2h1.7v13.6h-1.7zM443.9 810.2h1.7v13.6h-1.7zM431.8 849.5h1.7v13.6h-1.7zM402.9 862.6h1.7v13.6h-1.7zM282.1 875.7h1.7v13.6h-1.7zM309.9 875.7h1.7v13.6h-1.7zM314.7 875.7h1.7v13.6h-1.7zM322 875.7h1.7v13.6h-1.7zM330.4 875.7h1.7v13.6h-1.7zM354.6 875.7h1.7v13.6h-1.7zM355.8 875.7h1.7v13.6h-1.7zM367.9 875.7h1.7v13.6h-1.7zM314.7 888.8h1.7v13.6h-1.7zM323.2 888.8h1.7v13.6h-1.7zM351 888.8h1.7v13.6h-1.7zM399.2 888.8h1.7v13.6h-1.7zM440.3 901.8h1.7v13.6h-1.7z"/>
<path fill="#067830" d="M351 771h1.7v13.6h-1.7zM359.4 771h1.7v13.6h-1.7zM363 771h1.7v13.6h-1.7zM366.6 771h1.7v13.6h-1.7zM381.1 771h1.7v13.6h-1.7zM382.3 771h1.7v13.6h-1.7zM387.2 771h1.7v13.6h-1.7zM388.4 771h1.7v13.6h-1.7zM393.2 771h1.7v13.6h-1.7zM401.7 771h1.7v13.6h-1.7zM429.4 771h1.7v13.6h-1.7zM433.1 771h1.7v13.6h-1.7zM450 771h1.7v13.6h-1.7zM451.2 771h1.7v13.6h-1.7zM279.7 784.1h1.7v13.6h-1.7zM282.1 784.1h1.7v13.6h-1.7zM289.4 784.1h1.7v13.6h-1.7zM294.2 784.1h1.7v13.6h-1.7zM299 784.1h1.7v13.6h-1.7zM314.7 784.1h1.7v13.6h-1.7zM318.4 784.1h1.7v13.6h-1.7zM325.6 784.1h1.7v13.6h-1.7zM326.8 784.1h1.7v13.6h-1.7zM335.3 784.1h1.7v13.6h-1.7zM343.7 784.1h1.7v13.6h-1.7zM351 784.1h1.7v13.6h-1.7zM357 784.1h1.7v13.6h-1.7zM358.2 784.1h1.7v13.6h-1.7zM361.8 784.1h1.7v13.6h-1.7zM363 784.1h1.7v13.6h-1.7zM365.4 784.1h1.7v13.6h-1.7zM392 784.1h1.7v13.6h-1.7zM395.6 784.1h1.7v13.6h-1.7zM399.2 784.1h1.7v13.6h-1.7zM402.9 784.1h1.7v13.6h-1.7zM412.5 784.1h1.7v13.6h-1.7zM430.6 784.1h1.7v13.6h-1.7zM442.7 784.1h1.7v13.6h-1.7zM452.4 784.1h1.7v13.6h-1.7zM306.3 797.2h1.7v13.6h-1.7zM357 797.2h1.7v13.6h-1.7zM367.9 797.2h1.7v13.6h-1.7zM399.2 797.2h1.7v13.6h-1.7zM414.9 797.2h1.7v13.6h-1.7zM416.1 797.2h1.7v13.6h-1.7zM421 797.2h1.7v13.6h-1.7zM423.4 797.2h1.7v13.6h-1.7zM427 797.2h1.7v13.6h-1.7zM447.5 797.2h1.7v13.6h-1.7zM448.7 797.2h1.7v13.6h-1.7zM450 797.2h1.7v13.6h-1.7zM331.6 810.2h1.7v13.6h-1.7zM349.7 810.2h1.7v13.6h-1.7zM410.1 810.2h1.7v13.6h-1.7zM412.5 810.2h1.7v13.6h-1.7zM422.2 810.2h1.7v13.6h-1.7zM436.7 810.2h1.7v13.6h-1.7zM442.7 810.2h1.7v13.6h-1.7zM447.5 810.2h1.7v13.6h-1.7zM448.7 810.2h1.7v13.6h-1.7zM454.8 810.2h1.7v13.6h-1.7zM279.7 823.3h1.7v13.6h-1.7zM282.1 823.3h1.7v13.6h-1.7zM284.5 823.3h1.7v13.6h-1.7zM285.8 823.3h1.7v13.6h-1.7zM295.4 823.3h1.7v13.6h-1.7zM297.8 823.3h1.7v13.6h-1.7zM312.3 823.3h1.7v13.6h-1.7zM313.5 823.3h1.7v13.6h-1.7zM320.8 823.3h1.7v13.6h-1.7zM323.2 823.3h1.7v13.6h-1.7zM328 823.3h1.7v13.6h-1.7zM329.2 823.3h1.7v13.6h-1.7zM331.6 823.3h1.7v13.6h-1.7zM332.8 823.3h1.7v13.6h-1.7zM336.5 823.3h1.7v13.6h-1.7zM359.4 823.3h1.7v13.6h-1.7zM361.8 823.3h1.7v13.6h-1.7zM370.3 823.3h1.7v13.6h-1.7zM372.7 823.3h1.7v13.6h-1.7zM386 823.3h1.7v13.6h-1.7zM389.6 823.3h1.7v13.6h-1.7zM393.2 823.3h1.7v13.6h-1.7zM398 823.3h1.7v13.6h-1.7zM406.5 823.3h1.7v13.6h-1.7zM416.1 823.3h1.7v13.6h-1.7zM421 823.3h1.7v13.6h-1.7zM429.4 823.3h1.7v13.6h-1.7zM431.8 823.3h1.7v13.6h-1.7zM437.9 823.3h1.7v13.6h-1.7zM448.7 823.3h1.7v13.6h-1.7zM450 823.3h1.7v13.6h-1.7zM282.1 836.4h1.7v13.6h-1.7zM302.7 836.4h1.7v13.6h-1.7zM309.9 836.4h1.7v13.6h-1.7zM312.3 836.4h1.7v13.6h-1.7zM314.7 836.4h1.7v13.6h-1.7zM330.4 836.4h1.7v13.6h-1.7zM347.3 836.4h1.7v13.6h-1.7zM353.4 836.4h1.7v13.6h-1.7zM359.4 836.4h1.7v13.6h-1.7zM364.2 836.4h1.7v13.6h-1.7zM372.7 836.4h1.7v13.6h-1.7zM375.1 836.4h1.7v13.6h-1.7zM379.9 836.4h1.7v13.6h-1.7zM383.5 836.4h1.7v13.6h-1.7zM410.1 836.4h1.7v13.6h-1.7zM440.3 836.4h1.7v13.6h-1.7zM445.1 836.4h1.7v13.6h-1.7zM447.5 836.4h1.7v13.6h-1.7zM450 836.4h1.7v13.6h-1.7zM288.2 849.5h1.7v13.6h-1.7zM307.5 849.5h1.7v13.6h-1.7zM320.8 849.5h1.7v13.6h-1.7zM344.9 849.5h1.7v13.6h-1.7zM348.5 849.5h1.7v13.6h-1.7zM357 849.5h1.7v13.6h-1.7zM363 849.5h1.7v13.6h-1.7zM364.2 849.5h1.7v13.6h-1.7zM387.2 849.5h1.7v13.6h-1.7zM396.8 849.5h1.7v13.6h-1.7zM406.5 849.5h1.7v13.6h-1.7zM410.1 849.5h1.7v13.6h-1.7zM418.6 849.5h1.7v13.6h-1.7zM441.5 849.5h1.7v13.6h-1.7zM277.3 862.6h1.7v13.6h-1.7zM293 862.6h1.7v13.6h-1.7zM303.9 862.6h1.7v13.6h-1.7zM312.3 862.6h1.7v13.6h-1.7zM313.5 862.6h1.7v13.6h-1.7zM318.4 862.6h1.7v13.6h-1.7zM320.8 862.6h1.7v13.6h-1.7zM328 862.6h1.7v13.6h-1.7zM329.2 862.6h1.7v13.6h-1.7zM337.7 862.6h1.7v13.6h-1.7zM343.7 862.6h1.7v13.6h-1.7zM365.4 862.6h1.7v13.6h-1.7zM376.3 862.6h1.7v13.6h-1.7zM384.8 862.6h1.7v13.6h-1.7zM387.2 862.6h1.7v13.6h-1.7zM389.6 862.6h1.7v13.6h-1.7zM405.3 862.6h1.7v13.6h-1.7zM416.1 862.6h1.7v13.6h-1.7zM418.6 862.6h1.7v13.6h-1.7zM427 862.6h1.7v13.6h-1.7zM434.3 862.6h1.7v13.6h-1.7zM436.7 862.6h1.7v13.6h-1.7zM439.1 862.6h1.7v13.6h-1.7zM447.5 862.6h1.7v13.6h-1.7zM453.6 862.6h1.7v13.6h-1.7zM279.7 875.7h1.7v13.6h-1.7zM293 875.7h1.7v13.6h-1.7zM313.5 875.7h1.7v13.6h-1.7zM315.9 875.7h1.7v13.6h-1.7zM334 875.7h1.7v13.6h-1.7zM348.5 875.7h1.7v13.6h-1.7zM379.9 875.7h1.7v13.6h-1.7zM383.5 875.7h1.7v13.6h-1.7zM386 875.7h1.7v13.6h-1.7zM392 875.7h1.7v13.6h-1.7zM395.6 875.7h1.7v13.6h-1.7zM396.8 875.7h1.7v13.6h-1.7zM399.2 875.7h1.7v13.6h-1.7zM416.1 875.7h1.7v13.6h-1.7zM424.6 875.7h1.7v13.6h-1.7zM428.2 875.7h1.7v13.6h-1.7zM445.1 875.7h1.7v13.6h-1.7zM453.6 875.7h1.7v13.6h-1.7zM456 875.7h1.2v13.6h-1.2zM306.3 888.8h1.7v13.6h-1.7zM311.1 888.8h1.7v13.6h-1.7zM326.8 888.8h1.7v13.6h-1.7zM343.7 888.8h1.7v13.6h-1.7zM347.3 888.8h1.7v13.6h-1.7zM355.8 888.8h1.7v13.6h-1.7zM360.6 888.8h1.7v13.6h-1.7zM363 888.8h1.7v13.6h-1.7zM371.5 888.8h1.7v13.6h-1.7zM383.5 888.8h1.7v13.6h-1.7zM387.2 888.8h1.7v13.6h-1.7zM395.6 888.8h1.7v13.6h-1.7zM400.5 888.8h1.7v13.6h-1.7zM410.1 888.8h1.7v13.6h-1.7zM416.1 888.8h1.7v13.6h-1.7zM421 888.8h1.7v13.6h-1.7zM434.3 888.8h1.7v13.6h-1.7zM437.9 888.8h1.7v13.6h-1.7zM439.1 888.8h1.7v13.6h-1.7zM442.7 888.8h1.7v13.6h-1.7zM443.9 888.8h1.7v13.6h-1.7zM450 888.8h1.7v13.6h-1.7zM454.8 888.8h1.7v13.6h-1.7zM296.6 901.8h1.7v13.6h-1.7zM300.2 901.8h1.7v13.6h-1.7zM309.9 901.8h1.7v13.6h-1.7zM314.7 901.8h1.7v13.6h-1.7zM317.1 901.8h1.7v13.6h-1.7zM319.6 901.8h1.7v13.6h-1.7zM323.2 901.8h1.7v13.6h-1.7zM328 901.8h1.7v13.6h-1.7zM335.3 901.8h1.7v13.6h-1.7zM346.1 901.8h1.7v13.6h-1.7zM351 901.8h1.7v13.6h-1.7zM357 901.8h1.7v13.6h-1.7zM360.6 901.8h1.7v13.6h-1.7zM364.2 901.8h1.7v13.6h-1.7zM366.6 901.8h1.7v13.6h-1.7zM376.3 901.8h1.7v13.6h-1.7zM378.7 901.8h1.7v13.6h-1.7zM382.3 901.8h1.7v13.6h-1.7zM384.8 901.8h1.7v13.6h-1.7zM388.4 901.8h1.7v13.6h-1.7zM390.8 901.8h1.7v13.6h-1.7zM404.1 901.8h1.7v13.6h-1.7zM411.3 901.8h1.7v13.6h-1.7zM412.5 901.8h1.7v13.6h-1.7zM414.9 901.8h1.7v13.6h-1.7zM417.4 901.8h1.7v13.6h-1.7zM421 901.8h1.7v13.6h-1.7zM291.8 914.9h1.7v13.1h-1.7zM295.4 914.9h1.7v13.1h-1.7zM300.2 914.9h1.7v13.1h-1.7zM302.7 914.9h1.7v13.1h-1.7zM311.1 914.9h1.7v13.1h-1.7zM317.1 914.9h1.7v13.1h-1.7zM322 914.9h1.7v13.1h-1.7zM325.6 914.9h1.7v13.1h-1.7zM332.8 914.9h1.7v13.1h-1.7zM340.1 914.9h1.7v13.1h-1.7zM344.9 914.9h1.7v13.1h-1.7zM348.5 914.9h1.7v13.1h-1.7zM360.6 914.9h1.7v13.1h-1.7zM361.8 914.9h1.7v13.1h-1.7zM370.3 914.9h1.7v13.1h-1.7zM375.1 914.9h1.7v13.1h-1.7zM395.6 914.9h1.7v13.1h-1.7zM414.9 914.9h1.7v13.1h-1.7zM417.4 914.9h1.7v13.1h-1.7zM421 914.9h1.7v13.1h-1.7zM425.8 914.9h1.7v13.1h-1.7zM429.4 914.9h1.7v13.1h-1.7zM431.8 914.9h1.7v13.1h-1.7zM442.7 914.9h1.7v13.1h-1.7zM446.3 914.9h1.7v13.1h-1.7z"/>
<path fill="#42ae3c" d="M383.5 771h1.7v13.6h-1.7z"/>
<path fill="#24a23c" d="M389.6 771h1.7v13.6h-1.7zM295.4 875.7h1.7v13.6h-1.7zM305.1 914.9h1.7v13.1h-1.7zM343.7 914.9h1.7v13.1h-1.7z"/>
<path fill="#36ae3c" d="M405.3 771h1.7v13.6h-1.7zM290.6 784.1h1.7v13.6h-1.7zM375.1 849.5h1.7v13.6h-1.7zM303.9 914.9h1.7v13.1h-1.7z"/>
<path fill="#069036" d="M417.4 771h1.7v13.6h-1.7zM437.9 771h1.7v13.6h-1.7zM278.5 784.1h1.7v13.6h-1.7zM293 784.1h1.7v13.6h-1.7zM306.3 784.1h1.7v13.6h-1.7zM308.7 784.1h1.7v13.6h-1.7zM317.1 784.1h1.7v13.6h-1.7zM331.6 784.1h1.7v13.6h-1.7zM370.3 784.1h1.7v13.6h-1.7zM422.2 797.2h1.7v13.6h-1.7zM296.6 823.3h1.7v13.6h-1.7zM344.9 823.3h1.7v13.6h-1.7zM348.5 823.3h1.7v13.6h-1.7zM399.2 823.3h1.7v13.6h-1.7zM277.3 836.4h1.7v13.6h-1.7zM280.9 836.4h1.7v13.6h-1.7zM294.2 836.4h1.7v13.6h-1.7zM388.4 836.4h1.7v13.6h-1.7zM421 836.4h1.7v13.6h-1.7zM435.5 836.4h1.7v13.6h-1.7zM302.7 849.5h1.7v13.6h-1.7zM303.9 849.5h1.7v13.6h-1.7zM313.5 849.5h1.7v13.6h-1.7zM323.2 849.5h1.7v13.6h-1.7zM325.6 849.5h1.7v13.6h-1.7zM337.7 849.5h1.7v13.6h-1.7zM384.8 849.5h1.7v13.6h-1.7zM402.9 849.5h1.7v13.6h-1.7zM433.1 849.5h1.7v13.6h-1.7zM284.5 862.6h1.7v13.6h-1.7zM288.2 862.6h1.7v13.6h-1.7zM301.4 862.6h1.7v13.6h-1.7zM332.8 862.6h1.7v13.6h-1.7zM335.3 862.6h1.7v13.6h-1.7zM346.1 862.6h1.7v13.6h-1.7zM347.3 862.6h1.7v13.6h-1.7zM353.4 862.6h1.7v13.6h-1.7zM354.6 862.6h1.7v13.6h-1.7zM369.1 862.6h1.7v13.6h-1.7zM377.5 862.6h1.7v13.6h-1.7zM383.5 862.6h1.7v13.6h-1.7zM446.3 875.7h1.7v13.6h-1.7zM398 888.8h1.7v13.6h-1.7zM424.6 888.8h1.7v13.6h-1.7zM425.8 888.8h1.7v13.6h-1.7zM441.5 888.8h1.7v13.6h-1.7zM284.5 901.8h1.7v13.6h-1.7zM291.8 901.8h1.7v13.6h-1.7zM318.4 901.8h1.7v13.6h-1.7zM324.4 901.8h1.7v13.6h-1.7zM341.3 901.8h1.7v13.6h-1.7zM349.7 901.8h1.7v13.6h-1.7zM361.8 901.8h1.7v13.6h-1.7zM375.1 901.8h1.7v13.6h-1.7zM386 901.8h1.7v13.6h-1.7zM423.4 901.8h1.7v13.6h-1.7zM451.2 901.8h1.7v13.6h-1.7zM277.3 914.9h1.7v13.1h-1.7zM280.9 914.9h1.7v13.1h-1.7zM294.2 914.9h1.7v13.1h-1.7zM312.3 914.9h1.7v13.1h-1.7zM334 914.9h1.7v13.1h-1.7zM337.7 914.9h1.7v13.1h-1.7zM364.2 914.9h1.7v13.1h-1.7zM452.4 914.9h1.7v13.1h-1.7z"/>
<path fill="#42b43c" d="M419.8 771h1.7v13.6h-1.7z"/>
<path fill="#1ea23c" d="M422.2 771h1.7v13.6h-1.7zM322 823.3h1.7v13.6h-1.7zM328 849.5h1.7v13.6h-1.7zM407.7 875.7h1.7v13.6h-1.7zM299 901.8h1.7v13.6h-1.7zM390.8 914.9h1.7v13.1h-1.7z"/>
<path fill="#0c9036" d="M445.1 771h1.7v13.6h-1.7zM320.8 784.1h1.7v13.6h-1.7zM311.1 823.3h1.7v13.6h-1.7zM448.7 875.7h1.7v13.6h-1.7z"/>
<path fill="#000600" d="M453.6 771h1.7v13.6h-1.7zM300.2 810.2h1.7v13.6h-1.7zM388.4 810.2h1.7v13.6h-1.7zM393.2 836.4h1.7v13.6h-1.7zM377.5 875.7h1.7v13.6h-1.7zM406.5 875.7h1.7v13.6h-1.7zM447.5 875.7h1.7v13.6h-1.7zM315.9 888.8h1.7v13.6h-1.7zM442.7 901.8h1.7v13.6h-1.7z"/>
<path fill="#0c9636" d="M456 771h1.2v13.6h-1.2zM300.2 784.1h1.7v13.6h-1.7zM306.3 823.3h1.7v13.6h-1.7zM291.8 836.4h1.7v13.6h-1.7zM439.1 875.7h1.7v13.6h-1.7zM315.9 901.8h1.7v13.6h-1.7zM315.9 914.9h1.7v13.1h-1.7z"/>
<path fill="#00180c" d="M283.3 784.1h1.7v13.6h-1.7zM401.7 797.2h1.7v13.6h-1.7zM353.4 823.3h1.7v13.6h-1.7z"/>
<path fill="#002a12" d="M288.2 784.1h1.7v13.6h-1.7zM410.1 784.1h1.7v13.6h-1.7zM287 797.2h1.7v13.6h-1.7zM312.3 797.2h1.7v13.6h-1.7zM344.9 797.2h1.7v13.6h-1.7zM408.9 849.5h1.7v13.6h-1.7zM338.9 862.6h1.7v13.6h-1.7zM429.4 862.6h1.7v13.6h-1.7zM361.8 875.7h1.7v13.6h-1.7z"/>
<path fill="#0c963c" d="M302.7 784.1h1.7v13.6h-1.7zM352.2 784.1h1.7v13.6h-1.7zM334 823.3h1.7v13.6h-1.7zM364.2 823.3h1.7v13.6h-1.7zM279.7 836.4h1.7v13.6h-1.7zM331.6 836.4h1.7v13.6h-1.7zM366.6 836.4h1.7v13.6h-1.7zM284.5 849.5h1.7v13.6h-1.7zM287 849.5h1.7v13.6h-1.7zM308.7 849.5h1.7v13.6h-1.7zM289.4 862.6h1.7v13.6h-1.7zM295.4 862.6h1.7v13.6h-1.7zM319.6 862.6h1.7v13.6h-1.7zM325.6 862.6h1.7v13.6h-1.7zM408.9 875.7h1.7v13.6h-1.7zM279.7 901.8h1.7v13.6h-1.7zM289.4 901.8h1.7v13.6h-1.7zM297.8 914.9h1.7v13.1h-1.7zM358.2 914.9h1.7v13.1h-1.7zM381.1 914.9h1.7v13.1h-1.7z"/>
<path fill="#189c3c" d="M303.9 784.1h1.7v13.6h-1.7zM300.2 823.3h1.7v13.6h-1.7zM299 836.4h1.7v13.6h-1.7zM300.2 836.4h1.7v13.6h-1.7zM400.5 849.5h1.7v13.6h-1.7zM365.4 888.8h1.7v13.6h-1.7zM452.4 888.8h1.7v13.6h-1.7zM416.1 914.9h1.7v13.1h-1.7zM422.2 914.9h1.7v13.1h-1.7z"/>
<path fill="#001206" d="M324.4 784.1h1.7v13.6h-1.7zM456 784.1h1.2v13.6h-1.2zM277.3 810.2h1.7v13.6h-1.7zM396.8 810.2h1.7v13.6h-1.7zM443.9 823.3h1.7v13.6h-1.7zM284.5 836.4h1.7v13.6h-1.7zM322 836.4h1.7v13.6h-1.7zM413.7 836.4h1.7v13.6h-1.7zM330.4 849.5h1.7v13.6h-1.7zM371.5 849.5h1.7v13.6h-1.7zM407.7 862.6h1.7v13.6h-1.7zM278.5 875.7h1.7v13.6h-1.7zM319.6 888.8h1.7v13.6h-1.7zM331.6 888.8h1.7v13.6h-1.7zM293 901.8h1.7v13.6h-1.7zM344.9 901.8h1.7v13.6h-1.7z"/>
<path fill="#067e36" d="M329.2 784.1h1.7v13.6h-1.7zM396.8 784.1h1.7v13.6h-1.7zM371.5 823.3h1.7v13.6h-1.7zM361.8 849.5h1.7v13.6h-1.7zM302.7 862.6h1.7v13.6h-1.7zM331.6 862.6h1.7v13.6h-1.7zM390.8 862.6h1.7v13.6h-1.7zM381.1 875.7h1.7v13.6h-1.7zM322 888.8h1.7v13.6h-1.7zM436.7 888.8h1.7v13.6h-1.7zM307.5 901.8h1.7v13.6h-1.7zM311.1 901.8h1.7v13.6h-1.7zM396.8 901.8h1.7v13.6h-1.7zM326.8 914.9h1.7v13.1h-1.7zM347.3 914.9h1.7v13.1h-1.7zM373.9 914.9h1.7v13.1h-1.7z"/>
<path fill="#36a83c" d="M378.7 784.1h1.7v13.6h-1.7zM278.5 823.3h1.7v13.6h-1.7zM395.6 823.3h1.7v13.6h-1.7zM306.3 914.9h1.7v13.1h-1.7z"/>
<path fill="#003012" d="M413.7 784.1h1.7v13.6h-1.7zM313.5 836.4h1.7v13.6h-1.7zM421 849.5h1.7v13.6h-1.7zM379.9 862.6h1.7v13.6h-1.7zM422.2 862.6h1.7v13.6h-1.7zM320.8 875.7h1.7v13.6h-1.7zM410.1 875.7h1.7v13.6h-1.7zM445.1 888.8h1.7v13.6h-1.7zM331.6 914.9h1.7v13.1h-1.7z"/>
<path fill="#3cae3c" d="M434.3 784.1h1.7v13.6h-1.7zM301.4 836.4h1.7v13.6h-1.7zM364.2 862.6h1.7v13.6h-1.7z"/>
<path fill="#001e0c" d="M279.7 797.2h1.7v13.6h-1.7zM309.9 797.2h1.7v13.6h-1.7zM388.4 797.2h1.7v13.6h-1.7zM303.9 810.2h1.7v13.6h-1.7zM332.8 810.2h1.7v13.6h-1.7zM387.2 810.2h1.7v13.6h-1.7zM354.6 823.3h1.7v13.6h-1.7zM383.5 849.5h1.7v13.6h-1.7zM408.9 888.8h1.7v13.6h-1.7zM313.5 914.9h1.7v13.1h-1.7zM338.9 914.9h1.7v13.1h-1.7z"/>
<path fill="#48b43c" d="M325.6 797.2h1.7v13.6h-1.7zM366.6 810.2h1.7v13.6h-1.7zM440.3 888.8h1.7v13.6h-1.7zM294.2 901.8h1.7v13.6h-1.7zM401.7 914.9h1.7v13.1h-1.7z"/>
<path fill="#060000" d="M330.4 797.2h1.7v13.6h-1.7zM294.2 810.2h1.7v13.6h-1.7zM335.3 823.3h1.7v13.6h-1.7zM394.4 823.3h1.7v13.6h-1.7zM338.9 849.5h1.7v13.6h-1.7zM366.6 888.8h1.7v13.6h-1.7zM435.5 888.8h1.7v13.6h-1.7zM450 914.9h1.7v13.1h-1.7z"/>
<path fill="#90060c" d="M337.7 797.2h1.7v13.6h-1.7zM297.8 875.7h1.7v13.6h-1.7zM284.5 888.8h1.7v13.6h-1.7z"/>
<path fill="#30a83c" d="M378.7 797.2h1.7v13.6h-1.7zM328 810.2h1.7v13.6h-1.7zM440.3 849.5h1.7v13.6h-1.7zM427 914.9h1.7v13.1h-1.7z"/>
<path fill="#003618" d="M389.6 797.2h1.7v13.6h-1.7zM412.5 862.6h1.7v13.6h-1.7zM314.7 914.9h1.7v13.1h-1.7zM354.6 914.9h1.7v13.1h-1.7z"/>
<path fill="#000c06" d="M419.8 797.2h1.7v13.6h-1.7zM342.5 875.7h1.7v13.6h-1.7z"/>
<path fill="#2a0000" d="M290.6 810.2h1.7v13.6h-1.7zM308.7 888.8h1.7v13.6h-1.7z"/>
<path fill="#001806" d="M302.7 810.2h1.7v13.6h-1.7zM352.2 823.3h1.7v13.6h-1.7zM309.9 849.5h1.7v13.6h-1.7zM331.6 849.5h1.7v13.6h-1.7zM441.5 862.6h1.7v13.6h-1.7zM411.3 875.7h1.7v13.6h-1.7zM305.1 901.8h1.7v13.6h-1.7zM336.5 914.9h1.7v13.1h-1.7z"/>
<path fill="#8a060c" d="M318.4 823.3h1.7v13.6h-1.7z"/>
<path fill="#129c3c" d="M396.8 823.3h1.7v13.6h-1.7zM451.2 888.8h1.7v13.6h-1.7z"/>
<path fill="#2aa23c" d="M296.6 836.4h1.7v13.6h-1.7zM322 901.8h1.7v13.6h-1.7z"/>
<path fill="#720c0c" d="M319.6 836.4h1.7v13.6h-1.7z"/>
<path fill="#6c0c0c" d="M376.3 849.5h1.7v13.6h-1.7z"/>
<path fill="#1e9c3c" d="M377.5 849.5h1.7v13.6h-1.7zM324.4 888.8h1.7v13.6h-1.7zM320.8 901.8h1.7v13.6h-1.7zM346.1 914.9h1.7v13.1h-1.7zM440.3 914.9h1.7v13.1h-1.7z"/>
<path fill="#180000" d="M435.5 849.5h1.7v13.6h-1.7z"/>
<path fill="#240000" d="M443.9 849.5h1.7v13.6h-1.7z"/>
<path fill="#96060c" d="M300.2 888.8h1.7v13.6h-1.7z"/>
<path fill="#7e0c0c" d="M348.5 901.8h1.7v13.6h-1.7z"/>
<path fill="#1e0000" d="M388.4 914.9h1.7v13.1h-1.7z"/>
<text transform="translate(458.2,768.55) scale(0.55,1)" font-size="5" fill="#222" stroke="#222" stroke-width="0.36" >type</text>
<text transform="translate(458.2,779.34) scale(0.52,1)" font-size="5" fill="#222" stroke="#222" stroke-width="0.38" >PLA2G2D</text>
<text transform="translate(458.2,792.42) scale(0.52,1)" font-size="5" fill="#222" stroke="#222" stroke-width="0.38" >TREM1</text>
<text transform="translate(458.2,805.51) scale(0.52,1)" font-size="5" fill="#222" stroke="#222" stroke-width="0.38" >ARV1</text>
<text transform="translate(458.2,818.59) scale(0.52,1)" font-size="5" fill="#222" stroke="#222" stroke-width="0.38" >C2</text>
<text transform="translate(458.2,831.67) scale(0.52,1)" font-size="5" fill="#222" stroke="#222" stroke-width="0.38" >PNPLA5</text>
<text transform="translate(458.2,844.76) scale(0.52,1)" font-size="5" fill="#222" stroke="#222" stroke-width="0.38" >RB1</text>
<text transform="translate(458.2,857.84) scale(0.52,1)" font-size="5" fill="#222" stroke="#222" stroke-width="0.38" >SLC22A2</text>
<text transform="translate(458.2,870.92) scale(0.52,1)" font-size="5" fill="#222" stroke="#222" stroke-width="0.38" >ANGPTL4</text>
<text transform="translate(458.2,884.01) scale(0.52,1)" font-size="5" fill="#222" stroke="#222" stroke-width="0.38" >PIK3C3</text>
<text transform="translate(458.2,897.09) scale(0.52,1)" font-size="5" fill="#222" stroke="#222" stroke-width="0.38" >ME1</text>
<text transform="translate(458.2,910.17) scale(0.52,1)" font-size="5" fill="#222" stroke="#222" stroke-width="0.38" >PLA2R1</text>
<text transform="translate(458.2,923.26) scale(0.52,1)" font-size="5" fill="#222" stroke="#222" stroke-width="0.38" >ADH1C</text>
<defs><linearGradient id="cb22" x1="0" y1="0" x2="0" y2="1"><stop offset="0" stop-color="#f00a19"/><stop offset="0.18" stop-color="#8a0a0a"/><stop offset="0.46" stop-color="#000"/><stop offset="0.72" stop-color="#126030"/><stop offset="0.87" stop-color="#2aa040"/><stop offset="1" stop-color="#6cc040"/></linearGradient></defs>
<rect x="472" y="765" width="2.6" height="70.6" fill="url(#cb22)" stroke="none" stroke-width="1" />
<text transform="translate(475,768.6) scale(0.7,1)" font-size="3.6" fill="#555" stroke="#555" stroke-width="0.21" >8</text>
<text transform="translate(475,780.1) scale(0.7,1)" font-size="3.6" fill="#555" stroke="#555" stroke-width="0.21" >6</text>
<text transform="translate(475,791.6) scale(0.7,1)" font-size="3.6" fill="#555" stroke="#555" stroke-width="0.21" >4</text>
<text transform="translate(475,803.1) scale(0.7,1)" font-size="3.6" fill="#555" stroke="#555" stroke-width="0.21" >2</text>
<text transform="translate(475,814.6) scale(0.7,1)" font-size="3.6" fill="#555" stroke="#555" stroke-width="0.21" >0</text>
<text transform="translate(475,826.1) scale(0.7,1)" font-size="3.6" fill="#555" stroke="#555" stroke-width="0.21" >-1</text>
<text transform="translate(478.9,768.3) scale(0.6,1)" font-size="4.4" font-weight="bold" fill="#222" stroke="#222" stroke-width="0.29" >type</text>
<rect x="478.9" y="770.5" width="3.6" height="6.4" fill="#1fa9bf" stroke="none" stroke-width="1" />
<rect x="478.9" y="777" width="3.6" height="6" fill="#e58a84" stroke="none" stroke-width="1" />
<text transform="translate(483.3,775.3) scale(0.5,1)" font-size="4.2" fill="#333" stroke="#333" stroke-width="0.34" >high</text>
<text transform="translate(483.3,781.5) scale(0.55,1)" font-size="4.2" fill="#333" stroke="#333" stroke-width="0.31" >low</text>
<rect x="526.2" y="762.8" width="91.5" height="4.8" fill="#e58a84" stroke="none" stroke-width="1" />
<rect x="617.7" y="762.8" width="85.9" height="4.8" fill="#1fa9bf" stroke="none" stroke-width="1" />
<path fill="#003012" d="M526.2 769.2h2.4v13.6h-2.4zM530 769.2h2.4v13.6h-2.4zM539.4 769.2h2.4v13.6h-2.4zM547 769.2h2.4v13.6h-2.4zM554.5 769.2h2.4v13.6h-2.4zM560.2 769.2h2.4v13.6h-2.4zM550.7 810.1h2.4v13.6h-2.4zM580.9 810.1h2.4v13.6h-2.4zM660.2 810.1h2.4v13.6h-2.4zM665.9 823.7h2.4v13.6h-2.4zM622.4 837.3h2.4v13.6h-2.4zM647 837.3h2.4v13.6h-2.4zM699.8 837.3h2.4v13.6h-2.4zM547 864.6h2.4v13.6h-2.4zM692.3 864.6h2.4v13.6h-2.4zM696.1 864.6h2.4v13.6h-2.4zM565.8 878.2h2.4v13.6h-2.4zM528.1 891.8h2.4v13.6h-2.4zM531.9 891.8h2.4v13.6h-2.4zM533.7 891.8h2.4v13.6h-2.4zM547 891.8h2.4v13.6h-2.4zM554.5 891.8h2.4v13.6h-2.4zM577.2 891.8h2.4v13.6h-2.4zM582.8 891.8h2.4v13.6h-2.4zM594.1 891.8h2.4v13.6h-2.4zM611.1 891.8h2.4v13.6h-2.4zM628.1 891.8h2.4v13.6h-2.4zM701.7 891.8h1.9v13.6h-1.9zM667.7 919.1h2.4v13.6h-2.4z"/>
<path fill="#004e1e" d="M528.1 769.2h2.4v13.6h-2.4zM533.7 769.2h2.4v13.6h-2.4zM543.2 769.2h2.4v13.6h-2.4zM633.8 769.2h2.4v13.6h-2.4zM639.4 769.2h2.4v13.6h-2.4zM658.3 769.2h2.4v13.6h-2.4zM690.4 769.2h2.4v13.6h-2.4zM624.3 782.8h2.4v13.6h-2.4zM631.9 782.8h2.4v13.6h-2.4zM662.1 782.8h2.4v13.6h-2.4zM675.3 782.8h2.4v13.6h-2.4zM701.7 782.8h1.9v13.6h-1.9zM552.6 796.5h2.4v13.6h-2.4zM562.1 796.5h2.4v13.6h-2.4zM565.8 796.5h2.4v13.6h-2.4zM582.8 796.5h2.4v13.6h-2.4zM594.1 796.5h2.4v13.6h-2.4zM613 796.5h2.4v13.6h-2.4zM616.8 796.5h2.4v13.6h-2.4zM652.6 796.5h2.4v13.6h-2.4zM664 796.5h2.4v13.6h-2.4zM671.5 796.5h2.4v13.6h-2.4zM694.2 796.5h2.4v13.6h-2.4zM579 810.1h2.4v13.6h-2.4zM597.9 810.1h2.4v13.6h-2.4zM630 810.1h2.4v13.6h-2.4zM654.5 810.1h2.4v13.6h-2.4zM592.3 823.7h2.4v13.6h-2.4zM652.6 823.7h2.4v13.6h-2.4zM699.8 823.7h2.4v13.6h-2.4zM526.2 837.3h2.4v13.6h-2.4zM541.3 837.3h2.4v13.6h-2.4zM565.8 837.3h2.4v13.6h-2.4zM577.2 837.3h2.4v13.6h-2.4zM582.8 837.3h2.4v13.6h-2.4zM586.6 837.3h2.4v13.6h-2.4zM609.2 837.3h2.4v13.6h-2.4zM633.8 837.3h2.4v13.6h-2.4zM654.5 837.3h2.4v13.6h-2.4zM656.4 837.3h2.4v13.6h-2.4zM665.9 837.3h2.4v13.6h-2.4zM611.1 851h2.4v13.6h-2.4zM635.7 851h2.4v13.6h-2.4zM671.5 851h2.4v13.6h-2.4zM690.4 851h2.4v13.6h-2.4zM692.3 851h2.4v13.6h-2.4zM697.9 851h2.4v13.6h-2.4zM599.8 864.6h2.4v13.6h-2.4zM609.2 864.6h2.4v13.6h-2.4zM656.4 864.6h2.4v13.6h-2.4zM671.5 864.6h2.4v13.6h-2.4zM677.2 864.6h2.4v13.6h-2.4zM556.4 878.2h2.4v13.6h-2.4zM562.1 878.2h2.4v13.6h-2.4zM563.9 878.2h2.4v13.6h-2.4zM584.7 878.2h2.4v13.6h-2.4zM614.9 878.2h2.4v13.6h-2.4zM688.5 878.2h2.4v13.6h-2.4zM614.9 891.8h2.4v13.6h-2.4zM660.2 891.8h2.4v13.6h-2.4zM681 891.8h2.4v13.6h-2.4zM596 905.5h2.4v13.6h-2.4zM611.1 905.5h2.4v13.6h-2.4zM637.5 905.5h2.4v13.6h-2.4zM662.1 905.5h2.4v13.6h-2.4zM692.3 905.5h2.4v13.6h-2.4zM541.3 919.1h2.4v13.6h-2.4zM613 919.1h2.4v13.6h-2.4zM626.2 919.1h2.4v13.6h-2.4zM637.5 919.1h2.4v13.6h-2.4zM643.2 919.1h2.4v13.6h-2.4zM645.1 919.1h2.4v13.6h-2.4zM648.9 919.1h2.4v13.6h-2.4zM658.3 919.1h2.4v13.6h-2.4zM669.6 919.1h2.4v13.6h-2.4zM675.3 919.1h2.4v13.6h-2.4zM677.2 919.1h2.4v13.6h-2.4z"/>
<path fill="#06662a" d="M531.9 769.2h2.4v13.6h-2.4zM613 769.2h2.4v13.6h-2.4zM626.2 769.2h2.4v13.6h-2.4zM635.7 769.2h2.4v13.6h-2.4zM641.3 769.2h2.4v13.6h-2.4zM664 769.2h2.4v13.6h-2.4zM665.9 769.2h2.4v13.6h-2.4zM694.2 769.2h2.4v13.6h-2.4zM528.1 782.8h2.4v13.6h-2.4zM535.6 782.8h2.4v13.6h-2.4zM563.9 782.8h2.4v13.6h-2.4zM579 782.8h2.4v13.6h-2.4zM601.7 782.8h2.4v13.6h-2.4zM609.2 782.8h2.4v13.6h-2.4zM607.4 796.5h2.4v13.6h-2.4zM647 796.5h2.4v13.6h-2.4zM656.4 796.5h2.4v13.6h-2.4zM662.1 796.5h2.4v13.6h-2.4zM669.6 796.5h2.4v13.6h-2.4zM673.4 796.5h2.4v13.6h-2.4zM681 796.5h2.4v13.6h-2.4zM682.8 796.5h2.4v13.6h-2.4zM588.5 810.1h2.4v13.6h-2.4zM594.1 810.1h2.4v13.6h-2.4zM692.3 810.1h2.4v13.6h-2.4zM531.9 823.7h2.4v13.6h-2.4zM571.5 823.7h2.4v13.6h-2.4zM613 823.7h2.4v13.6h-2.4zM628.1 823.7h2.4v13.6h-2.4zM641.3 823.7h2.4v13.6h-2.4zM528.1 837.3h2.4v13.6h-2.4zM603.6 837.3h2.4v13.6h-2.4zM637.5 837.3h2.4v13.6h-2.4zM528.1 851h2.4v13.6h-2.4zM599.8 851h2.4v13.6h-2.4zM648.9 851h2.4v13.6h-2.4zM650.8 851h2.4v13.6h-2.4zM528.1 864.6h2.4v13.6h-2.4zM573.4 864.6h2.4v13.6h-2.4zM579 864.6h2.4v13.6h-2.4zM605.5 864.6h2.4v13.6h-2.4zM662.1 864.6h2.4v13.6h-2.4zM682.8 864.6h2.4v13.6h-2.4zM539.4 878.2h2.4v13.6h-2.4zM594.1 878.2h2.4v13.6h-2.4zM618.7 878.2h2.4v13.6h-2.4zM628.1 878.2h2.4v13.6h-2.4zM631.9 878.2h2.4v13.6h-2.4zM671.5 878.2h2.4v13.6h-2.4zM686.6 878.2h2.4v13.6h-2.4zM690.4 878.2h2.4v13.6h-2.4zM697.9 878.2h2.4v13.6h-2.4zM592.3 891.8h2.4v13.6h-2.4zM635.7 891.8h2.4v13.6h-2.4zM662.1 891.8h2.4v13.6h-2.4zM684.7 891.8h2.4v13.6h-2.4zM548.8 905.5h2.4v13.6h-2.4zM554.5 905.5h2.4v13.6h-2.4zM579 905.5h2.4v13.6h-2.4zM643.2 905.5h2.4v13.6h-2.4zM652.6 905.5h2.4v13.6h-2.4zM664 905.5h2.4v13.6h-2.4zM673.4 905.5h2.4v13.6h-2.4zM686.6 905.5h2.4v13.6h-2.4zM526.2 919.1h2.4v13.6h-2.4zM580.9 919.1h2.4v13.6h-2.4zM597.9 919.1h2.4v13.6h-2.4zM671.5 919.1h2.4v13.6h-2.4z"/>
<path fill="#00662a" d="M535.6 769.2h2.4v13.6h-2.4zM541.3 769.2h2.4v13.6h-2.4zM567.7 769.2h2.4v13.6h-2.4zM684.7 769.2h2.4v13.6h-2.4zM526.2 782.8h2.4v13.6h-2.4zM560.2 782.8h2.4v13.6h-2.4zM582.8 782.8h2.4v13.6h-2.4zM584.7 782.8h2.4v13.6h-2.4zM635.7 782.8h2.4v13.6h-2.4zM639.4 782.8h2.4v13.6h-2.4zM645.1 782.8h2.4v13.6h-2.4zM654.5 782.8h2.4v13.6h-2.4zM671.5 782.8h2.4v13.6h-2.4zM531.9 796.5h2.4v13.6h-2.4zM592.3 796.5h2.4v13.6h-2.4zM622.4 796.5h2.4v13.6h-2.4zM628.1 796.5h2.4v13.6h-2.4zM654.5 796.5h2.4v13.6h-2.4zM548.8 810.1h2.4v13.6h-2.4zM563.9 810.1h2.4v13.6h-2.4zM620.6 810.1h2.4v13.6h-2.4zM628.1 810.1h2.4v13.6h-2.4zM645.1 810.1h2.4v13.6h-2.4zM658.3 810.1h2.4v13.6h-2.4zM537.5 823.7h2.4v13.6h-2.4zM556.4 823.7h2.4v13.6h-2.4zM590.4 823.7h2.4v13.6h-2.4zM639.4 823.7h2.4v13.6h-2.4zM647 823.7h2.4v13.6h-2.4zM654.5 823.7h2.4v13.6h-2.4zM690.4 823.7h2.4v13.6h-2.4zM571.5 837.3h2.4v13.6h-2.4zM594.1 837.3h2.4v13.6h-2.4zM652.6 837.3h2.4v13.6h-2.4zM684.7 837.3h2.4v13.6h-2.4zM539.4 851h2.4v13.6h-2.4zM582.8 851h2.4v13.6h-2.4zM592.3 851h2.4v13.6h-2.4zM601.7 851h2.4v13.6h-2.4zM652.6 851h2.4v13.6h-2.4zM675.3 851h2.4v13.6h-2.4zM679.1 851h2.4v13.6h-2.4zM684.7 851h2.4v13.6h-2.4zM554.5 864.6h2.4v13.6h-2.4zM560.2 864.6h2.4v13.6h-2.4zM562.1 864.6h2.4v13.6h-2.4zM569.6 864.6h2.4v13.6h-2.4zM575.3 864.6h2.4v13.6h-2.4zM596 864.6h2.4v13.6h-2.4zM607.4 864.6h2.4v13.6h-2.4zM637.5 864.6h2.4v13.6h-2.4zM645.1 864.6h2.4v13.6h-2.4zM660.2 864.6h2.4v13.6h-2.4zM664 864.6h2.4v13.6h-2.4zM699.8 864.6h2.4v13.6h-2.4zM537.5 878.2h2.4v13.6h-2.4zM548.8 878.2h2.4v13.6h-2.4zM550.7 878.2h2.4v13.6h-2.4zM558.3 878.2h2.4v13.6h-2.4zM586.6 878.2h2.4v13.6h-2.4zM601.7 878.2h2.4v13.6h-2.4zM613 878.2h2.4v13.6h-2.4zM652.6 878.2h2.4v13.6h-2.4zM669.6 878.2h2.4v13.6h-2.4zM618.7 891.8h2.4v13.6h-2.4zM620.6 891.8h2.4v13.6h-2.4zM622.4 891.8h2.4v13.6h-2.4zM675.3 891.8h2.4v13.6h-2.4zM547 905.5h2.4v13.6h-2.4zM565.8 905.5h2.4v13.6h-2.4zM582.8 905.5h2.4v13.6h-2.4zM584.7 905.5h2.4v13.6h-2.4zM656.4 905.5h2.4v13.6h-2.4zM679.1 905.5h2.4v13.6h-2.4zM684.7 905.5h2.4v13.6h-2.4zM696.1 905.5h2.4v13.6h-2.4zM575.3 919.1h2.4v13.6h-2.4zM611.1 919.1h2.4v13.6h-2.4zM622.4 919.1h2.4v13.6h-2.4zM647 919.1h2.4v13.6h-2.4zM650.8 919.1h2.4v13.6h-2.4zM656.4 919.1h2.4v13.6h-2.4zM694.2 919.1h2.4v13.6h-2.4z"/>
<path fill="#00481e" d="M537.5 769.2h2.4v13.6h-2.4zM550.7 769.2h2.4v13.6h-2.4zM552.6 769.2h2.4v13.6h-2.4zM556.4 769.2h2.4v13.6h-2.4zM558.3 769.2h2.4v13.6h-2.4zM569.6 769.2h2.4v13.6h-2.4zM637.5 782.8h2.4v13.6h-2.4zM650.8 782.8h2.4v13.6h-2.4zM664 782.8h2.4v13.6h-2.4zM688.5 782.8h2.4v13.6h-2.4zM528.1 796.5h2.4v13.6h-2.4zM548.8 796.5h2.4v13.6h-2.4zM556.4 796.5h2.4v13.6h-2.4zM575.3 796.5h2.4v13.6h-2.4zM579 796.5h2.4v13.6h-2.4zM580.9 796.5h2.4v13.6h-2.4zM590.4 796.5h2.4v13.6h-2.4zM611.1 796.5h2.4v13.6h-2.4zM626.2 796.5h2.4v13.6h-2.4zM658.3 796.5h2.4v13.6h-2.4zM690.4 796.5h2.4v13.6h-2.4zM535.6 810.1h2.4v13.6h-2.4zM539.4 810.1h2.4v13.6h-2.4zM558.3 810.1h2.4v13.6h-2.4zM569.6 810.1h2.4v13.6h-2.4zM586.6 810.1h2.4v13.6h-2.4zM599.8 810.1h2.4v13.6h-2.4zM616.8 810.1h2.4v13.6h-2.4zM639.4 810.1h2.4v13.6h-2.4zM656.4 810.1h2.4v13.6h-2.4zM614.9 823.7h2.4v13.6h-2.4zM637.5 823.7h2.4v13.6h-2.4zM686.6 823.7h2.4v13.6h-2.4zM599.8 837.3h2.4v13.6h-2.4zM650.8 837.3h2.4v13.6h-2.4zM675.3 837.3h2.4v13.6h-2.4zM681 837.3h2.4v13.6h-2.4zM690.4 837.3h2.4v13.6h-2.4zM609.2 851h2.4v13.6h-2.4zM618.7 864.6h2.4v13.6h-2.4zM701.7 864.6h1.9v13.6h-1.9zM571.5 878.2h2.4v13.6h-2.4zM643.2 878.2h2.4v13.6h-2.4zM677.2 878.2h2.4v13.6h-2.4zM543.2 891.8h2.4v13.6h-2.4zM545.1 891.8h2.4v13.6h-2.4zM550.7 891.8h2.4v13.6h-2.4zM556.4 891.8h2.4v13.6h-2.4zM562.1 891.8h2.4v13.6h-2.4zM596 891.8h2.4v13.6h-2.4zM626.2 891.8h2.4v13.6h-2.4zM630 891.8h2.4v13.6h-2.4zM637.5 891.8h2.4v13.6h-2.4zM647 891.8h2.4v13.6h-2.4zM667.7 891.8h2.4v13.6h-2.4zM682.8 891.8h2.4v13.6h-2.4zM694.2 891.8h2.4v13.6h-2.4zM541.3 905.5h2.4v13.6h-2.4zM609.2 905.5h2.4v13.6h-2.4zM641.3 905.5h2.4v13.6h-2.4zM681 905.5h2.4v13.6h-2.4zM616.8 919.1h2.4v13.6h-2.4zM620.6 919.1h2.4v13.6h-2.4zM628.1 919.1h2.4v13.6h-2.4zM631.9 919.1h2.4v13.6h-2.4zM633.8 919.1h2.4v13.6h-2.4zM635.7 919.1h2.4v13.6h-2.4zM641.3 919.1h2.4v13.6h-2.4zM652.6 919.1h2.4v13.6h-2.4zM660.2 919.1h2.4v13.6h-2.4zM664 919.1h2.4v13.6h-2.4z"/>
<path fill="#00541e" d="M545.1 769.2h2.4v13.6h-2.4zM637.5 769.2h2.4v13.6h-2.4zM626.2 782.8h2.4v13.6h-2.4zM699.8 782.8h2.4v13.6h-2.4zM539.4 796.5h2.4v13.6h-2.4zM605.5 810.1h2.4v13.6h-2.4zM580.9 837.3h2.4v13.6h-2.4zM628.1 837.3h2.4v13.6h-2.4zM686.6 837.3h2.4v13.6h-2.4zM696.1 837.3h2.4v13.6h-2.4zM643.2 864.6h2.4v13.6h-2.4zM650.8 864.6h2.4v13.6h-2.4zM575.3 878.2h2.4v13.6h-2.4zM605.5 878.2h2.4v13.6h-2.4zM662.1 878.2h2.4v13.6h-2.4zM599.8 891.8h2.4v13.6h-2.4zM601.7 891.8h2.4v13.6h-2.4zM648.9 891.8h2.4v13.6h-2.4zM620.6 905.5h2.4v13.6h-2.4zM697.9 905.5h2.4v13.6h-2.4zM699.8 919.1h2.4v13.6h-2.4zM701.7 919.1h1.9v13.6h-1.9z"/>
<path fill="#004218" d="M548.8 769.2h2.4v13.6h-2.4zM563.9 769.2h2.4v13.6h-2.4zM592.3 769.2h2.4v13.6h-2.4zM594.1 769.2h2.4v13.6h-2.4zM597.9 769.2h2.4v13.6h-2.4zM599.8 769.2h2.4v13.6h-2.4zM647 782.8h2.4v13.6h-2.4zM535.6 796.5h2.4v13.6h-2.4zM586.6 796.5h2.4v13.6h-2.4zM624.3 796.5h2.4v13.6h-2.4zM643.2 796.5h2.4v13.6h-2.4zM697.9 796.5h2.4v13.6h-2.4zM565.8 810.1h2.4v13.6h-2.4zM567.7 810.1h2.4v13.6h-2.4zM575.3 810.1h2.4v13.6h-2.4zM582.8 810.1h2.4v13.6h-2.4zM592.3 810.1h2.4v13.6h-2.4zM626.2 810.1h2.4v13.6h-2.4zM696.1 810.1h2.4v13.6h-2.4zM624.3 823.7h2.4v13.6h-2.4zM648.9 823.7h2.4v13.6h-2.4zM611.1 837.3h2.4v13.6h-2.4zM631.9 837.3h2.4v13.6h-2.4zM679.1 837.3h2.4v13.6h-2.4zM603.6 851h2.4v13.6h-2.4zM690.4 864.6h2.4v13.6h-2.4zM541.3 878.2h2.4v13.6h-2.4zM530 891.8h2.4v13.6h-2.4zM567.7 891.8h2.4v13.6h-2.4zM590.4 891.8h2.4v13.6h-2.4zM597.9 891.8h2.4v13.6h-2.4zM575.3 905.5h2.4v13.6h-2.4zM601.7 905.5h2.4v13.6h-2.4zM650.8 905.5h2.4v13.6h-2.4zM560.2 919.1h2.4v13.6h-2.4zM682.8 919.1h2.4v13.6h-2.4zM688.5 919.1h2.4v13.6h-2.4zM692.3 919.1h2.4v13.6h-2.4z"/>
<path fill="#002a12" d="M562.1 769.2h2.4v13.6h-2.4zM603.6 769.2h2.4v13.6h-2.4zM537.5 796.5h2.4v13.6h-2.4zM547 796.5h2.4v13.6h-2.4zM554.5 796.5h2.4v13.6h-2.4zM605.5 796.5h2.4v13.6h-2.4zM618.7 796.5h2.4v13.6h-2.4zM560.2 810.1h2.4v13.6h-2.4zM562.1 810.1h2.4v13.6h-2.4zM669.6 837.3h2.4v13.6h-2.4zM607.4 878.2h2.4v13.6h-2.4zM620.6 878.2h2.4v13.6h-2.4zM569.6 891.8h2.4v13.6h-2.4zM652.6 891.8h2.4v13.6h-2.4zM579 919.1h2.4v13.6h-2.4z"/>
<path fill="#30a83c" d="M565.8 769.2h2.4v13.6h-2.4zM599.8 905.5h2.4v13.6h-2.4z"/>
<path fill="#005a24" d="M571.5 769.2h2.4v13.6h-2.4zM579 769.2h2.4v13.6h-2.4zM580.9 769.2h2.4v13.6h-2.4zM607.4 769.2h2.4v13.6h-2.4zM609.2 769.2h2.4v13.6h-2.4zM616.8 769.2h2.4v13.6h-2.4zM624.3 769.2h2.4v13.6h-2.4zM643.2 769.2h2.4v13.6h-2.4zM654.5 769.2h2.4v13.6h-2.4zM660.2 769.2h2.4v13.6h-2.4zM533.7 782.8h2.4v13.6h-2.4zM556.4 782.8h2.4v13.6h-2.4zM658.3 782.8h2.4v13.6h-2.4zM673.4 782.8h2.4v13.6h-2.4zM677.2 782.8h2.4v13.6h-2.4zM682.8 782.8h2.4v13.6h-2.4zM684.7 782.8h2.4v13.6h-2.4zM686.6 782.8h2.4v13.6h-2.4zM563.9 796.5h2.4v13.6h-2.4zM584.7 796.5h2.4v13.6h-2.4zM588.5 796.5h2.4v13.6h-2.4zM637.5 796.5h2.4v13.6h-2.4zM641.3 796.5h2.4v13.6h-2.4zM530 810.1h2.4v13.6h-2.4zM537.5 810.1h2.4v13.6h-2.4zM573.4 810.1h2.4v13.6h-2.4zM590.4 810.1h2.4v13.6h-2.4zM618.7 810.1h2.4v13.6h-2.4zM624.3 810.1h2.4v13.6h-2.4zM641.3 810.1h2.4v13.6h-2.4zM648.9 810.1h2.4v13.6h-2.4zM665.9 810.1h2.4v13.6h-2.4zM669.6 810.1h2.4v13.6h-2.4zM682.8 810.1h2.4v13.6h-2.4zM694.2 810.1h2.4v13.6h-2.4zM630 823.7h2.4v13.6h-2.4zM645.1 823.7h2.4v13.6h-2.4zM664 823.7h2.4v13.6h-2.4zM673.4 823.7h2.4v13.6h-2.4zM530 837.3h2.4v13.6h-2.4zM531.9 837.3h2.4v13.6h-2.4zM535.6 837.3h2.4v13.6h-2.4zM552.6 837.3h2.4v13.6h-2.4zM607.4 837.3h2.4v13.6h-2.4zM613 837.3h2.4v13.6h-2.4zM620.6 837.3h2.4v13.6h-2.4zM624.3 837.3h2.4v13.6h-2.4zM626.2 837.3h2.4v13.6h-2.4zM648.9 837.3h2.4v13.6h-2.4zM660.2 837.3h2.4v13.6h-2.4zM556.4 851h2.4v13.6h-2.4zM562.1 851h2.4v13.6h-2.4zM626.2 851h2.4v13.6h-2.4zM643.2 851h2.4v13.6h-2.4zM647 851h2.4v13.6h-2.4zM656.4 851h2.4v13.6h-2.4zM658.3 851h2.4v13.6h-2.4zM669.6 851h2.4v13.6h-2.4zM673.4 851h2.4v13.6h-2.4zM531.9 864.6h2.4v13.6h-2.4zM586.6 864.6h2.4v13.6h-2.4zM603.6 864.6h2.4v13.6h-2.4zM633.8 864.6h2.4v13.6h-2.4zM652.6 864.6h2.4v13.6h-2.4zM654.5 864.6h2.4v13.6h-2.4zM675.3 864.6h2.4v13.6h-2.4zM679.1 864.6h2.4v13.6h-2.4zM684.7 864.6h2.4v13.6h-2.4zM686.6 864.6h2.4v13.6h-2.4zM545.1 878.2h2.4v13.6h-2.4zM603.6 878.2h2.4v13.6h-2.4zM616.8 878.2h2.4v13.6h-2.4zM565.8 891.8h2.4v13.6h-2.4zM607.4 891.8h2.4v13.6h-2.4zM616.8 891.8h2.4v13.6h-2.4zM639.4 891.8h2.4v13.6h-2.4zM656.4 891.8h2.4v13.6h-2.4zM665.9 891.8h2.4v13.6h-2.4zM673.4 891.8h2.4v13.6h-2.4zM690.4 891.8h2.4v13.6h-2.4zM697.9 891.8h2.4v13.6h-2.4zM573.4 905.5h2.4v13.6h-2.4zM577.2 905.5h2.4v13.6h-2.4zM592.3 905.5h2.4v13.6h-2.4zM605.5 905.5h2.4v13.6h-2.4zM607.4 905.5h2.4v13.6h-2.4zM616.8 905.5h2.4v13.6h-2.4zM658.3 905.5h2.4v13.6h-2.4zM699.8 905.5h2.4v13.6h-2.4zM701.7 905.5h1.9v13.6h-1.9zM537.5 919.1h2.4v13.6h-2.4zM545.1 919.1h2.4v13.6h-2.4zM601.7 919.1h2.4v13.6h-2.4zM603.6 919.1h2.4v13.6h-2.4zM609.2 919.1h2.4v13.6h-2.4zM624.3 919.1h2.4v13.6h-2.4zM681 919.1h2.4v13.6h-2.4zM686.6 919.1h2.4v13.6h-2.4zM690.4 919.1h2.4v13.6h-2.4z"/>
<path fill="#24a23c" d="M573.4 769.2h2.4v13.6h-2.4zM631.9 769.2h2.4v13.6h-2.4z"/>
<path fill="#003c18" d="M575.3 769.2h2.4v13.6h-2.4zM588.5 769.2h2.4v13.6h-2.4zM618.7 782.8h2.4v13.6h-2.4zM533.7 796.5h2.4v13.6h-2.4zM543.2 796.5h2.4v13.6h-2.4zM545.1 796.5h2.4v13.6h-2.4zM560.2 796.5h2.4v13.6h-2.4zM596 796.5h2.4v13.6h-2.4zM599.8 796.5h2.4v13.6h-2.4zM620.6 796.5h2.4v13.6h-2.4zM665.9 796.5h2.4v13.6h-2.4zM543.2 810.1h2.4v13.6h-2.4zM552.6 810.1h2.4v13.6h-2.4zM554.5 810.1h2.4v13.6h-2.4zM599.8 823.7h2.4v13.6h-2.4zM558.3 837.3h2.4v13.6h-2.4zM635.7 837.3h2.4v13.6h-2.4zM658.3 837.3h2.4v13.6h-2.4zM664 837.3h2.4v13.6h-2.4zM682.8 837.3h2.4v13.6h-2.4zM688.5 837.3h2.4v13.6h-2.4zM584.7 851h2.4v13.6h-2.4zM694.2 864.6h2.4v13.6h-2.4zM531.9 878.2h2.4v13.6h-2.4zM599.8 878.2h2.4v13.6h-2.4zM558.3 891.8h2.4v13.6h-2.4zM571.5 891.8h2.4v13.6h-2.4zM575.3 891.8h2.4v13.6h-2.4zM588.5 891.8h2.4v13.6h-2.4zM631.9 891.8h2.4v13.6h-2.4zM669.6 891.8h2.4v13.6h-2.4zM533.7 905.5h2.4v13.6h-2.4zM622.4 905.5h2.4v13.6h-2.4zM628.1 905.5h2.4v13.6h-2.4zM654.5 905.5h2.4v13.6h-2.4zM660.2 905.5h2.4v13.6h-2.4zM682.8 905.5h2.4v13.6h-2.4zM665.9 919.1h2.4v13.6h-2.4z"/>
<path fill="#006024" d="M577.2 769.2h2.4v13.6h-2.4zM582.8 769.2h2.4v13.6h-2.4zM618.7 769.2h2.4v13.6h-2.4zM682.8 769.2h2.4v13.6h-2.4zM548.8 782.8h2.4v13.6h-2.4zM554.5 782.8h2.4v13.6h-2.4zM588.5 782.8h2.4v13.6h-2.4zM692.3 782.8h2.4v13.6h-2.4zM694.2 782.8h2.4v13.6h-2.4zM614.9 796.5h2.4v13.6h-2.4zM639.4 796.5h2.4v13.6h-2.4zM699.8 796.5h2.4v13.6h-2.4zM571.5 810.1h2.4v13.6h-2.4zM607.4 810.1h2.4v13.6h-2.4zM611.1 810.1h2.4v13.6h-2.4zM614.9 810.1h2.4v13.6h-2.4zM637.5 810.1h2.4v13.6h-2.4zM677.2 810.1h2.4v13.6h-2.4zM686.6 810.1h2.4v13.6h-2.4zM688.5 810.1h2.4v13.6h-2.4zM560.2 823.7h2.4v13.6h-2.4zM601.7 823.7h2.4v13.6h-2.4zM677.2 823.7h2.4v13.6h-2.4zM539.4 837.3h2.4v13.6h-2.4zM567.7 837.3h2.4v13.6h-2.4zM569.6 837.3h2.4v13.6h-2.4zM575.3 837.3h2.4v13.6h-2.4zM605.5 837.3h2.4v13.6h-2.4zM639.4 837.3h2.4v13.6h-2.4zM662.1 837.3h2.4v13.6h-2.4zM530 851h2.4v13.6h-2.4zM543.2 851h2.4v13.6h-2.4zM573.4 851h2.4v13.6h-2.4zM596 851h2.4v13.6h-2.4zM637.5 851h2.4v13.6h-2.4zM682.8 851h2.4v13.6h-2.4zM548.8 864.6h2.4v13.6h-2.4zM567.7 864.6h2.4v13.6h-2.4zM588.5 864.6h2.4v13.6h-2.4zM613 864.6h2.4v13.6h-2.4zM626.2 864.6h2.4v13.6h-2.4zM681 864.6h2.4v13.6h-2.4zM688.5 864.6h2.4v13.6h-2.4zM526.2 878.2h2.4v13.6h-2.4zM535.6 878.2h2.4v13.6h-2.4zM543.2 878.2h2.4v13.6h-2.4zM552.6 878.2h2.4v13.6h-2.4zM579 878.2h2.4v13.6h-2.4zM582.8 878.2h2.4v13.6h-2.4zM588.5 878.2h2.4v13.6h-2.4zM622.4 878.2h2.4v13.6h-2.4zM647 878.2h2.4v13.6h-2.4zM579 891.8h2.4v13.6h-2.4zM586.6 891.8h2.4v13.6h-2.4zM605.5 891.8h2.4v13.6h-2.4zM643.2 891.8h2.4v13.6h-2.4zM650.8 891.8h2.4v13.6h-2.4zM658.3 891.8h2.4v13.6h-2.4zM677.2 891.8h2.4v13.6h-2.4zM686.6 891.8h2.4v13.6h-2.4zM692.3 891.8h2.4v13.6h-2.4zM543.2 905.5h2.4v13.6h-2.4zM550.7 905.5h2.4v13.6h-2.4zM567.7 905.5h2.4v13.6h-2.4zM586.6 905.5h2.4v13.6h-2.4zM603.6 905.5h2.4v13.6h-2.4zM614.9 905.5h2.4v13.6h-2.4zM618.7 905.5h2.4v13.6h-2.4zM624.3 905.5h2.4v13.6h-2.4zM677.2 905.5h2.4v13.6h-2.4zM535.6 919.1h2.4v13.6h-2.4zM558.3 919.1h2.4v13.6h-2.4zM573.4 919.1h2.4v13.6h-2.4zM605.5 919.1h2.4v13.6h-2.4zM673.4 919.1h2.4v13.6h-2.4z"/>
<path fill="#001e0c" d="M584.7 769.2h2.4v13.6h-2.4zM692.3 769.2h2.4v13.6h-2.4zM530 796.5h2.4v13.6h-2.4zM541.3 796.5h2.4v13.6h-2.4zM677.2 796.5h2.4v13.6h-2.4zM701.7 796.5h1.9v13.6h-1.9zM547 837.3h2.4v13.6h-2.4zM562.1 837.3h2.4v13.6h-2.4zM616.8 837.3h2.4v13.6h-2.4zM639.4 878.2h2.4v13.6h-2.4zM654.5 919.1h2.4v13.6h-2.4z"/>
<path fill="#066c2a" d="M586.6 769.2h2.4v13.6h-2.4zM662.1 769.2h2.4v13.6h-2.4zM667.7 769.2h2.4v13.6h-2.4zM679.1 769.2h2.4v13.6h-2.4zM696.1 769.2h2.4v13.6h-2.4zM697.9 769.2h2.4v13.6h-2.4zM531.9 782.8h2.4v13.6h-2.4zM537.5 782.8h2.4v13.6h-2.4zM545.1 782.8h2.4v13.6h-2.4zM573.4 782.8h2.4v13.6h-2.4zM603.6 782.8h2.4v13.6h-2.4zM616.8 782.8h2.4v13.6h-2.4zM648.9 782.8h2.4v13.6h-2.4zM650.8 796.5h2.4v13.6h-2.4zM660.2 796.5h2.4v13.6h-2.4zM584.7 810.1h2.4v13.6h-2.4zM601.7 810.1h2.4v13.6h-2.4zM667.7 810.1h2.4v13.6h-2.4zM690.4 810.1h2.4v13.6h-2.4zM528.1 823.7h2.4v13.6h-2.4zM565.8 823.7h2.4v13.6h-2.4zM573.4 823.7h2.4v13.6h-2.4zM584.7 823.7h2.4v13.6h-2.4zM603.6 823.7h2.4v13.6h-2.4zM609.2 823.7h2.4v13.6h-2.4zM620.6 823.7h2.4v13.6h-2.4zM633.8 823.7h2.4v13.6h-2.4zM635.7 823.7h2.4v13.6h-2.4zM643.2 823.7h2.4v13.6h-2.4zM660.2 823.7h2.4v13.6h-2.4zM667.7 823.7h2.4v13.6h-2.4zM669.6 823.7h2.4v13.6h-2.4zM679.1 823.7h2.4v13.6h-2.4zM694.2 823.7h2.4v13.6h-2.4zM696.1 823.7h2.4v13.6h-2.4zM554.5 837.3h2.4v13.6h-2.4zM556.4 837.3h2.4v13.6h-2.4zM560.2 837.3h2.4v13.6h-2.4zM563.9 837.3h2.4v13.6h-2.4zM588.5 837.3h2.4v13.6h-2.4zM671.5 837.3h2.4v13.6h-2.4zM537.5 851h2.4v13.6h-2.4zM545.1 851h2.4v13.6h-2.4zM548.8 851h2.4v13.6h-2.4zM552.6 851h2.4v13.6h-2.4zM575.3 851h2.4v13.6h-2.4zM620.6 851h2.4v13.6h-2.4zM622.4 851h2.4v13.6h-2.4zM630 851h2.4v13.6h-2.4zM631.9 851h2.4v13.6h-2.4zM633.8 851h2.4v13.6h-2.4zM641.3 851h2.4v13.6h-2.4zM694.2 851h2.4v13.6h-2.4zM552.6 864.6h2.4v13.6h-2.4zM584.7 864.6h2.4v13.6h-2.4zM592.3 864.6h2.4v13.6h-2.4zM614.9 864.6h2.4v13.6h-2.4zM620.6 864.6h2.4v13.6h-2.4zM624.3 864.6h2.4v13.6h-2.4zM665.9 864.6h2.4v13.6h-2.4zM577.2 878.2h2.4v13.6h-2.4zM590.4 878.2h2.4v13.6h-2.4zM596 878.2h2.4v13.6h-2.4zM611.1 878.2h2.4v13.6h-2.4zM624.3 878.2h2.4v13.6h-2.4zM630 878.2h2.4v13.6h-2.4zM656.4 878.2h2.4v13.6h-2.4zM660.2 878.2h2.4v13.6h-2.4zM667.7 878.2h2.4v13.6h-2.4zM681 878.2h2.4v13.6h-2.4zM692.3 878.2h2.4v13.6h-2.4zM584.7 891.8h2.4v13.6h-2.4zM654.5 891.8h2.4v13.6h-2.4zM679.1 891.8h2.4v13.6h-2.4zM696.1 891.8h2.4v13.6h-2.4zM531.9 905.5h2.4v13.6h-2.4zM535.6 905.5h2.4v13.6h-2.4zM537.5 905.5h2.4v13.6h-2.4zM545.1 905.5h2.4v13.6h-2.4zM552.6 905.5h2.4v13.6h-2.4zM556.4 905.5h2.4v13.6h-2.4zM560.2 905.5h2.4v13.6h-2.4zM569.6 905.5h2.4v13.6h-2.4zM588.5 905.5h2.4v13.6h-2.4zM613 905.5h2.4v13.6h-2.4zM626.2 905.5h2.4v13.6h-2.4zM645.1 905.5h2.4v13.6h-2.4zM694.2 905.5h2.4v13.6h-2.4zM528.1 919.1h2.4v13.6h-2.4zM530 919.1h2.4v13.6h-2.4zM539.4 919.1h2.4v13.6h-2.4zM548.8 919.1h2.4v13.6h-2.4zM550.7 919.1h2.4v13.6h-2.4zM567.7 919.1h2.4v13.6h-2.4zM584.7 919.1h2.4v13.6h-2.4zM618.7 919.1h2.4v13.6h-2.4zM679.1 919.1h2.4v13.6h-2.4z"/>
<path fill="#4eb43c" d="M590.4 769.2h2.4v13.6h-2.4zM696.1 782.8h2.4v13.6h-2.4zM697.9 782.8h2.4v13.6h-2.4zM577.2 796.5h2.4v13.6h-2.4zM596 810.1h2.4v13.6h-2.4zM565.8 851h2.4v13.6h-2.4zM648.9 878.2h2.4v13.6h-2.4z"/>
<path fill="#00602a" d="M596 769.2h2.4v13.6h-2.4zM648.9 769.2h2.4v13.6h-2.4zM550.7 782.8h2.4v13.6h-2.4zM590.4 782.8h2.4v13.6h-2.4zM628.1 782.8h2.4v13.6h-2.4zM643.2 782.8h2.4v13.6h-2.4zM656.4 782.8h2.4v13.6h-2.4zM679.1 796.5h2.4v13.6h-2.4zM533.7 810.1h2.4v13.6h-2.4zM633.8 810.1h2.4v13.6h-2.4zM635.7 810.1h2.4v13.6h-2.4zM643.2 810.1h2.4v13.6h-2.4zM647 810.1h2.4v13.6h-2.4zM650.8 810.1h2.4v13.6h-2.4zM662.1 810.1h2.4v13.6h-2.4zM697.9 810.1h2.4v13.6h-2.4zM699.8 810.1h2.4v13.6h-2.4zM541.3 823.7h2.4v13.6h-2.4zM586.6 823.7h2.4v13.6h-2.4zM656.4 823.7h2.4v13.6h-2.4zM550.7 851h2.4v13.6h-2.4zM588.5 851h2.4v13.6h-2.4zM607.4 851h2.4v13.6h-2.4zM654.5 851h2.4v13.6h-2.4zM664 851h2.4v13.6h-2.4zM665.9 851h2.4v13.6h-2.4zM667.7 851h2.4v13.6h-2.4zM543.2 864.6h2.4v13.6h-2.4zM545.1 864.6h2.4v13.6h-2.4zM550.7 864.6h2.4v13.6h-2.4zM622.4 864.6h2.4v13.6h-2.4zM630 864.6h2.4v13.6h-2.4zM697.9 864.6h2.4v13.6h-2.4zM547 878.2h2.4v13.6h-2.4zM592.3 878.2h2.4v13.6h-2.4zM633.8 878.2h2.4v13.6h-2.4zM665.9 878.2h2.4v13.6h-2.4zM682.8 878.2h2.4v13.6h-2.4zM535.6 891.8h2.4v13.6h-2.4zM603.6 891.8h2.4v13.6h-2.4zM664 891.8h2.4v13.6h-2.4zM688.5 891.8h2.4v13.6h-2.4zM528.1 905.5h2.4v13.6h-2.4zM539.4 905.5h2.4v13.6h-2.4zM558.3 905.5h2.4v13.6h-2.4zM563.9 905.5h2.4v13.6h-2.4zM531.9 919.1h2.4v13.6h-2.4zM556.4 919.1h2.4v13.6h-2.4zM596 919.1h2.4v13.6h-2.4zM599.8 919.1h2.4v13.6h-2.4zM630 919.1h2.4v13.6h-2.4z"/>
<path fill="#005424" d="M601.7 769.2h2.4v13.6h-2.4zM605.5 769.2h2.4v13.6h-2.4zM620.6 769.2h2.4v13.6h-2.4zM622.4 769.2h2.4v13.6h-2.4zM628.1 769.2h2.4v13.6h-2.4zM675.3 769.2h2.4v13.6h-2.4zM586.6 782.8h2.4v13.6h-2.4zM594.1 782.8h2.4v13.6h-2.4zM596 782.8h2.4v13.6h-2.4zM620.6 782.8h2.4v13.6h-2.4zM622.4 782.8h2.4v13.6h-2.4zM665.9 782.8h2.4v13.6h-2.4zM679.1 782.8h2.4v13.6h-2.4zM681 782.8h2.4v13.6h-2.4zM690.4 782.8h2.4v13.6h-2.4zM567.7 796.5h2.4v13.6h-2.4zM569.6 796.5h2.4v13.6h-2.4zM631.9 796.5h2.4v13.6h-2.4zM645.1 796.5h2.4v13.6h-2.4zM667.7 796.5h2.4v13.6h-2.4zM675.3 796.5h2.4v13.6h-2.4zM696.1 796.5h2.4v13.6h-2.4zM545.1 810.1h2.4v13.6h-2.4zM577.2 810.1h2.4v13.6h-2.4zM609.2 810.1h2.4v13.6h-2.4zM673.4 810.1h2.4v13.6h-2.4zM575.3 823.7h2.4v13.6h-2.4zM582.8 823.7h2.4v13.6h-2.4zM596 823.7h2.4v13.6h-2.4zM618.7 823.7h2.4v13.6h-2.4zM681 823.7h2.4v13.6h-2.4zM697.9 823.7h2.4v13.6h-2.4zM701.7 823.7h1.9v13.6h-1.9zM533.7 837.3h2.4v13.6h-2.4zM545.1 837.3h2.4v13.6h-2.4zM573.4 837.3h2.4v13.6h-2.4zM579 837.3h2.4v13.6h-2.4zM614.9 837.3h2.4v13.6h-2.4zM641.3 837.3h2.4v13.6h-2.4zM645.1 837.3h2.4v13.6h-2.4zM688.5 851h2.4v13.6h-2.4zM611.1 864.6h2.4v13.6h-2.4zM635.7 864.6h2.4v13.6h-2.4zM639.4 864.6h2.4v13.6h-2.4zM641.3 864.6h2.4v13.6h-2.4zM669.6 864.6h2.4v13.6h-2.4zM530 878.2h2.4v13.6h-2.4zM554.5 878.2h2.4v13.6h-2.4zM569.6 878.2h2.4v13.6h-2.4zM580.9 878.2h2.4v13.6h-2.4zM597.9 878.2h2.4v13.6h-2.4zM626.2 878.2h2.4v13.6h-2.4zM560.2 891.8h2.4v13.6h-2.4zM633.8 891.8h2.4v13.6h-2.4zM645.1 891.8h2.4v13.6h-2.4zM526.2 905.5h2.4v13.6h-2.4zM590.4 905.5h2.4v13.6h-2.4zM597.9 905.5h2.4v13.6h-2.4zM669.6 905.5h2.4v13.6h-2.4zM671.5 905.5h2.4v13.6h-2.4zM588.5 919.1h2.4v13.6h-2.4zM592.3 919.1h2.4v13.6h-2.4zM614.9 919.1h2.4v13.6h-2.4zM684.7 919.1h2.4v13.6h-2.4z"/>
<path fill="#2aa83c" d="M611.1 769.2h2.4v13.6h-2.4zM573.4 878.2h2.4v13.6h-2.4zM637.5 878.2h2.4v13.6h-2.4z"/>
<path fill="#90060c" d="M614.9 769.2h2.4v13.6h-2.4zM688.5 796.5h2.4v13.6h-2.4z"/>
<path fill="#067230" d="M630 769.2h2.4v13.6h-2.4zM671.5 769.2h2.4v13.6h-2.4zM673.4 769.2h2.4v13.6h-2.4zM699.8 769.2h2.4v13.6h-2.4zM530 782.8h2.4v13.6h-2.4zM539.4 782.8h2.4v13.6h-2.4zM575.3 782.8h2.4v13.6h-2.4zM577.2 782.8h2.4v13.6h-2.4zM605.5 782.8h2.4v13.6h-2.4zM613 782.8h2.4v13.6h-2.4zM630 782.8h2.4v13.6h-2.4zM633.8 782.8h2.4v13.6h-2.4zM613 810.1h2.4v13.6h-2.4zM671.5 810.1h2.4v13.6h-2.4zM679.1 810.1h2.4v13.6h-2.4zM701.7 810.1h1.9v13.6h-1.9zM545.1 823.7h2.4v13.6h-2.4zM547 823.7h2.4v13.6h-2.4zM558.3 823.7h2.4v13.6h-2.4zM567.7 823.7h2.4v13.6h-2.4zM577.2 823.7h2.4v13.6h-2.4zM580.9 823.7h2.4v13.6h-2.4zM588.5 823.7h2.4v13.6h-2.4zM607.4 823.7h2.4v13.6h-2.4zM626.2 823.7h2.4v13.6h-2.4zM631.9 823.7h2.4v13.6h-2.4zM675.3 823.7h2.4v13.6h-2.4zM688.5 823.7h2.4v13.6h-2.4zM543.2 837.3h2.4v13.6h-2.4zM548.8 837.3h2.4v13.6h-2.4zM592.3 837.3h2.4v13.6h-2.4zM596 837.3h2.4v13.6h-2.4zM597.9 837.3h2.4v13.6h-2.4zM618.7 837.3h2.4v13.6h-2.4zM560.2 851h2.4v13.6h-2.4zM577.2 851h2.4v13.6h-2.4zM586.6 851h2.4v13.6h-2.4zM614.9 851h2.4v13.6h-2.4zM616.8 851h2.4v13.6h-2.4zM660.2 851h2.4v13.6h-2.4zM701.7 851h1.9v13.6h-1.9zM530 864.6h2.4v13.6h-2.4zM533.7 864.6h2.4v13.6h-2.4zM535.6 864.6h2.4v13.6h-2.4zM577.2 864.6h2.4v13.6h-2.4zM580.9 864.6h2.4v13.6h-2.4zM582.8 864.6h2.4v13.6h-2.4zM597.9 864.6h2.4v13.6h-2.4zM628.1 864.6h2.4v13.6h-2.4zM631.9 864.6h2.4v13.6h-2.4zM641.3 878.2h2.4v13.6h-2.4zM645.1 878.2h2.4v13.6h-2.4zM650.8 878.2h2.4v13.6h-2.4zM664 878.2h2.4v13.6h-2.4zM684.7 878.2h2.4v13.6h-2.4zM701.7 878.2h1.9v13.6h-1.9zM624.3 891.8h2.4v13.6h-2.4zM571.5 905.5h2.4v13.6h-2.4zM580.9 905.5h2.4v13.6h-2.4zM633.8 905.5h2.4v13.6h-2.4zM543.2 919.1h2.4v13.6h-2.4zM547 919.1h2.4v13.6h-2.4zM554.5 919.1h2.4v13.6h-2.4zM562.1 919.1h2.4v13.6h-2.4zM563.9 919.1h2.4v13.6h-2.4zM565.8 919.1h2.4v13.6h-2.4zM569.6 919.1h2.4v13.6h-2.4zM697.9 919.1h2.4v13.6h-2.4z"/>
<path fill="#067e30" d="M645.1 769.2h2.4v13.6h-2.4zM669.6 769.2h2.4v13.6h-2.4zM562.1 782.8h2.4v13.6h-2.4zM565.8 782.8h2.4v13.6h-2.4zM567.7 782.8h2.4v13.6h-2.4zM569.6 782.8h2.4v13.6h-2.4zM597.9 782.8h2.4v13.6h-2.4zM684.7 810.1h2.4v13.6h-2.4zM530 823.7h2.4v13.6h-2.4zM579 823.7h2.4v13.6h-2.4zM605.5 823.7h2.4v13.6h-2.4zM597.9 851h2.4v13.6h-2.4zM645.1 851h2.4v13.6h-2.4zM677.2 851h2.4v13.6h-2.4zM539.4 864.6h2.4v13.6h-2.4zM541.3 864.6h2.4v13.6h-2.4zM556.4 864.6h2.4v13.6h-2.4zM571.5 864.6h2.4v13.6h-2.4zM594.1 864.6h2.4v13.6h-2.4zM630 905.5h2.4v13.6h-2.4zM533.7 919.1h2.4v13.6h-2.4z"/>
<path fill="#00240c" d="M647 769.2h2.4v13.6h-2.4zM650.8 769.2h2.4v13.6h-2.4zM681 769.2h2.4v13.6h-2.4zM614.9 782.8h2.4v13.6h-2.4zM667.7 782.8h2.4v13.6h-2.4zM601.7 796.5h2.4v13.6h-2.4zM528.1 810.1h2.4v13.6h-2.4zM541.3 810.1h2.4v13.6h-2.4zM556.4 810.1h2.4v13.6h-2.4zM631.9 810.1h2.4v13.6h-2.4zM677.2 837.3h2.4v13.6h-2.4zM667.7 864.6h2.4v13.6h-2.4zM658.3 878.2h2.4v13.6h-2.4zM635.7 905.5h2.4v13.6h-2.4zM688.5 905.5h2.4v13.6h-2.4z"/>
<path fill="#067830" d="M652.6 769.2h2.4v13.6h-2.4zM686.6 769.2h2.4v13.6h-2.4zM543.2 782.8h2.4v13.6h-2.4zM547 782.8h2.4v13.6h-2.4zM552.6 782.8h2.4v13.6h-2.4zM571.5 782.8h2.4v13.6h-2.4zM580.9 782.8h2.4v13.6h-2.4zM592.3 782.8h2.4v13.6h-2.4zM611.1 782.8h2.4v13.6h-2.4zM641.3 782.8h2.4v13.6h-2.4zM660.2 782.8h2.4v13.6h-2.4zM635.7 796.5h2.4v13.6h-2.4zM686.6 796.5h2.4v13.6h-2.4zM692.3 796.5h2.4v13.6h-2.4zM539.4 823.7h2.4v13.6h-2.4zM543.2 823.7h2.4v13.6h-2.4zM552.6 823.7h2.4v13.6h-2.4zM616.8 823.7h2.4v13.6h-2.4zM650.8 823.7h2.4v13.6h-2.4zM692.3 823.7h2.4v13.6h-2.4zM537.5 837.3h2.4v13.6h-2.4zM531.9 851h2.4v13.6h-2.4zM533.7 851h2.4v13.6h-2.4zM541.3 851h2.4v13.6h-2.4zM569.6 851h2.4v13.6h-2.4zM579 851h2.4v13.6h-2.4zM580.9 851h2.4v13.6h-2.4zM594.1 851h2.4v13.6h-2.4zM605.5 851h2.4v13.6h-2.4zM618.7 851h2.4v13.6h-2.4zM639.4 851h2.4v13.6h-2.4zM696.1 851h2.4v13.6h-2.4zM537.5 864.6h2.4v13.6h-2.4zM563.9 864.6h2.4v13.6h-2.4zM560.2 878.2h2.4v13.6h-2.4zM567.7 878.2h2.4v13.6h-2.4zM654.5 878.2h2.4v13.6h-2.4zM675.3 878.2h2.4v13.6h-2.4zM694.2 878.2h2.4v13.6h-2.4zM699.8 891.8h2.4v13.6h-2.4zM594.1 905.5h2.4v13.6h-2.4zM639.4 905.5h2.4v13.6h-2.4zM552.6 919.1h2.4v13.6h-2.4zM594.1 919.1h2.4v13.6h-2.4zM696.1 919.1h2.4v13.6h-2.4z"/>
<path fill="#06722a" d="M656.4 769.2h2.4v13.6h-2.4zM701.7 769.2h1.9v13.6h-1.9zM571.5 796.5h2.4v13.6h-2.4zM682.8 823.7h2.4v13.6h-2.4zM684.7 823.7h2.4v13.6h-2.4zM550.7 837.3h2.4v13.6h-2.4zM535.6 851h2.4v13.6h-2.4zM567.7 851h2.4v13.6h-2.4zM662.1 851h2.4v13.6h-2.4zM558.3 864.6h2.4v13.6h-2.4zM565.8 864.6h2.4v13.6h-2.4zM673.4 864.6h2.4v13.6h-2.4zM699.8 878.2h2.4v13.6h-2.4zM641.3 891.8h2.4v13.6h-2.4zM562.1 905.5h2.4v13.6h-2.4z"/>
<path fill="#000000" d="M677.2 769.2h2.4v13.6h-2.4zM541.3 782.8h2.4v13.6h-2.4zM558.3 782.8h2.4v13.6h-2.4zM652.6 782.8h2.4v13.6h-2.4zM611.1 823.7h2.4v13.6h-2.4zM628.1 851h2.4v13.6h-2.4zM671.5 891.8h2.4v13.6h-2.4zM631.9 905.5h2.4v13.6h-2.4zM665.9 905.5h2.4v13.6h-2.4zM667.7 905.5h2.4v13.6h-2.4zM690.4 905.5h2.4v13.6h-2.4zM571.5 919.1h2.4v13.6h-2.4z"/>
<path fill="#001206" d="M688.5 769.2h2.4v13.6h-2.4zM526.2 796.5h2.4v13.6h-2.4zM622.4 810.1h2.4v13.6h-2.4zM673.4 837.3h2.4v13.6h-2.4zM686.6 851h2.4v13.6h-2.4zM616.8 864.6h2.4v13.6h-2.4zM607.4 919.1h2.4v13.6h-2.4z"/>
<path fill="#36a83c" d="M599.8 782.8h2.4v13.6h-2.4zM624.3 851h2.4v13.6h-2.4z"/>
<path fill="#068a36" d="M607.4 782.8h2.4v13.6h-2.4zM526.2 823.7h2.4v13.6h-2.4zM571.5 851h2.4v13.6h-2.4z"/>
<path fill="#003618" d="M669.6 782.8h2.4v13.6h-2.4zM573.4 796.5h2.4v13.6h-2.4zM603.6 796.5h2.4v13.6h-2.4zM633.8 796.5h2.4v13.6h-2.4zM533.7 823.7h2.4v13.6h-2.4zM622.4 823.7h2.4v13.6h-2.4zM590.4 837.3h2.4v13.6h-2.4zM667.7 837.3h2.4v13.6h-2.4zM692.3 837.3h2.4v13.6h-2.4zM647 864.6h2.4v13.6h-2.4zM537.5 891.8h2.4v13.6h-2.4zM662.1 919.1h2.4v13.6h-2.4z"/>
<path fill="#003612" d="M550.7 796.5h2.4v13.6h-2.4zM558.3 796.5h2.4v13.6h-2.4zM609.2 796.5h2.4v13.6h-2.4zM630 796.5h2.4v13.6h-2.4zM684.7 796.5h2.4v13.6h-2.4zM526.2 810.1h2.4v13.6h-2.4zM675.3 810.1h2.4v13.6h-2.4zM681 810.1h2.4v13.6h-2.4zM671.5 823.7h2.4v13.6h-2.4zM701.7 837.3h1.9v13.6h-1.9zM533.7 878.2h2.4v13.6h-2.4zM526.2 891.8h2.4v13.6h-2.4zM563.9 891.8h2.4v13.6h-2.4zM573.4 891.8h2.4v13.6h-2.4zM530 905.5h2.4v13.6h-2.4z"/>
<path fill="#000c00" d="M597.9 796.5h2.4v13.6h-2.4zM577.2 919.1h2.4v13.6h-2.4z"/>
<path fill="#00421e" d="M648.9 796.5h2.4v13.6h-2.4zM547 810.1h2.4v13.6h-2.4zM652.6 810.1h2.4v13.6h-2.4zM643.2 837.3h2.4v13.6h-2.4zM694.2 837.3h2.4v13.6h-2.4zM586.6 919.1h2.4v13.6h-2.4z"/>
<path fill="#000c06" d="M531.9 810.1h2.4v13.6h-2.4zM541.3 891.8h2.4v13.6h-2.4zM582.8 919.1h2.4v13.6h-2.4z"/>
<path fill="#7e0c0c" d="M603.6 810.1h2.4v13.6h-2.4z"/>
<path fill="#000600" d="M664 810.1h2.4v13.6h-2.4zM601.7 864.6h2.4v13.6h-2.4zM658.3 864.6h2.4v13.6h-2.4zM528.1 878.2h2.4v13.6h-2.4zM548.8 891.8h2.4v13.6h-2.4zM580.9 891.8h2.4v13.6h-2.4z"/>
<path fill="#48b43c" d="M535.6 823.7h2.4v13.6h-2.4zM539.4 891.8h2.4v13.6h-2.4z"/>
<path fill="#068436" d="M548.8 823.7h2.4v13.6h-2.4zM562.1 823.7h2.4v13.6h-2.4zM601.7 837.3h2.4v13.6h-2.4zM558.3 851h2.4v13.6h-2.4zM563.9 851h2.4v13.6h-2.4zM590.4 851h2.4v13.6h-2.4zM590.4 864.6h2.4v13.6h-2.4zM635.7 878.2h2.4v13.6h-2.4zM696.1 878.2h2.4v13.6h-2.4zM609.2 891.8h2.4v13.6h-2.4z"/>
<path fill="#069036" d="M550.7 823.7h2.4v13.6h-2.4zM526.2 864.6h2.4v13.6h-2.4z"/>
<path fill="#2aa23c" d="M554.5 823.7h2.4v13.6h-2.4z"/>
<path fill="#067e36" d="M563.9 823.7h2.4v13.6h-2.4zM554.5 851h2.4v13.6h-2.4z"/>
<path fill="#001806" d="M569.6 823.7h2.4v13.6h-2.4zM630 837.3h2.4v13.6h-2.4zM697.9 837.3h2.4v13.6h-2.4zM699.8 851h2.4v13.6h-2.4zM552.6 891.8h2.4v13.6h-2.4zM675.3 905.5h2.4v13.6h-2.4z"/>
<path fill="#00180c" d="M594.1 823.7h2.4v13.6h-2.4z"/>
<path fill="#060000" d="M597.9 823.7h2.4v13.6h-2.4zM526.2 851h2.4v13.6h-2.4zM547 851h2.4v13.6h-2.4zM673.4 878.2h2.4v13.6h-2.4zM613 891.8h2.4v13.6h-2.4z"/>
<path fill="#360606" d="M658.3 823.7h2.4v13.6h-2.4z"/>
<path fill="#600c0c" d="M662.1 823.7h2.4v13.6h-2.4z"/>
<path fill="#36ae3c" d="M584.7 837.3h2.4v13.6h-2.4zM647 905.5h2.4v13.6h-2.4z"/>
<path fill="#720c0c" d="M613 851h2.4v13.6h-2.4z"/>
<path fill="#002a0c" d="M681 851h2.4v13.6h-2.4z"/>
<path fill="#2a0000" d="M648.9 864.6h2.4v13.6h-2.4z"/>
<path fill="#3cae3c" d="M609.2 878.2h2.4v13.6h-2.4z"/>
<path fill="#240000" d="M679.1 878.2h2.4v13.6h-2.4z"/>
<path fill="#4e0606" d="M648.9 905.5h2.4v13.6h-2.4z"/>
<path fill="#480606" d="M590.4 919.1h2.4v13.6h-2.4z"/>
<path fill="#5a0606" d="M639.4 919.1h2.4v13.6h-2.4z"/>
<line x1="526.2" y1="782.83" x2="703.6" y2="782.83" stroke="#c8c8c8" stroke-width="0.5" opacity="0.8"/>
<line x1="526.2" y1="796.45" x2="703.6" y2="796.45" stroke="#c8c8c8" stroke-width="0.5" opacity="0.8"/>
<line x1="526.2" y1="810.08" x2="703.6" y2="810.08" stroke="#c8c8c8" stroke-width="0.5" opacity="0.8"/>
<line x1="526.2" y1="823.7" x2="703.6" y2="823.7" stroke="#c8c8c8" stroke-width="0.5" opacity="0.8"/>
<line x1="526.2" y1="837.33" x2="703.6" y2="837.33" stroke="#c8c8c8" stroke-width="0.5" opacity="0.8"/>
<line x1="526.2" y1="850.95" x2="703.6" y2="850.95" stroke="#c8c8c8" stroke-width="0.5" opacity="0.8"/>
<line x1="526.2" y1="864.58" x2="703.6" y2="864.58" stroke="#c8c8c8" stroke-width="0.5" opacity="0.8"/>
<line x1="526.2" y1="878.2" x2="703.6" y2="878.2" stroke="#c8c8c8" stroke-width="0.5" opacity="0.8"/>
<line x1="526.2" y1="891.83" x2="703.6" y2="891.83" stroke="#c8c8c8" stroke-width="0.5" opacity="0.8"/>
<line x1="526.2" y1="905.45" x2="703.6" y2="905.45" stroke="#c8c8c8" stroke-width="0.5" opacity="0.8"/>
<line x1="526.2" y1="919.08" x2="703.6" y2="919.08" stroke="#c8c8c8" stroke-width="0.5" opacity="0.8"/>
<line x1="528.09" y1="762.8" x2="528.09" y2="932.7" stroke="#aaa" stroke-width="0.25" opacity="0.45"/>
<line x1="529.97" y1="762.8" x2="529.97" y2="932.7" stroke="#aaa" stroke-width="0.25" opacity="0.45"/>
<line x1="531.86" y1="762.8" x2="531.86" y2="932.7" stroke="#aaa" stroke-width="0.25" opacity="0.45"/>
<line x1="533.75" y1="762.8" x2="533.75" y2="932.7" stroke="#aaa" stroke-width="0.25" opacity="0.45"/>
<line x1="535.64" y1="762.8" x2="535.64" y2="932.7" stroke="#aaa" stroke-width="0.25" opacity="0.45"/>
<line x1="537.52" y1="762.8" x2="537.52" y2="932.7" stroke="#aaa" stroke-width="0.25" opacity="0.45"/>
<line x1="539.41" y1="762.8" x2="539.41" y2="932.7" stroke="#aaa" stroke-width="0.25" opacity="0.45"/>
<line x1="541.3" y1="762.8" x2="541.3" y2="932.7" stroke="#aaa" stroke-width="0.25" opacity="0.45"/>
<line x1="543.19" y1="762.8" x2="543.19" y2="932.7" stroke="#aaa" stroke-width="0.25" opacity="0.45"/>
<line x1="545.07" y1="762.8" x2="545.07" y2="932.7" stroke="#aaa" stroke-width="0.25" opacity="0.45"/>
<line x1="546.96" y1="762.8" x2="546.96" y2="932.7" stroke="#aaa" stroke-width="0.25" opacity="0.45"/>
<line x1="548.85" y1="762.8" x2="548.85" y2="932.7" stroke="#aaa" stroke-width="0.25" opacity="0.45"/>
<line x1="550.73" y1="762.8" x2="550.73" y2="932.7" stroke="#aaa" stroke-width="0.25" opacity="0.45"/>
<line x1="552.62" y1="762.8" x2="552.62" y2="932.7" stroke="#aaa" stroke-width="0.25" opacity="0.45"/>
<line x1="554.51" y1="762.8" x2="554.51" y2="932.7" stroke="#aaa" stroke-width="0.25" opacity="0.45"/>
<line x1="556.4" y1="762.8" x2="556.4" y2="932.7" stroke="#aaa" stroke-width="0.25" opacity="0.45"/>
<line x1="558.28" y1="762.8" x2="558.28" y2="932.7" stroke="#aaa" stroke-width="0.25" opacity="0.45"/>
<line x1="560.17" y1="762.8" x2="560.17" y2="932.7" stroke="#aaa" stroke-width="0.25" opacity="0.45"/>
<line x1="562.06" y1="762.8" x2="562.06" y2="932.7" stroke="#aaa" stroke-width="0.25" opacity="0.45"/>
<line x1="563.94" y1="762.8" x2="563.94" y2="932.7" stroke="#aaa" stroke-width="0.25" opacity="0.45"/>
<line x1="565.83" y1="762.8" x2="565.83" y2="932.7" stroke="#aaa" stroke-width="0.25" opacity="0.45"/>
<line x1="567.72" y1="762.8" x2="567.72" y2="932.7" stroke="#aaa" stroke-width="0.25" opacity="0.45"/>
<line x1="569.61" y1="762.8" x2="569.61" y2="932.7" stroke="#aaa" stroke-width="0.25" opacity="0.45"/>
<line x1="571.49" y1="762.8" x2="571.49" y2="932.7" stroke="#aaa" stroke-width="0.25" opacity="0.45"/>
<line x1="573.38" y1="762.8" x2="573.38" y2="932.7" stroke="#aaa" stroke-width="0.25" opacity="0.45"/>
<line x1="575.27" y1="762.8" x2="575.27" y2="932.7" stroke="#aaa" stroke-width="0.25" opacity="0.45"/>
<line x1="577.16" y1="762.8" x2="577.16" y2="932.7" stroke="#aaa" stroke-width="0.25" opacity="0.45"/>
<line x1="579.04" y1="762.8" x2="579.04" y2="932.7" stroke="#aaa" stroke-width="0.25" opacity="0.45"/>
<line x1="580.93" y1="762.8" x2="580.93" y2="932.7" stroke="#aaa" stroke-width="0.25" opacity="0.45"/>
<line x1="582.82" y1="762.8" x2="582.82" y2="932.7" stroke="#aaa" stroke-width="0.25" opacity="0.45"/>
<line x1="584.7" y1="762.8" x2="584.7" y2="932.7" stroke="#aaa" stroke-width="0.25" opacity="0.45"/>
<line x1="586.59" y1="762.8" x2="586.59" y2="932.7" stroke="#aaa" stroke-width="0.25" opacity="0.45"/>
<line x1="588.48" y1="762.8" x2="588.48" y2="932.7" stroke="#aaa" stroke-width="0.25" opacity="0.45"/>
<line x1="590.37" y1="762.8" x2="590.37" y2="932.7" stroke="#aaa" stroke-width="0.25" opacity="0.45"/>
<line x1="592.25" y1="762.8" x2="592.25" y2="932.7" stroke="#aaa" stroke-width="0.25" opacity="0.45"/>
<line x1="594.14" y1="762.8" x2="594.14" y2="932.7" stroke="#aaa" stroke-width="0.25" opacity="0.45"/>
<line x1="596.03" y1="762.8" x2="596.03" y2="932.7" stroke="#aaa" stroke-width="0.25" opacity="0.45"/>
<line x1="597.91" y1="762.8" x2="597.91" y2="932.7" stroke="#aaa" stroke-width="0.25" opacity="0.45"/>
<line x1="599.8" y1="762.8" x2="599.8" y2="932.7" stroke="#aaa" stroke-width="0.25" opacity="0.45"/>
<line x1="601.69" y1="762.8" x2="601.69" y2="932.7" stroke="#aaa" stroke-width="0.25" opacity="0.45"/>
<line x1="603.58" y1="762.8" x2="603.58" y2="932.7" stroke="#aaa" stroke-width="0.25" opacity="0.45"/>
<line x1="605.46" y1="762.8" x2="605.46" y2="932.7" stroke="#aaa" stroke-width="0.25" opacity="0.45"/>
<line x1="607.35" y1="762.8" x2="607.35" y2="932.7" stroke="#aaa" stroke-width="0.25" opacity="0.45"/>
<line x1="609.24" y1="762.8" x2="609.24" y2="932.7" stroke="#aaa" stroke-width="0.25" opacity="0.45"/>
<line x1="611.13" y1="762.8" x2="611.13" y2="932.7" stroke="#aaa" stroke-width="0.25" opacity="0.45"/>
<line x1="613.01" y1="762.8" x2="613.01" y2="932.7" stroke="#aaa" stroke-width="0.25" opacity="0.45"/>
<line x1="614.9" y1="762.8" x2="614.9" y2="932.7" stroke="#aaa" stroke-width="0.25" opacity="0.45"/>
<line x1="616.79" y1="762.8" x2="616.79" y2="932.7" stroke="#aaa" stroke-width="0.25" opacity="0.45"/>
<line x1="618.67" y1="762.8" x2="618.67" y2="932.7" stroke="#aaa" stroke-width="0.25" opacity="0.45"/>
<line x1="620.56" y1="762.8" x2="620.56" y2="932.7" stroke="#aaa" stroke-width="0.25" opacity="0.45"/>
<line x1="622.45" y1="762.8" x2="622.45" y2="932.7" stroke="#aaa" stroke-width="0.25" opacity="0.45"/>
<line x1="624.34" y1="762.8" x2="624.34" y2="932.7" stroke="#aaa" stroke-width="0.25" opacity="0.45"/>
<line x1="626.22" y1="762.8" x2="626.22" y2="932.7" stroke="#aaa" stroke-width="0.25" opacity="0.45"/>
<line x1="628.11" y1="762.8" x2="628.11" y2="932.7" stroke="#aaa" stroke-width="0.25" opacity="0.45"/>
<line x1="630" y1="762.8" x2="630" y2="932.7" stroke="#aaa" stroke-width="0.25" opacity="0.45"/>
<line x1="631.89" y1="762.8" x2="631.89" y2="932.7" stroke="#aaa" stroke-width="0.25" opacity="0.45"/>
<line x1="633.77" y1="762.8" x2="633.77" y2="932.7" stroke="#aaa" stroke-width="0.25" opacity="0.45"/>
<line x1="635.66" y1="762.8" x2="635.66" y2="932.7" stroke="#aaa" stroke-width="0.25" opacity="0.45"/>
<line x1="637.55" y1="762.8" x2="637.55" y2="932.7" stroke="#aaa" stroke-width="0.25" opacity="0.45"/>
<line x1="639.43" y1="762.8" x2="639.43" y2="932.7" stroke="#aaa" stroke-width="0.25" opacity="0.45"/>
<line x1="641.32" y1="762.8" x2="641.32" y2="932.7" stroke="#aaa" stroke-width="0.25" opacity="0.45"/>
<line x1="643.21" y1="762.8" x2="643.21" y2="932.7" stroke="#aaa" stroke-width="0.25" opacity="0.45"/>
<line x1="645.1" y1="762.8" x2="645.1" y2="932.7" stroke="#aaa" stroke-width="0.25" opacity="0.45"/>
<line x1="646.98" y1="762.8" x2="646.98" y2="932.7" stroke="#aaa" stroke-width="0.25" opacity="0.45"/>
<line x1="648.87" y1="762.8" x2="648.87" y2="932.7" stroke="#aaa" stroke-width="0.25" opacity="0.45"/>
<line x1="650.76" y1="762.8" x2="650.76" y2="932.7" stroke="#aaa" stroke-width="0.25" opacity="0.45"/>
<line x1="652.64" y1="762.8" x2="652.64" y2="932.7" stroke="#aaa" stroke-width="0.25" opacity="0.45"/>
<line x1="654.53" y1="762.8" x2="654.53" y2="932.7" stroke="#aaa" stroke-width="0.25" opacity="0.45"/>
<line x1="656.42" y1="762.8" x2="656.42" y2="932.7" stroke="#aaa" stroke-width="0.25" opacity="0.45"/>
<line x1="658.31" y1="762.8" x2="658.31" y2="932.7" stroke="#aaa" stroke-width="0.25" opacity="0.45"/>
<line x1="660.19" y1="762.8" x2="660.19" y2="932.7" stroke="#aaa" stroke-width="0.25" opacity="0.45"/>
<line x1="662.08" y1="762.8" x2="662.08" y2="932.7" stroke="#aaa" stroke-width="0.25" opacity="0.45"/>
<line x1="663.97" y1="762.8" x2="663.97" y2="932.7" stroke="#aaa" stroke-width="0.25" opacity="0.45"/>
<line x1="665.86" y1="762.8" x2="665.86" y2="932.7" stroke="#aaa" stroke-width="0.25" opacity="0.45"/>
<line x1="667.74" y1="762.8" x2="667.74" y2="932.7" stroke="#aaa" stroke-width="0.25" opacity="0.45"/>
<line x1="669.63" y1="762.8" x2="669.63" y2="932.7" stroke="#aaa" stroke-width="0.25" opacity="0.45"/>
<line x1="671.52" y1="762.8" x2="671.52" y2="932.7" stroke="#aaa" stroke-width="0.25" opacity="0.45"/>
<line x1="673.4" y1="762.8" x2="673.4" y2="932.7" stroke="#aaa" stroke-width="0.25" opacity="0.45"/>
<line x1="675.29" y1="762.8" x2="675.29" y2="932.7" stroke="#aaa" stroke-width="0.25" opacity="0.45"/>
<line x1="677.18" y1="762.8" x2="677.18" y2="932.7" stroke="#aaa" stroke-width="0.25" opacity="0.45"/>
<line x1="679.07" y1="762.8" x2="679.07" y2="932.7" stroke="#aaa" stroke-width="0.25" opacity="0.45"/>
<line x1="680.95" y1="762.8" x2="680.95" y2="932.7" stroke="#aaa" stroke-width="0.25" opacity="0.45"/>
<line x1="682.84" y1="762.8" x2="682.84" y2="932.7" stroke="#aaa" stroke-width="0.25" opacity="0.45"/>
<line x1="684.73" y1="762.8" x2="684.73" y2="932.7" stroke="#aaa" stroke-width="0.25" opacity="0.45"/>
<line x1="686.61" y1="762.8" x2="686.61" y2="932.7" stroke="#aaa" stroke-width="0.25" opacity="0.45"/>
<line x1="688.5" y1="762.8" x2="688.5" y2="932.7" stroke="#aaa" stroke-width="0.25" opacity="0.45"/>
<line x1="690.39" y1="762.8" x2="690.39" y2="932.7" stroke="#aaa" stroke-width="0.25" opacity="0.45"/>
<line x1="692.28" y1="762.8" x2="692.28" y2="932.7" stroke="#aaa" stroke-width="0.25" opacity="0.45"/>
<line x1="694.16" y1="762.8" x2="694.16" y2="932.7" stroke="#aaa" stroke-width="0.25" opacity="0.45"/>
<line x1="696.05" y1="762.8" x2="696.05" y2="932.7" stroke="#aaa" stroke-width="0.25" opacity="0.45"/>
<line x1="697.94" y1="762.8" x2="697.94" y2="932.7" stroke="#aaa" stroke-width="0.25" opacity="0.45"/>
<line x1="699.83" y1="762.8" x2="699.83" y2="932.7" stroke="#aaa" stroke-width="0.25" opacity="0.45"/>
<line x1="701.71" y1="762.8" x2="701.71" y2="932.7" stroke="#aaa" stroke-width="0.25" opacity="0.45"/>
<text transform="translate(704.6,766.6) scale(0.55,1)" font-size="5" fill="#222" stroke="#222" stroke-width="0.36" >type</text>
<text transform="translate(704.6,777.81) scale(0.52,1)" font-size="5" fill="#222" stroke="#222" stroke-width="0.38" >PLA2G2D</text>
<text transform="translate(704.6,791.44) scale(0.52,1)" font-size="5" fill="#222" stroke="#222" stroke-width="0.38" >TREM1</text>
<text transform="translate(704.6,805.06) scale(0.52,1)" font-size="5" fill="#222" stroke="#222" stroke-width="0.38" >ARV1</text>
<text transform="translate(704.6,818.69) scale(0.52,1)" font-size="5" fill="#222" stroke="#222" stroke-width="0.38" >C2</text>
<text transform="translate(704.6,832.31) scale(0.52,1)" font-size="5" fill="#222" stroke="#222" stroke-width="0.38" >PNPLA5</text>
<text transform="translate(704.6,845.94) scale(0.52,1)" font-size="5" fill="#222" stroke="#222" stroke-width="0.38" >RB1</text>
<text transform="translate(704.6,859.56) scale(0.52,1)" font-size="5" fill="#222" stroke="#222" stroke-width="0.38" >SLC22A2</text>
<text transform="translate(704.6,873.19) scale(0.52,1)" font-size="5" fill="#222" stroke="#222" stroke-width="0.38" >ANGPTL4</text>
<text transform="translate(704.6,886.81) scale(0.52,1)" font-size="5" fill="#222" stroke="#222" stroke-width="0.38" >PIK3C3</text>
<text transform="translate(704.6,900.44) scale(0.52,1)" font-size="5" fill="#222" stroke="#222" stroke-width="0.38" >ME1</text>
<text transform="translate(704.6,914.06) scale(0.52,1)" font-size="5" fill="#222" stroke="#222" stroke-width="0.38" >PLA2R1</text>
<text transform="translate(704.6,927.69) scale(0.52,1)" font-size="5" fill="#222" stroke="#222" stroke-width="0.38" >ADH1C</text>
<defs><linearGradient id="cb23" x1="0" y1="0" x2="0" y2="1"><stop offset="0" stop-color="#f00a19"/><stop offset="0.18" stop-color="#8a0a0a"/><stop offset="0.46" stop-color="#000"/><stop offset="0.72" stop-color="#126030"/><stop offset="0.87" stop-color="#2aa040"/><stop offset="1" stop-color="#6cc040"/></linearGradient></defs>
<rect x="719" y="762" width="2.6" height="71.8" fill="url(#cb23)" stroke="none" stroke-width="1" />
<text transform="translate(722,765.6) scale(0.7,1)" font-size="3.6" fill="#555" stroke="#555" stroke-width="0.21" >8</text>
<text transform="translate(722,777.1) scale(0.7,1)" font-size="3.6" fill="#555" stroke="#555" stroke-width="0.21" >6</text>
<text transform="translate(722,788.6) scale(0.7,1)" font-size="3.6" fill="#555" stroke="#555" stroke-width="0.21" >4</text>
<text transform="translate(722,800.1) scale(0.7,1)" font-size="3.6" fill="#555" stroke="#555" stroke-width="0.21" >2</text>
<text transform="translate(722,811.6) scale(0.7,1)" font-size="3.6" fill="#555" stroke="#555" stroke-width="0.21" >0</text>
<text transform="translate(722,823.1) scale(0.7,1)" font-size="3.6" fill="#555" stroke="#555" stroke-width="0.21" >-1</text>
<text transform="translate(725.8,765.3) scale(0.6,1)" font-size="4.4" font-weight="bold" fill="#222" stroke="#222" stroke-width="0.29" >type</text>
<rect x="725.8" y="767.5" width="3.6" height="6.4" fill="#1fa9bf" stroke="none" stroke-width="1" />
<rect x="725.8" y="774" width="3.6" height="6" fill="#e58a84" stroke="none" stroke-width="1" />
<text transform="translate(730.2,772.3) scale(0.5,1)" font-size="4.2" fill="#333" stroke="#333" stroke-width="0.34" >high</text>
<text transform="translate(730.2,778.5) scale(0.55,1)" font-size="4.2" fill="#333" stroke="#333" stroke-width="0.31" >low</text>
<text transform="translate(1.3,946.5)" font-size="19" font-weight="bold" fill="#2a1d1d" stroke="#2a1d1d" stroke-width="0.45">G.</text>
<text transform="translate(255.8,946.5)" font-size="19" font-weight="bold" fill="#2a1d1d" stroke="#2a1d1d" stroke-width="0.45">H.</text>
<text transform="translate(496.8,946.5)" font-size="19" font-weight="bold" fill="#2a1d1d" stroke="#2a1d1d" stroke-width="0.45">I.</text>
<rect x="45.1" y="957.4" width="170.9" height="83.8" fill="#fff" stroke="none" stroke-width="1" />
<line x1="52.4" y1="957.4" x2="52.4" y2="1041.2" stroke="#ebebeb" stroke-width="0.5" />
<line x1="104.5" y1="957.4" x2="104.5" y2="1041.2" stroke="#ebebeb" stroke-width="0.5" />
<line x1="156.6" y1="957.4" x2="156.6" y2="1041.2" stroke="#ebebeb" stroke-width="0.5" />
<line x1="208.7" y1="957.4" x2="208.7" y2="1041.2" stroke="#ebebeb" stroke-width="0.5" />
<line x1="78.45" y1="957.4" x2="78.45" y2="1041.2" stroke="#f4f4f4" stroke-width="0.3" />
<line x1="130.55" y1="957.4" x2="130.55" y2="1041.2" stroke="#f4f4f4" stroke-width="0.3" />
<line x1="182.65" y1="957.4" x2="182.65" y2="1041.2" stroke="#f4f4f4" stroke-width="0.3" />
<line x1="45.1" y1="1037.5" x2="216" y2="1037.5" stroke="#ebebeb" stroke-width="0.5" />
<line x1="45.1" y1="1018.58" x2="216" y2="1018.58" stroke="#ebebeb" stroke-width="0.5" />
<line x1="45.1" y1="999.65" x2="216" y2="999.65" stroke="#ebebeb" stroke-width="0.5" />
<line x1="45.1" y1="980.73" x2="216" y2="980.73" stroke="#ebebeb" stroke-width="0.5" />
<line x1="45.1" y1="961.8" x2="216" y2="961.8" stroke="#ebebeb" stroke-width="0.5" />
<line x1="45.1" y1="1028.04" x2="216" y2="1028.04" stroke="#f4f4f4" stroke-width="0.3" />
<line x1="45.1" y1="1009.11" x2="216" y2="1009.11" stroke="#f4f4f4" stroke-width="0.3" />
<line x1="45.1" y1="990.19" x2="216" y2="990.19" stroke="#f4f4f4" stroke-width="0.3" />
<line x1="45.1" y1="971.26" x2="216" y2="971.26" stroke="#f4f4f4" stroke-width="0.3" />
<polygon points="52.95,960.96 59.69,962.2 67.05,964.39 73.17,966.84 78.07,969.29 81.74,972.96 86.64,977.24 91.52,980.31 96.43,982.77 101.33,985.22 103.17,990.72 111.12,993.79 118.48,996.84 128.26,1001.12 135,1003.58 185.48,1002.93 185.95,1002.22 209.29,1002.22 209.29,1032.78 185.48,1032.78 184.29,1024.45 145,1024.45 135,1022.14 125.81,1016.02 118.48,1012.95 111.12,1010.5 103.76,1006.83 102.55,999.47 97.64,996.42 92.76,993.35 87.86,990.3 84.19,987.23 80.5,981.11 76.83,976.83 70.71,972.54 65.81,969.47 62.14,967.64 57.24,965.19 52.95,962.5" fill="#2E9FDF" fill-opacity="0.40"/>
<polygon points="52.95,961.34 57.24,963.17 62.14,966.84 67.05,971.74 70.71,979.1 75.62,982.77 80.5,987.67 82.95,995 86.64,1001.12 91.52,1006.03 96.43,1012.15 101.33,1018.27 105,1025 108.67,1026.84 127.64,1026.84 127.64,1038.04 113.57,1038.04 108.67,1036.21 103.76,1033.76 98.88,1028.88 93.98,1022.73 89.07,1016.61 85.4,1009.28 81.74,1003.76 78.07,997.04 73.17,993.35 69.5,987.23 67.05,979.9 63.36,973.76 58.48,969.47 54.79,967.04 52.95,963" fill="#E7B800" fill-opacity="0.40"/>
<polyline points="52.95,961.74 54.3,961.74 54.3,962.65 55.1,962.65 56.2,962.65 56.2,963.57 57.24,963.57 58.45,963.57 58.45,964.49 59.69,964.49 60.93,964.49 60.93,965.4 62.14,965.4 63.22,965.4 63.22,966.02 63.98,966.02 65.19,966.02 65.19,966.64 65.81,966.64 66.68,966.64 66.68,967.56 67.65,967.56 68.42,967.56 68.42,968.48 69.5,968.48 70.65,968.48 70.65,969.7 71.94,969.7 72.9,969.7 72.9,970.93 74.38,970.93 75.39,970.93 75.39,972.14 76.23,972.14 77.44,972.14 77.44,973.36 78.07,973.36 78.81,973.36 78.81,975.2 79.9,975.2 80.98,975.2 80.98,977.05 81.74,977.05 82.48,977.05 82.48,980.11 83.57,980.11 84.75,980.11 84.75,983.17 85.4,983.17 86.36,983.17 86.36,984.69 87.24,984.69 88.09,984.69 88.09,986.21 89.07,986.21 90.02,986.21 90.02,987.75 91.52,987.75 92.54,987.75 92.54,989.29 93.98,989.29 95.44,989.29 95.44,990.51 96.43,990.51 97.47,990.51 97.47,991.74 98.88,991.74 100.18,991.74 100.18,994.19 101.33,994.19 102.29,994.19 102.29,1000.31 103.17,1000.31 104.05,1000.31 104.05,1001.33 105,1001.33 106.04,1001.33 106.04,1002.34 106.83,1002.34 107.53,1002.34 107.53,1003.36 108.67,1003.36 110,1003.36 110,1004.27 111.12,1004.27 112.08,1004.27 112.08,1005.19 113.57,1005.19 114.63,1005.19 114.63,1005.81 116.02,1005.81 117.36,1005.81 117.36,1006.43 118.48,1006.43 119.31,1006.43 119.31,1007.25 120.52,1007.25 121.32,1007.25 121.32,1008.06 122.56,1008.06 123.57,1008.06 123.57,1008.88 124.6,1008.88 125.9,1008.88 125.9,1010.11 127.04,1010.11 127.96,1010.11 127.96,1011.33 129.48,1011.33 130.5,1011.33 130.5,1012.35 131.32,1012.35 132.29,1012.35 132.29,1013.37 133.16,1013.37 133.78,1013.37 133.78,1014.38 135,1014.38 136.04,1014.38 136.04,1014.65 137,1014.65 137.7,1014.65 137.7,1014.91 139,1014.91 140.03,1014.91 140.03,1015.18 141,1015.18 142.07,1015.18 142.07,1015.45 143,1015.45 143.93,1015.45 143.93,1015.71 145,1015.71 145.87,1015.71 145.87,1015.83 146.9,1015.83 148.03,1015.83 148.03,1015.95 148.81,1015.95 149.58,1015.95 149.58,1016.07 150.71,1016.07 151.65,1016.07 151.65,1016.19 152.62,1016.19 153.57,1016.19 153.57,1016.31 154.52,1016.31 155.2,1016.31 155.2,1016.43 156.43,1016.43 157.62,1016.43 157.62,1016.55 158.33,1016.55 159.09,1016.55 159.09,1016.67 160.24,1016.67 161.37,1016.67 161.37,1016.79 162.14,1016.79 163.08,1016.79 163.08,1016.9 164.05,1016.9 166.07,1016.9 168.1,1016.9 170.12,1016.9 172.14,1016.9 174.17,1016.9 176.19,1016.9 178.21,1016.9 180.24,1016.9 182.26,1016.9 184.29,1016.9 184.59,1016.9 184.59,1023.57 185.48,1023.57 187.46,1023.57 189.44,1023.57 191.43,1023.57 193.41,1023.57 195.4,1023.57 197.38,1023.57 199.37,1023.57 201.35,1023.57 203.33,1023.57 205.32,1023.57 207.3,1023.57 209.29,1023.57" fill="none" stroke="#2E9FDF" stroke-width="0.85" stroke-linejoin="miter"/>
<polyline points="52.95,962.36 53.69,962.36 53.69,963.57 54.49,963.57 55.13,963.57 55.13,964.79 56.02,964.79 57.5,964.79 57.5,967.24 58.48,967.24 59.38,967.24 59.38,968.15 60.31,968.15 60.98,968.15 60.98,969.07 62.14,969.07 63.21,969.07 63.21,970.61 63.98,970.61 64.64,970.61 64.64,972.14 65.81,972.14 66.55,972.14 66.55,975.2 67.65,975.2 68.32,975.2 68.32,978.26 69.5,978.26 70.49,978.26 70.49,985.62 71.33,985.62 72.3,985.62 72.3,987.45 72.86,987.45 73.69,987.45 73.69,989.29 74.38,989.29 75.14,989.29 75.14,990.51 76.23,990.51 77.36,990.51 77.36,991.74 78.07,991.74 79.21,991.74 79.21,994.19 79.9,994.19 80.72,994.19 80.72,996.64 81.74,996.64 82.83,996.64 82.83,1001.52 84.19,1001.52 85.21,1001.52 85.21,1005.81 86.02,1005.81 87.22,1005.81 87.22,1010.1 87.86,1010.1 89.02,1010.1 89.02,1012.55 89.69,1012.55 90.83,1012.55 90.83,1015 91.52,1015 92.88,1015 92.88,1018.06 93.98,1018.06 95.04,1018.06 95.04,1021.12 96.43,1021.12 97.72,1021.12 97.72,1024.18 98.88,1024.18 100.06,1024.18 100.06,1027.24 101.33,1027.24 102.33,1027.24 102.33,1029.07 103.17,1029.07 104.08,1029.07 104.08,1030.9 105,1030.9 106.05,1030.9 106.05,1032.13 107.45,1032.13 108.92,1032.13 108.92,1033.36 109.9,1033.36 110.54,1033.36 110.54,1034.58 111.74,1034.58 112.56,1034.58 112.56,1035.81 113.57,1035.81 115.58,1035.84 117.59,1035.88 119.6,1035.91 121.61,1035.95 123.62,1035.98 125.63,1036.01 127.64,1036.05" fill="none" stroke="#E7B800" stroke-width="0.85" stroke-linejoin="miter"/>
<polyline points="52.4,999.65 104,999.65" fill="none" stroke="#222" stroke-width="0.6" stroke-dasharray="1.2,1.2"/>
<line x1="82.6" y1="999.65" x2="82.6" y2="1037.5" stroke="#222" stroke-width="0.6" stroke-dasharray="1.2,1.2"/>
<line x1="104" y1="999.65" x2="104" y2="1037.5" stroke="#222" stroke-width="0.6" stroke-dasharray="1.2,1.2"/>
<rect x="45.1" y="957.4" width="170.9" height="83.8" fill="none" stroke="#b5b5b5" stroke-width="0.6" />
<text transform="translate(56,1024.3)" font-size="4.9" fill="#111" stroke="#111" stroke-width="0.2"  textLength="21.4" lengthAdjust="spacingAndGlyphs">p &lt; 0.0001</text>
<line x1="52.4" y1="1041.2" x2="52.4" y2="1042.7" stroke="#555" stroke-width="0.4" />
<text transform="translate(52.4,1045.4)" font-size="3" text-anchor="middle" fill="#555" stroke="#555" stroke-width="0.12" >0</text>
<line x1="104.5" y1="1041.2" x2="104.5" y2="1042.7" stroke="#555" stroke-width="0.4" />
<text transform="translate(104.5,1045.4)" font-size="3" text-anchor="middle" fill="#555" stroke="#555" stroke-width="0.12" >5</text>
<line x1="156.6" y1="1041.2" x2="156.6" y2="1042.7" stroke="#555" stroke-width="0.4" />
<text transform="translate(156.6,1045.4)" font-size="3" text-anchor="middle" fill="#555" stroke="#555" stroke-width="0.12" >10</text>
<line x1="208.7" y1="1041.2" x2="208.7" y2="1042.7" stroke="#555" stroke-width="0.4" />
<text transform="translate(208.7,1045.4)" font-size="3" text-anchor="middle" fill="#555" stroke="#555" stroke-width="0.12" >15</text>
<line x1="43.9" y1="1037.5" x2="45.1" y2="1037.5" stroke="#333" stroke-width="0.5" />
<text transform="translate(43.4,1038.6)" font-size="3.1" text-anchor="end" fill="#555" stroke="#555" stroke-width="0.12" >0.00</text>
<line x1="43.9" y1="1018.58" x2="45.1" y2="1018.58" stroke="#333" stroke-width="0.5" />
<text transform="translate(43.4,1019.68)" font-size="3.1" text-anchor="end" fill="#555" stroke="#555" stroke-width="0.12" >0.25</text>
<line x1="43.9" y1="999.65" x2="45.1" y2="999.65" stroke="#333" stroke-width="0.5" />
<text transform="translate(43.4,1000.75)" font-size="3.1" text-anchor="end" fill="#555" stroke="#555" stroke-width="0.12" >0.50</text>
<line x1="43.9" y1="980.73" x2="45.1" y2="980.73" stroke="#333" stroke-width="0.5" />
<text transform="translate(43.4,981.83)" font-size="3.1" text-anchor="end" fill="#555" stroke="#555" stroke-width="0.12" >0.75</text>
<line x1="43.9" y1="961.8" x2="45.1" y2="961.8" stroke="#333" stroke-width="0.5" />
<text transform="translate(43.4,962.9)" font-size="3.1" text-anchor="end" fill="#555" stroke="#555" stroke-width="0.12" >1.00</text>
<text transform="translate(36.3,999.7) rotate(-90)" font-size="3.8" text-anchor="middle" fill="#222" stroke="#222" stroke-width="0.15"  textLength="29.1" lengthAdjust="spacingAndGlyphs">Survival probability</text>
<text transform="translate(130.55,1049.4)" font-size="4.4" text-anchor="middle" fill="#222" stroke="#222" stroke-width="0.18"  textLength="8.6" lengthAdjust="spacingAndGlyphs">Time</text>
<text transform="translate(108.1,950.7)" font-size="3.6" fill="#222" stroke="#222" stroke-width="0.14"  textLength="15.9" lengthAdjust="spacingAndGlyphs">RiskScore</text>
<rect x="126.3" y="947.1" width="5.2" height="4.8" fill="#E7B800" stroke="none" stroke-width="1" fill-opacity="0.35"/>
<line x1="126.3" y1="949.5" x2="131.5" y2="949.5" stroke="#E7B800" stroke-width="0.8" />
<text transform="translate(133.2,950.7)" font-size="3.2" fill="#333" stroke="#333" stroke-width="0.13"  textLength="6.4" lengthAdjust="spacingAndGlyphs">High</text>
<rect x="141.2" y="947.1" width="5.6" height="4.8" fill="#2E9FDF" stroke="none" stroke-width="1" fill-opacity="0.35"/>
<line x1="141.2" y1="949.5" x2="146.8" y2="949.5" stroke="#2E9FDF" stroke-width="0.8" />
<text transform="translate(148.7,950.7)" font-size="3.2" fill="#333" stroke="#333" stroke-width="0.13"  textLength="5.5" lengthAdjust="spacingAndGlyphs">Low</text>
<text transform="translate(45.1,1056.4)" font-size="4.8" fill="#111" stroke="#111" stroke-width="0.19"  textLength="28.2" lengthAdjust="spacingAndGlyphs">Number at risk</text>
<rect x="44.7" y="1059.3" width="171.6" height="17.1" fill="none" stroke="#888" stroke-width="0.6" />
<line x1="52.4" y1="1059.3" x2="52.4" y2="1076.4" stroke="#f0f0f0" stroke-width="0.4" />
<line x1="104.5" y1="1059.3" x2="104.5" y2="1076.4" stroke="#f0f0f0" stroke-width="0.4" />
<line x1="156.6" y1="1059.3" x2="156.6" y2="1076.4" stroke="#f0f0f0" stroke-width="0.4" />
<line x1="208.7" y1="1059.3" x2="208.7" y2="1076.4" stroke="#f0f0f0" stroke-width="0.4" />
<line x1="44.7" y1="1063.6" x2="216.3" y2="1063.6" stroke="#eee" stroke-width="0.4" />
<line x1="44.7" y1="1071.4" x2="216.3" y2="1071.4" stroke="#eee" stroke-width="0.4" />
<text transform="translate(52.4,1065.3) scale(1.1,1)" font-size="4.7" text-anchor="middle" fill="#111" stroke="#111" stroke-width="0.17" >114</text>
<text transform="translate(52.4,1073.1) scale(1.1,1)" font-size="4.7" text-anchor="middle" fill="#111" stroke="#111" stroke-width="0.17" >114</text>
<text transform="translate(104.5,1065.3) scale(1.1,1)" font-size="4.7" text-anchor="middle" fill="#111" stroke="#111" stroke-width="0.17" >7</text>
<text transform="translate(104.5,1073.1) scale(1.1,1)" font-size="4.7" text-anchor="middle" fill="#111" stroke="#111" stroke-width="0.17" >30</text>
<text transform="translate(156.6,1065.3) scale(1.1,1)" font-size="4.7" text-anchor="middle" fill="#111" stroke="#111" stroke-width="0.17" >0</text>
<text transform="translate(156.6,1073.1) scale(1.1,1)" font-size="4.7" text-anchor="middle" fill="#111" stroke="#111" stroke-width="0.17" >5</text>
<text transform="translate(208.7,1065.3) scale(1.1,1)" font-size="4.7" text-anchor="middle" fill="#111" stroke="#111" stroke-width="0.17" >0</text>
<text transform="translate(208.7,1073.1) scale(1.1,1)" font-size="4.7" text-anchor="middle" fill="#111" stroke="#111" stroke-width="0.17" >1</text>
<text transform="translate(43.2,1064.8)" font-size="2.9" text-anchor="end" fill="#E7B800" stroke="#E7B800" stroke-width="0.12"  textLength="6.2" lengthAdjust="spacingAndGlyphs">High</text>
<text transform="translate(43.2,1072.6)" font-size="2.9" text-anchor="end" fill="#2E9FDF" stroke="#2E9FDF" stroke-width="0.12"  textLength="5.2" lengthAdjust="spacingAndGlyphs">Low</text>
<rect x="290.1" y="957.4" width="171.9" height="83.8" fill="#fff" stroke="none" stroke-width="1" />
<line x1="297.9" y1="957.4" x2="297.9" y2="1041.2" stroke="#ebebeb" stroke-width="0.5" />
<line x1="336.9" y1="957.4" x2="336.9" y2="1041.2" stroke="#ebebeb" stroke-width="0.5" />
<line x1="375.9" y1="957.4" x2="375.9" y2="1041.2" stroke="#ebebeb" stroke-width="0.5" />
<line x1="414.9" y1="957.4" x2="414.9" y2="1041.2" stroke="#ebebeb" stroke-width="0.5" />
<line x1="453.9" y1="957.4" x2="453.9" y2="1041.2" stroke="#ebebeb" stroke-width="0.5" />
<line x1="317.4" y1="957.4" x2="317.4" y2="1041.2" stroke="#f4f4f4" stroke-width="0.3" />
<line x1="356.4" y1="957.4" x2="356.4" y2="1041.2" stroke="#f4f4f4" stroke-width="0.3" />
<line x1="395.4" y1="957.4" x2="395.4" y2="1041.2" stroke="#f4f4f4" stroke-width="0.3" />
<line x1="434.4" y1="957.4" x2="434.4" y2="1041.2" stroke="#f4f4f4" stroke-width="0.3" />
<line x1="290.1" y1="1037.3" x2="462" y2="1037.3" stroke="#ebebeb" stroke-width="0.5" />
<line x1="290.1" y1="1018.32" x2="462" y2="1018.32" stroke="#ebebeb" stroke-width="0.5" />
<line x1="290.1" y1="999.35" x2="462" y2="999.35" stroke="#ebebeb" stroke-width="0.5" />
<line x1="290.1" y1="980.38" x2="462" y2="980.38" stroke="#ebebeb" stroke-width="0.5" />
<line x1="290.1" y1="961.4" x2="462" y2="961.4" stroke="#ebebeb" stroke-width="0.5" />
<line x1="290.1" y1="1027.81" x2="462" y2="1027.81" stroke="#f4f4f4" stroke-width="0.3" />
<line x1="290.1" y1="1008.84" x2="462" y2="1008.84" stroke="#f4f4f4" stroke-width="0.3" />
<line x1="290.1" y1="989.86" x2="462" y2="989.86" stroke="#f4f4f4" stroke-width="0.3" />
<line x1="290.1" y1="970.89" x2="462" y2="970.89" stroke="#f4f4f4" stroke-width="0.3" />
<polygon points="298.57,960.72 314.5,961.34 319.38,963.17 326.74,963.17 330.4,966.84 335.31,968.67 341.43,969.91 345.1,974.2 348.76,977.86 353.67,981.53 356.12,985.81 363.48,988.27 369.6,991.34 374.48,993.79 375,993.79 386.02,994.39 387.24,998.08 392.14,998.67 394.6,1000.5 397.05,1003.58 398.26,1006.03 409.29,1006.65 416.64,1010.31 426.43,1010.93 438.67,1011.53 438.67,1036.83 435,1035.59 427.64,1035 427.64,1030.09 414.19,1028.88 409.29,1026.42 398.26,1026.42 397.05,1019.69 387.24,1019.07 386.02,1015.4 375,1014.78 374.48,1014.16 369.6,1009.28 363.48,1005.59 358.57,1002.54 353.67,997.64 350,992.14 345.1,987.85 341.43,984.78 336.52,982.95 332.86,979.9 329.19,976.83 324.29,974.38 319.38,972.54 314.5,968.88 309.6,966.42 304.69,963.97 298.57,962.76" fill="#2E9FDF" fill-opacity="0.40"/>
<polygon points="298.57,961.34 304.69,962.55 309.6,964.39 314.5,968.08 318.17,972.96 321.83,976.03 326.74,979.7 331.64,982.15 336.52,983.98 341.43,986.43 345.1,991.34 348.76,996.24 353.67,998.67 358.57,1001.74 363.48,1006.03 369.6,1010.93 374.48,1013.98 375,1014.6 386.02,1015.22 387.24,1018.27 394.6,1018.89 398.26,1020.72 412.95,1021.34 417.86,1018.27 438.67,1018.27 443.57,1018.89 443.57,1036.21 414.19,1036.21 412.95,1034.38 389.69,1033.76 388.48,1031.3 375,1030.71 374.48,1030.71 369.6,1030.09 365.9,1027.64 361.02,1025.19 356.12,1022.14 351.21,1017.85 347.55,1011.73 343.88,1006.83 338.98,1003.16 334.07,999.47 327.95,997.04 323.07,992.14 319.38,988.47 315.71,982.33 310.81,977.45 307.14,971.33 301.02,969.47 298.57,963.35" fill="#E7B800" fill-opacity="0.40"/>
<polyline points="298.57,961.74 300.61,961.74 302.65,961.74 304.69,961.74 305.75,961.74 305.75,962.65 307.14,962.65 308.63,962.65 308.63,963.57 309.6,963.57 311.09,963.57 311.09,964.18 312.05,964.18 312.99,964.18 312.99,964.79 314.5,964.79 315.93,964.79 315.93,966.32 316.94,966.32 318.29,966.32 318.29,967.86 319.38,967.86 320.41,967.86 320.41,968.01 321.22,968.01 321.85,968.01 321.85,968.17 323.06,968.17 324.18,968.17 324.18,968.32 324.9,968.32 325.75,968.32 325.75,968.48 326.74,968.48 328.15,968.48 328.15,970.93 329.19,970.93 330.13,970.93 330.13,972.76 331.02,972.76 332.1,972.76 332.1,974.6 332.86,974.6 333.91,974.6 333.91,975.82 334.69,975.82 335.51,975.82 335.51,977.05 336.52,977.05 337.85,977.05 337.85,977.65 338.98,977.65 340.48,977.65 340.48,978.26 341.43,978.26 342.58,978.26 342.58,980.71 343.26,980.71 344.42,980.71 344.42,983.17 345.1,983.17 345.77,983.17 345.77,985 346.93,985 347.93,985 347.93,986.83 348.76,986.83 350.2,986.83 350.2,990.5 351.21,990.5 352.32,990.5 352.32,992.95 353.67,992.95 354.01,992.95 354.01,997.24 354.9,997.24 355.97,997.24 355.97,997.55 356.74,997.55 357.69,997.55 357.69,997.86 358.57,997.86 360.08,997.86 360.08,998.46 361.02,998.46 362.1,998.46 362.1,999.07 363.48,999.07 364.15,999.07 364.15,1000.61 365.31,1000.61 366.27,1000.61 366.27,1002.14 367.14,1002.14 368.27,1002.14 368.27,1003.06 368.98,1003.06 369.98,1003.06 369.98,1003.98 370.81,1003.98 371.8,1003.98 371.8,1004.58 373.26,1004.58 374.39,1004.58 374.39,1005.19 375.71,1005.19 375.13,1005.19 375.13,1006.43 375,1006.43 377.08,1006.43 379.16,1006.43 381.24,1006.43 383.32,1006.43 385.4,1006.43 386.26,1006.43 386.26,1010.1 387.24,1010.1 388.63,1010.1 388.63,1010.71 389.69,1010.71 390.89,1010.71 390.89,1011.33 392.14,1011.33 393.39,1011.33 393.39,1013.76 394.6,1013.76 395.35,1013.76 395.35,1016.21 396.43,1016.21 397.36,1016.21 397.36,1018.67 398.26,1018.67 399.47,1018.67 399.47,1018.77 400.1,1018.77 400.96,1018.77 400.96,1018.87 401.94,1018.87 402.74,1018.87 402.74,1018.98 403.77,1018.98 404.81,1018.98 404.81,1019.08 405.61,1019.08 406.76,1019.08 406.76,1019.18 407.45,1019.18 408.1,1019.18 408.1,1019.29 409.29,1019.29 409.98,1019.29 409.98,1021.12 410.5,1021.12 411.58,1021.12 411.58,1021.33 412.55,1021.33 413.63,1021.33 413.63,1021.53 414.6,1021.53 415.63,1021.53 415.63,1021.74 416.64,1021.74 417.36,1021.74 417.36,1024.79 417.86,1024.79 419.14,1024.79 419.14,1024.94 420,1024.94 420.92,1024.94 420.92,1025.1 422.14,1025.1 423,1025.1 423,1025.25 424.29,1025.25 425.14,1025.25 425.14,1025.4 426.43,1025.4 427.07,1025.4 427.07,1029.07 427.64,1029.07 428.51,1029.07 428.51,1029.28 429.68,1029.28 430.69,1029.28 430.69,1029.48 431.72,1029.48 432.76,1029.48 432.76,1029.69 433.76,1029.69 434.34,1029.69 434.34,1033.36 435,1033.36 436.83,1033.36 438.67,1033.36" fill="none" stroke="#2E9FDF" stroke-width="0.85" stroke-linejoin="miter"/>
<polyline points="298.57,962.36 299.54,962.36 299.54,966.02 301.02,966.02 301.9,966.02 301.9,966.33 302.86,966.33 303.62,966.33 303.62,966.64 304.69,966.64 305.88,966.64 305.88,967.56 307.14,967.56 308.22,967.56 308.22,968.48 309.6,968.48 311.04,968.48 311.04,972.14 312.05,972.14 313.31,972.14 313.31,973.98 314.5,973.98 315.86,973.98 315.86,978.26 316.93,978.26 318.41,978.26 318.41,983.17 319.38,983.17 320.3,983.17 320.3,985 321.23,985 322.13,985 322.13,986.83 323.07,986.83 323.76,986.83 323.76,987.45 324.9,987.45 325.99,987.45 325.99,988.07 326.74,988.07 327.4,988.07 327.4,990.21 328.57,990.21 329.41,990.21 329.41,992.36 330.4,992.36 331.22,992.36 331.22,992.97 332.44,992.97 333.6,992.97 333.6,993.58 334.48,993.58 335.48,993.58 335.48,994.19 336.52,994.19 337.75,994.19 337.75,995.71 338.98,995.71 340.22,995.71 340.22,997.24 341.43,997.24 342.86,997.24 342.86,999.69 343.88,999.69 345.4,999.69 345.4,1003.98 346.33,1003.98 347.47,1003.98 347.47,1007.64 348.76,1007.64 350.22,1007.64 350.22,1009.49 351.21,1009.49 352.57,1009.49 352.57,1011.33 353.67,1011.33 354.7,1011.33 354.7,1013.17 355.5,1013.17 356.7,1013.17 356.7,1015 357.33,1015 358.38,1015 358.38,1016.23 359.79,1016.23 360.9,1016.23 360.9,1017.45 362.24,1017.45 363.14,1017.45 363.14,1018.06 364.07,1018.06 364.87,1018.06 364.87,1018.67 365.9,1018.67 366.7,1018.67 366.7,1020.5 367.75,1020.5 368.49,1020.5 368.49,1022.33 369.6,1022.33 371.07,1022.33 371.07,1023.32 372.04,1023.32 373.54,1023.32 373.54,1024.31 374.48,1024.31 374.96,1024.31 374.96,1024.55 375,1024.55 376.2,1024.55 376.2,1025.04 377.04,1025.04 378,1025.04 378,1025.53 379.08,1025.53 379.99,1025.53 379.99,1026.02 381.12,1026.02 382.13,1026.02 382.13,1026.33 383.26,1026.33 384.04,1026.33 384.04,1026.63 385.4,1026.63 386.25,1026.63 386.25,1026.93 387.55,1026.93 388.6,1026.93 388.6,1027.24 389.69,1027.24 390.87,1027.24 390.87,1028.48 392.14,1028.48 393.21,1028.48 393.21,1028.54 394.1,1028.54 395.12,1028.54 395.12,1028.6 396.06,1028.6 396.8,1028.6 396.8,1028.65 398.02,1028.65 399.21,1028.65 399.21,1028.71 399.98,1028.71 400.92,1028.71 400.92,1028.77 401.94,1028.77 402.91,1028.77 402.91,1028.83 403.9,1028.83 404.8,1028.83 404.8,1028.89 405.86,1028.89 406.76,1028.89 406.76,1028.95 407.82,1028.95 409.05,1028.95 409.05,1029.01 409.78,1029.01 411.04,1029.01 411.04,1029.07 411.74,1029.07 412.16,1029.07 412.16,1031.52 412.95,1031.52 414.89,1031.52 416.83,1031.52 418.77,1031.52 420.71,1031.52 422.64,1031.52 424.58,1031.52 426.52,1031.52 428.46,1031.52 430.4,1031.52 432.34,1031.52 434.28,1031.52 436.21,1031.52 437.69,1031.52 437.69,1032.14 438.67,1032.14 440.08,1032.14 440.08,1031.83 441.12,1031.83 442.54,1031.83 442.54,1031.52 443.57,1031.52" fill="none" stroke="#E7B800" stroke-width="0.85" stroke-linejoin="miter"/>
<polyline points="297.9,999.35 365.5,999.35" fill="none" stroke="#222" stroke-width="0.6" stroke-dasharray="1.2,1.2"/>
<line x1="343.5" y1="999.35" x2="343.5" y2="1037.3" stroke="#222" stroke-width="0.6" stroke-dasharray="1.2,1.2"/>
<line x1="365.5" y1="999.35" x2="365.5" y2="1037.3" stroke="#222" stroke-width="0.6" stroke-dasharray="1.2,1.2"/>
<rect x="290.1" y="957.4" width="171.9" height="83.8" fill="none" stroke="#b5b5b5" stroke-width="0.6" />
<text transform="translate(301,1024.3)" font-size="4.9" fill="#111" stroke="#111" stroke-width="0.2"  textLength="21.4" lengthAdjust="spacingAndGlyphs">p = 0.0024</text>
<line x1="297.9" y1="1041.2" x2="297.9" y2="1042.7" stroke="#555" stroke-width="0.4" />
<text transform="translate(297.9,1045.4)" font-size="3" text-anchor="middle" fill="#555" stroke="#555" stroke-width="0.12" >0</text>
<line x1="336.9" y1="1041.2" x2="336.9" y2="1042.7" stroke="#555" stroke-width="0.4" />
<text transform="translate(336.9,1045.4)" font-size="3" text-anchor="middle" fill="#555" stroke="#555" stroke-width="0.12" >1</text>
<line x1="375.9" y1="1041.2" x2="375.9" y2="1042.7" stroke="#555" stroke-width="0.4" />
<text transform="translate(375.9,1045.4)" font-size="3" text-anchor="middle" fill="#555" stroke="#555" stroke-width="0.12" >2</text>
<line x1="414.9" y1="1041.2" x2="414.9" y2="1042.7" stroke="#555" stroke-width="0.4" />
<text transform="translate(414.9,1045.4)" font-size="3" text-anchor="middle" fill="#555" stroke="#555" stroke-width="0.12" >3</text>
<line x1="453.9" y1="1041.2" x2="453.9" y2="1042.7" stroke="#555" stroke-width="0.4" />
<text transform="translate(453.9,1045.4)" font-size="3" text-anchor="middle" fill="#555" stroke="#555" stroke-width="0.12" >4</text>
<line x1="288.9" y1="1037.3" x2="290.1" y2="1037.3" stroke="#333" stroke-width="0.5" />
<text transform="translate(288.4,1038.4)" font-size="3.1" text-anchor="end" fill="#555" stroke="#555" stroke-width="0.12" >0.00</text>
<line x1="288.9" y1="1018.32" x2="290.1" y2="1018.32" stroke="#333" stroke-width="0.5" />
<text transform="translate(288.4,1019.42)" font-size="3.1" text-anchor="end" fill="#555" stroke="#555" stroke-width="0.12" >0.25</text>
<line x1="288.9" y1="999.35" x2="290.1" y2="999.35" stroke="#333" stroke-width="0.5" />
<text transform="translate(288.4,1000.45)" font-size="3.1" text-anchor="end" fill="#555" stroke="#555" stroke-width="0.12" >0.50</text>
<line x1="288.9" y1="980.38" x2="290.1" y2="980.38" stroke="#333" stroke-width="0.5" />
<text transform="translate(288.4,981.48)" font-size="3.1" text-anchor="end" fill="#555" stroke="#555" stroke-width="0.12" >0.75</text>
<line x1="288.9" y1="961.4" x2="290.1" y2="961.4" stroke="#333" stroke-width="0.5" />
<text transform="translate(288.4,962.5)" font-size="3.1" text-anchor="end" fill="#555" stroke="#555" stroke-width="0.12" >1.00</text>
<text transform="translate(281.3,999.7) rotate(-90)" font-size="3.8" text-anchor="middle" fill="#222" stroke="#222" stroke-width="0.15"  textLength="29.1" lengthAdjust="spacingAndGlyphs">Survival probability</text>
<text transform="translate(376.05,1049.4)" font-size="4.4" text-anchor="middle" fill="#222" stroke="#222" stroke-width="0.18"  textLength="8.6" lengthAdjust="spacingAndGlyphs">Time</text>
<text transform="translate(353.5,950.5)" font-size="3.6" fill="#222" stroke="#222" stroke-width="0.14"  textLength="15.9" lengthAdjust="spacingAndGlyphs">RiskScore</text>
<rect x="371.7" y="946.9" width="5.2" height="4.8" fill="#E7B800" stroke="none" stroke-width="1" fill-opacity="0.35"/>
<line x1="371.7" y1="949.3" x2="376.9" y2="949.3" stroke="#E7B800" stroke-width="0.8" />
<text transform="translate(378.6,950.5)" font-size="3.2" fill="#333" stroke="#333" stroke-width="0.13"  textLength="6.4" lengthAdjust="spacingAndGlyphs">High</text>
<rect x="386.6" y="946.9" width="5.6" height="4.8" fill="#2E9FDF" stroke="none" stroke-width="1" fill-opacity="0.35"/>
<line x1="386.6" y1="949.3" x2="392.2" y2="949.3" stroke="#2E9FDF" stroke-width="0.8" />
<text transform="translate(394.1,950.5)" font-size="3.2" fill="#333" stroke="#333" stroke-width="0.13"  textLength="5.5" lengthAdjust="spacingAndGlyphs">Low</text>
<text transform="translate(290.8,1056.4)" font-size="4.8" fill="#111" stroke="#111" stroke-width="0.19"  textLength="28.2" lengthAdjust="spacingAndGlyphs">Number at risk</text>
<rect x="290.4" y="1059.3" width="172.2" height="17.1" fill="none" stroke="#888" stroke-width="0.6" />
<line x1="297.9" y1="1059.3" x2="297.9" y2="1076.4" stroke="#f0f0f0" stroke-width="0.4" />
<line x1="336.9" y1="1059.3" x2="336.9" y2="1076.4" stroke="#f0f0f0" stroke-width="0.4" />
<line x1="375.9" y1="1059.3" x2="375.9" y2="1076.4" stroke="#f0f0f0" stroke-width="0.4" />
<line x1="414.9" y1="1059.3" x2="414.9" y2="1076.4" stroke="#f0f0f0" stroke-width="0.4" />
<line x1="453.9" y1="1059.3" x2="453.9" y2="1076.4" stroke="#f0f0f0" stroke-width="0.4" />
<line x1="290.4" y1="1063.6" x2="462.6" y2="1063.6" stroke="#eee" stroke-width="0.4" />
<line x1="290.4" y1="1071.4" x2="462.6" y2="1071.4" stroke="#eee" stroke-width="0.4" />
<text transform="translate(297.9,1065.3) scale(1.1,1)" font-size="4.7" text-anchor="middle" fill="#111" stroke="#111" stroke-width="0.17" >78</text>
<text transform="translate(297.9,1073.1) scale(1.1,1)" font-size="4.7" text-anchor="middle" fill="#111" stroke="#111" stroke-width="0.17" >79</text>
<text transform="translate(336.9,1065.3) scale(1.1,1)" font-size="4.7" text-anchor="middle" fill="#111" stroke="#111" stroke-width="0.17" >30</text>
<text transform="translate(336.9,1073.1) scale(1.1,1)" font-size="4.7" text-anchor="middle" fill="#111" stroke="#111" stroke-width="0.17" >42</text>
<text transform="translate(375.9,1065.3) scale(1.1,1)" font-size="4.7" text-anchor="middle" fill="#111" stroke="#111" stroke-width="0.17" >7</text>
<text transform="translate(375.9,1073.1) scale(1.1,1)" font-size="4.7" text-anchor="middle" fill="#111" stroke="#111" stroke-width="0.17" >16</text>
<text transform="translate(414.9,1065.3) scale(1.1,1)" font-size="4.7" text-anchor="middle" fill="#111" stroke="#111" stroke-width="0.17" >2</text>
<text transform="translate(414.9,1073.1) scale(1.1,1)" font-size="4.7" text-anchor="middle" fill="#111" stroke="#111" stroke-width="0.17" >7</text>
<text transform="translate(453.9,1065.3) scale(1.1,1)" font-size="4.7" text-anchor="middle" fill="#111" stroke="#111" stroke-width="0.17" >0</text>
<text transform="translate(453.9,1073.1) scale(1.1,1)" font-size="4.7" text-anchor="middle" fill="#111" stroke="#111" stroke-width="0.17" >0</text>
<text transform="translate(288.9,1064.8)" font-size="2.9" text-anchor="end" fill="#E7B800" stroke="#E7B800" stroke-width="0.12"  textLength="6.2" lengthAdjust="spacingAndGlyphs">High</text>
<text transform="translate(288.9,1072.6)" font-size="2.9" text-anchor="end" fill="#2E9FDF" stroke="#2E9FDF" stroke-width="0.12"  textLength="5.2" lengthAdjust="spacingAndGlyphs">Low</text>
<rect x="538.1" y="959.4" width="169.7" height="83" fill="#fff" stroke="none" stroke-width="1" />
<line x1="545.6" y1="959.4" x2="545.6" y2="1042.4" stroke="#ebebeb" stroke-width="0.5" />
<line x1="584" y1="959.4" x2="584" y2="1042.4" stroke="#ebebeb" stroke-width="0.5" />
<line x1="622.4" y1="959.4" x2="622.4" y2="1042.4" stroke="#ebebeb" stroke-width="0.5" />
<line x1="660.8" y1="959.4" x2="660.8" y2="1042.4" stroke="#ebebeb" stroke-width="0.5" />
<line x1="699.2" y1="959.4" x2="699.2" y2="1042.4" stroke="#ebebeb" stroke-width="0.5" />
<line x1="564.8" y1="959.4" x2="564.8" y2="1042.4" stroke="#f4f4f4" stroke-width="0.3" />
<line x1="603.2" y1="959.4" x2="603.2" y2="1042.4" stroke="#f4f4f4" stroke-width="0.3" />
<line x1="641.6" y1="959.4" x2="641.6" y2="1042.4" stroke="#f4f4f4" stroke-width="0.3" />
<line x1="680" y1="959.4" x2="680" y2="1042.4" stroke="#f4f4f4" stroke-width="0.3" />
<line x1="538.1" y1="1038.8" x2="707.8" y2="1038.8" stroke="#ebebeb" stroke-width="0.5" />
<line x1="538.1" y1="1019.85" x2="707.8" y2="1019.85" stroke="#ebebeb" stroke-width="0.5" />
<line x1="538.1" y1="1000.9" x2="707.8" y2="1000.9" stroke="#ebebeb" stroke-width="0.5" />
<line x1="538.1" y1="981.95" x2="707.8" y2="981.95" stroke="#ebebeb" stroke-width="0.5" />
<line x1="538.1" y1="963" x2="707.8" y2="963" stroke="#ebebeb" stroke-width="0.5" />
<line x1="538.1" y1="1029.33" x2="707.8" y2="1029.33" stroke="#f4f4f4" stroke-width="0.3" />
<line x1="538.1" y1="1010.38" x2="707.8" y2="1010.38" stroke="#f4f4f4" stroke-width="0.3" />
<line x1="538.1" y1="991.42" x2="707.8" y2="991.42" stroke="#f4f4f4" stroke-width="0.3" />
<line x1="538.1" y1="972.47" x2="707.8" y2="972.47" stroke="#f4f4f4" stroke-width="0.3" />
<polygon points="545.95,962.36 556.36,962.72 560.05,965.79 563.71,968.84 567.38,972.53 571.07,973.74 573.5,978.03 577.19,983.53 580.86,987.22 583.31,993.34 595.55,993.96 598,998.84 602.9,999.46 606.57,1003.12 611.48,1006.79 622.48,1009.86 623,1009.86 707.48,1009.86 707.48,1031.47 623,1031.47 622.48,1030.88 611.48,1022.9 606.57,1022.3 601.67,1019.85 595.55,1017.4 590.64,1011.28 583.31,1008.21 580.86,1003.92 577.19,1000.26 573.5,995.97 569.83,991.69 566.17,985.57 562.5,979.45 558.81,974.54 555.14,970.88 550.24,965.97 545.95,964.14" fill="#2E9FDF" fill-opacity="0.40"/>
<polygon points="545.95,962.36 550.24,962.72 552.07,965.79 553.93,968.84 556.36,972.53 560.05,977.41 562.5,984.77 563.71,990.89 564.93,997 567.38,999.46 574.74,1001.91 582.07,1003.12 584.52,1008.03 594.33,1011.08 596.76,1016.6 611.48,1017.22 623,1017.22 632.19,1017.22 632.19,1037.59 623,1037 601.67,1037 596.76,1032.09 593.1,1030.88 589.43,1027.19 584.52,1025.35 582.07,1023.52 577.19,1024.73 571.07,1022.3 566.17,1016.16 563.71,1008.83 562.5,999.04 558.81,990.47 556.36,981.9 552.69,974.54 550.24,967.19 545.95,964.14" fill="#E7B800" fill-opacity="0.40"/>
<polyline points="545.95,963.12 548.1,963.12 550.24,963.12 551.35,963.12 551.35,964.95 552.69,964.95 553.65,964.95 553.65,965.87 554.52,965.87 555.3,965.87 555.3,966.79 556.36,966.79 557.46,966.79 557.46,968.01 558.2,968.01 559.11,968.01 559.11,969.24 560.05,969.24 561.17,969.24 561.17,974.14 562.5,974.14 563.65,974.14 563.65,979.05 564.33,979.05 565.27,979.05 565.27,979.35 565.86,979.35 566.83,979.35 566.83,979.64 567.38,979.64 568.71,979.64 568.71,982.71 569.83,982.71 570.87,982.71 570.87,986.38 572.29,986.38 573.45,986.38 573.45,991.29 574.74,991.29 575.81,991.29 575.81,994.95 577.19,994.95 578.59,994.95 578.59,998.02 579.64,998.02 580.56,998.02 580.56,1000.48 582.07,1000.48 582.86,1000.48 582.86,1006.6 583.31,1006.6 584.03,1006.6 584.03,1006.69 585.15,1006.69 585.95,1006.69 585.95,1006.79 586.98,1006.79 587.98,1006.79 587.98,1006.89 588.82,1006.89 589.85,1006.89 589.85,1006.99 590.66,1006.99 591.58,1006.99 591.58,1007.09 592.5,1007.09 593.45,1007.09 593.45,1007.19 594.33,1007.19 594.99,1007.19 594.99,1010.88 595.55,1010.88 596.52,1010.88 596.52,1011.8 597.38,1011.8 598.06,1011.8 598.06,1012.71 599.21,1012.71 600.32,1012.71 600.32,1013.32 601.67,1013.32 602.61,1013.32 602.61,1013.93 604.12,1013.93 605.08,1013.93 605.08,1014.55 605.95,1014.55 606.75,1014.55 606.75,1015.17 607.79,1015.17 608.86,1015.17 608.86,1020.67 610.24,1020.67 611.02,1020.67 611.02,1020.98 612.07,1020.98 613.25,1020.98 613.25,1021.29 613.9,1021.29 614.6,1021.29 614.6,1021.44 615.74,1021.44 616.9,1021.44 616.9,1021.6 617.58,1021.6 618.74,1021.6 618.74,1021.75 619.42,1021.75 620.16,1021.75 620.16,1021.9 621.26,1021.9 622.07,1021.9 622.07,1023.74 622.48,1023.74 622.56,1023.74 622.56,1024.1 623,1024.1 625.01,1024.1 627.02,1024.1 629.03,1024.1 631.05,1024.1 633.06,1024.1 635.07,1024.1 637.08,1024.1 639.09,1024.1 641.1,1024.1 643.11,1024.1 645.12,1024.1 647.14,1024.1 649.15,1024.1 651.16,1024.1 653.17,1024.1 655.18,1024.1 657.19,1024.1 659.2,1024.1 661.22,1024.1 663.23,1024.1 665.24,1024.1 667.25,1024.1 669.26,1024.1 671.27,1024.1 673.28,1024.1 675.29,1024.1 677.31,1024.1 679.32,1024.1 681.33,1024.1 683.34,1024.1 685.35,1024.1 687.36,1024.1 689.37,1024.1 691.39,1024.1 693.4,1024.1 695.41,1024.1 697.42,1024.1 699.43,1024.1 701.44,1024.1 703.45,1024.1 705.46,1024.1 707.48,1024.1" fill="none" stroke="#2E9FDF" stroke-width="0.85" stroke-linejoin="miter"/>
<polyline points="545.95,963.12 546.77,963.12 546.77,963.43 548.1,963.43 549.33,963.43 549.33,963.74 550.24,963.74 551.14,963.74 551.14,968.02 551.48,968.02 552.03,968.02 552.03,971.69 552.69,971.69 554.18,971.69 554.18,976.6 555.14,976.6 556.33,976.6 556.33,981.5 557.6,981.5 558.89,981.5 558.89,987.62 560.05,987.62 561.22,987.62 561.22,993.74 561.88,993.74 562.31,993.74 562.31,1002.31 563.1,1002.31 563.13,1002.31 563.13,1005.98 563.71,1005.98 564.75,1005.98 564.75,1010.88 566.17,1010.88 567.11,1010.88 567.11,1013.02 568.62,1013.02 569.81,1013.02 569.81,1015.17 571.07,1015.17 571.76,1015.17 571.76,1015.77 572.9,1015.77 573.58,1015.77 573.58,1016.38 574.74,1016.38 576.57,1016.38 578.4,1016.38 580.24,1016.38 582.07,1016.38 583.18,1016.38 583.18,1019.45 584.52,1019.45 585.69,1019.45 585.69,1020.37 586.98,1020.37 588.43,1020.37 588.43,1021.29 589.43,1021.29 590.36,1021.29 590.36,1026.79 591.88,1026.79 592.89,1026.79 592.89,1028.01 593.71,1028.01 594.88,1028.01 594.88,1029.24 595.55,1029.24 596.6,1029.24 596.6,1029.86 597.38,1029.86 598.09,1029.86 598.09,1030.48 599.21,1030.48 600.23,1030.48 600.23,1033.52 601.67,1033.52 603.61,1033.52 605.55,1033.52 607.48,1033.52 609.42,1033.52 611.36,1033.52 613.3,1033.52 615.24,1033.52 617.18,1033.52 619.12,1033.52 621.06,1033.52 623,1033.52 624.84,1033.52 626.68,1033.52 628.51,1033.52 630.35,1033.52 632.19,1033.52 632.14,1033.52 632.14,1038.43 632.24,1038.43" fill="none" stroke="#E7B800" stroke-width="0.85" stroke-linejoin="miter"/>
<polyline points="545.6,1000.9 582.1,1000.9" fill="none" stroke="#222" stroke-width="0.6" stroke-dasharray="1.2,1.2"/>
<line x1="562.9" y1="1000.9" x2="562.9" y2="1038.8" stroke="#222" stroke-width="0.6" stroke-dasharray="1.2,1.2"/>
<line x1="582.1" y1="1000.9" x2="582.1" y2="1038.8" stroke="#222" stroke-width="0.6" stroke-dasharray="1.2,1.2"/>
<rect x="538.1" y="959.4" width="169.7" height="83" fill="none" stroke="#b5b5b5" stroke-width="0.6" />
<text transform="translate(549,1025.2)" font-size="4.9" fill="#111" stroke="#111" stroke-width="0.2"  textLength="23.8" lengthAdjust="spacingAndGlyphs">p = 0.00015</text>
<line x1="545.6" y1="1042.4" x2="545.6" y2="1043.9" stroke="#555" stroke-width="0.4" />
<text transform="translate(545.6,1046.6)" font-size="3" text-anchor="middle" fill="#555" stroke="#555" stroke-width="0.12" >0</text>
<line x1="584" y1="1042.4" x2="584" y2="1043.9" stroke="#555" stroke-width="0.4" />
<text transform="translate(584,1046.6)" font-size="3" text-anchor="middle" fill="#555" stroke="#555" stroke-width="0.12" >4</text>
<line x1="622.4" y1="1042.4" x2="622.4" y2="1043.9" stroke="#555" stroke-width="0.4" />
<text transform="translate(622.4,1046.6)" font-size="3" text-anchor="middle" fill="#555" stroke="#555" stroke-width="0.12" >8</text>
<line x1="660.8" y1="1042.4" x2="660.8" y2="1043.9" stroke="#555" stroke-width="0.4" />
<text transform="translate(660.8,1046.6)" font-size="3" text-anchor="middle" fill="#555" stroke="#555" stroke-width="0.12" >12</text>
<line x1="699.2" y1="1042.4" x2="699.2" y2="1043.9" stroke="#555" stroke-width="0.4" />
<text transform="translate(699.2,1046.6)" font-size="3" text-anchor="middle" fill="#555" stroke="#555" stroke-width="0.12" >16</text>
<line x1="536.9" y1="1038.8" x2="538.1" y2="1038.8" stroke="#333" stroke-width="0.5" />
<text transform="translate(536.4,1039.9)" font-size="3.1" text-anchor="end" fill="#555" stroke="#555" stroke-width="0.12" >0.00</text>
<line x1="536.9" y1="1019.85" x2="538.1" y2="1019.85" stroke="#333" stroke-width="0.5" />
<text transform="translate(536.4,1020.95)" font-size="3.1" text-anchor="end" fill="#555" stroke="#555" stroke-width="0.12" >0.25</text>
<line x1="536.9" y1="1000.9" x2="538.1" y2="1000.9" stroke="#333" stroke-width="0.5" />
<text transform="translate(536.4,1002)" font-size="3.1" text-anchor="end" fill="#555" stroke="#555" stroke-width="0.12" >0.50</text>
<line x1="536.9" y1="981.95" x2="538.1" y2="981.95" stroke="#333" stroke-width="0.5" />
<text transform="translate(536.4,983.05)" font-size="3.1" text-anchor="end" fill="#555" stroke="#555" stroke-width="0.12" >0.75</text>
<line x1="536.9" y1="963" x2="538.1" y2="963" stroke="#333" stroke-width="0.5" />
<text transform="translate(536.4,964.1)" font-size="3.1" text-anchor="end" fill="#555" stroke="#555" stroke-width="0.12" >1.00</text>
<text transform="translate(529.3,1001.3) rotate(-90)" font-size="3.8" text-anchor="middle" fill="#222" stroke="#222" stroke-width="0.15"  textLength="29.1" lengthAdjust="spacingAndGlyphs">Survival probability</text>
<text transform="translate(622.95,1050.6)" font-size="4.4" text-anchor="middle" fill="#222" stroke="#222" stroke-width="0.18"  textLength="8.6" lengthAdjust="spacingAndGlyphs">Time</text>
<text transform="translate(599.5,953.2)" font-size="3.6" fill="#222" stroke="#222" stroke-width="0.14"  textLength="15.9" lengthAdjust="spacingAndGlyphs">RiskScore</text>
<rect x="617.7" y="949.6" width="5.2" height="4.8" fill="#E7B800" stroke="none" stroke-width="1" fill-opacity="0.35"/>
<line x1="617.7" y1="952" x2="622.9" y2="952" stroke="#E7B800" stroke-width="0.8" />
<text transform="translate(624.6,953.2)" font-size="3.2" fill="#333" stroke="#333" stroke-width="0.13"  textLength="6.4" lengthAdjust="spacingAndGlyphs">High</text>
<rect x="632.6" y="949.6" width="5.6" height="4.8" fill="#2E9FDF" stroke="none" stroke-width="1" fill-opacity="0.35"/>
<line x1="632.6" y1="952" x2="638.2" y2="952" stroke="#2E9FDF" stroke-width="0.8" />
<text transform="translate(640.1,953.2)" font-size="3.2" fill="#333" stroke="#333" stroke-width="0.13"  textLength="5.5" lengthAdjust="spacingAndGlyphs">Low</text>
<text transform="translate(538.5,1056.8)" font-size="4.8" fill="#111" stroke="#111" stroke-width="0.19"  textLength="28.2" lengthAdjust="spacingAndGlyphs">Number at risk</text>
<rect x="538.1" y="1059.7" width="169.7" height="16.7" fill="none" stroke="#888" stroke-width="0.6" />
<line x1="545.6" y1="1059.7" x2="545.6" y2="1076.4" stroke="#f0f0f0" stroke-width="0.4" />
<line x1="584" y1="1059.7" x2="584" y2="1076.4" stroke="#f0f0f0" stroke-width="0.4" />
<line x1="622.4" y1="1059.7" x2="622.4" y2="1076.4" stroke="#f0f0f0" stroke-width="0.4" />
<line x1="660.8" y1="1059.7" x2="660.8" y2="1076.4" stroke="#f0f0f0" stroke-width="0.4" />
<line x1="699.2" y1="1059.7" x2="699.2" y2="1076.4" stroke="#f0f0f0" stroke-width="0.4" />
<line x1="538.1" y1="1063.8" x2="707.8" y2="1063.8" stroke="#eee" stroke-width="0.4" />
<line x1="538.1" y1="1071.5" x2="707.8" y2="1071.5" stroke="#eee" stroke-width="0.4" />
<text transform="translate(545.6,1065.5) scale(1.1,1)" font-size="4.7" text-anchor="middle" fill="#111" stroke="#111" stroke-width="0.17" >45</text>
<text transform="translate(545.6,1073.2) scale(1.1,1)" font-size="4.7" text-anchor="middle" fill="#111" stroke="#111" stroke-width="0.17" >48</text>
<text transform="translate(584,1065.5) scale(1.1,1)" font-size="4.7" text-anchor="middle" fill="#111" stroke="#111" stroke-width="0.17" >11</text>
<text transform="translate(584,1073.2) scale(1.1,1)" font-size="4.7" text-anchor="middle" fill="#111" stroke="#111" stroke-width="0.17" >17</text>
<text transform="translate(622.4,1065.5) scale(1.1,1)" font-size="4.7" text-anchor="middle" fill="#111" stroke="#111" stroke-width="0.17" >1</text>
<text transform="translate(622.4,1073.2) scale(1.1,1)" font-size="4.7" text-anchor="middle" fill="#111" stroke="#111" stroke-width="0.17" >5</text>
<text transform="translate(660.8,1065.5) scale(1.1,1)" font-size="4.7" text-anchor="middle" fill="#111" stroke="#111" stroke-width="0.17" >0</text>
<text transform="translate(660.8,1073.2) scale(1.1,1)" font-size="4.7" text-anchor="middle" fill="#111" stroke="#111" stroke-width="0.17" >1</text>
<text transform="translate(699.2,1065.5) scale(1.1,1)" font-size="4.7" text-anchor="middle" fill="#111" stroke="#111" stroke-width="0.17" >0</text>
<text transform="translate(699.2,1073.2) scale(1.1,1)" font-size="4.7" text-anchor="middle" fill="#111" stroke="#111" stroke-width="0.17" >1</text>
<text transform="translate(536.6,1065)" font-size="2.9" text-anchor="end" fill="#E7B800" stroke="#E7B800" stroke-width="0.12"  textLength="6.2" lengthAdjust="spacingAndGlyphs">High</text>
<text transform="translate(536.6,1072.7)" font-size="2.9" text-anchor="end" fill="#2E9FDF" stroke="#2E9FDF" stroke-width="0.12"  textLength="5.2" lengthAdjust="spacingAndGlyphs">Low</text>
<text transform="translate(1.3,1104.6)" font-size="19" font-weight="bold" fill="#2a1d1d" stroke="#2a1d1d" stroke-width="0.45">J.</text>
<text transform="translate(255.8,1104.5)" font-size="19" font-weight="bold" fill="#2a1d1d" stroke="#2a1d1d" stroke-width="0.45">K.</text>
<text transform="translate(496.8,1104.5)" font-size="19" font-weight="bold" fill="#2a1d1d" stroke="#2a1d1d" stroke-width="0.45">L.</text>
<line x1="66.2" y1="1207.5" x2="208.2" y2="1109.3" stroke="#d0d0d0" stroke-width="0.6" />
<polyline points="66.27,1206.48 66.27,1189.07 66.71,1189.07 66.71,1171.66 68.88,1171.66 68.88,1166.21 72.15,1166.21 72.15,1160.77 75.41,1160.77 75.41,1154.24 79.77,1154.24 79.77,1148.8 88.47,1148.8 88.47,1144.45 90.65,1144.45 90.65,1141.18 98.27,1141.18 98.27,1130.3 100.45,1130.3 100.45,1127.03 103.71,1127.03 103.71,1122.68 108.07,1122.68 108.07,1119.41 118.95,1119.41 118.95,1118.33 123.3,1118.33 123.3,1117.24 132.01,1117.24 132.01,1113.97 138.54,1113.97 138.54,1110.71 149.42,1110.71 149.42,1110.71 164.66,1110.71 164.66,1109.62 179.9,1109.62 179.9,1109.18 208.2,1109.18" fill="none" stroke="#e2b4bc" stroke-width="0.85" />
<polyline points="66.27,1202.13 66.27,1183.63 67.8,1183.63 67.8,1181.45 69.97,1181.45 69.97,1178.19 72.15,1178.19 72.15,1176.01 75.41,1176.01 75.41,1172.74 78.68,1172.74 78.68,1169.48 81.94,1169.48 81.94,1167.3 84.12,1167.3 84.12,1162.95 86.3,1162.95 86.3,1154.24 87.39,1154.24 87.39,1150.98 90.65,1150.98 90.65,1146.62 101.54,1146.62 101.54,1144.45 108.07,1144.45 108.07,1142.27 114.6,1142.27 114.6,1139 121.13,1139 121.13,1134.65 123.3,1134.65 123.3,1132.47 129.83,1132.47 129.83,1127.03 134.19,1127.03 134.19,1123.77 140.72,1123.77 140.72,1122.68 145.07,1122.68 145.07,1119.41 147.25,1119.41 147.25,1116.15 151.6,1116.15 151.6,1113.97 160.31,1113.97 160.31,1112.88 176.63,1112.88 176.63,1110.27 179.9,1110.27 179.9,1109.18 208.2,1109.18" fill="none" stroke="#e63d80" stroke-width="0.85" />
<polyline points="66.27,1207.57 66.27,1207.57 69.97,1207.57 69.97,1202.13 71.06,1202.13 71.06,1190.16 74.33,1190.16 74.33,1184.72 76.5,1184.72 76.5,1179.27 78.68,1179.27 78.68,1171.66 83.03,1171.66 83.03,1169.48 86.3,1169.48 86.3,1169.48 92.83,1169.48 92.83,1165.13 93.92,1165.13 93.92,1162.95 97.18,1162.95 97.18,1158.6 98.27,1158.6 98.27,1157.51 108.07,1157.51 108.07,1153.15 109.15,1153.15 109.15,1152.07 120.04,1152.07 120.04,1145.54 122.21,1145.54 122.21,1140.09 123.3,1140.09 123.3,1140.09 135.27,1140.09 135.27,1134.65 137.45,1134.65 137.45,1130.3 139.63,1130.3 139.63,1129.21 147.25,1129.21 147.25,1123.77 148.34,1123.77 148.34,1117.24 151.6,1117.24 151.6,1115.06 154.87,1115.06 154.87,1114.63 162.48,1114.63 162.48,1108.53 163.57,1108.53 163.57,1108.53 177.72,1108.53 177.72,1109.18 208.2,1109.18" fill="none" stroke="#2fb5bd" stroke-width="0.85" />
<rect x="60.8" y="1105.3" width="153.8" height="106.2" fill="none" stroke="#8a8a8a" stroke-width="0.75" />
<line x1="66.2" y1="1211.5" x2="66.2" y2="1214.5" stroke="#666" stroke-width="0.5" />
<text transform="translate(66.2,1218.9) scale(1.4,1)" font-size="4.3" text-anchor="middle" fill="#222" stroke="#222" stroke-width="0.04" >0.0</text>
<line x1="60.8" y1="1207.5" x2="57.8" y2="1207.5" stroke="#666" stroke-width="0.5" />
<text transform="translate(54,1207.5) scale(1.4,1) rotate(-90)" font-size="4.2" text-anchor="middle" fill="#222" stroke="#222" stroke-width="0.04" >0.0</text>
<line x1="94.6" y1="1211.5" x2="94.6" y2="1214.5" stroke="#666" stroke-width="0.5" />
<text transform="translate(94.6,1218.9) scale(1.4,1)" font-size="4.3" text-anchor="middle" fill="#222" stroke="#222" stroke-width="0.04" >0.2</text>
<line x1="60.8" y1="1187.86" x2="57.8" y2="1187.86" stroke="#666" stroke-width="0.5" />
<text transform="translate(54,1187.86) scale(1.4,1) rotate(-90)" font-size="4.2" text-anchor="middle" fill="#222" stroke="#222" stroke-width="0.04" >0.2</text>
<line x1="123" y1="1211.5" x2="123" y2="1214.5" stroke="#666" stroke-width="0.5" />
<text transform="translate(123,1218.9) scale(1.4,1)" font-size="4.3" text-anchor="middle" fill="#222" stroke="#222" stroke-width="0.04" >0.4</text>
<line x1="60.8" y1="1168.22" x2="57.8" y2="1168.22" stroke="#666" stroke-width="0.5" />
<text transform="translate(54,1168.22) scale(1.4,1) rotate(-90)" font-size="4.2" text-anchor="middle" fill="#222" stroke="#222" stroke-width="0.04" >0.4</text>
<line x1="151.4" y1="1211.5" x2="151.4" y2="1214.5" stroke="#666" stroke-width="0.5" />
<text transform="translate(151.4,1218.9) scale(1.4,1)" font-size="4.3" text-anchor="middle" fill="#222" stroke="#222" stroke-width="0.04" >0.6</text>
<line x1="60.8" y1="1148.58" x2="57.8" y2="1148.58" stroke="#666" stroke-width="0.5" />
<text transform="translate(54,1148.58) scale(1.4,1) rotate(-90)" font-size="4.2" text-anchor="middle" fill="#222" stroke="#222" stroke-width="0.04" >0.6</text>
<line x1="179.8" y1="1211.5" x2="179.8" y2="1214.5" stroke="#666" stroke-width="0.5" />
<text transform="translate(179.8,1218.9) scale(1.4,1)" font-size="4.3" text-anchor="middle" fill="#222" stroke="#222" stroke-width="0.04" >0.8</text>
<line x1="60.8" y1="1128.94" x2="57.8" y2="1128.94" stroke="#666" stroke-width="0.5" />
<text transform="translate(54,1128.94) scale(1.4,1) rotate(-90)" font-size="4.2" text-anchor="middle" fill="#222" stroke="#222" stroke-width="0.04" >0.8</text>
<line x1="208.2" y1="1211.5" x2="208.2" y2="1214.5" stroke="#666" stroke-width="0.5" />
<text transform="translate(208.2,1218.9) scale(1.4,1)" font-size="4.3" text-anchor="middle" fill="#222" stroke="#222" stroke-width="0.04" >1.0</text>
<line x1="60.8" y1="1109.3" x2="57.8" y2="1109.3" stroke="#666" stroke-width="0.5" />
<text transform="translate(54,1109.3) scale(1.4,1) rotate(-90)" font-size="4.2" text-anchor="middle" fill="#222" stroke="#222" stroke-width="0.04" >1.0</text>
<text transform="translate(137.2,1227.9)" font-size="4.4" text-anchor="middle" fill="#222" stroke="#222" stroke-width="0.06"  textLength="44.8" lengthAdjust="spacingAndGlyphs">False positive rate</text>
<text transform="translate(42.1,1158.4) scale(1.2,1) rotate(-90)" font-size="4.4" text-anchor="middle" fill="#222" stroke="#222" stroke-width="0.05"  textLength="31" lengthAdjust="spacingAndGlyphs">True positive rate</text>
<text x="97.8" y="1098.8" font-size="5.6" font-weight="bold" fill="#111" textLength="79.4" lengthAdjust="spacingAndGlyphs">ROC curve of Train cohort</text>
<line x1="134.2" y1="1182.1" x2="143" y2="1182.1" stroke="#2fb5bd" stroke-width="0.8" />
<text transform="translate(147.2,1183.6)" font-size="4.3" fill="#333" stroke="#333" stroke-width="0.06"  textLength="61" lengthAdjust="spacingAndGlyphs">AUC of 1 year( AUC= 0.703 )</text>
<line x1="134.2" y1="1186.2" x2="143" y2="1186.2" stroke="#e63d80" stroke-width="0.8" />
<text transform="translate(147.2,1187.7)" font-size="4.3" fill="#333" stroke="#333" stroke-width="0.06"  textLength="61" lengthAdjust="spacingAndGlyphs">AUC of 3 year( AUC= 0.76 )</text>
<line x1="134.2" y1="1190.2" x2="143" y2="1190.2" stroke="#e2b4bc" stroke-width="0.8" />
<text transform="translate(147.2,1191.7)" font-size="4.3" fill="#333" stroke="#333" stroke-width="0.06"  textLength="61" lengthAdjust="spacingAndGlyphs">AUC of 5 year( AUC= 0.836 )</text>
<line x1="314.4" y1="1212.5" x2="454.1" y2="1114.3" stroke="#d0d0d0" stroke-width="0.6" />
<polyline points="314.14,1210.05 314.14,1208.31 318.06,1208.31 318.06,1205.04 322.41,1205.04 322.41,1197.42 326.77,1197.42 326.77,1193.07 331.12,1193.07 331.12,1184.36 335.47,1184.36 335.47,1175.66 339.83,1175.66 339.83,1171.3 344.18,1171.3 344.18,1164.77 348.54,1164.77 348.54,1163.68 350.71,1163.68 350.71,1162.6 355.07,1162.6 355.07,1149.54 361.6,1149.54 361.6,1149.54 368.13,1149.54 368.13,1144.09 374.66,1144.09 374.66,1138.65 379.01,1138.65 379.01,1136.47 387.72,1136.47 387.72,1135.39 396.42,1135.39 396.42,1129.94 398.6,1129.94 398.6,1125.59 407.31,1125.59 407.31,1123.41 416.01,1123.41 416.01,1122.33 426.9,1122.33 426.9,1120.15 439.96,1120.15 439.96,1114.71 454.11,1114.71" fill="none" stroke="#e2b4bc" stroke-width="0.85" />
<polyline points="314.14,1209.4 314.14,1207.22 316.97,1207.22 316.97,1202.87 319.15,1202.87 319.15,1195.25 321.33,1195.25 321.33,1191.98 324.59,1191.98 324.59,1189.8 326.77,1189.8 326.77,1186.54 328.94,1186.54 328.94,1183.27 332.21,1183.27 332.21,1180.01 335.47,1180.01 335.47,1175.66 338.74,1175.66 338.74,1171.3 344.18,1171.3 344.18,1166.95 348.54,1166.95 348.54,1163.68 352.89,1163.68 352.89,1159.33 357.24,1159.33 357.24,1156.07 361.6,1156.07 361.6,1150.62 365.95,1150.62 365.95,1147.36 370.3,1147.36 370.3,1144.09 373.57,1144.09 373.57,1143 376.83,1143 376.83,1143 380.1,1143 380.1,1140.83 387.72,1140.83 387.72,1138.22 396.42,1138.22 396.42,1137.56 411.66,1137.56 411.66,1132.12 413.84,1132.12 413.84,1127.77 418.19,1127.77 418.19,1125.59 424.72,1125.59 424.72,1122.33 431.25,1122.33 431.25,1120.8 442.14,1120.8 442.14,1117.97 447.58,1117.97 447.58,1115.8 454.11,1115.8" fill="none" stroke="#e63d80" stroke-width="0.85" />
<polyline points="314.14,1212.23 314.14,1212.23 321.33,1212.23 321.33,1201.78 321.33,1201.78 321.33,1201.78 325.68,1201.78 325.68,1199.6 325.68,1199.6 325.68,1199.6 330.03,1199.6 330.03,1195.25 331.12,1195.25 331.12,1191.98 333.3,1191.98 333.3,1188.72 334.39,1188.72 334.39,1183.27 335.47,1183.27 335.47,1181.1 339.83,1181.1 339.83,1181.1 344.18,1181.1 344.18,1174.57 345.27,1174.57 345.27,1174.57 369.21,1174.57 369.21,1159.33 370.3,1159.33 370.3,1152.8 372.48,1152.8 372.48,1147.36 374.66,1147.36 374.66,1136.47 376.83,1136.47 376.83,1127.77 380.1,1127.77 380.1,1127.77 392.07,1127.77 392.07,1118.63 393.16,1118.63 393.16,1117.97 400.78,1117.97 400.78,1120.15 424.72,1120.15 424.72,1119.06 437.78,1119.06 437.78,1114.27 438.87,1114.27 438.87,1114.71 454.11,1114.71" fill="none" stroke="#2fb5bd" stroke-width="0.85" />
<rect x="309.3" y="1110.5" width="150.7" height="106" fill="none" stroke="#8a8a8a" stroke-width="0.75" />
<line x1="314.4" y1="1216.5" x2="314.4" y2="1219.5" stroke="#666" stroke-width="0.5" />
<text transform="translate(314.4,1223.9) scale(1.4,1)" font-size="4.3" text-anchor="middle" fill="#222" stroke="#222" stroke-width="0.04" >0.0</text>
<line x1="309.3" y1="1212.5" x2="306.3" y2="1212.5" stroke="#666" stroke-width="0.5" />
<text transform="translate(302.5,1212.5) scale(1.4,1) rotate(-90)" font-size="4.2" text-anchor="middle" fill="#222" stroke="#222" stroke-width="0.04" >0.0</text>
<line x1="342.34" y1="1216.5" x2="342.34" y2="1219.5" stroke="#666" stroke-width="0.5" />
<text transform="translate(342.34,1223.9) scale(1.4,1)" font-size="4.3" text-anchor="middle" fill="#222" stroke="#222" stroke-width="0.04" >0.2</text>
<line x1="309.3" y1="1192.86" x2="306.3" y2="1192.86" stroke="#666" stroke-width="0.5" />
<text transform="translate(302.5,1192.86) scale(1.4,1) rotate(-90)" font-size="4.2" text-anchor="middle" fill="#222" stroke="#222" stroke-width="0.04" >0.2</text>
<line x1="370.28" y1="1216.5" x2="370.28" y2="1219.5" stroke="#666" stroke-width="0.5" />
<text transform="translate(370.28,1223.9) scale(1.4,1)" font-size="4.3" text-anchor="middle" fill="#222" stroke="#222" stroke-width="0.04" >0.4</text>
<line x1="309.3" y1="1173.22" x2="306.3" y2="1173.22" stroke="#666" stroke-width="0.5" />
<text transform="translate(302.5,1173.22) scale(1.4,1) rotate(-90)" font-size="4.2" text-anchor="middle" fill="#222" stroke="#222" stroke-width="0.04" >0.4</text>
<line x1="398.22" y1="1216.5" x2="398.22" y2="1219.5" stroke="#666" stroke-width="0.5" />
<text transform="translate(398.22,1223.9) scale(1.4,1)" font-size="4.3" text-anchor="middle" fill="#222" stroke="#222" stroke-width="0.04" >0.6</text>
<line x1="309.3" y1="1153.58" x2="306.3" y2="1153.58" stroke="#666" stroke-width="0.5" />
<text transform="translate(302.5,1153.58) scale(1.4,1) rotate(-90)" font-size="4.2" text-anchor="middle" fill="#222" stroke="#222" stroke-width="0.04" >0.6</text>
<line x1="426.16" y1="1216.5" x2="426.16" y2="1219.5" stroke="#666" stroke-width="0.5" />
<text transform="translate(426.16,1223.9) scale(1.4,1)" font-size="4.3" text-anchor="middle" fill="#222" stroke="#222" stroke-width="0.04" >0.8</text>
<line x1="309.3" y1="1133.94" x2="306.3" y2="1133.94" stroke="#666" stroke-width="0.5" />
<text transform="translate(302.5,1133.94) scale(1.4,1) rotate(-90)" font-size="4.2" text-anchor="middle" fill="#222" stroke="#222" stroke-width="0.04" >0.8</text>
<line x1="454.1" y1="1216.5" x2="454.1" y2="1219.5" stroke="#666" stroke-width="0.5" />
<text transform="translate(454.1,1223.9) scale(1.4,1)" font-size="4.3" text-anchor="middle" fill="#222" stroke="#222" stroke-width="0.04" >1.0</text>
<line x1="309.3" y1="1114.3" x2="306.3" y2="1114.3" stroke="#666" stroke-width="0.5" />
<text transform="translate(302.5,1114.3) scale(1.4,1) rotate(-90)" font-size="4.2" text-anchor="middle" fill="#222" stroke="#222" stroke-width="0.04" >1.0</text>
<text transform="translate(384.15,1232.9)" font-size="4.4" text-anchor="middle" fill="#222" stroke="#222" stroke-width="0.06"  textLength="43.6" lengthAdjust="spacingAndGlyphs">False positive rate</text>
<text transform="translate(290.6,1163.5) scale(1.2,1) rotate(-90)" font-size="4.4" text-anchor="middle" fill="#222" stroke="#222" stroke-width="0.05"  textLength="33" lengthAdjust="spacingAndGlyphs">True positive rate</text>
<text x="347" y="1103.8" font-size="5.6" font-weight="bold" fill="#111" textLength="74.8" lengthAdjust="spacingAndGlyphs">ROC curve of Test cohort</text>
<line x1="381.2" y1="1187.2" x2="389.9" y2="1187.2" stroke="#2fb5bd" stroke-width="0.8" />
<text transform="translate(394.2,1188.7)" font-size="4.3" fill="#333" stroke="#333" stroke-width="0.06"  textLength="61" lengthAdjust="spacingAndGlyphs">AUC of 1 year( AUC= 0.652 )</text>
<line x1="381.2" y1="1191.3" x2="389.9" y2="1191.3" stroke="#e63d80" stroke-width="0.8" />
<text transform="translate(394.2,1192.8)" font-size="4.3" fill="#333" stroke="#333" stroke-width="0.06"  textLength="61" lengthAdjust="spacingAndGlyphs">AUC of 3 year( AUC= 0.636 )</text>
<line x1="381.2" y1="1195.2" x2="389.9" y2="1195.2" stroke="#e2b4bc" stroke-width="0.8" />
<text transform="translate(394.2,1196.7)" font-size="4.3" fill="#333" stroke="#333" stroke-width="0.06"  textLength="61" lengthAdjust="spacingAndGlyphs">AUC of 5 year( AUC= 0.657 )</text>
<line x1="558.7" y1="1216.7" x2="698.7" y2="1113.7" stroke="#d0d0d0" stroke-width="0.6" />
<polyline points="558.71,1216.01 558.71,1216.01 564.15,1216.01 564.15,1186.63 564.15,1186.63 564.15,1186.63 566.33,1186.63 566.33,1186.63 576.12,1186.63 576.12,1170.3 577.21,1170.3 577.21,1169.21 580.47,1169.21 580.47,1162.68 582.65,1162.68 582.65,1156.15 589.18,1156.15 589.18,1150.71 595.71,1150.71 595.71,1147.45 597.89,1147.45 597.89,1146.36 606.6,1146.36 606.6,1138.74 614.21,1138.74 614.21,1137.65 626.19,1137.65 626.19,1131.12 637.07,1131.12 637.07,1126.77 641.42,1126.77 641.42,1120.24 652.31,1120.24 652.31,1118.06 676.25,1118.06 676.25,1113.71 698.67,1113.71" fill="none" stroke="#e2b4bc" stroke-width="0.85" />
<polyline points="558.71,1216.01 558.71,1217.1 568.5,1217.1 568.5,1210.57 568.5,1210.57 568.5,1206.22 571.77,1206.22 571.77,1187.72 572.86,1187.72 572.86,1187.72 588.09,1187.72 588.09,1181.19 589.18,1181.19 589.18,1174.66 591.36,1174.66 591.36,1170.3 594.62,1170.3 594.62,1165.95 596.8,1165.95 596.8,1157.24 598.98,1157.24 598.98,1155.07 602.24,1155.07 602.24,1149.62 605.51,1149.62 605.51,1147.45 614.21,1147.45 614.21,1144.18 615.3,1144.18 615.3,1142 621.83,1142 621.83,1139.83 626.19,1139.83 626.19,1135.47 641.42,1135.47 641.42,1130.03 650.13,1130.03 650.13,1125.68 656.66,1125.68 656.66,1123.5 663.19,1123.5 663.19,1119.15 674.07,1119.15 674.07,1116.97 691.49,1116.97 691.49,1113.71 698.67,1113.71" fill="none" stroke="#e63d80" stroke-width="0.85" />
<polyline points="558.71,1216.01 558.71,1216.01 564.15,1216.01 564.15,1206.22 565.24,1206.22 565.24,1196.42 566.33,1196.42 566.33,1196.42 569.59,1196.42 569.59,1187.72 570.68,1187.72 570.68,1175.74 572.86,1175.74 572.86,1175.74 576.12,1175.74 576.12,1165.95 577.21,1165.95 577.21,1161.6 579.39,1161.6 579.39,1155.07 579.39,1155.07 579.39,1155.07 590.27,1155.07 590.27,1155.07 604.42,1155.07 604.42,1145.27 606.6,1145.27 606.6,1144.18 612.04,1144.18 612.04,1134.39 620.74,1134.39 620.74,1134.39 629.45,1134.39 629.45,1124.16 629.45,1124.16 629.45,1122.41 645.78,1122.41 645.78,1123.5 674.07,1123.5 674.07,1113.27 674.07,1113.27 674.07,1113.71 698.67,1113.71" fill="none" stroke="#2fb5bd" stroke-width="0.85" />
<rect x="553.6" y="1109" width="150.9" height="112.1" fill="none" stroke="#8a8a8a" stroke-width="0.75" />
<line x1="558.7" y1="1221.1" x2="558.7" y2="1224.1" stroke="#666" stroke-width="0.5" />
<text transform="translate(558.7,1228.5) scale(1.4,1)" font-size="4.3" text-anchor="middle" fill="#222" stroke="#222" stroke-width="0.04" >0.0</text>
<line x1="553.6" y1="1216.7" x2="550.6" y2="1216.7" stroke="#666" stroke-width="0.5" />
<text transform="translate(546.8,1216.7) scale(1.4,1) rotate(-90)" font-size="4.2" text-anchor="middle" fill="#222" stroke="#222" stroke-width="0.04" >0.0</text>
<line x1="586.7" y1="1221.1" x2="586.7" y2="1224.1" stroke="#666" stroke-width="0.5" />
<text transform="translate(586.7,1228.5) scale(1.4,1)" font-size="4.3" text-anchor="middle" fill="#222" stroke="#222" stroke-width="0.04" >0.2</text>
<line x1="553.6" y1="1196.1" x2="550.6" y2="1196.1" stroke="#666" stroke-width="0.5" />
<text transform="translate(546.8,1196.1) scale(1.4,1) rotate(-90)" font-size="4.2" text-anchor="middle" fill="#222" stroke="#222" stroke-width="0.04" >0.2</text>
<line x1="614.7" y1="1221.1" x2="614.7" y2="1224.1" stroke="#666" stroke-width="0.5" />
<text transform="translate(614.7,1228.5) scale(1.4,1)" font-size="4.3" text-anchor="middle" fill="#222" stroke="#222" stroke-width="0.04" >0.4</text>
<line x1="553.6" y1="1175.5" x2="550.6" y2="1175.5" stroke="#666" stroke-width="0.5" />
<text transform="translate(546.8,1175.5) scale(1.4,1) rotate(-90)" font-size="4.2" text-anchor="middle" fill="#222" stroke="#222" stroke-width="0.04" >0.4</text>
<line x1="642.7" y1="1221.1" x2="642.7" y2="1224.1" stroke="#666" stroke-width="0.5" />
<text transform="translate(642.7,1228.5) scale(1.4,1)" font-size="4.3" text-anchor="middle" fill="#222" stroke="#222" stroke-width="0.04" >0.6</text>
<line x1="553.6" y1="1154.9" x2="550.6" y2="1154.9" stroke="#666" stroke-width="0.5" />
<text transform="translate(546.8,1154.9) scale(1.4,1) rotate(-90)" font-size="4.2" text-anchor="middle" fill="#222" stroke="#222" stroke-width="0.04" >0.6</text>
<line x1="670.7" y1="1221.1" x2="670.7" y2="1224.1" stroke="#666" stroke-width="0.5" />
<text transform="translate(670.7,1228.5) scale(1.4,1)" font-size="4.3" text-anchor="middle" fill="#222" stroke="#222" stroke-width="0.04" >0.8</text>
<line x1="553.6" y1="1134.3" x2="550.6" y2="1134.3" stroke="#666" stroke-width="0.5" />
<text transform="translate(546.8,1134.3) scale(1.4,1) rotate(-90)" font-size="4.2" text-anchor="middle" fill="#222" stroke="#222" stroke-width="0.04" >0.8</text>
<line x1="698.7" y1="1221.1" x2="698.7" y2="1224.1" stroke="#666" stroke-width="0.5" />
<text transform="translate(698.7,1228.5) scale(1.4,1)" font-size="4.3" text-anchor="middle" fill="#222" stroke="#222" stroke-width="0.04" >1.0</text>
<line x1="553.6" y1="1113.7" x2="550.6" y2="1113.7" stroke="#666" stroke-width="0.5" />
<text transform="translate(546.8,1113.7) scale(1.4,1) rotate(-90)" font-size="4.2" text-anchor="middle" fill="#222" stroke="#222" stroke-width="0.04" >1.0</text>
<text transform="translate(628.55,1237.5)" font-size="5.2" text-anchor="middle" fill="#222" stroke="#222" stroke-width="0.08"  textLength="54.5" lengthAdjust="spacingAndGlyphs">False positive rate</text>
<text transform="translate(534.9,1165.05) scale(1.2,1) rotate(-90)" font-size="4.4" text-anchor="middle" fill="#222" stroke="#222" stroke-width="0.05"  textLength="32.3" lengthAdjust="spacingAndGlyphs">True positive rate</text>
<text x="583" y="1101.5" font-size="5.6" font-weight="bold" fill="#111" textLength="91.5" lengthAdjust="spacingAndGlyphs">ROC curve of Validation cohort</text>
<line x1="626.2" y1="1190.3" x2="634.9" y2="1190.3" stroke="#2fb5bd" stroke-width="0.8" />
<text transform="translate(637.5,1191.8)" font-size="4.3" fill="#333" stroke="#333" stroke-width="0.06"  textLength="61" lengthAdjust="spacingAndGlyphs">AUC of 1 year( AUC= 0.732 )</text>
<line x1="626.2" y1="1194.2" x2="634.9" y2="1194.2" stroke="#e63d80" stroke-width="0.8" />
<text transform="translate(637.5,1195.7)" font-size="4.3" fill="#333" stroke="#333" stroke-width="0.06"  textLength="61" lengthAdjust="spacingAndGlyphs">AUC of 3 year( AUC= 0.648 )</text>
<line x1="626.2" y1="1198.6" x2="634.9" y2="1198.6" stroke="#e2b4bc" stroke-width="0.8" />
<text transform="translate(637.5,1200.1)" font-size="4.3" fill="#333" stroke="#333" stroke-width="0.06"  textLength="61" lengthAdjust="spacingAndGlyphs">AUC of 5 year( AUC= 0.72 )</text>
</svg></body></html>
